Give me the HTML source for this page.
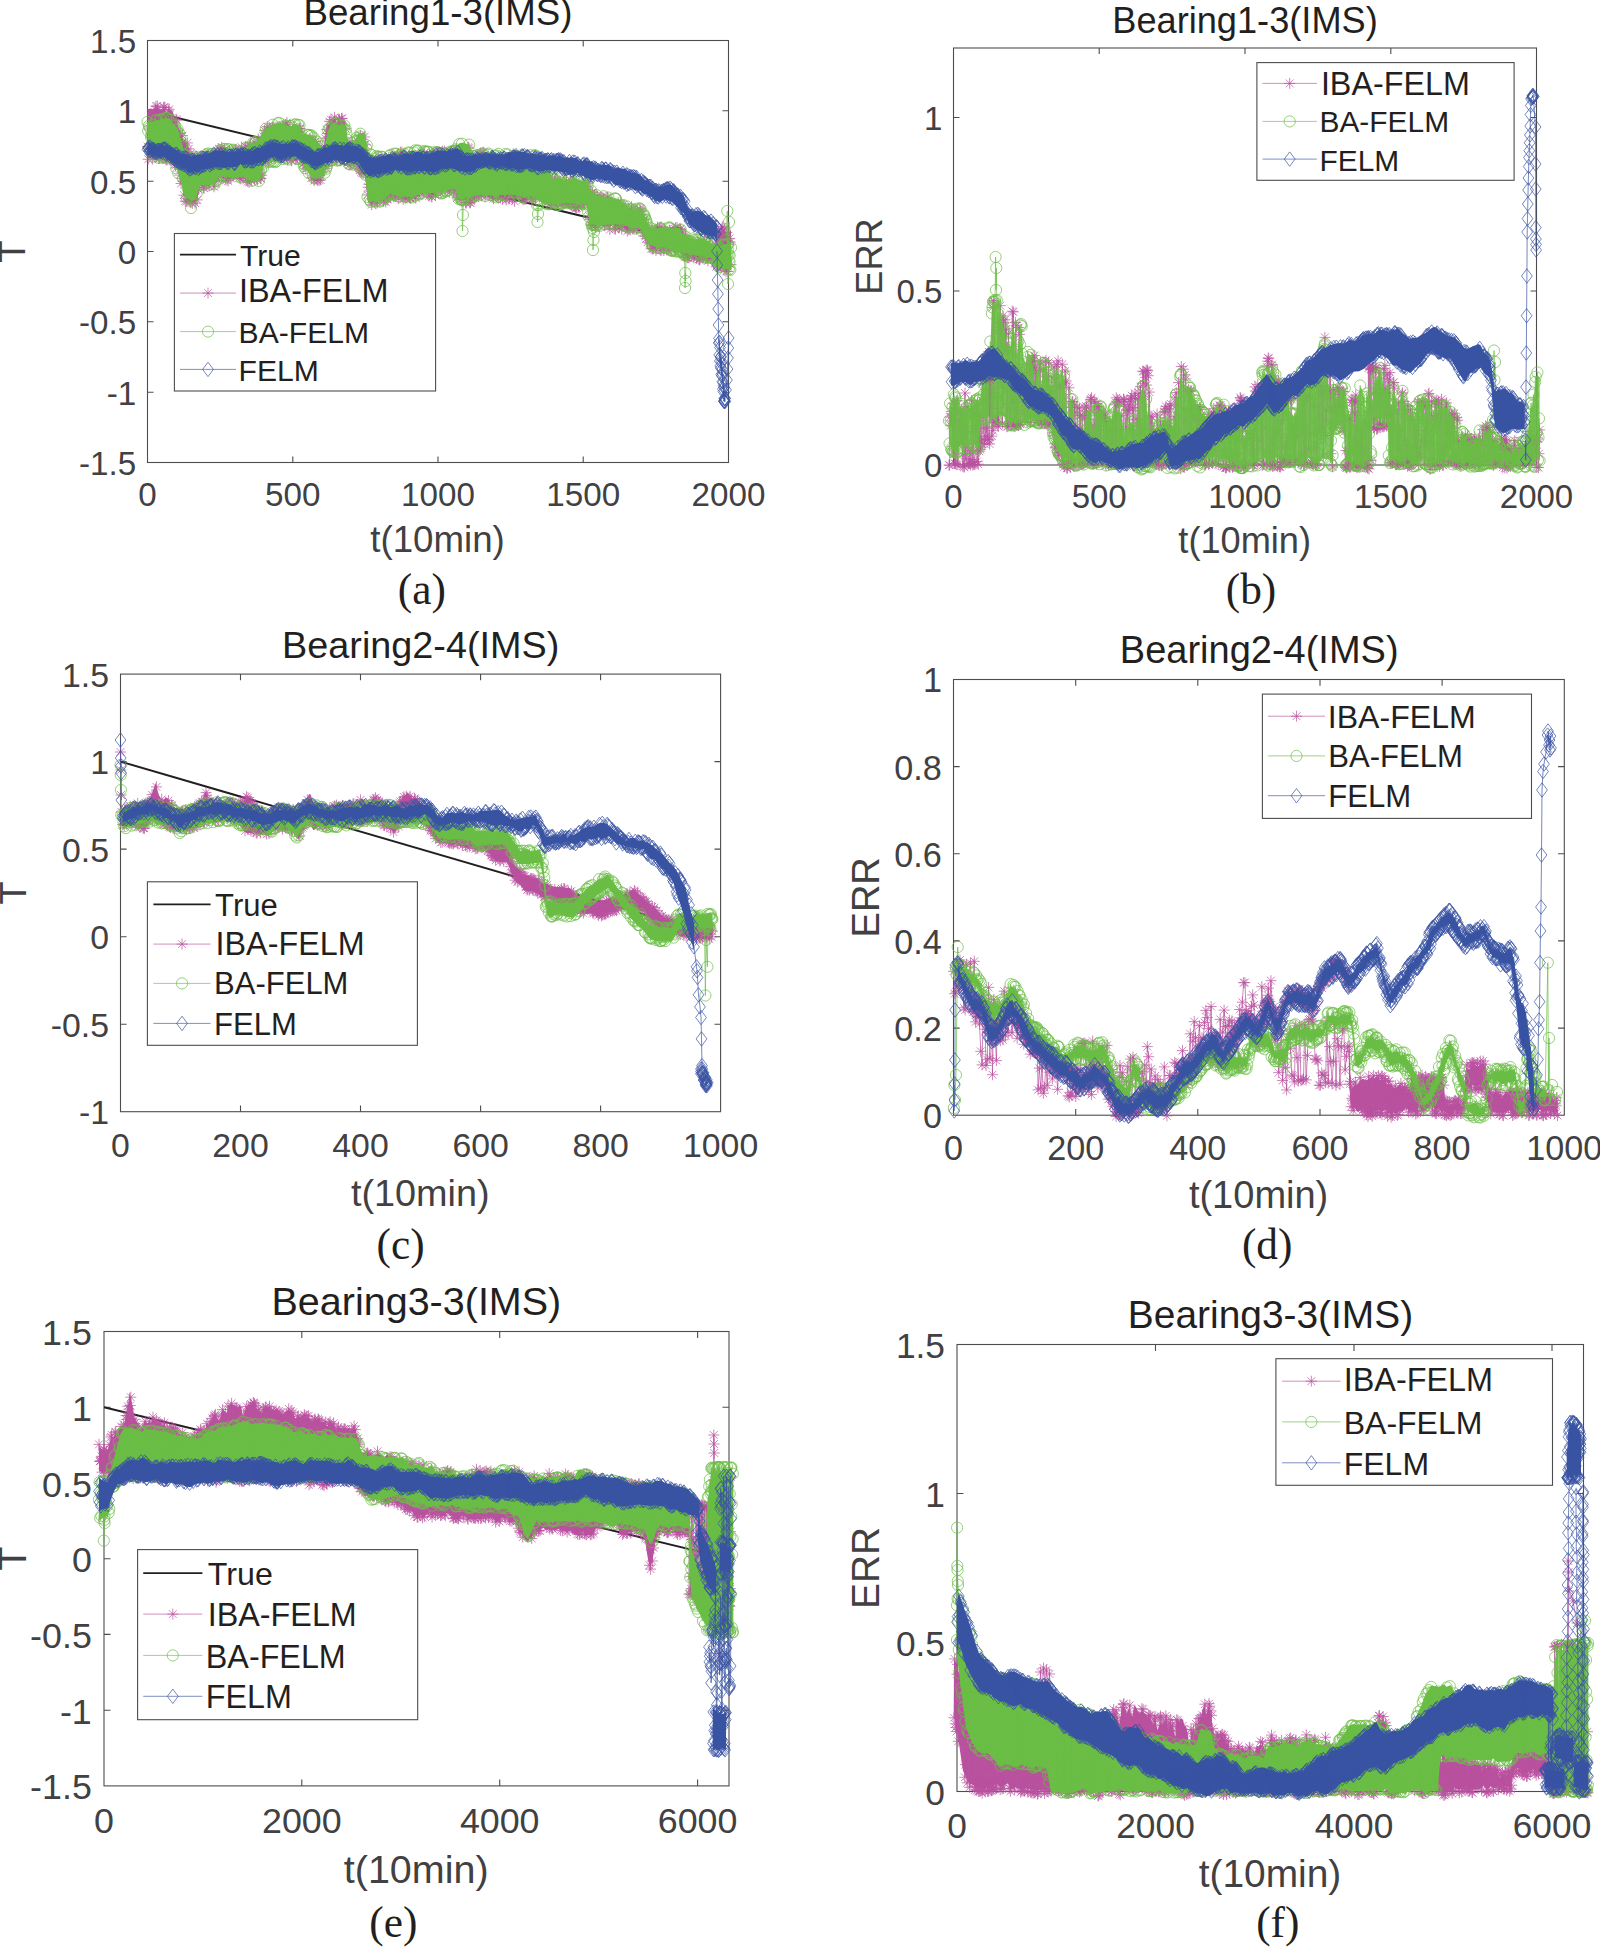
<!DOCTYPE html>
<html lang="en"><head><meta charset="utf-8"><title>Bearing RUL prediction (IMS)</title>
<style>html,body{margin:0;padding:0;background:#fff}body{width:1600px;height:1947px;overflow:hidden}svg{display:block}.a,.c,.d{fill:none;stroke-width:.7;stroke-linejoin:round}.a{stroke:#B9529F;marker:url(#mast)}.c{stroke:#6ABD45;marker:url(#mcirc)}.d{stroke:#3953A4;marker:url(#mdia)}</style></head><body>
<svg width="1600" height="1947" viewBox="0 0 1600 1947">
<defs>
<g id="ast" fill="none" stroke-width="0.7"><path d="M0 -5.5V5.5M-5.5 0H5.5M-3.9 -3.9L3.9 3.9M-3.9 3.9L3.9 -3.9"/></g>
<g id="circ" fill="none" stroke-width="0.7"><circle r="5.6"/></g>
<g id="dia" fill="none" stroke-width="0.7"><path d="M0 -7.2L5.4 0L0 7.2L-5.4 0Z"/></g>
<marker id="mast" markerUnits="userSpaceOnUse" markerWidth="20" markerHeight="20" refX="0" refY="0" viewBox="-10 -10 20 20" overflow="visible"><use href="#ast" stroke="#B9529F"/></marker>
<marker id="mcirc" markerUnits="userSpaceOnUse" markerWidth="20" markerHeight="20" refX="0" refY="0" viewBox="-10 -10 20 20" overflow="visible"><use href="#circ" stroke="#6ABD45"/></marker>
<marker id="mdia" markerUnits="userSpaceOnUse" markerWidth="20" markerHeight="20" refX="0" refY="0" viewBox="-10 -10 20 20" overflow="visible"><use href="#dia" stroke="#3953A4"/></marker>
</defs>
<rect width="1600" height="1947" fill="#fff"/>
<g id="panel-a">
<rect x="147.5" y="40.5" width="581.0" height="422.0" fill="none" stroke="#4d4d4f" stroke-width="1.1"/>
<path d="M292.8 462.5v-6.0M292.8 40.5v6.0M438.0 462.5v-6.0M438.0 40.5v6.0M583.2 462.5v-6.0M583.2 40.5v6.0M147.5 110.8h6.0M728.5 110.8h-6.0M147.5 181.2h6.0M728.5 181.2h-6.0M147.5 251.5h6.0M728.5 251.5h-6.0M147.5 321.8h6.0M728.5 321.8h-6.0M147.5 392.2h6.0M728.5 392.2h-6.0" stroke="#4d4d4f" stroke-width="1.1" fill="none"/>
<path d="M147.5 110.8L726 250.9" stroke="#231F20" stroke-width="2" fill="none"/>
<path d="M147.5 109l1.4 0 1.4-.5 1.4 .3 1.4 .6 1.4-.7 1.4-.4 1.4-.7 1.4 .4 1.4 1.2 1.4 0 1.4-.2 1.4 0 1.4 2.9 1.4 .7 1.4-1.5 1.4-.6 1.4-.6 1.4 1.9 1.4 4.1 1.4 3.2 1.4 3.6 1.4 4.5 1.4 2.8 1.4 3.4 1.4 4.4 1.4 2.6 1.4-1 1.4 3.4 1.4 3.1 1.4 5.6 1.4 3.8 1.4 4.2 1.4 2.6 1.4-.5 1.4 .2 1.4-.4 1.4-.9 1.4-1 1.4-.9 1.4-2.8 1.4-.5 1.4 .7 1.4 2.7 1.4 1.2 1.4-2.4 1.4-.7 1.4 .6 1.4 .9 1.4-2.2 1.4-3.6 1.4-2.6 1.4-.8 1.5 .4 1.4 .6 1.4 1.8 1.4 .3 1.4-.6 1.4 1.2 1.4-.2 1.4 .3 1.4-.8 1.4-.4 1.4-.1 1.4-1.6 1.4 .2 1.4 1.5 1.4-2.5 1.4-.8 1.4-.1 1.4 .2 1.4 .5 1.4-.5 1.4-.8 1.4-.9 1.4-.9 1.4-1.6 1.4-1.3 1.4-1.2 1.4-1.1 1.4-1 1.4-1.6 1.4-1.9 1.4-2.4 1.4-2.3 1.4-2.1 1.4-1.6 1.4 1.8 1.4 .6 1.4-.7 1.4-.3 1.4 .2 1.4 .1 1.4-1.6 1.4-2.3 1.4 1.2 1.4 2.2 1.4-1.4 1.4-.5 1.4-1.7 1.4-1.6 1.4 1 1.4 2.6 1.4 1.7 1.4 .7 1.4-2.3 1.4 .2 1.4 1.9 1.4 1.4 1.4-.4 1.4 5 1.4 1.5 1.4-.1 1.4 1.3 1.4 1.1 1.4 .9 1.4 1 1.4 .3 1.4-.5 1.4 1.1 1.4 1.8 1.4 .2 1.4 1.4 1.4 2.1 1.4 2.6 1.4-.5 1.4-1.3 1.4-12.4 1.4-10.3 1.4-1.8 1.4-.1 1.4-2 1.4-2.1 1.4-.5 1.4 0 1.4 3.2 1.4 .6 1.4-1.2 1.4-.7 1.4-.7 1.4 .7 1.4 .6 1.4 11.7 1.4 10.3 1.4-.5 1.4 1.3 1.4 1.7 1.4 .7 1.4-.5 1.4-.7 1.4-6.4 1.4-1.6 1.4-1.1 1.4-.2 1.4 2.1 1.4 .5 1.4 6.7 1.5 8.5 1.4 3.7 1.4 1.7 1.4 3.9 1.4-.1 1.4-2.1 1.4-1.3 1.4-2.2 1.4-.2 1.4 1.1 1.4 .1 1.4 2.6 1.4-.1 1.4-.4 1.4-.5 1.4 .5 1.4-.9 1.4-.2 1.4-1.5 1.4-1.3 1.4 1.8 1.4-.6 1.4-2.6 1.4-1.1 1.4-.2 1.4 .5 1.4 2.2 1.4 1.2 1.4-.8 1.4-.2 1.4 1 1.4 .6 1.4 0 1.4-1.9 1.4-.9 1.4-.9 1.4 1.2 1.4 .8 1.4-1.1 1.4-2.4 1.4 .3 1.4 1.1 1.4-.8 1.4 0 1.4 2.1 1.4 .3 1.4-.3 1.4-.8 1.4-.9 1.4-.7 1.4 .4 1.4 .3 1.4-.1 1.4-.6 1.4-.7 1.4-1.8 1.4-.5 1.4 1.7 1.4 3.3 1.4 1.8 1.4 .9 1.4-.5 1.4-1.9 1.4-4.3 1.4-3 1.4-1.9 1.4 2.8 1.4 2.3 1.4 .7 1.4 1.7 1.4-3.1 1.4-4.2 1.4 1.9 1.4 1.7 1.4 4.7 1.4 3.6 1.4-.8 1.4-.7 1.4 .9 1.4-.2 1.4-1.5 1.4-2.1 1.4-.4 1.4 0 1.4 2.5 1.4 2.6 1.4-1.2 1.4 .8 1.4 1.2 1.4-.8 1.4 .1 1.4 0 1.4 2.9 1.4-.1 1.4-.8 1.4-.9 1.4 1.5 1.4-.1 1.4-.7 1.4-2.8 1.4 .6 1.4 .8 1.4-1.4 1.4-2.3 1.5-.8 1.4 .7 1.4 1.7 1.4 1.4 1.4 3.9 1.4 1.1 1.4-1.9 1.4-2.2 1.4-.8 1.4 .1 1.4 2.1 1.4 1.4 1.4-2.5 1.4 .3 1.4-.6 1.4-1.8 1.4-.2 1.4 1.2 1.4 1.3 1.4 2.1 1.4 .2 1.4-.3 1.4 2.7 1.4 2 1.4 1.1 1.4 1 1.4 2.8 1.4 5.6 1.4 3.2 1.4-.7 1.4 .9 1.4 .5 1.4 1.4 1.4 2 1.4-1.1 1.4-.2 1.4-.5 1.4 0 1.4 0 1.4-.6 1.4 .1 1.4-.1 1.4-1.1 1.4-.2 1.4 0 1.4-.8 1.4 1.8 1.4 1 1.4 1.6 1.4 1.4 1.4-1.3 1.4-1.9 1.4 1.4 1.4 2.7 1.4 4.5 1.4 .6 1.4 .9 1.4 1.6 1.4-.5 1.4 .5 1.4 3 1.4 .8 1.4 .4 1.4 .6 1.4 .2 1.4 2 1.4 0 1.4-2.6 1.4 1.3 1.4 2 1.4-2.1 1.4 .1 1.4 2.2 1.4-.2 1.4 .5 1.4 1.3 1.4 .8 1.4 .4 1.4 .4 1.4 2.6 1.4 .9 1.4-.7 1.4-.9 1.4-.8 1.4 1.1 1.4 1.3 1.4 1 1.4 .8 1.4 .3 1.4 0 1.4-1 1.4 1.4 1.4 4 1.4 3.6 1.4 3.5 1.4 2.9 1.4 1.3 1.4 2 1.4 1.7 1.4-.3 1.4-.9 1.4-1.3 1.4-.7 1.4 .6 1.5 .4 1.4 .8 1.4-1.6 1.4-.8 1.4 1.9 1.4 1.2 1.4 .5 1.4 .3 1.4 1.2 1.4 .3 1.4-1 1.4-1.4 1.4-.8 1.4 .2 1.4 .2 1.4 .6 1.4 2.9 1.4 3.4 1.4 .7 1.4 .3 1.4 2.1 1.4 2.1 1.4-.6 1.4-.9 1.4 1.1 1.4 .4 1.4-1.6 1.4-1.2 1.4 2.3 1.4 1.4 1.4 .5 1.4 1.7 1.4-1.2 1.4-.6 1.4 1.4 1.4 .9 1.4 .1 1.4 1.4 1.4 0 1.4 .7 1.4-4.3 1.4-6.7 1.4-2.7 1.4-1.5 1.4-1.6 1.4-1.5 1.4-.4 1.4 1.5 1.4 1.8 1.4 2.2 1.4-2.1 1.4-1.9 .7-.7 0 40.7-.7-.7-1.4-.1-1.4-.2-1.4 0-1.4-.4-1.4-2.6-1.4-2.3-1.4-.9-1.4-.8-1.4 .9-1.4 1-1.4-3.8-1.4-2.7-1.4-1-1.4-1.1-1.4 1.9-1.4 1.4-1.4-1.5-1.4-1.6-1.4-.3-1.4-.1-1.4 1-1.4 1.1-1.4-.4-1.4-.4-1.4-.3-1.4-.3-1.4-1.2-1.4-1.3-1.4 1.2-1.4 1.2-1.4-.5-1.4-.4-1.4 .4-1.4 .1-1.4-2.5-1.4-2.5-1.4-.5-1.4-.3-1.4-.2-1.4-.1-1.4-1-1.4-1.1-1.4-.2-1.4-.1-1.4 .9-1.4 .8-1.4-.3-1.4-.4-1.4-.1-1.4-.1-1.4 .1-1.5-.1-1.4 .1-1.4 .1-1.4-.8-1.4-.9-1.4-.5-1.4-2.9-1.4-3.3-1.4-2.9-1.4-3-1.4-2.9-1.4-.7-1.4-.7-1.4-2.4-1.4-1.2-1.4 1.5-1.4 1.5-1.4-.2-1.4-.7-1.4-.1-1.4 .1-1.4 .8-1.4 .7-1.4-1.2-1.4-1.1-1.4-.2-1.4-.2-1.4-.6-1.4-1-1.4 .7-1.4 .8-1.4-1.8-1.4-1.4-1.4 1.8-1.4 1.9-1.4-.5-1.4-.8-1.4-1.4-1.4-1.5-1.4-.2-1.4-.1-1.4 .3-1.4 .4-1.4 1-1.4 .9-1.4-.4-1.4-.6-1.4-1.4-1.4-1.3-1.4-8.8-1.4-9.9-1.4-1.7-1.4 1-1.4-.3-1.4-.3-1.4 1.5-1.4 1.7-1.4 .3-1.4 .2-1.4-1.2-1.4-1.5-1.4 0-1.4 .1-1.4-1.1-1.4-1.3-1.4 .9-1.4 .9-1.4-.6-1.4-.2-1.4 .6-1.4 .7-1.4 .9-1.4 .5-1.4-1.3-1.4-1.5-1.4-.3-1.4 .3-1.4 1.5-1.4 .9-1.4-2.5-1.4-2.6-1.4 .5-1.4 .7-1.4-.6-1.4-.7-1.4-.5-1.4-.6-1.4-1.1-1.4-.5-1.4 .9-1.4 .7-1.4-.6-1.4-.9-1.4 .3-1.4 .6-1.4 0-1.4 .3-1.4-.7-1.4-1-1.4 1.6-1.4 1.6-1.4 .1-1.4 .1-1.4-.9-1.5-.9-1.4 0-1.4 0-1.4 .6-1.4 .5-1.4 0-1.4-.1-1.4-1.4-1.4-.9-1.4 .3-1.4 .5-1.4 .5-1.4 .4-1.4-.9-1.4-.8-1.4 .8-1.4 .7-1.4-.6-1.4-.9-1.4-.8-1.4-.9-1.4 1.4-1.4 1.6-1.4-1.2-1.4-1.4-1.4 .5-1.4 .8-1.4-.2-1.4 .3-1.4 3.1-1.4 3.2-1.4-.2-1.4-.7-1.4-1.1-1.4-1.1-1.4-1-1.4-.8-1.4-.1-1.4-.1-1.4-1.3-1.4-2.8-1.4-2.6-1.4-.1-1.4 .4-1.4 0-1.4 1-1.4 .5-1.4-2.6-1.4-2.2-1.4 1.8-1.4 2.5-1.4-.3-1.4-.5-1.4 1.6-1.4 1.1-1.4 .8-1.4 .8-1.4-.3-1.4-.4-1.4-1-1.4-1.4-1.4-1.7-1.4-1.1-1.4 1-1.4 1.6-1.4 2.1-1.4 1.9-1.4 .4-1.4 .4-1.4-.9-1.4-1-1.4 1.2-1.4 .9-1.4-1.1-1.4-1.1-1.4 .6-1.4 1-1.4 .4-1.4 .7-1.4 .3-1.4 .2-1.4-1.7-1.4-2-1.4 .3-1.4 .6-1.4-.1-1.4-.2-1.4 .5-1.4 1.9-1.4 1.4-1.4 1.6-1.4 0-1.4-.7-1.4 1.2-1.4 1-1.4-.5-1.4-.6-1.4 .8-1.4 .9-1.4 0-1.4 .1-1.4 .6-1.4 .5-1.4-5.8-1.5-13.8-1.4-10.4-1.4-1.9-1.4-.7-1.4-1.1-1.4-3.1-1.4-3.1-1.4-2.1-1.4-.7-1.4-.4-1.4-.3-1.4 1.6-1.4 1.4-1.4 .2-1.4-1.8-1.4-4-1.4-1.7-1.4 1.7-1.4 1.4-1.4-.8-1.4-.7-1.4-1-1.4-.8-1.4 .9-1.4 .8-1.4 .8-1.4 1.1-1.4 1.4-1.4 2.1-1.4 6.3-1.4 6.1-1.4 1-1.4 .9-1.4 1.3-1.4-.2-1.4-.3-1.4-.3-1.4 1-1.4 1-1.4-1.7-1.4-2.9-1.4-2.9-1.4-3-1.4-1.8-1.4-2.3-1.4-2.9-1.4-3.1-1.4-3.8-1.4-1.3-1.4 1.3-1.4 1.7-1.4 1.3-1.4 1.1-1.4-.2-1.4-.5-1.4-.4-1.4-.5-1.4-.1-1.4-.2-1.4-.8-1.4-.9-1.4 .1-1.4 .4-1.4-.9-1.4-.9-1.4 .6-1.4 .4-1.4 0-1.4-.2-1.4 1.6-1.4 2.6-1.4 0-1.4 .6-1.4 4.2-1.4 7.5-1.4 5.3-1.4 2.8-1.4-1.5-1.4-1.5-1.4 .6-1.4 1.5-1.4-.4-1.4-.2-1.4 1.3-1.4 .8-1.4-1.2-1.4-1.8-1.4-2.3-1.4-1.5-1.4 1.7-1.4 1.3-1.4-2.4-1.4-2.4-1.4-.1-1.4 .5-1.4 1.8-1.4 1.8-1.4 1.9-1.4 1.2-1.4-.4-1.4-.5-1.4-1.2-1.4-1.2-1.4 .6-1.5 .9-1.4 .8-1.4 1.9-1.4 3.2-1.4 2.3-1.4-.8-1.4-.8-1.4 .1-1.4 .5-1.4 1.1-1.4 1.1-1.4-.1-1.4-.4-1.4 0-1.4-.2-1.4 3.4-1.4 6.5-1.4 4.7-1.4 1.3-1.4-.1-1.4-.2-1.4-.4-1.4-.1-1.4-.5-1.4-.6-1.4-.8-1.4-5.5-1.4-6-1.4-6.1-1.4-5.7-1.4-4.1-1.4-4.1-1.4-4.1-1.4-2.5-1.4-2.3-1.4-1.5-1.4 .4-1.4 .2-1.4 0-1.4-.8-1.4-.9-1.4-.7-1.4-.7-1.4 .8-1.4 .9-1.4-.8-1.4-1-1.4 1.1-1.4 1.2-1.4-.6-1.4-.5-1.4 .9-1.4 .7z" fill="#B9529F"/>
<path d="M147.5 146.5l.7 12.8 .7-7.8 .7-22.5 .7 24.3 .7-19.8 .7 20.2 .7 5.4 .7-5 .7-16.2 .7-15.9 .7-12.5 .7-3.2 .7 19.7 .7-20.1 .7 12.1 .7 40.4 .7 .1 .7-2.3 .7-5.6 .7-3.4 .7 9.2 .7-3.6 .7-45.4 .7-.3 .7 .4 .7 51.6 .7 .8 .7-8.9 .7 8.8 .7-48.9 .7-1.6 .7 50.1 .7-.7 .7-40.5 .7 40.2 .7-39 .7 10.2 .7-7.6 .7 42.2 .7 .9 .7-45.9 .7 1.1 .7 17.7 .7 29.6 .7-34.5 .7 42 .7-41.8 .7 50.2 .7-40.2 .7-7.7 .7 45.8 .7 13.8 .7-21.6 .7 27.5 .7-20.2 .7 20.7 .7-58.7 .7 31.9 .7-26 .7 15.7 .7 37.9 .7-49.3 .7 13.8 .7 36.4 .7-43.7 .7 1.5 .7 31.9 .7 10.1 .7-35.5 .7 19.8 .7 12.5 .7-20.7 .7 10.3 .7-13.9 .7-12.8 .7-.6 .7 2.1 .7 16.9 .7 .2 .7 6.5 .7 .1 .7-33.9 .7 24.8 .7 5.6 .7-29.8 .7 2.1 .7 13.9 .7 15.2 .7-28.7 .7 14.8 .7-10 .7-7.3 .7 .2 .7 16.9 .7 15 .7-30 .7-1.6 .7-.8 .7 22.8 .7-26.7 .7 30.1 .7-31.9 .7 23.4 .7-20.8 .8 19.6 .7-23.6 .7 4.5 .7 26 .7-27.4 .7 .2 .7 21.6 .7 8 .7-23.7 .7 22.3 .7 2.1 .7-11.6 .7-18.6 .7 1.1 .7 26.4 .7-11.3 .7-4.2 .7 12.7 .7-.9 .7-.2 .7-24.4 .7-.6 .7 24.3 .7 .2 .7-7.6 .7-12.6 .7 24.5 .7-18.1 .7 18.8 .7-31.8 .7 28.5 .7-21.5 .7 22.4 .7-19.2 .7 12.4 .7-22.9 .7 33.7 .7-32.8 .7 34 .7-33.6 .7 34.4 .7-37 .7 .5 .7 34.4 .7-31.3 .7 4.2 .7 15.2 .7-26.3 .7 37.9 .7-24.3 .7-7.1 .7 30.3 .7 1 .7-40.9 .7 34.2 .7-22.6 .7 27.5 .7 .6 .7-3.5 .7-32 .7-7 .7 9 .7-14.8 .7 31.5 .7-.3 .7-18.1 .7-16.9 .7 35.1 .7-1.4 .7-32.5 .7 16.5 .7-15.9 .7 29 .7-30 .7 .1 .7 13.8 .7 16.2 .7-30.2 .7 16.8 .7 12 .7-29.2 .7 29.4 .7 1.4 .7-7.1 .7-5.5 .7-6.7 .7 18.8 .7-18.5 .7-11.5 .7-1.5 .7 33.4 .7-29.2 .7-5.5 .7 7.3 .7-9.3 .7 37.5 .7-13.1 .7-.5 .7 8.4 .7-17.7 .7 23.2 .7 .5 .7-9.6 .7 4.7 .7-29.2 .7 18.5 .7 14.5 .7-16.2 .7 15 .7-.9 .7-25.8 .7-3.1 .7 .3 .7-.2 .7 15.8 .7-10.3 .7 2.1 .7 27.7 .7-17.2 .7-4 .7 3.3 .7 22.8 .7-4.1 .7-13.3 .7 8 .7 7.8 .7-28.4 .7 8.9 .7-8.6 .7 38.8 .7-33.6 .7 12.5 .7-.9 .7 24.7 .7-39.1 .7-.1 .7 37.9 .7-33 .7 34.2 .7-19.3 .7 19.1 .7-5.3 .7 4.8 .7-7.7 .7-12.1 .7 4.4 .7-13.1 .7-5.3 .7 2.7 .7-10.6 .7 30.1 .7-38.9 .7 4 .7 29.3 .7-.5 .7-40.8 .7 11.9 .7-13.6 .7 40.3 .7-1.1 .7-24.2 .7-1.2 .7-16.3 .7 25.4 .7 14.7 .7 1.5 .7-5.7 .7-25.6 .7-7.4 .7-.7 .7 40.8 .7 .6 .7-42.4 .7 0 .7 32.9 .7-3.4 .7 10.1 .7-7.3 .7-21.9 .7 15.5 .7-.5 .7-2 .7 5.1 .7 18.3 .7-4.5 .7 2.8 .7-.5 .7-13.1 .7-5 .7 3.5 .7 6.2 .7-7.1 .7-2.9 .7 18.9 .7-23 .7 5.8 .7 19.7 .7 2.2 .7 1.9 .7-34.8 .7 36.4 .7 1.3 .7-31.3 .7 31.7 .7-24.2 .7-12.2 .7 7.7 .7 14.9 .8-2.2 .7 37.5 .7-7.7 .7-2.9 .7-27.2 .7 22 .7-.7 .7 26.3 .7-18.2 .7-24.1 .7 17.5 .7 6.4 .7-20.9 .7 38.2 .7-32.4 .7 31.5 .7-5.7 .7-40.6 .7 10.8 .7 20.3 .7 8.3 .7-15.4 .7-19.4 .7 28.7 .7 11.6 .7-18.9 .7-14.9 .7 34.6 .7-43.4 .7 20.5 .7 20.4 .7-9.3 .7 4.8 .7-31.3 .7 33.6 .7-39.6 .7 32.9 .7-34.6 .7 40.5 .7-3.1 .7-37 .7 39.9 .7-10.6 .7-29.2 .7-1.5 .7 43.4 .7-32.9 .7 20.1 .7-33.6 .7 22.4 .7-22.4 .7 29.3 .7 18 .7-13.9 .7-14.3 .7 27.2 .7-42.2 .7 33.9 .7-15.9 .7 20.6 .7 2.1 .7 .8 .7 .3 .7 .4 .7-22.4 .7-3.2 .7 8.2 .7-23.8 .7 9 .7 30.1 .7 1.9 .7-34.1 .7-5 .7 6.1 .7 4.4 .7 22.3 .7-13.8 .7-23.5 .7-1.9 .7 40.9 .7-27.9 .7 25.2 .7-38 .7 13.9 .7-1.8 .7 11.7 .7 16.2 .7-24.1 .7 11.8 .7 15.4 .7-41.5 .7 27.8 .7 13.8 .7 1 .7-43.5 .7 3.3 .7-3.2 .7 31.8 .7 10 .7-9.3 .7-33.9 .7 .7 .7 36.9 .7-37.3 .7 21.7 .7-21.2 .7 40.7 .7-41.6 .7-1 .7 11.7 .7-2.6 .7-9.1 .7 39 .7-21.6 .7-14.8 .7 3.3 .7 17.3 .7 4.1 .7 13.8 .7-36.6 .7 .9 .7 26 .7-25.7 .7-1.1 .7 35.8 .7-4.5 .7-34.5 .7-2.8 .7-.8 .7 48.8 .7-4.4 .7-17.5 .7 18.7 .7 4.9 .7-37.3 .7 37.2 .7-31.3 .7 5 .7-21 .7 .6 .7 19.3 .7 30.7 .7 .3 .7-44.6 .7 15.7 .7-26.9 .7 1 .7 54.4 .7 .3 .7-1.7 .7-19.6 .7 16.3 .7-10 .7-31.9 .7 42 .7-24.4 .7-.9 .7 24.1 .7-39.3 .7 11.9 .7 27.2 .7-13.9 .7-28.5 .7-1.1 .7 42.7 .7-42.9 .7 32.9 .7-33.7 .7 19.2 .7 25.6 .7-37.7 .7 16 .7-2.6 .7 2.2 .7-18.8 .7 3.7 .7-.8 .7 21.6 .7-23.1 .7 39.9 .7-1.9 .7 3.3 .7-5.8 .7-34.8 .7 1.7 .7 15.2 .7 21.6 .7-9.6 .7 11 .7-38 .7-.8 .7 38.7 .7-38.9 .7 21.3 .7 19.1 .7-25.1 .7 5 .7-6.6 .7-5 .7 32.2 .7-32.5 .7-9.8 .7 41.5 .7-15.6 .7 15.1 .7-22.6 .7-10.5 .7-7 .8 40.4 .7-45.1 .7 26 .7 21.5 .7-10.9 .7-30.5 .7 6.2 .7-8.6 .7 5.8 .7 20.1 .7 12.5 .7-20.8 .7 12.7 .7 10.2 .7-28.4 .7 30.2 .7-31.9 .7 31.3 .7-41.8 .7 41.8 .7-.5 .7-33.2 .7 27.5 .7-11.7 .7-.7 .7 15.5 .7-27.6 .7-9 .7 39.5 .7-.1 .7-.9 .7-20.6 .7-6.7 .7 27.2 .7-40.6 .7 2.7 .7 1.8 .7 1.5 .7 8.8 .7-9.3 .7 .8 .7-2.4 .7 27.8 .7 4.4 .7-29.1 .7 5.8 .7 7.3 .7-5.3 .7 8.7 .7-11.8 .7 19.3 .7 .8 .7-21.2 .7 36.8 .7-.9 .7-1.9 .7 .2 .7-22.9 .7 16.5 .7-1.8 .7-13.4 .7 23.9 .7-25.1 .7 26.3 .7-25.9 .7 18.6 .7-2.5 .7 5.3 .7-18.9 .7 22 .7-13.4 .7 12.9 .7-21.5 .7 21.4 .7-14.9 .7 3.1 .7 11.8 .7-22.5 .7 21.6 .7-14.8 .7 14.9 .7 1 .7 .3 .7-23.5 .7 24.5 .7-8.2 .7-3.8 .7-13.2 .7 25.8 .7 .9 .7 .7 .7 .5 .7 .1 .7-6 .7 4.9 .7 .5 .7-6.9 .7 1.3 .7-17.5 .7 20.1 .7-17.5 .7 16.9 .7-.4 .7 .6 .7-21.7 .7 4.2 .7-2.8 .7 16.4 .7-2 .7 17.5 .7 4.1 .7-29.4 .7 34.7 .7 .6 .7-32.8 .7 19.5 .7-1.4 .7-15.9 .7 33 .7-.7 .7-16.2 .7-15.1 .7 9.2 .7 20.3 .7-11.1 .7-4.1 .7-12 .7-.2 .7 10.6 .7-10.9 .7 1.6 .7 26.5 .7-.3 .7-7.8 .7-14.2 .7-6.2 .7 .1 .7 12.3 .7 8.8 .7 11.1 .7-12.9 .7-2.4 .7-6.8 .7-2.7 .7 17.9 .7-17.9 .7 23.6 .7 .9 .7-22.2 .7-2 .7 3.9 .7-6.2 .7 25 .7-.9 .7-13.8 .7-9.3 .7 25.2 .7-13.3 .7-10.5 .7 16.3 .7-7.7 .7-4.7 .7 3.4 .7 14.6 .7 3.9 .7-14.4 .7 13 .7-12.3 .7 12.4 .7-15.3 .7-7.6 .7 19.3 .7 3 .7-2.4 .7 .6 .7-14.4 .7 2.8 .7 13.4 .7-19.1 .7 17.7 .7-.5 .7-5 .7-13.3 .7 1.9 .7 7.5 .7-3.9 .7 18.5 .7-13.6 .7 .6 .7 13 .7 3.3 .7 2.5 .7-6.1 .7 9.5 .7-16.3 .7 5.4 .7 12.1 .7-4.4 .7 9.8 .7-19.6 .7 19.2 .7 .6 .7-15.2 .7 7.7 .7 3.7 .7 5.3 .7-12.5 .7-10.9 .8 10.8 .7-5.3 .7-5 .7 22.8 .7-23.6 .7 23.5 .7-8.7 .7-6.1 .7 15.1 .7-20.8 .7 14.3 .7-2.9 .7 8.8 .7-15.9 .7 16.1 .7-17.4 .7-2.6 .7 .4 .7 18.7 .7-12.6 .7 6.6 .7-3.9 .7-8.3 .7 20.2 .7-22.4 .7-1.4 .7 10.8 .7-10.5 .7 18.5 .7-2.2 .7-.7 .7-14.5 .7 .6 .7 1.9 .7 1.6 .7 3.9 .7 18.4 .7-6.5 .7 8.1 .7-21.1 .7 21.3 .7-11 .7 11.6 .7 .3 .7-9.9 .7 9.1 .7-13.1 .7 1.6 .7 10.3 .7-8 .7 .2 .7 9.7 .7-3.1 .7-2.5 .7-8.6 .7 14.8 .7-6 .7 .2 .7 6.6 .7 .7 .7-.8 .7-17.7 .7 4.8 .7-.1 .7 10.9 .7-14.5 .7-1 .7 14.2 .7 2.8 .7-2.6 .7-2.4 .7 7.4 .7-7.9 .7-7.5 .7 3.3 .7 9 .7 .2 .7-6 .7-6.4 .7 9.8 .7 4.6 .7-15.7 .7 5.9 .7 16.5 .7-1.5 .7-.1 .7-34 .7 23.1 .7-11.1 .7 22.4 .7-36.7 .7 37.2 .7-39.3 .7 39.6 .7 4 .7-42.1 .7 32.6 .7 10.7 .7-39 .7 34 .7 4.9 .7-27.1 .7-5.9 .7 3.6 .7 22.6" class="a"/>
<path d="M147.5 122l1.4 0 1.4 0 1.4-.2 1.4-.4 1.4-.4 1.4-.4 1.4-.2 1.4-.4 1.4-.7 1.4-.6 1.4-.1 1.4-.2 1.4-.2 1.4 0 1.4 .2 1.4 .6 1.4 2.1 1.4 1.8 1.4 1.7 1.4 1.6 1.4 1.7 1.4 2.8 1.4 5.2 1.4 5.3 1.4 4.9 1.4 4.7 1.4 3.8 1.4 .8 1.4 .6 1.4 .4 1.4 .2 1.4 .2 1.4 0 1.4 0 1.4-.1 1.4-.2 1.4 0 1.4 .1 1.4-.2 1.4-.9 1.4-1.1 1.4-.7 1.4-.1 1.4 .2 1.4 .3 1.4 .2 1.4 0 1.4 .1 1.4-2.7 1.4-2.7 1.4 .3 1.4 1.2 1.5 0 1.4-1 1.4-1.2 1.4-.6 1.4 .6 1.4 1.1 1.4 .9 1.4 0 1.4-.9 1.4-1.1 1.4-.6 1.4 .4 1.4 .9 1.4 .7 1.4 .1 1.4-.5 1.4-.7 1.4-.8 1.4-1.2 1.4-1.2 1.4-1.2 1.4-1 1.4-.5 1.4-.2 1.4-.5 1.4-1.2 1.4-1.9 1.4-1.7 1.4-1.9 1.4-2.3 1.4-2.4 1.4-1.7 1.4-1 1.4-.4 1.4-.7 1.4-.8 1.4-.8 1.4-.7 1.4-.4 1.4-.4 1.4-.8 1.4-.6 1.4-.1 1.4 1 1.4 1.2 1.4 .6 1.4 .2 1.4 .3 1.4 .4 1.4 .3 1.4-.6 1.4-1 1.4-.5 1.4 .2 1.4 .4 1.4 .3 1.4 .8 1.4 6 1.4 1.6 1.4 .2 1.4 .5 1.4 .5 1.4 .3 1.4 .1 1.4 .3 1.4 1.3 1.4 1.7 1.4 1.3 1.4 1.2 1.4 1.5 1.4 2.2 1.4 1.3 1.4 1.3 1.4 .6 1.4-5.4 1.4-6.3 1.4-5.8 1.4-2.7 1.4-2.5 1.4-1.9 1.4-.3 1.4 .2 1.4 .9 1.4 .9 1.4 .3 1.4-.2 1.4-.3 1.4 0 1.4 .5 1.4 8 1.4 8 1.4 .8 1.4 .1 1.4 .1 1.4-.1 1.4-.3 1.4-1.3 1.4-5.8 1.4-1.4 1.4-.1 1.4 0 1.4 0 1.4-.1 1.4 6.9 1.5 9.4 1.4 4 1.4 .8 1.4 1 1.4 .5 1.4 .2 1.4 .3 1.4 .3 1.4 .1 1.4 .1 1.4 .2 1.4 .4 1.4 .2 1.4-.4 1.4-.6 1.4-.5 1.4-.9 1.4-.7 1.4-.5 1.4-.4 1.4-.3 1.4-.3 1.4-.2 1.4 .3 1.4 .4 1.4 .1 1.4-.1 1.4-.2 1.4-.2 1.4-.2 1.4-.8 1.4-.8 1.4-.5 1.4 0 1.4 .1 1.4 .1 1.4 0 1.4 .1 1.4 .1 1.4 0 1.4 .1 1.4 .3 1.4 .2 1.4 .1 1.4 .3 1.4 .4 1.4 .2 1.4-.1 1.4-.2 1.4-.1 1.4 .2 1.4-.3 1.4-.5 1.4-.3 1.4 .4 1.4 1 1.4 .7 1.4-.1 1.4-.8 1.4-.7 1.4-.5 1.4 0 1.4-.1 1.4-1.7 1.4-3.1 1.4-2.5 1.4-.8 1.4-.4 1.4 0 1.4 .4 1.4 .5 1.4 .4 1.4 .4 1.4 .3 1.4 5.4 1.4 4.4 1.4 .7 1.4 .4 1.4-.1 1.4-.9 1.4-1 1.4-.5 1.4 .3 1.4 .6 1.4 .6 1.4 0 1.4-.4 1.4-.6 1.4-.3 1.4 .4 1.4 .8 1.4 .6 1.4 .1 1.4-.7 1.4-.9 1.4-.4 1.4 .3 1.4 .4 1.4 .4 1.4 .1 1.4 .2 1.4 .2 1.4 .2 1.4 .3 1.5 .6 1.4 .4 1.4 0 1.4-.6 1.4-.7 1.4-.3 1.4 .4 1.4 .8 1.4 .6 1.4 .1 1.4-.3 1.4-.5 1.4-.3 1.4-.1 1.4-.1 1.4 0 1.4 0 1.4 1 1.4 1.4 1.4 1.3 1.4 1.5 1.4 1.8 1.4 1.8 1.4 1.1 1.4 .6 1.4 .3 1.4 2.5 1.4 5.9 1.4 4.6 1.4 .6 1.4-.1 1.4-.9 1.4-1.1 1.4-.4 1.4 .7 1.4 1.3 1.4 1.1 1.4 .2 1.4-.5 1.4-.7 1.4-.4 1.4-.1 1.4-.4 1.4-.3 1.4 0 1.4 .6 1.4 .9 1.4 .4 1.4 .2 1.4 .4 1.4 .3 1.4-.1 1.4-1 1.4 .2 1.4 4.5 1.4 4.7 1.4 1.2 1.4 1 1.4 1 1.4 1.3 1.4 1.5 1.4 1.1 1.4 .4 1.4-.2 1.4 0 1.4 .3 1.4 .4 1.4 .3 1.4 .4 1.4 .2 1.4 0 1.4-.1 1.4 .2 1.4 .2 1.4 .3 1.4 .2 1.4 .8 1.4 1.4 1.4 1.4 1.4 1 1.4 1.4 1.4 1.5 1.4 1.2 1.4 .8 1.4 .6 1.4 .5 1.4 .2 1.4-.4 1.4-.5 1.4-.2 1.4-.1 1.4 .6 1.4 2 1.4 2.7 1.4 3.2 1.4 3.2 1.4 2.6 1.4 2.6 1.4 2.2 1.4 .7 1.4 .1 1.4 0 1.4 0 1.4 0 1.5-.2 1.4-.3 1.4-.3 1.4 0 1.4-.4 1.4-.4 1.4-.1 1.4 .5 1.4 .6 1.4 .6 1.4 .1 1.4-.1 1.4-.1 1.4-.2 1.4 0 1.4 .1 1.4 3.4 1.4 3.6 1.4 .7 1.4-.3 1.4 0 1.4 .6 1.4 1.2 1.4 1.1 1.4 .3 1.4 .3 1.4 .3 1.4 .3 1.4-.2 1.4-.7 1.4-.6 1.4 .3 1.4 .5 1.4 .5 1.4 .5 1.4 .9 1.4 1.4 1.4 1.2 1.4 .5 1.4-.3 1.4-.5 1.4 0 1.4 .9 1.4 1 1.4 .7 1.4-.1 1.4-.7 1.4-.8 1.4-.5 1.4 0 1.4 .1 1.4 0 .7 0 0 25.7-.7-.1-1.4 0-1.4-.1-1.4-.3-1.4-.5-1.4-.6-1.4-.5-1.4-.2-1.4 .2-1.4-.4-1.4-2.8-1.4-3.3-1.4-2.4-1.4-.6-1.4-.4-1.4 .1-1.4 .1-1.4-.1-1.4-.4-1.4-.4-1.4-.5-1.4-.4-1.4-.1-1.4-.1-1.4-.2-1.4-.5-1.4-.5-1.4-.3-1.4-.1-1.4-.4-1.4-.6-1.4-.1-1.4 .3-1.4 .3-1.4-.2-1.4-1.3-1.4-.8-1.4 .5-1.4 0-1.4-.4-1.4-.4-1.4-.3-1.4-.3-1.4-.9-1.4-1.1-1.4-.6-1.4-.2-1.4 0-1.4-.1-1.4-.1-1.4 .2-1.4 .4-1.5 .1-1.4-.7-1.4-1.1-1.4-.9-1.4-.3-1.4 .5-1.4-1.2-1.4-2.3-1.4-3.1-1.4-3.1-1.4-3-1.4-2.2-1.4-1.9-1.4-.8-1.4 0-1.4 .1-1.4 .3-1.4 .2-1.4-.2-1.4-.6-1.4-.7-1.4-.6-1.4-.6-1.4-.6-1.4-.6-1.4-.4-1.4-.2-1.4 .1-1.4 0-1.4 0-1.4 .1-1.4 .1-1.4 0-1.4 .1-1.4 .2-1.4 0-1.4 0-1.4 0-1.4 0-1.4 .3-1.4 .6-1.4 .7-1.4 .2-1.4-.5-1.4-.8-1.4-.7-1.4-.2-1.4 .2-1.4 .3-1.4-7.8-1.4-9.5-1.4-3.1-1.4-.5-1.4-.3-1.4 .2-1.4 .4-1.4 .1-1.4-.2-1.4-.5-1.4-.4-1.4-.1-1.4 0-1.4 0-1.4 0-1.4-.3-1.4-.3-1.4-.1-1.4 .2-1.4 .8-1.4 .8-1.4 .5-1.4 0-1.4-.3-1.4-.3-1.4 0-1.4-.4-1.4 0-1.4 .3-1.4 .2-1.4 .1-1.4 0-1.4-.7-1.4-.8-1.4-.8-1.4-.8-1.4-1.1-1.4-1.3-1.4-1.1-1.4-.2-1.4-.4-1.4-.6-1.4-.3-1.4 .2-1.4 .7-1.4 .6-1.4 0-1.4-.4-1.4-.6-1.4-.4-1.4-.3-1.4-.4-1.4-.3-1.4-.1-1.4-.5-1.5-.6-1.4-.4-1.4 .1-1.4 .6-1.4 .6-1.4-.1-1.4-.1-1.4-.1-1.4 .3-1.4 .7-1.4 1-1.4 .8-1.4 .2-1.4-.9-1.4-1.1-1.4-.6-1.4 .1-1.4 .2-1.4 .2-1.4-.1-1.4-.3-1.4-.4-1.4 0-1.4 .2-1.4 .3-1.4 .3-1.4 .1-1.4 .2-1.4 .1-1.4 1.5-1.4 1.7-1.4-1-1.4-.8-1.4-.3-1.4 .8-1.4 1.3-1.4 .7-1.4-.4-1.4-.9-1.4-3.4-1.4-4.3-1.4-2.1-1.4 0-1.4 .1-1.4 .4-1.4 .6-1.4 .7-1.4 .6-1.4 .9-1.4 .9-1.4 .5-1.4-.2-1.4-.7-1.4-.6-1.4 0-1.4 .4-1.4 .4-1.4 .3-1.4 .1-1.4 .3-1.4 .3-1.4 .2-1.4-.2-1.4-.4-1.4-.1-1.4 .4-1.4 .7-1.4 .5-1.4 .3-1.4 .8-1.4 .9-1.4 .5-1.4-.1-1.4-.3-1.4-.3-1.4-.1-1.4 0-1.4 0-1.4-.1-1.4-.1-1.4 0-1.4-.1-1.4-.2-1.4-.6-1.4-.9-1.4-.5-1.4-.3-1.4-.3-1.4 1.4-1.4 1.7-1.4 1.9-1.4 1-1.4 .2-1.4 .6-1.4 .9-1.4 .8-1.4 .1-1.4-.3-1.4-.4-1.4-.1-1.4 .2-1.4 .2-1.4 .2-1.4-5.2-1.5-13.7-1.4-10.8-1.4-1.9-1.4-1.7-1.4-1.7-1.4-1.7-1.4-1.4-1.4 .4-1.4 .4-1.4 .1-1.4-.2-1.4-.3-1.4-.3-1.4-.4-1.4-2.8-1.4-2.9-1.4-.1-1.4 .6-1.4 .9-1.4 .9-1.4 .2-1.4 0-1.4-.3-1.4-.3-1.4-.2-1.4 1-1.4 1.6-1.4 1.5-1.4 3.3-1.4 3.9-1.4 3.8-1.4 1.4-1.4 1.1-1.4 .9-1.4 .1-1.4 .1-1.4 .2-1.4 .1-1.4 0-1.4-1.1-1.4-2.4-1.4-2-1.4-1.8-1.4-1.8-1.4-2.2-1.4-2.4-1.4-2-1.4-2.1-1.4-.8-1.4-.8-1.4-.7-1.4-.3-1.4 .3-1.4 .4-1.4 .4-1.4-.1-1.4-.2-1.4-.1-1.4-.1-1.4 0-1.4 .2-1.4 .4-1.4 .6-1.4 .8-1.4 .7-1.4 .5-1.4 0-1.4-.3-1.4-.3-1.4 .2-1.4 .2-1.4 0-1.4 .5-1.4 2.2-1.4 6.4-1.4 6.4-1.4 4.1-1.4 .3-1.4 .2-1.4 .2-1.4-.3-1.4-.6-1.4-.6-1.4-.2-1.4-.1-1.4-1.4-1.4-1.9-1.4-.6-1.4 .4-1.4 .3-1.4 .1-1.4 .1-1.4 .1-1.4-.1-1.4 0-1.4 0-1.4 .1-1.4 .1-1.4-.3-1.4-.4-1.4-.1-1.4 0-1.4-.2-1.4-.1-1.5 0-1.4 .3-1.4 1.4-1.4 3.6-1.4 2.8-1.4 .2-1.4 .1-1.4 .2-1.4 .1-1.4 .2-1.4 .2-1.4 .1-1.4-.1-1.4-.1-1.4 .1-1.4 2.5-1.4 5.1-1.4 5.1-1.4 2-1.4 .4-1.4 .2-1.4-.3-1.4-.8-1.4-.9-1.4-.5-1.4-.3-1.4-4.2-1.4-5.4-1.4-5.2-1.4-5-1.4-4.9-1.4-3.1-1.4-2.3-1.4-1.9-1.4-2-1.4-2.7-1.4-3.4-1.4-1.1-1.4-.5-1.4 .4-1.4 .8-1.4 .7-1.4 .2-1.4 0-1.4 0-1.4-.1-1.4-.3-1.4-.6-1.4-.6-1.4-.1-1.4 0-1.4 0-1.4 .1z" fill="#6ABD45"/>
<path d="M147.5 121.9l.7 9 .7-5.1 .7 1.8 .7 20.3 .7-10.9 .7-1.1 .7 18 .7-29.1 .7 31.7 .7-26.4 .7 8.2 .7-18 .7 .1 .7 25.9 .7 9.1 .7 2.4 .7-11.3 .7-26.6 .7-.8 .7 29.2 .7-17.5 .7 26.9 .7-38.6 .7 38.3 .7-.9 .7-38.5 .7-.1 .7 38.3 .7-37.8 .7 38.3 .7 .8 .7-28.4 .7-9.3 .7 30.3 .7 5.2 .7-23.3 .7-7.5 .7 30.1 .7-28.6 .7 3.6 .7 38.5 .7-36.7 .7-2 .7 43.6 .7-39.9 .7 20.8 .7-15.5 .7 7.3 .7-1.8 .7 2.7 .7 32 .7-20.9 .7 13.4 .7-15.8 .7 .5 .7 42.1 .7-41.5 .7 33 .7-5.2 .7 9.3 .7-13.1 .7 3.8 .7 14.2 .7-27.3 .7-4.3 .7 13 .7-20.2 .7-3 .7 7.3 .7 29.6 .7-28.4 .7 6.4 .7-9.2 .7 4.9 .7 3.7 .7 12.7 .7-26.8 .7 2.3 .7 20.2 .7 5.6 .7-16.2 .7-.1 .7 7.5 .7-22 .7 27.3 .7-10.6 .7-17.3 .7 1.9 .7 2.1 .7 27 .7-30.2 .7 11.6 .7-12 .7 3.2 .7 16.6 .7 10.5 .7-24.9 .7 21.6 .7-1.2 .7-7.9 .7-1.5 .7-6.2 .7-13.8 .7 19.9 .8 6.3 .7-.8 .7-8 .7-18.4 .7 27 .7-27.3 .7 28 .7-.6 .7-4.9 .7-22.5 .7 14.3 .7-5.6 .7-8.2 .7 25.2 .7-7.9 .7 2.3 .7-18.6 .7-.8 .7 23.4 .7-19.9 .7 5.6 .7 12.8 .7-21 .7 6.6 .7 2.7 .7 11.7 .7-.8 .7-18.2 .7 24.7 .7-16.8 .7 15.9 .7-23.5 .7 2.2 .7 14.4 .7-4.9 .7-16.2 .7-1 .7 7.6 .7 13.9 .7-12.4 .7 20.4 .7-26.6 .7 24.9 .7 1.7 .7 3.9 .7-28.4 .7-10 .7 32.6 .7-32.2 .7-.4 .7-.6 .7 19.7 .7-17 .7 28 .7 8.4 .7-7.8 .7-23.5 .7 20.2 .7-6.8 .7-8.1 .7 12.6 .7-3.7 .7-13.6 .7-5.8 .7-15.7 .7 10.7 .7-7.6 .7 22.7 .7 7.4 .7-13.5 .7 13.1 .7-28 .7 18 .7 10 .7-36.8 .7 33.1 .7 3.2 .7 1.2 .7-24.1 .7 23.2 .7-29.9 .7-8.1 .7 20.4 .7-20.8 .7 19.5 .7-15.5 .7 11.1 .7-7 .7 27.9 .7-24.4 .7 20.1 .7-16 .7 5.9 .7 13.2 .7-31.9 .7 13.1 .7 20.5 .7-26.9 .7-6.7 .7 23 .7-.7 .7-21.8 .7 26.1 .7 .7 .7-2.6 .7-25.6 .7-.7 .7 17.5 .7 16.9 .7 .1 .7-33.8 .7 16 .7-15.7 .7 18.8 .7-2.7 .7 6.8 .7 4.4 .7-6.8 .7 20.3 .7-1.6 .7 3.9 .7-4.8 .7-9 .7-19.6 .7 .1 .7 37.6 .7-37.7 .7 23.4 .7-22.4 .7-.5 .7 25.2 .7 14.2 .7-37.1 .7 40.4 .7-14.2 .7-4.9 .7 2.4 .7-19.9 .7 36.5 .7-5.6 .7-4.4 .7-9.2 .7 6.6 .7-19.3 .7 11.1 .7 11.5 .7-13.2 .7 7.3 .7 9.9 .7-29.8 .7 25.9 .7-2.1 .7-5.6 .7-30.9 .7 25.8 .7-28.3 .7 33.3 .7-1 .7 .1 .7-32.7 .7 12.1 .7 .9 .7 10.3 .7-28.1 .7 1.1 .7-.1 .7 37 .7-.7 .7-.2 .7 .3 .7-5.2 .7-29.4 .7 .1 .7 24.5 .7-3 .7-17.9 .7-3.7 .7 32.6 .7-28.4 .7 4.2 .7 5.9 .7 12.9 .7 11.3 .7-4.5 .7 4.8 .7-16.5 .7-5 .7 3.9 .7 15.5 .7 2.6 .7-23.1 .7 11.5 .7-1.4 .7 12.4 .7-26.4 .7 2 .7 24.9 .7-21.4 .7-6.7 .7-2.8 .7 21.1 .7-9.4 .7 6.4 .7 8.8 .7 10.1 .7 1.2 .7 2.7 .7-26.3 .8-3.1 .7 51.7 .7-23.4 .7-11.7 .7 38.3 .7-45.9 .7 47.6 .7-46.7 .7 6.4 .7 11.1 .7 28.1 .7-24.6 .7 25.3 .7-10.3 .7-35.1 .7 1.2 .7 22.7 .7-22.9 .7 13.4 .7 31.1 .7-1 .7-43.7 .7 .1 .7 41.7 .7-20.4 .7 20.6 .7-14.2 .7 11.6 .7-29.3 .7 27.3 .7 1.5 .7-8.3 .7-31.4 .7 37.8 .7-39 .7 6.6 .7-.3 .7 33.4 .7 .2 .7-41 .7 40.8 .7-30.7 .7-10.1 .7 28.7 .7 13.8 .7-15.2 .7 15.4 .7-41.5 .7 28.9 .7-6.6 .7-10 .7 17.6 .7-28.9 .7 13.5 .7-15.5 .7 42.5 .7 .4 .7-.6 .7-10.4 .7-33.2 .7 23.1 .7-3 .7-20.1 .7 40.7 .7-32.7 .7 22 .7 14.6 .7-34.6 .7-10.1 .7-2.1 .7 44.4 .7-22.5 .7-21.2 .7-.6 .7 44.2 .7-19.2 .7-12.7 .7 31.2 .7-1.3 .7-27.6 .7 24.8 .7-16.6 .7-22.4 .7 1 .7 29.5 .7-24.2 .7-5.6 .7 .4 .7-.1 .7 41 .7 .6 .7-35 .7 31.8 .7-12.6 .7-25.3 .7 17.8 .7-9.6 .7 26.2 .7 4.8 .7-39 .7-.4 .7 0 .7 32.8 .7 4.4 .7 2.8 .7-12.7 .7-16.9 .7 30.8 .7-.5 .7-13.7 .7-26.4 .7 39.1 .7-38 .7 37.1 .7 0 .7-16.6 .7 15.6 .7-29.5 .7 3.5 .7-12.4 .7 23.2 .7-22.8 .7 0 .7-.8 .7 37.2 .7-37.4 .7 35.1 .7-36.8 .7 43.7 .7-.2 .7-30.7 .7 36.8 .7-54.8 .7 19.7 .7 35.3 .7 .7 .7-56.1 .7 55.7 .7-4.1 .7-10.7 .7-21 .7 19.2 .7-19.7 .7-9.2 .7 41.4 .7-9.9 .7-40.8 .7 44.2 .7 9.7 .7-15.6 .7 13.6 .7-.4 .7-19.6 .7-20.6 .7 7.1 .7 32 .7-39.5 .7 39.4 .7-39.5 .7 24.8 .7 .7 .7-7.3 .7 20.9 .7-37.7 .7 13.7 .7-17.1 .7 .9 .7 17.6 .7 16.7 .7 7.3 .7-31.9 .7-5.6 .7 31.3 .7-34.9 .7-1.2 .7 9.7 .7 31.8 .7-9.1 .7-22.8 .7 31.9 .7-36.5 .7 5.7 .7 7.7 .7-16.4 .7 5.9 .7 35.8 .7-41.7 .7 1.6 .7-3.3 .7 41.5 .7-25.6 .7 23.7 .7-24.5 .7 12.6 .7 5.8 .7 7.7 .7-.2 .7-30.5 .7-10.3 .7 20.7 .7-7 .7-13.4 .7 20.2 .7 17.6 .7-34.1 .7 31.3 .7-13.7 .7-6.6 .8-12.8 .7 12.6 .7 22.7 .7-6.3 .7-8.8 .7 16.8 .7-36.8 .7 39.1 .7-37.5 .7 26.5 .7 5.5 .7-18.8 .7-15.8 .7 12.8 .7 27.9 .7 1.3 .7-.4 .7-29.8 .7 14.1 .7-18.4 .7-2.6 .7-3.8 .7 27.6 .7 6.6 .7 2.6 .7-3.6 .7-34.5 .7 22.6 .7 14.7 .7 1.6 .7-37.5 .7 40 .7-41.4 .7 .4 .7 37.1 .7 1.3 .7 5 .7-23.6 .7 25.2 .7-41.7 .7 5.8 .7-3.7 .7 16.7 .7-6.8 .7-8.1 .7 11.2 .7 29.1 .7-5.2 .7-32 .7 37.7 .7-24.1 .7 24.7 .7-19.6 .7-16.1 .7 35.2 .7-29.1 .7 2.5 .7 6.6 .7 15.7 .7 4 .7-23.8 .7-.3 .7 23.3 .7-18.6 .7 10.9 .7 10 .7-1.8 .7 1.8 .7-22.6 .7-3.7 .7 25.2 .7-7.1 .7-13.4 .7 5 .7 13.5 .7 .4 .7-.1 .7-19.7 .7 8.7 .7-1.3 .7 12.8 .7-23.9 .7-.1 .7 24.6 .7-23.9 .7 24 .7-2.9 .7-12.7 .7 5.3 .7 3.4 .7 7.2 .7 0 .7-3.4 .7-20.4 .7 10.8 .7 12.8 .7-4.6 .7 3.8 .7-3.6 .7-18.2 .7 22.8 .7-22.5 .7 9.3 .7-9.6 .7 22.8 .7 .8 .7-15.3 .7-5.7 .7 28.9 .7 4.4 .7-12.3 .7-3.4 .7-10.7 .7 34.1 .7 .2 .7-16.4 .7 16.4 .7 0 .7-27.8 .7 28.4 .7-30.2 .7 30.5 .7-7.7 .7-15.9 .7 4.5 .7 19.2 .7-3.8 .7-7.6 .7 .3 .7-12.8 .7-5.5 .7 27.6 .7-19.2 .7 1.2 .7 11.6 .7-3.9 .7-11.3 .7-4.7 .7 26.5 .7-21 .7 4.7 .7 16 .7-11.1 .7-7.2 .7 19.1 .7-.7 .7-25.4 .7 .1 .7 .3 .7 22.1 .7 3.4 .7-17.7 .7 8.8 .7-.9 .7-8.5 .7-.4 .7 6.1 .7 3.8 .7-10.6 .7 15.1 .7 4.5 .7-12.9 .7 14.2 .7-19.5 .7 20 .7-15.2 .7 15.8 .7-17.7 .7 .1 .7 11.5 .7-.2 .7-11.6 .7 4.6 .7-3.4 .7 13.8 .7 4.4 .7-16.2 .7 15 .7-3.2 .7-13.7 .7-1.9 .7 17.8 .7-17.7 .7 .7 .7 9.5 .7 12 .7-8.4 .7-8.7 .7 1.8 .7 1.5 .7 2.4 .7 1.2 .7 2.7 .7 10.6 .7-1.2 .7-.3 .7-.8 .7-3.6 .7 10.7 .7 6.6 .7-.3 .7 .4 .7-9.3 .7 10.5 .7-15.7 .7-.7 .7 17.7 .7-16.8 .8 3.4 .7 13.3 .7-8.4 .7-10.8 .7-.3 .7 18.5 .7-6.3 .7 3.7 .7-10.5 .7 5.2 .7-4.4 .7 1.3 .7 11.5 .7 .3 .7-5.6 .7-14.1 .7-.5 .7 1 .7 21.9 .7-.3 .7 1 .7-.6 .7-.8 .7-9 .7 10.6 .7-8.2 .7 4 .7 4.7 .7-20.2 .7 14.9 .7 4.8 .7 .3 .7-21.8 .7 21.8 .7 .2 .7-11.6 .7 11.6 .7 2.1 .7-17.6 .7 15.2 .7-11.3 .7 1.4 .7 11.5 .7-11.4 .7-.9 .7 12.2 .7-3.8 .7-7.2 .7 1.3 .7-4.7 .7 1.8 .7 8.8 .7 5.1 .7 .3 .7-12 .7-3.1 .7 3.3 .7-2.8 .7 6 .7 7 .7-2.2 .7 3.1 .7 2.3 .7-9.7 .7-8 .7 1 .7 8.5 .7-8.3 .7 18.1 .7-14.3 .7 14.2 .7-13.3 .7 13 .7-.6 .7-13.7 .7 14.7 .7-.5 .7 .7 .7-1.2 .7-12.5 .7 5.3 .7-6.3 .7 .6 .7 10.7 .7-2.2 .7 7.5 .7 .9 .7 6.4 .7-4.3 .7 3.7 .7-2.9 .7 .4 .7-18.5 .7-.6 .7-.4 .7 .2 .7 17.3 .7-2.2 .7-4.9 .7-10.7 .7 .2 .7 24.8 .7-13.9 .7 14.5 .7-22.2" class="c"/>
<path d="M462 200l.5 31 .5-16 .4-15" class="c"/>
<path d="M537 205l.5 17 .5-8 .5-9" class="c"/>
<path d="M592.5 228l.5 22 .5-10 .5-8" class="c"/>
<path d="M684.5 255l.5 33 .3-15 .3 8 .4-26" class="c"/>
<path d="M190.5 200l.5 8" class="c"/>
<path d="M726 240l1.3-29 .5 39 .2 34 .5-29 .5-33 .5 40" class="c"/>
<path d="M147.5 141.9l1.8 .8 1.8 1.4 1.8 .8 1.8 .7 1.8 .5 1.8 .4 1.8 .3 1.8-.6 1.8-1 1.8 .2 1.8 .9 1.8 .8 1.8 .6 1.8 .6 1.8 .9 1.8 .9 1.8 1.2 1.8 1.7 1.8 1.1 1.8-.2 1.8 .1 1.8 1.3 1.8 1.4 1.8 .1 1.8-1 1.8-.6 1.8-.3 1.8-.2 1.8-.2 1.8-.1 1.8-.1 1.8 .4 1.8-.2 1.8-.7 1.8-.7 1.8-1.1 1.8-1.4 1.8-.1 1.8 .4 1.8 .1 1.8-.3 1.8-.2 1.8 .9 1.8 1 1.8-.2 1.8-.3 1.8-.3 1.8-.1 1.8 0 1.8-.1 1.8-.1 1.8-.1 1.8-.2 1.8 0 1.8 .3 1.8 .1 1.8-.2 1.8-.5 1.8-.8 1.8-1.5 1.8-.9 1.8 .3 1.8 .1 1.8-1 1.8-1.3 1.8-.8 1.8-.5 1.8-.8 1.8-.6 1.8-.2 1.8 .2 1.8 .3 1.8 .4 1.8 .2 1.8 0 1.8 .1 1.8 .1 1.8-.2 1.8-.2 1.8-.1 1.8-.4 1.8-.1 1.8 1.1 1.8 .7 1.8 .2 1.8 .9 1.8 1.2 1.8 1.4 1.8 1.2 1.8 .6 1.8 .6 1.8 .7 1.8 .8 1.8-.4 1.8-.1 1.8-.6 1.8-1.7 1.8-1.6 1.8-.4 1.8-.1 1.8-.8 1.8-1 1.8-.5 1.8-.7 1.8 .1 1.8 .4 1.8 .2 1.8 .2 1.8 .4 1.8 0 1.8-.5 1.8-.3 1.8 .4 1.8 .5 1.8 .3 1.8 .4 1.8 .8 1.8 1.3 1.8 1.3 1.8 1.2 1.8 1.1 1.8 1.7 1.8 2.3 1.8 1.3 1.8-.2 1.8-.1 1.8 .1 1.8-.1 1.8-.4 1.8-.6 1.8-.6 1.8-.3 1.8-.2 1.8-.6 1.8-.4 1.8 .5 1.8 1.2 1.8 .5 1.8 .3 1.8-.1 1.8-1.4 1.8-1.6 1.8-.4 1.8 .3 1.8 .2 1.8 .4 1.8 .4 1.8-.9 1.8-1.5 1.8-.2 1.8 .2 1.8 .3 1.8 1.1 1.8 .8 1.8-.1 1.8-.1 1.8-.5 1.8-.6 1.9-.5 1.8-1 1.8-.8 1.8 0 1.8 0 1.8 0 1.8 .5 1.8 .1 1.8-.3 1.8-.3 1.8-.5 1.8-.4 1.8-.5 1.8-1.1 1.8 1.3 1.8 3 1.8 2.6 1.8 1.1 1.8-.4 1.8-.1 1.8 .4 1.8-.2 1.8-1.1 1.8-.9 1.8 1.1 1.8 1.5 1.8 0 1.8-.6 1.8-.3 1.8 0 1.8 0 1.8-.8 1.8-1 1.8 0 1.8 .7 1.8 .2 1.8 0 1.8 0 1.8-.1 1.8-.2 1.8-.5 1.8-1 1.8-.7 1.8 .2 1.8 .2 1.8-.6 1.8-.8 1.8 .1 1.8 .2 1.8 .2 1.8 .1 1.8 .3 1.8 1 1.8 1.3 1.8 .1 1.8-.8 1.8 .1 1.8 .6 1.8 .6 1.8 .2 1.8 0 1.8 .2 1.8 .8 1.8 0 1.8-.3 1.8-.1 1.8 .3 1.8 .3 1.8 .1 1.8-.6 1.8 .1 1.8 .9 1.8 .6 1.8 .1 1.8 0 1.8 .1 1.8-.2 1.8 .1 1.8 .3 1.8 .3 1.8 1.6 1.8 2 1.8-.1 1.8-1.4 1.8-.2 1.8 .6 1.8 .4 1.8 .4 1.8 .6 1.8 1.1 1.8 1.4 1.8 .9 1.8-.5 1.8-.6 1.8 .3 1.8 .3 1.8-.1 1.8-.1 1.8 .6 1.8 1.6 1.8 1.5 1.8-.1 1.8-.7 1.8 .3 1.8 .6 1.8 0 1.8 .5 1.8 .6 1.8 1.2 1.8 1.5 1.8 .5 1.8-.2 1.8 .4 1.8 .7 1.8 .9 1.8 1.5 1.8 1.7 1.8 1.3 1.8 1.4 1.8 1.3 1.8 .7 1.8 .7 1.8 1.5 1.8 1.8 1.8 0 1.8 .5 1.8 0 1.8-.4 1.8-.4 1.8-.8 1.8-1 1.8 0 1.8 .5 1.8 1.5 1.8 2.1 1.8 2 1.8 1.1 1.8 .9 1.8 1.8 1.8 2.5 1.8 4.7 1.8 6 1.8 4.8 1.8-.4 1.8-.5 1.8-.4 1.8-.4 1.8 .2 1.8 .8 1.8 .9 1.8 1.1 1.8 1.4 1.8 .9 1.8 .4 1.8 1 1.8 1.6 1.8 1.6 1.8 2.5 .6 .7 0 17.9-.6-1.5-1.8-3.8-1.8-.4-1.8 .3-1.8-.4-1.8-1.2-1.8-.5-1.8-.4-1.8-.8-1.8-1.1-1.8-1.2-1.8-1.2-1.8-.7-1.8-1.1-1.8-1.7-1.8-1.6-1.8-3.6-1.8-4.5-1.8-2.8-1.8-.9-1.8-1.6-1.8-2.3-1.8-2.2-1.8-1.6-1.8-1.7-1.8-1.7-1.8-.7-1.8-.4-1.8-.6-1.8-.2-1.8 .9-1.8 1.2-1.8 0-1.8-.7-1.8-.3-1.8-1.9-1.8-1.7-1.8-1-1.8-1.1-1.8-1-1.8-.1-1.8-.6-1.8-1.8-1.8-1.5-1.8 .1-1.8 .6-1.8-.9-1.8-1.9-1.8-.8-1.8 1-1.8 .4-1.8-1.4-1.8-1.5-1.8-.4-1.8 0-1.8-.2-1.8-.5-1.8-.8-1.8-1.6-1.8-1.7-1.8-.3-1.8 .7-1.8 0-1.8-.9-1.8-.8-1.8-.4-1.8-.3-1.8 .3-1.8 1-1.8 .4-1.8-.9-1.8-.9-1.8-.4-1.8-.5-1.8-1.4-1.8-1.8-1.8-.8-1.8-.2-1.8 0-1.8 .7-1.8 1-1.8-.5-1.8-1.7-1.8-.6-1.8 .6-1.8 .3-1.8-.7-1.8-.8-1.8-.2-1.8 .2-1.8-.2-1.8-.5-1.8-.4-1.8-.3-1.8-.2-1.8 .3-1.8 .8-1.8 .2-1.8 .3-1.8 .1-1.8-1-1.8-1.1-1.8-.6-1.8-.5-1.8-.2-1.8 .3-1.8 .2-1.8 .2-1.8 .4-1.8 0-1.8 .3-1.8 0-1.8-.9-1.8-.7-1.8 .4-1.8 .3-1.8-.4-1.8-.6-1.8-.5-1.8-1.1-1.8-.6-1.8 1-1.8 1.4-1.8-.1-1.8-1.1-1.8-.5-1.8-.4-1.8-.4-1.8-.6-1.8-.3-1.8 .6-1.8 .7-1.8 .9-1.8 1.5-1.8 1.2-1.8 1.1-1.8 1.1-1.8 .3-1.8-.4-1.8 .3-1.8 .3-1.8-.8-1.8-.2-1.8 .2-1.8-.9-1.8-.9-1.8-.4-1.8-.5-1.8-.6-1.8 .4-1.8 .8-1.8-.1-1.8-.5-1.8 .4-1.8 1.4-1.8 1.1-1.8 .4-1.8 .2-1.9-.1-1.8-.4-1.8-.1-1.8-.3-1.8-.3-1.8 .2-1.8 .1-1.8-.3-1.8 .1-1.8 .1-1.8 0-1.8 .3-1.8 .4-1.8 .1-1.8-.2-1.8-1.1-1.8-.6-1.8 .8-1.8 .5-1.8-.8-1.8-.9-1.8 .5-1.8 .7-1.8 .8-1.8 .6-1.8 .3-1.8 .3-1.8 .2-1.8 .3-1.8 1.2-1.8 .3-1.8-.7-1.8-.1-1.8 1-1.8 1.1-1.8-.5-1.8-1.4-1.8-2-1.8-2.6-1.8-2.5-1.8-2.5-1.8-2.6-1.8-.8-1.8-.2-1.8 0-1.8 1.1-1.8 .8-1.8-.3-1.8-.5-1.8-.5-1.8-.8-1.8-.4-1.8-.3-1.8-.2-1.8-.3-1.8 .3-1.8 .8-1.8 1.4-1.8 .9-1.8 0-1.8 .2-1.8 1.1-1.8 1.3-1.8 .5-1.8 0-1.8 .3-1.8-1-1.8-1-1.8-1.6-1.8-1.8-1.8-.6-1.8 .3-1.8-.7-1.8-1.8-1.8-1-1.8-.3-1.8-.3-1.8-.2-1.8 .1-1.8 .3-1.8-.1-1.8 .2-1.8 1.4-1.8 1.6-1.8-.2-1.8-1.2-1.8-.5-1.8-.5-1.8-.4-1.8 .2-1.8 .3-1.8 .9-1.8 1.2-1.8 .9-1.8 1.1-1.8 1-1.8-.1-1.8-.3-1.8 .8-1.8 1.5-1.8 .6-1.8-.9-1.8-.7-1.8 .6-1.8 .8-1.8-.3-1.8-.7-1.8 0-1.8 1.7-1.8 1.2-1.8 0-1.8 0-1.8 .3-1.8-.2-1.8 .4-1.8 .2-1.8 0-1.8-.3-1.8-.4-1.8 0-1.8-.2-1.8 .2-1.8 .9-1.8 .7-1.8 .2-1.8 .2-1.8 .2-1.8 .2-1.8 .5-1.8 1.3-1.8 1.1-1.8-.5-1.8-.8-1.8 .7-1.8 1.7-1.8-.3-1.8-2.3-1.8-1.9-1.8-.7-1.8-.4-1.8-.9-1.8-1.2-1.8-1.1-1.8-1.1-1.8-1.2-1.8-1.1-1.8-1-1.8-1.2-1.8-1.3-1.8-.6-1.8-.9-1.8-.7-1.8 .4-1.8 .8-1.8-.5-1.8-1.6-1.8-.7-1.8 .8-1.8 .5z" fill="#3953A4"/>
<path d="M147.5 149.3l.6-1.7 .6 .5 .6 2.8 .6-4.1 .6 3.6 .6-.4 .6-1.3 .6 .4 .6 1.4 .6-1.3 .6 2.5 .6-1.1 .6 2.3 .6-.6 .6-1.4 .6 1.7 .6-2.1 .6-.2 .6-.1 .6 1 .6-.5 .6 .8 .6-1.5 .6 1 .6 1.5 .6-3.4 .6-.2 .6 .6 .6-.5 .6 .1 .6 5.4 .6-3.2 .6 .9 .6-1.7 .6 2.2 .6 .6 .6 2.7 .6-3.4 .6 1.7 .6 .1 .6 2.1 .6-2.2 .6 3.7 .6 .7 .6-3 .6 4.4 .6-5.8 .6-.2 .6 6.8 .6-.2 .6-3.8 .6 5.3 .6 0 .6-5.2 .6 6.1 .6-.7 .6 .9 .6-5.3 .6 3.4 .6 3.1 .6-5.7 .6-1.4 .6 7.7 .6-7.2 .6 7.9 .6-4.6 .6 6.1 .6-3.5 .6-2.7 .6 8 .6-3.8 .6 3.4 .6-7.5 .6-.9 .6 7.2 .6-7.5 .6 6.7 .6-5 .6 5.3 .6 .9 .6-9.5 .6 1.9 .6 4.5 .6-1.7 .6 5.4 .6-3.4 .6 1.7 .6-8.2 .6 7.6 .6-1 .6-6.8 .6 7 .6-7.2 .6 7.1 .6-5.6 .6-1 .6 5.8 .6-5.6 .6-.6 .6 2 .6-2.2 .6 3.2 .6-.1 .6 3.8 .6-2.1 .6-3.2 .6 4 .6-3 .6-2.8 .6-3.4 .6 8.2 .6-2.5 .6-2.5 .6-1.4 .6 4.2 .6 .9 .6-6.7 .6 8.2 .6-6.3 .6 3.9 .6 2.3 .6-8.1 .6 7.9 .6-1.9 .6-.1 .6-3.4 .6-2.1 .6 5.6 .6-3 .6-1.9 .6 5.3 .6-2.1 .6 3.9 .6-2.7 .6 2.6 .6-6.9 .6 .3 .6 3.3 .6-2.3 .6-1 .6 2.7 .6-1.6 .6-1.7 .6 7.3 .6 .5 .6-.3 .6-7.5 .6-.6 .6 4.3 .6-2.9 .6-.9 .6 .4 .6 2.1 .6-1.5 .6-1.2 .6-.6 .6 1.4 .6-.9 .6-.6 .6 3.6 .6 2.6 .6-6.3 .6 6.8 .6-5.8 .6 4.9 .6 .1 .6-3.6 .6-.9 .6 1.1 .6-.6 .6 4.4 .6-3 .6 3.3 .6-6 .6-1.1 .6 7 .6-.3 .6-7.2 .6-.3 .6 5.7 .6-.7 .6-1.9 .6-.4 .6 2.9 .6-3.2 .6 2.8 .6-6.8 .6 3.6 .6-2.2 .6 5.1 .6 .3 .6-5.4 .6 4.6 .6-1.9 .6-.3 .6 .3 .6-7.1 .6 .5 .6 3.1 .6 2.3 .6-6.3 .6 5.3 .6-5.9 .6 1.4 .6-1.6 .6-1 .6 3.5 .6-.2 .6-2 .6-1.4 .6 6 .6-6.1 .6 7.5 .6-.2 .6-6.5 .6 .3 .6 0 .6 6.9 .6-3.1 .6 2 .6 2.4 .6-1.3 .6-6.1 .6 7.8 .6-.3 .6-8.3 .6 7.4 .6-2.5 .6 .8 .6-3.3 .6 1.4 .6 2.2 .6-4 .6-1.5 .6 5.1 .6-1.3 .6-1.8 .6 1.1 .6 .2 .6-2.8 .6-1.6 .6-.1 .6 1.6 .6-1 .6-.2 .6-.4 .6 5.9 .6-3.3 .6-1.6 .6 .6 .6 3.5 .6-1.6 .6 2 .6-3.6 .6 3.6 .6-2.5 .6 6 .6-5.4 .6 4.7 .6 1.5 .6-5.8 .6 5.8 .6-2 .6-2 .6 4 .6 .2 .6-3.4 .6 .5 .6 3.3 .6-3.4 .6 2 .6 2.1 .6 3.1 .6-4.1 .6 3.5 .6-3.2 .6 4.3 .6 .5 .6 1.1 .6-1.2 .6 .8 .6-2.2 .6-4.5 .6-.2 .6 5.8 .6-5.9 .6-.4 .6 2.6 .6 2.7 .6-5.2 .6 3.1 .6-2 .6 .4 .6-4.4 .6 1 .6 5.6 .6-3.9 .6-3.4 .6-.2 .6 5 .6-1.3 .6 3 .6-6.3 .6 1.7 .6 1.7 .6 .1 .6-1.1 .6 1.7 .6-6.4 .6 2.3 .6-2.2 .6-.8 .6-.4 .6 5.7 .6-3.9 .6 5.2 .6-2.5 .6-.6 .6 1.1 .6 .2 .6-4.8 .6 7.9 .6-4.6 .6 5.2 .6-4.2 .6 3.9 .6-7.7 .6 6 .6 3 .6-6.9 .6 7 .6-7.2 .6-1.6 .6 .2 .6-.4 .6 5 .6-5.8 .6 .2 .6 1 .6 6.4 .6-1.4 .6-5 .6 6.8 .6 0 .6 .3 .6-1.7 .6-2 .6-2.3 .6 6.4 .6-4.1 .6-1.4 .6-.6 .6 1.9 .6-1.1 .6 9.5 .6-1.2 .6-5 .6-1 .6 .4 .6 5.3 .6 6.2 .6 .9 .6-10.6 .6 4.1 .6 6.2 .6 3.4 .6-10.8 .6 8.7 .6-2.9 .6 2.9 .6 .7 .6 2 .6-4.9 .6-3.3 .6 3.6 .6 3.8 .6-1.1 .6 .9 .6-5.4 .6-1.8 .6 3.8 .6 3.1 .6 1 .6-.3 .6 .6 .6-9.2 .6 3.9 .6-4.4 .6 8.8 .6-8.8 .6 6.8 .6 .7 .6-5.5 .6 3.2 .6 .7 .6-6.1 .6-1.2 .6 6.1 .6 2.5 .6-2.7 .6 2.1 .6-6.5 .6 .3 .6 5.1 .6 .3 .6 .5 .6-.8 .6-8.4 .6 6.6 .6-5.4 .6 .9 .6-.5 .6 1.5 .6-.6 .6 1 .6 1.9 .6-1.1 .6 3.4 .6-5.5 .6 1.2 .6 1.4 .6-.4 .6 4.4 .6-8.2 .6 3.5 .6 2.6 .6-7.8 .6 7.3 .6-7.1 .6 9.5 .6 .9 .6-1.3 .6 1.6 .6 .1 .6-9.8 .6 3.8 .6 5.9 .6-10 .6 8 .6 1.8 .6-9.1 .6-.8 .6 .1 .6 8.8 .6-.2 .6 .5 .6-1.1 .6-2.4 .6-3.1 .6-1.2 .6 4.3 .6 2.7 .6 .1 .6-9.3 .6 6.9 .6-2 .6 .3 .6 3.1 .6-7.5 .6-.1 .6 9.1 .6 .2 .6-5.5 .6-2.5 .6-.7 .6 4.9 .6-4.9 .6 8.6 .6-1.1 .6-8.2 .6 10.1 .6 .1 .6-.3 .6-9.3 .7 1.7 .6 7.1 .6-9.8 .6 5.9 .6 4.3 .6 .3 .6-13 .6 8.1 .6 4 .6-4.7 .6 1 .6 3.2 .6-12.3 .6 6.2 .6 1.1 .6 .1 .6 2.7 .6-9.1 .6 3.9 .6 .2 .6 5.6 .6-3.6 .6-2.2 .6 5.9 .6-9.4 .6 5 .6 2.4 .6-.1 .6-6.9 .6 .4 .6 0 .6-2 .6 .4 .6 5.4 .6-5 .6 9.6 .6-6.7 .6 6.7 .6-9.3 .6 5.9 .6-5.5 .6 1.1 .6-4.8 .6 7.7 .6-2.5 .6 7.9 .6-8.4 .6 1.1 .6-.4 .6 9.7 .6-7.9 .6 0 .6 1.1 .6 4.9 .6 2.8 .6-7.7 .6 5.1 .6-6.2 .6 .8 .6-.2 .6 7.6 .6-.3 .6-7.3 .6 3.5 .6 4.2 .6-.5 .6-7.4 .6 .7 .6 5.4 .6-3 .6-.2 .6 2.7 .6-7 .6 6 .6-5.6 .6 1.3 .6 .4 .6 .4 .6 1.6 .6-2.2 .6 .9 .6 .5 .6-.7 .6-1.5 .6 1.5 .6-.7 .6 .6 .6-1 .6-.4 .6-.4 .6 1.4 .6-.7 .6 .5 .6 1.3 .6 .6 .6-1.1 .6 0 .6 1.2 .6-3.3 .6-1.9 .6 .9 .6 .2 .6 2.4 .6 2.6 .6-1.1 .6-2.3 .6 1.2 .6 3.3 .6-1.3 .6-2.5 .6-1.2 .6 2.1 .6 .7 .6-.4 .6-2.9 .6 2.9 .6 .9 .6-.1 .6-3.4 .6-1 .6 .2 .6 5.3 .6 .1 .6-4 .6 4.1 .6-1.1 .6-3.5 .6 2.1 .6-1.3 .6-.6 .6 3.8 .6 .9 .6-5.4 .6 5.4 .6-6.9 .6 6.9 .6-7.4 .6 1.9 .6-1.3 .6-1.7 .6 10.2 .6-2.4 .6 1.4 .6 .4 .6-4 .6 4.3 .6-.3 .6-.1 .6 .1 .6-9.5 .6 .4 .6 8.9 .6-2.4 .6-7.1 .6 5.2 .6 .3 .6 1 .6-5 .6-.5 .6 .5 .6 3.2 .6 3.9 .6-.9 .6 1.1 .6 .4 .6-4.4 .6 5 .6-5 .6 4.4 .6-5.6 .6 5.2 .6-6.8 .6 1.2 .6 4.3 .6 4.4 .6-8.8 .6 9.3 .6-6.7 .6-2.1 .6 .7 .6-.3 .6-.8 .6 7.7 .6-7.7 .6 2.6 .6 .3 .6 4.9 .6-6.1 .6 .1 .6 5 .6-5.1 .6 .5 .6-1.3 .6 .6 .6 5.4 .6 .2 .6-3.5 .6-1.9 .6-.8 .6 2.8 .6 4.8 .6-5.6 .6-1.1 .6 1.6 .6 3.2 .6 2.2 .6-7 .6 0 .6-.1 .6 0 .6-.9 .6 5.7 .6-3.6 .6-1.8 .6 1.1 .6 3 .6 4.5 .6-7.1 .6 8.1 .6-7.5 .6 6.6 .6-1.7 .6 1.6 .6 .4 .6-3.1 .6-1.4 .6 3.4 .6 .1 .6-6.3 .6 6.7 .6-1.3 .6-3.3 .6 6.6 .6 .3 .6-8.6 .6 7.4 .6-3.5 .6-3.6 .6 5.6 .6-3.2 .6 4.8 .6-5.2 .6-.5 .6 5.5 .6 .6 .6-3.5 .6 2.2 .6-1.5 .6 .9 .6 1 .6-4.1 .6 7.4 .6-8.2 .6 9.3 .6-6.5 .6-1.8 .6 0 .6-.2 .6 .1 .6 5.6 .6-.6 .6-.6 .6 5.8 .6-2.3 .6-.3 .6-4.1 .6 6.6 .6 1.4 .6-8.7 .6 5.5 .6-1.9 .6-3.3 .6 1 .6 .6 .6 4.6 .6 .6 .6-4.5 .6 1.3 .6 2.7 .6-1.7 .6 2.9 .6-.4 .6-6.8 .6 .8 .6 6.5 .6-5.7 .6 3.3 .6 3.1 .6-7.1 .6-.2 .6 7.7 .6-4 .6 3.6 .6-4.3 .6 4.5 .6-1.6 .6-5.4 .6 .9 .6 6.3 .6 1.7 .6-6.5 .6 1.9 .6 6.4 .6-8 .6 4.4 .6 1.9 .6-.4 .6-6 .6 6 .6-4 .6 3.1 .6-2 .6 5.6 .6-2.5 .6 1.8 .6 1.7 .6-3.6 .6-5 .6 4.7 .6 4.3 .6-.2 .6-.2 .6-.6 .6-6.4 .6 9.7 .6-9.5 .6 8.2 .6 .6 .6-5.2 .6-2.4 .6 1 .6 5.8 .6-6.3 .6 .6 .6 3 .6-3.8 .6 4.4 .6-3.8 .6 9.6 .6-8.1 .6-1.2 .6 4.5 .6 3.6 .6-.9 .6-3.4 .6 1 .6 4.3 .6 1.1 .6-7.2 .6 8 .6 .8 .6-7.3 .6 .6 .6 1.1 .6-.2 .6 .6 .6 2.9 .6 2.6 .6-4 .6 2.7 .6 2.4 .6-4.4 .6 0 .6 3.7 .6-3.4 .6 6.4 .6-.5 .6-4 .6 3.1 .6 3.6 .6 1.5 .6-6.2 .6-.2 .6 .5 .6 5.9 .6-5.3 .6 5.8 .6-6.4 .6 3.3 .6 1.4 .6-2.4 .6-1.7 .6 2.3 .6 2.8 .6-5.6 .6-.3 .6 .2 .6 3 .6-4.2 .6 6.6 .6-7.1 .6-.4 .6 .3 .6 0 .6 7.7 .6 .4 .6-8.9 .6 6.1 .6-4.6 .6 7.9 .6 1.3 .6-8.1 .6 .3 .6 1.4 .6 2.1 .6-.7 .6 3.8 .6-3 .6 5.4 .6-4.9 .6 5 .6 1.2 .6 1.3 .6-6.4 .6 11.6 .6-6.5 .6-1.8 .6 9.5 .6-9.4 .6 9.7 .6-8 .6 8.5 .6 2.3 .6 1.3 .6-4.3 .6 7.4 .6 .4 .6-1.4 .6 5.3 .6-.1 .6-4.3 .6-.2 .6 2.4 .6-3 .6 1 .6 6.7 .6 1.7 .6-.4 .6-3.5 .6-6.4 .6 7.3 .6 4.1 .6-11.9 .6 4.1 .6-2.7 .6 2.1 .6 9.7 .6 1.4 .6-.3 .6-9.7 .6 2 .6 9.3 .6-12.8 .6 4.6 .6-3.5 .6 4.1 .6 5.4 .6 3.1 .6-.2 .6-8.9 .6 8.8 .6-8.3 .6 9.6 .6 0 .6-10.9 .6 7.5 .6 3.2 .6-1.1 .6-7.1 .6 8.6 .6-2.2 .6 3.5 .6 .8 .6-7.7 .6 .8" class="d"/>
<path d="M717 251l.3 14 .3 15 .3 14 .3 15 .3 16 .3 18 .2-4.6 .3 16.5 .2-12.6 .3 18.8 .2-13.5 .3 18.4 .3-8.9 .2 11 .3-11.7 .2 17.9 .3-12.7 .3 14.3 .2-6.6 .3 12.5 .2-7.9 .3 14.9 .3-6.6 .2 9.4 .3-6.1 .2 15.5 .3-13.5 .3 13.7 .6-2.8-.3-.1-.7 3 .3-2.6 .9 2.6-.9 .3 1.6-11.6 1-10 .5-11 .5-11 .3-10 .3-10" class="d"/>
<g font-family='"Liberation Sans", Arial, Helvetica, sans-serif' font-size="33.2" fill="#414042">
<text x="147.5" y="506.3" text-anchor="middle">0</text>
<text x="292.8" y="506.3" text-anchor="middle">500</text>
<text x="438.0" y="506.3" text-anchor="middle">1000</text>
<text x="583.2" y="506.3" text-anchor="middle">1500</text>
<text x="728.5" y="506.3" text-anchor="middle">2000</text>
<text x="136.2" y="53.0" text-anchor="end">1.5</text>
<text x="136.2" y="123.3" text-anchor="end">1</text>
<text x="136.2" y="193.7" text-anchor="end">0.5</text>
<text x="136.2" y="264.0" text-anchor="end">0</text>
<text x="136.2" y="334.3" text-anchor="end">-0.5</text>
<text x="136.2" y="404.7" text-anchor="end">-1</text>
<text x="136.2" y="475.0" text-anchor="end">-1.5</text>
</g>
<text x="438" y="24.6" text-anchor="middle" font-family='"Liberation Sans", Arial, Helvetica, sans-serif' font-size="36.7" fill="#231F20">Bearing1-3(IMS)</text>
<text x="437.5" y="552.2" text-anchor="middle" font-family='"Liberation Sans", Arial, Helvetica, sans-serif' font-size="36.7" fill="#414042">t(10min)</text>
<text transform="translate(25.2 251.5) rotate(-90)" text-anchor="middle" font-family='"Liberation Sans", Arial, Helvetica, sans-serif' font-size="36.7" fill="#414042">T</text>
<text x="421.9" y="603.7" text-anchor="middle" font-family='"Liberation Serif", "Times New Roman", serif' font-size="43.3" fill="#231F20">(a)</text>
<rect x="174.4" y="233.5" width="261.2" height="157.5" fill="#fff" stroke="#4d4d4f" stroke-width="1.1"/>
<path d="M180 254.7H236" stroke="#231F20" stroke-width="1.7"/>
<text x="240.0" y="265.6" font-family='"Liberation Sans", Arial, Helvetica, sans-serif' font-size="30.1" fill="#231F20">True</text>
<path d="M180 293.1H236" stroke="#B9529F" stroke-width="0.65" fill="none"/>
<use href="#ast" x="208.0" y="293.1" stroke="#B9529F"/>
<text x="239.0" y="302.2" font-family='"Liberation Sans", Arial, Helvetica, sans-serif' font-size="32.4" fill="#231F20">IBA-FELM</text>
<path d="M180 331.6H236" stroke="#6ABD45" stroke-width="0.65" fill="none"/>
<use href="#circ" x="208.0" y="331.6" stroke="#6ABD45"/>
<text x="238.6" y="342.5" font-family='"Liberation Sans", Arial, Helvetica, sans-serif' font-size="30.1" fill="#231F20">BA-FELM</text>
<path d="M180 369.4H236" stroke="#3953A4" stroke-width="0.65" fill="none"/>
<use href="#dia" x="208.0" y="369.4" stroke="#3953A4"/>
<text x="238.6" y="380.6" font-family='"Liberation Sans", Arial, Helvetica, sans-serif' font-size="30.1" fill="#231F20">FELM</text>
</g>
<g id="panel-b">
<rect x="953.5" y="48" width="583.0" height="417" fill="none" stroke="#4d4d4f" stroke-width="1.1"/>
<path d="M1099.2 465v-6.0M1099.2 48v6.0M1245.0 465v-6.0M1245.0 48v6.0M1390.8 465v-6.0M1390.8 48v6.0M953.5 291h6.0M1536.5 291h-6.0M953.5 117.5h6.0M1536.5 117.5h-6.0" stroke="#4d4d4f" stroke-width="1.1" fill="none"/>
<path d="M949 465.2l.6-.1 .5-48.2 .6 8.7 .5-13.9 .6 9.2 .5-7.1 .6 32.8 .5-43.3 .6 51 .5 9.3 .6-55.9 .5 56 .6 1 .5-64.1 .6 42.8 .5 21.1 .6-36.3 .5-7 .6-.7 .5-9.1 .6 1.1 .5 30.5 .6-3.4 .5-24.8 .6 51.5 .5-31.1 .6 31.6 .5 .2 .6-74 .5 60.8 .6 5 .5-30.2 .6-22 .5 40.5 .6 16.6 .5-.4 .6 .3 .5-12.7 .6 14.1 .5-5.6 .6-58.9 .5 50 .6 14.6 .5-53.4 .6 52.9 .5-2.2 .6 2.1 .5-33.1 .6-19.3 .5 3 .6 46.4 .5-59.4 .6 62.1 .5-27.1 .6 14.2 .5-36.4 .6 34.8 .5-29.3 .6 23.4 .5 .4 .6-60.8 .5-1.6 .6 46.2 .5 12.1 .6 4.1 .5-54.6 .6 46.6 .5-8.2 .6-68.5 .5 79.8 .6-.3 .5-87.2 .6 7.1 .5 38.4 .6-26.6 .5 37.8 .6-18.9 .5 46.5 .6-128.7 .5 123.3 .6-130.1 .5 1.4 .6 120.7 .5-.9 .6-1.7 .5 2.5 .6-25.9 .5 28.2 .6-102.2 .5 103.6 .6-96.4 .5 .9 .6-25.2 .5 76.7 .6-58.9 .5 39 .6 60.9 .5-107.3 .6 6.6 .5 24.5 .6 40.8 .5-68.1 .6 30.4 .5-21.4 .6 98 .5-79.6 .6 79.3 .5-92.8 .6 17.9 .5 59.6 .6 12.8 .5-46.8 .6 46.6 .5 1 .6-113.6 .5 91.8 .6-91.1 .5 114.7 .6-51.6 .6 51.6 .5-104.1 .6 3.3 .5 99.4 .6-57.6 .5 57 .6 1 .5-98.1 .6 6.9 .5 89.7 .6 .2 .5-36.1 .6 7.8 .5 3.4 .6 15.1 .5-15.1 .6-6 .5-20.8 .6 37.2 .5-15.3 .6-6.2 .5-24.1 .6 58.2 .5-23 .6-4.8 .5 18.5 .6-39.8 .5-4.3 .6 53.3 .5-48.6 .6-8.9 .5-6.8 .6 2.2 .5 22.3 .6-22.3 .5-4.7 .6 33.9 .5-22.2 .6 49.3 .5-45.5 .6 49.6 .5-17.5 .6 16.9 .5 .4 .6 .5 .5-55.9 .6-3.3 .5 60.2 .6 .4 .5 .5 .6-33.6 .5-19.2 .6 31 .5 22.9 .6-13.1 .5 12.6 .6-63 .5 16.3 .6 47.5 .5-8.6 .6 9.3 .5-62.5 .6 62.8 .5-18.3 .6-16 .5 32.8 .6 1 .5-46.9 .6 28.2 .5 26.8 .6 3 .5-69 .6 77 .5 3.2 .6 1 .5-83.6 .6 41.6 .5 46.3 .6-91.5 .5 93.2 .6 1.5 .5-67.6 .6-3.2 .5 35.2 .6 30.1 .5 10.7 .6-96.5 .5 99.7 .6 .6 .5-19.5 .6 21.7 .5-95.6 .6 12 .5-2.1 .6 87.1 .5 .3 .6-38.7 .5 33.5 .6-75.4 .5 48.9 .6 30.9 .5-4.6 .6-2.4 .5-53.1 .6-5.9 .5 .1 .6 63.3 .5 1.4 .6-61.5 .5 7.9 .6 14.5 .5 12.6 .6-3.8 .5-29 .6 24 .5 2.5 .6 31 .5-56.7 .6 32.6 .6-25.1 .5 48.4 .6 .7 .5-49.6 .6 48.5 .5 .7 .6-.4 .5-46 .6-9.6 .5 53.9 .6-56 .5 1 .6 37.1 .5 16.3 .6-48.6 .5 49.4 .6-30.8 .5 32.3 .6-62.9 .5-.5 .6-1.6 .5 66.3 .6-.4 .5-38.6 .6 39 .5-62.4 .6 36.2 .5 1.9 .6-36.5 .5 61 .6-60.4 .5 58.2 .6-1 .5-54.3 .6 53.8 .5-51.3 .6 51.6 .5-47.1 .6 4.3 .5 42.3 .6 1.8 .5-.9 .6-48.2 .5 5.6 .6 2.1 .5-6.7 .6 51.8 .5-36.4 .6-7.6 .5 13.7 .6 13.2 .5 16.6 .6-7.7 .5-13.8 .6 14.1 .5-26 .6-.7 .5 9.2 .6 16.8 .5-35.5 .6 41.1 .5-.1 .6-.7 .5-57.2 .6 43.8 .5-50.8 .6 64.4 .5-62.5 .6 2.2 .5 1 .6-1.6 .5 60.8 .6-10.1 .5 11.5 .6-47.9 .5 48.3 .6-10.8 .5 11.1 .6-65.1 .5 .5 .6 1.6 .5 5 .6 57.4 .5-37 .6-16.8 .5 10.2 .6-9.2 .5-.7 .6-5.5 .5 25.4 .6-28.8 .5-2.1 .6-.7 .5-2.7 .6 12.3 .5 57.5 .6-58.1 .5 59 .6-2.6 .5-70.4 .6 5 .5 20.7 .6 36.5 .5 6 .6-62.7 .5 27.7 .6-33.6 .5 68.7 .6 .7 .5-75.7 .6 47.4 .5 29.1 .6-15.2 .5-76.8 .6 12.1 .5-11.6 .6 24.6 .5 63.1 .6-82 .6-7.1 .5 14.8 .6-15.1 .5 .8 .6 4.9 .5 86.3 .6-69.9 .5 31 .6 21.4 .5-28.4 .6 45.7 .5-44.8 .6 45.3 .5-30.7 .6 20.6 .5-22.1 .6 32.6 .5 1.2 .6-10 .5 10.7 .6-50.5 .5 19 .6 .6 .5 31.6 .6-6.6 .5 6.9 .6-44.6 .5 7.8 .6 37 .5-.8 .6-15.7 .5-23.9 .6 38.2 .5-51.3 .6-.8 .5-2.4 .6-2.7 .5 57.1 .6-36.8 .5 26.5 .6-44.3 .5 54.8 .6 .4 .5-58.2 .6 51.4 .5-53.4 .6 31.2 .5-3.8 .6 32.6 .5-17.5 .6 10.8 .5-40.5 .6 31 .5-50.6 .6 39.5 .5-44 .6 12.3 .5 52.7 .6 7 .5-82 .6 71 .5-7.7 .6 4 .5 18.8 .6-102.2 .5 82 .6-3.3 .5 21.7 .6-97.7 .5 97.8 .6-.8 .5-91.4 .6 4.2 .5 40.8 .6 22.8 .5 6.4 .6-57.6 .5-2.2 .6 74.4 .5-.1 .6-72.8 .5 50.3 .6-49.9 .5 39.1 .6 23 .5 7.9 .6-52.5 .5 8.1 .6 34.7 .5 10.4 .6 0 .5-42.7 .6 42.7 .5-55.3 .6 55.6 .5-23.6 .6-19.7 .5-11.4 .6 16.3 .5-14.2 .6 40.9 .5 9.9 .6-36 .5 1.4 .6-6.3 .5 30.1 .6 15.1 .5-37.6 .6 37.9 .5-16.1 .6 14.3 .5-24.2 .6-8.1 .5-14.2 .6 48.2 .5-1.4 .6-48.9 .5 38.5 .6-9.6 .6-26.3 .5 45.2 .6 .6 .5-50.1 .6-4.4 .5 41.7 .6-35.2 .5 2.5 .6 46.4 .5-50.6 .6 26.2 .5-24.8 .6 49.9 .5-39 .6-20.1 .5 16.1 .6-16.1 .5 1.2 .6 1 .5 31.8 .6-16.6 .5 43.6 .6 .1 .5-48.7 .6 32 .5 18.1 .6-.3 .5 .1 .6-9.8 .5-33.8 .6 10.8 .5-23.8 .6 .1 .5 56.1 .6-31.3 .5-2.7 .6-7.4 .5 30.1 .6 11.2 .5-.5 .6-3.6 .5-54.1 .6-.6 .5 58.4 .6-58 .5 45.5 .6-39.2 .5 52.7 .6-.7 .5-47.8 .6 21.9 .5-11.9 .6-31.8 .5 1.3 .6 1.5 .5 .1 .6 30.8 .5 7.4 .6 29.1 .5-22 .6 22.4 .5-4.5 .6-.5 .5-52.1 .6-7.5 .5-1.9 .6 15.4 .5-1.4 .6-11.3 .5 .6 .6 9.5 .5 23.8 .6-3.9 .5 17.3 .6 13.6 .5-27.3 .6 27.6 .5-35.4 .6 33.5 .5-76.7 .6 4.3 .5 5.1 .6 65.4 .5-6.9 .6-70.4 .5 13.3 .6-7.8 .5 2.5 .6 13.8 .5 2.1 .6 33 .5-38.6 .6 63 .5-79 .6 77.8 .5-.1 .6-77 .5 .8 .6 39.6 .5-45.4 .6 81.7 .5-97.2 .6-5.7 .5-3.1 .6 .2 .5 94.6 .6 11.4 .5 .7 .6-83.9 .5-15.4 .6-1.2 .5 101.7 .6-.1 .5-90.3 .6 68 .5 21.9 .6-34.9 .5-46.8 .6-1.6 .5 52.8 .6 31.1 .6-84.9 .5-.3 .6 85.2 .5 .6 .6 0 .5-46.6 .6 41.2 .5 3.8 .6-52.1 .5 49.4 .6-.7 .5-.4 .6-15.3 .5 11.9 .6 3.6 .5-21.1 .6 21.4 .5-2.5 .6-58.7 .5-.4 .6 62.2 .5-.3 .6-.1 .5-62.7 .6-1 .5 37.4 .6-10.6 .5 22.7 .6-9.2 .5-10 .6 33.8 .5-44.7 .6 41.4 .5-22.2 .6-12.8 .5-31.2 .6 38.2 .5 29.6 .6 1.4 .5-28.2 .6-58.7 .5 2.5 .6 85.8 .5-8.6 .6-27.5 .5-42 .6 79.4 .5-77.7 .6 77.5 .5-78.1 .6 65.4 .5 10 .6-63.6 .5-2.6 .6 0 .5 53 .6 .1 .5-65.5 .6 51.8 .5-55.2 .6 82.3 .5 .8 .6 .4 .5 .4 .6 .6 .5-58.4 .6-23.2 .5 64.8 .6 16.3 .5 1.2 .6-35.8 .5 33.9 .6-42.3 .5-14.7 .6-41.2 .5 49.7 .6 18 .5-40.6 .6-6.7 .5-12.1 .6 54.4 .5-36.6 .6 64.8 .5-61.2 .6-21.2 .5-36.3 .6 98.1 .5-25.7 .6 10.4 .5-22.1 .6-8.3 .5-23.7 .6 .5 .5 1.2 .6 40 .5-35 .6 80.9 .5-41.7 .6 12.1 .5 42.8 .6-75.9 .5-.9 .6 17 .5-12.8 .6 9.9 .5 23.6 .6-7.6 .5-9.6 .6 4.2 .5-27.3 .6 19.3 .5-17.8 .6 13.8 .5-11.7 .6 24.3 .5-7.1 .6-1.7 .5-14.7 .6 36.3 .6-36.7 .5 40.5 .6-12.6 .5 47.6 .6-16.5 .5 17.2 .6 .1 .5-1.8 .6-15.1 .5 15.5 .6-46 .5 46.9 .6-49.5 .5 49.1 .6-64.3 .5-3.4 .6 12.6 .5-11.3 .6 64.4 .5-15.4 .6-48.4 .5 65 .6-71.1 .5 46.9 .6 25.9 .5-66 .6 10.5 .5 33.4 .6 21.5 .5-5.2 .6-33.3 .5 36.7 .6-10.5 .5-21.3 .6 30.6 .5-40.3 .6 24.5 .5 16 .6-.1 .5-.2 .6-41.2 .5 3.9 .6 40.2 .5 .6 .6 .9 .5-100.4 .6 100.8 .5-103.1 .6 45.2 .5-41.7 .6 91.1 .5-90.6 .6-1.4 .5-1 .6 59.9 .5-60.6 .6 61.8 .5-9.7 .6-51.2 .5 .4 .6 61.3 .5-.6 .6-.8 .5-35.6 .6-20 .5 52.5 .6-36.9 .5 36.2 .6-21 .5-10 .6 32.4 .5 .6 .6 .8 .5-58.3 .6 57.6 .5-60.7 .6 27.4 .5 20.5 .6 12.6 .5-52 .6 39.9 .5 12.2 .6-47.1 .5 36.1 .6-42.6 .5 90.4 .6 0 .5-52.8 .6 4.5 .5 47.9 .6-79.9 .5-.1 .6 5.7 .5 37.7 .6 38.3 .5 .7 .6-.5 .5-53.7 .6 52 .5-.1 .6-59.9 .5 45.6 .6-16.7 .5 30 .6 .9 .5-11.1 .6-57.3 .5-1.3 .6 70.2 .5 1 .6-62.5 .5 38.9 .6-31.1 .5 54.3 .6-18.4 .5 13 .6 8 .5-60.7 .6 59.7 .6 .2 .5-.5 .6-55.3 .5 54.6 .6-7.5 .5 7.4 .6-48.1 .5 3.4 .6 43.8 .5-14.3 .6-23.5 .5 10.2 .6 10.9 .5 9.6 .6-25.9 .5 27.8 .6-56.2 .5 62.6 .6-10.8 .5 0 .6 3.8 .5-9.9 .6-7.2 .5-37.6 .6-.9 .5 .3 .6 2.5 .5 36.8 .6 21.8 .5-58.3 .6 40.2 .5-14.4 .6-25.7 .5 14.9 .6 44.9 .5-70.7 .6-.7 .5 13.6 .6 62.5 .5-9 .6-17.3 .5-41.9 .6 64.3 .5-3 .6-46.7 .5 9.2 .6 38.8 .5-62.9 .6 19.1 .5-4.5 .6-15.4 .5 66.1 .6-49 .5-15.5 .6 2.4 .5 62.2 .6-58.5 .5 10.4 .6 40.8 .5-59.9 .6 51.6 .5 14.4 .6 0 .5-22.2 .6 17.5 .5-12.8 .6-40.7 .5 25 .6-29.1 .5 44.6 .6-24.6 .5 39.1 .6-1.2 .5-47.1 .6 29.8 .5-8.3 .6-22.1 .5 47.6 .6-46.6 .5 14.1 .6-11.3 .5 46.4 .6-50 .5 49 .6-7.1 .5 8 .6 .1 .5-45.6 .6 2.6 .5 42.8 .6-22.4 .5 23.4 .6 .8 .5-1.2 .6 2.3 .5-21.7 .6-7.2 .5 5.4 .6 8.4 .5 1.5 .6-11.6 .5 8.9 .6-15 .5 29.4 .6 .6 .5-18.2 .6-9.4 .5 27.7 .6-4.8 .5-15.8 .6 20.3 .5-25 .6 5 .5-6.1 .6 24.9 .5-20.3 .6 18.9 .5-5.9 .6 6.6 .6-25.6 .5 27.1 .6 .3 .5-22.7 .6 8.8 .5-4.4 .6 18.4 .5-24.8 .6 22.6 .5 .3 .6-21.9 .5 20.3 .6-2.3 .5 1.9 .6-20 .5-11 .6 27.4 .5 4.3 .6-7.4 .5-8.6 .6-19.4 .5 7.2 .6-6.1 .5 34 .6-33.4 .5 34.2 .6-31.8 .5 1.7 .6 1.4 .5 18.9 .6-11.2 .5 15.3 .6-15.9 .5 1.3 .6 24.2 .5-1.4 .6-14.6 .5-4.8 .6 18.8 .5-16.5 .6 15.5 .5-16.2 .6 .4 .5 14 .6 1.7 .5 .4 .6 .4 .5-13.6 .6-10.7 .5-.9 .6 15.9 .5 13.2 .6-24.4 .5 4.2 .6-7.6 .5 28.4 .6-27.6 .5 23.9 .6-23 .5 27 .6-7.6 .5-11.9 .6 17.3 .5-5.6 .6-11.7 .5 17 .6-15.2 .5 7.4 .6 .2 .5 3 .6 2.9 .5-18.7 .6 16.8 .5-21.6 .6 18.7 .5 2.5 .6-9.7 .5 10.5 .6-9.6 .5 8.5 .6 1.4 .5-.9 .6-13.4 .5 14.3 .6-9.3 .5 4.1 .6-9.6 .5 16 .6-12.5 .5 7.4 .6 5.1 .5-7.5 .6-5.2 .5 8.8 .6-5.9 .5-12.6 .6 18.5 .5-10.4 .6 7.3 .5 6.4 .6-11.6 .5-20.2 .6 28.3 .5-24.8 .6 24 .5-2.6 .6-11.1 .5-4.6 .6-.9 .5 1 .6 12 .5-4.8 .6-6.9 .5 26.3 .6-29.7 .5 1.3 .6 28.4 .5-13.8 .6-23.8" class="a"/>
<path d="M949 412.2l1.7-10.2 1.6-3.9 1.7-.5 1.6 3 1.7-7.2 1.6 5.2 1.7 9.2 1.6-.8 1.7 4.3 1.6 1.3 1.7-2.3 1.6-2.2 1.7-.5 1.6-4.3 1.7-2.5 1.6 3.8 1.7-2.9 1.6 1.7 1.7-6.7 1.6-11.6 1.7-7.5 1.6-5.2 1.7-5.3 1.6-2.5 1.7-20.5 1.6-28 1.7-11.7 1.6 .7 1.7-5.6 1.6 .4 1.7 4.4 1.6 17.9 1.7 7.2 1.6 7.9 1.7 8.4 1.6-.4 1.7 5.1 1.6-12.8 1.7-9.8 1.7 7.5 1.6 20.8 1.7-12.2 1.6-13.2 1.7-1.1 1.6 26.5 1.7 6 1.6 4.7 1.7-13.4 1.6 1.1 1.7 7.3 1.6 11.7 1.7 13.6 1.6-14.4 1.7-3 1.6 2.7 1.7 15.5 1.6-19.8 1.7-1.4 1.6 2.8 1.7 7.2 1.6 7.3 1.7 1.6 1.6 .6 1.7-16.4 1.6 .1 1.7 2.7 1.6 2 1.7-3.8 1.6 3.5 1.7 11.5 1.6 22.3 1.7 20.2 1.6-23.8 1.7-3.2 1.6 5.9 1.7 26.1 1.6 10.4 1.7 .8 1.6-5.6 1.7-11.8 1.7 7 1.6-5.2 1.7-9.9 1.6-6.6 1.7-2.9 1.6 9.5 1.7 12.7 1.6-4.3 1.7-13.4 1.6-1.6 1.7-.5 1.6-2.5 1.7 3.1 1.6 5.7 1.7 6.2 1.6-4 1.7-.8 1.6 .4 1.7-2.7 1.6-7.1 1.7 0 1.6 1.9 1.7-.2 1.6 2.9 1.7 8.3 1.6 8.1 1.7 5.3 1.6-5.1 1.7-7.8 1.6-.1 1.7 1.8 1.6-3.1 1.7 8.5 1.6-7.3 1.7-14.6 1.6-15 1.7-5.1 1.6 1.1 1.7 6.5 1.7 18.5 1.6-11 1.7 24.9 1.6 14 1.7-5.5 1.6 5.7 1.7-6.1 1.6-7.3 1.7-3.8 1.6-1.6 1.7-3.1 1.6-2.5 1.7 7.7 1.6 1.2 1.7 .6 1.6 0 1.7 .6 1.6-25.9 1.7-4.6 1.6-4.5 1.7-15 1.6-.1 1.7 9.2 1.6 7.9 1.7-11.2 1.6 4.5 1.7 1.2 1.6 2.7 1.7 4.7 1.6 4 1.7 3.4 1.6 3.2 1.7 7 1.6-2.1 1.7 2.3 1.6 1.5 1.7 .8 1.6 11.7 1.7 9.6 1.7 1.2 1.6-14.5 1.7-16.7 1.6-2.2 1.7 1.5 1.6 15.6 1.7-13.5 1.6-2.7 1.7-.4 1.6 5.4 1.7 7.9 1.6-4.3 1.7-3.8 1.6 17.3 1.7-16.8 1.6 6.4 1.7 10.3 1.6-8.6 1.7 5.6 1.6 6.9 1.7 5.3 1.6-4.8 1.7-20.4 1.6-2.7 1.7-.2 1.6 0 1.7 8.1 1.6 1.1 1.7-2.3 1.6 5.7 1.7-32.7 1.6-16.8 1.7 .2 1.6 5 1.7 8.3 1.6-6.9 1.7-6.4 1.6-5.7 1.7-.6 1.6 15.2 1.7 3.1 1.7 3.7 1.6 1.1 1.7 .6 1.6 2.3 1.7 3.8 1.6 5.1 1.7 5.6 1.6 8.2 1.7-.6 1.6 .8 1.7 .4 1.6-9.8 1.7-19.9 1.6-11.5 1.7-2.3 1.6 1.4 1.7 3.2 1.6 6.2 1.7-2.4 1.6-6.2 1.7-9.8 1.6 2.1 1.7-.9 1.6 .1 1.7 2.6 1.6-8.2 1.7-4.1 1.6-5.4 1.7-4.6 1.6 22.6 1.7 21.1 1.6 10.2 1.7-16.8 1.6 8.8 1.7 1.6 1.6 3 1.7-2.2 1.6-5.3 1.7-.1 1.7 .3 1.6 .9 1.7 8.1 1.6 14.4 1.7 9.1 1.6-18.5 1.7 19 1.6-2 1.7-12.8 1.6-14.3 1.7-6.7 1.6 .6 1.7 5.8 1.6 17.1 1.7-14.8 1.6-3.9 1.7 0 1.6 17.1 1.7-15.4 1.6-8.3 1.7-6.4 1.6-1.3 1.7-7.6 1.6 4.8 1.7 8.3 1.6 7.6 1.7-4 1.6 7.2 1.7 12.6 1.6 .3 1.7-17.1 1.6 2.9 1.7 7.8 1.6 12.4 1.7-12.4 1.6-7.8 1.7 .9 1.6 8.7 1.7 4.6 1.6 7 1.7 3.5 1.7-4 1.6 5.2 1.7 2.1 1.6-4.2 1.7-16.7 1.6 3.2 1.7-1.7 1.6 .4 1.7 14.2 1.6-18 1.7 .4 1.6 6 1.7 10.8 1.6 1.2 1.7-3.5 1.6-4.4 1.7 5.3 1.6-8.2 1.7 1.1 1.6 .6 1.7 2.4 1.6-3.3 1.7 1.9 1.6 2.5 1.7 4.1 1.6 2.3 1.7 6.5 1.6 9.3 1.7 7.5 1.6 3.7 1.7-6.2 1.6-4 1.7 2.2 1.6-1.1 1.7 4.9 1.6 6.6 1.7-4.9 1.6 5.9 1.7-5.2 1.7-7.4 1.6 5.1 1.7-7.5 1.6 3.6 1.7 2.7 1.6-7.5 1.7 2.8 1.6-3.1 1.7-1.1 1.6 .5 1.7 10.5 1.6 1.3 1.7-2.7 1.6 2.8 1.7 3.8 1.6 3.4 1.7 4.2 1.6-2.5 1.7 1.5 1.6-1 1.7 .9 1.6 2.4 1.7-3.9 1.6-3.1 1.7-2.5 1.6 2 1.7 4.8 1.6-.8 1.7-4.2 1.6-4.1 1.7 2.5 1.6-7.1 1.7-11.5 1.6-18.2 1.7-3.5 1.6-8.2 1.7-12.5 1.6-9.6 1.7 .2 1.1 1.9 0 80-1.1-.6-1.7 2.2-1.6 3.4-1.7 .6-1.6-1.2-1.7-.2-1.6 .9-1.7 .7-1.6-.4-1.7-.5-1.6 .3-1.7 1.1-1.6-.2-1.7 .2-1.6-.2-1.7-2.3-1.6-2.1-1.7 .2-1.6 1.4-1.7 .2-1.6-1.6-1.7-1.1-1.6 .5-1.7 .7-1.6-.2-1.7-1.1-1.6-.2-1.7 1.2-1.6 .9-1.7-.1-1.6-.1-1.7 .1-1.6 .4-1.7 .7-1.6 .6-1.7 .8-1.6 .2-1.7-.6-1.6 .3-1.7 1.3-1.7-.2-1.6-.4-1.7-.3-1.6-1.5-1.7-2.1-1.6 .3-1.7 1.9-1.6 .5-1.7-.9-1.6-.9-1.7 .5-1.6 .9-1.7-.9-1.6-1.9-1.7-.6-1.6-.5-1.7-.2-1.6 1.2-1.7 1.5-1.6 0-1.7-.1-1.6 .5-1.7 .5-1.6 .4-1.7 1.4-1.6 1.7-1.7-.6-1.6-1.5-1.7-.9-1.6-1.7-1.7-.8-1.6 .6-1.7 .9-1.6 .9-1.7 1.4-1.6 .3-1.7 .5-1.6 0-1.7-2.9-1.7-3.5-1.6 .3-1.7 2.2-1.6 .8-1.7 .2-1.6 .1-1.7-.4-1.6-.6-1.7-.6-1.6-1.2-1.7-.4-1.6 1.7-1.7-29-1.6-9.9-1.7-.8-1.6-.3-1.7-.9-1.6-.3-1.7-.2-1.6-.1-1.7 0-1.6-.1-1.7 11.4-1.6 29.8-1.7 .9-1.6 1-1.7 .8-1.6 1.1-1.7 .9-1.6-.1-1.7 0-1.6-.4-1.7-.8-1.6-.4-1.7-1.5-1.6-2-1.7 .6-1.6 2.2-1.7 .6-1.6-39.9-1.7 .1-1.7 1-1.6 1-1.7 .8-1.6 1.1-1.7 9.6-1.6 26.6-1.7-2.3-1.6-.8-1.7-.3-1.6 .1-1.7-.4-1.6 .5-1.7 2-1.6 1.3-1.7 .4-1.6 .3-1.7-1.1-1.6-2-1.7-.9-1.6-1.2-1.7-.6-1.6 2.1-1.7 2.8-1.6 .7-1.7 .7-1.6-.1-1.7-3.2-1.6-2.4-1.7 .2-1.6 .2-1.7 .2-1.6 .4-1.7 0-1.6-.4-1.7-.3-1.6-.3-1.7-.5-1.6-.1-1.7 .1-1.7 .1-1.6 1-1.7 .9-1.6 1.4-1.7 1.8-1.6-.6-1.7-3.2-1.6-1.1-1.7 .8-1.6 .4-1.7 1.1-1.6 1.7-1.7 .2-1.6 .6-1.7 .9-1.6 0-1.7 0-1.6-.3-1.7-.8-1.6 .6-1.7 1.9-1.6 .5-1.7-1.5-1.6-1.4-1.7-.6-1.6-.7-1.7-.8-1.6-.2-1.7-.1-1.6-1.2-1.7-1-1.6 .1-1.7 .4-1.6 .1-1.7 .3-1.6-.1-1.7-1.4-1.6-1-1.7 .5-1.6 .9-1.7 .4-1.7-.3-1.6 .4-1.7 1.3-1.6 .8-1.7 1.9-1.6 2.7-1.7-.1-1.6-2.7-1.7-.9-1.6 .3-1.7-.1-1.6-.5-1.7-.4-1.6-.1-1.7 .3-1.6 .5-1.7 1.6-1.6 1.2-1.7 .6-1.6 .5-1.7 .3-1.6 .5-1.7 .2-1.6-.5-1.7-.4-1.6-.3-1.7-.6-1.6-1.4-1.7-1.1-1.6-.6-1.7-1.7-1.6-.6-1.7 2.2-1.6 2.4-1.7 .7-1.6-.4-1.7 0-1.6-.4-1.7-.3-1.7 1.4-1.6 1.6-1.7-.3-1.6-.8-1.7-1.2-1.6-2.2-1.7-1.4-1.6-.4-1.7-.3-1.6 .8-1.7 .5-1.6 .5-1.7-.1-1.6-.9-1.7 .4-1.6 1.1-1.7-.7-1.6-.3-1.7 .2-1.6 .1-1.7 .3-1.6 1-1.7 1-1.6-1.1-1.7-3.6-1.6-1.2-1.7 2.2-1.6 1.6-1.7-.6-1.6-.8-1.7 .1-1.6 .3-1.7 .2-1.6 .9-1.7 .9-1.6-.4-1.7-.6-1.6-.3-1.7-1.3-1.7-.4-1.6 2.2-1.7 1.3-1.6-1.7-1.7-1.8-1.6-.5-1.7-.7-1.6 .2-1.7 .9-1.6 .7-1.7-2.5-1.6-3.5-1.7-2.3-1.6-1.7-1.7-2.2-1.6-2.5-1.7-2.7-1.6-18.5-1.7-3.2-1.6-.2-1.7-1.1-1.6-.3-1.7 .9-1.6 .3-1.7-.3-1.6-.1-1.7-.5-1.6-1.5-1.7-.1-1.6-.2-1.7 0-1.6 2-1.7 2.7-1.6 .3-1.7-.3-1.6 0-1.7-.3-1.6-.3-1.7-.4-1.6-.7-1.7 .2-1.7 1.2-1.6 .1-1.7-2.7-1.6-2.3-1.7-.6-1.6-.2-1.7-.4-1.6-.4-1.7-.2-1.6 .8-1.7 .6-1.6 .7-1.7 1-1.6-.5-1.7-2-1.6-.6-1.7 .5-1.6 .4-1.7 1-1.6 9.8-1.7 18.8-1.6-.2-1.7-.2-1.6-1.9-1.7-1.1-1.6 1.6-1.7 1.9-1.6 .1-1.7-.8-1.6 0-1.7-.6-1.6-.3-1.7 2.4-1.6 2.7-1.7-.1-1.6-.6-1.7-1-1.6-2.4-1.7-1.6z" fill="#6ABD45" fill-opacity="0.85"/>
<path d="M949 420.8l.6 22.7 .5-40.1 .6 17.5 .5 28 .6 1.4 .5-43.2 .6 44.6 .5-.7 .6-56.5 .5 57.6 .6-55.5 .5 1.6 .6 43.5 .5 11.4 .6-1 .5-.9 .6-.7 .5-2.2 .6-32 .5 23 .6-24.1 .5 20.5 .6-31.8 .5 26.4 .6 17.4 .5-41.3 .6 35.5 .5-28.7 .6 2.3 .5 20.6 .6-28.3 .5 6.4 .6 13.8 .5 20.9 .6 .3 .5-44.2 .6 6.4 .5 9.4 .6-15.7 .5-.8 .6-1.2 .5 22.7 .6-12.7 .5 32.4 .6 1.5 .5-.2 .6-45.9 .5 35.7 .6 11.5 .5-48.4 .6 48.9 .5-49.8 .6 49.4 .5-47.9 .6-.1 .5-2.7 .6 28.6 .5-4 .6-3.5 .5-36 .6-3.4 .5 24.5 .6-9.2 .5 25.2 .6-3 .5-47.7 .6 41 .5 8.9 .6-19 .5-35.7 .6 42.9 .5-45.5 .6 37.3 .5 17.9 .6-75.3 .5 79.6 .6-69 .5-38.7 .6-6 .5-5.8 .6 .1 .5 76.2 .6-75.9 .5 74.6 .6 21.6 .5 21.7 .6-64.4 .5-4.8 .6-37.2 .5 88.9 .6-10.8 .5-72.8 .6 100 .5-.2 .6 0 .5 .2 .6-97.4 .5 43.6 .6 43.6 .5-79.5 .6 2.3 .5 87.8 .6-9.7 .5-12.2 .6-12.6 .5-42.5 .6 47.1 .5-47 .6 1.6 .5 80.8 .6-77.1 .5 36.3 .6 41.5 .5-.2 .6-97.7 .5 33.3 .6 13.5 .5-.6 .6 49.3 .6-73.6 .5 74.5 .6-49.4 .5 50 .6-17.5 .5 10.3 .6-76.2 .5 36.9 .6 12.2 .5-45.6 .6-19.3 .5-1.2 .6 2.2 .5 27.5 .6 26.3 .5 13.4 .6-9.2 .5 40.6 .6-37.3 .5 21.6 .6-40.9 .5 1.8 .6-13.1 .5-5.1 .6 70.7 .5-10 .6-.6 .5 9 .6-.2 .5-65.9 .6 65.1 .5-55.9 .6 56.9 .5-50.9 .6 50 .5 1.2 .6-12.7 .5 8.6 .6-29.9 .5 34.8 .6 .8 .5-55.6 .6-.5 .5 10.2 .6 46.5 .5-.6 .6-16.4 .5 4.5 .6 6.6 .5-37.1 .6 42.1 .5-30.7 .6-29.2 .5 .3 .6 1.2 .5 39.6 .6-37.7 .5 .7 .6 19.7 .5-14.1 .6 2.5 .5 46 .6-42.2 .5 2.2 .6 1.1 .5 0 .6 44.3 .5-38.8 .6-1.9 .5 47.9 .6 3.8 .5-24.4 .6 21.3 .5 5.4 .6-65.8 .5 52.1 .6 4.5 .5 14.9 .6 7 .5-45.5 .6 47.2 .5 .3 .6 1 .5-1.4 .6-36.5 .5 40.3 .6-86.6 .5 89.5 .6-28.6 .5-57 .6 88.2 .5-70.4 .6 6.9 .5 13 .6 48.9 .5 .1 .6-.4 .5-16.5 .6 15.9 .5-1.1 .6-42.5 .5-18 .6 62.6 .5-51.4 .6-11 .5 62.3 .6-47.8 .5 20.5 .6 30.2 .5-2.2 .6 2.4 .5 1.1 .6-19.1 .5-4.9 .6 23 .5-25.5 .6-1.2 .5 21.7 .6-21.9 .6 23.3 .5 1.1 .6-36.7 .5 21.9 .6 3.4 .5-3.5 .6 17.1 .5-8.7 .6-32.7 .5-3.4 .6 41.6 .5-14.1 .6 .5 .5 0 .6-19.3 .5-10.5 .6-11.7 .5 50.1 .6-45.6 .5 52.5 .6-39 .5 39.4 .6-33.7 .5 27.8 .6-32.8 .5 38.3 .6-7.6 .5 6.9 .6-8.7 .5 8.7 .6-52.9 .5-.2 .6 .8 .5 .1 .6-1 .5 54.9 .6-57.2 .5-.6 .6 49.2 .5-13.6 .6 10.5 .5-4.2 .6 12.1 .5 1.1 .6-42.5 .5 6.1 .6-3.1 .5 43.4 .6-32.9 .5 10.3 .6-25.8 .5 20.7 .6 24.3 .5-46.1 .6 5.7 .5 42.6 .6 .1 .5-46.8 .6-2.8 .5 49.3 .6-55 .5-1.2 .6-1.3 .5 57.1 .6-.5 .5 1 .6-19.1 .5 17 .6-35.5 .5 32.6 .6-49.9 .5 22.7 .6 32.2 .5-52.1 .6 37 .5-2 .6 16.1 .5-36.1 .6 21.2 .5 3.6 .6-14.8 .5-2.9 .6 30.4 .5-30.4 .6-4.6 .5 16.1 .6-18 .5 32.9 .6-.8 .5-7.4 .6-3.5 .5 10.7 .6-37.4 .5 27.8 .6-10.7 .5-17.9 .6-1.5 .5 43.4 .6-17.2 .5 .7 .6-18 .5 36 .6-4.9 .5-32.2 .6 39.2 .5 .7 .6-62 .5 45.3 .6 10.5 .5-4.5 .6-31 .5 43.6 .6-.8 .5-82.6 .6 0 .5 82 .6-65.8 .5 63.7 .6 .3 .6-67.2 .5 36.6 .6 30.4 .5-42.5 .6 7.4 .5 35.2 .6 .6 .5-18.7 .6 19.3 .5-29.7 .6 13 .5-3.2 .6-9.2 .5 19.1 .6-21.8 .5 26.8 .6-24.1 .5 5.7 .6-2.9 .5 21.4 .6-28.4 .5-3.5 .6-2.2 .5-2 .6 7.4 .5-10.4 .6 40.6 .5-17 .6-13.6 .5-9.8 .6-2.9 .5 11.4 .6-8.9 .5 20.7 .6-6.4 .5-21.7 .6 39.3 .5-19.7 .6-7 .5 39.7 .6-40.8 .5-2.5 .6 3.2 .5 3.5 .6 21.6 .5-28.2 .6 42.4 .5-42.1 .6 1.1 .5 17.8 .6-7.7 .5-8.3 .6 40.4 .5-36.2 .6-37.3 .5-.8 .6 14.4 .5 34.7 .6 24.4 .5-57.4 .6 27.4 .5-.1 .6-61.2 .5-1.9 .6 .3 .5 73.9 .6 9.3 .5-5.3 .6 12 .5-73 .6 56.9 .5 14.8 .6-46.2 .5-10.9 .6 57.4 .5 .2 .6-.8 .5-77.3 .6 28.3 .5-26.3 .6 .1 .5 74 .6-26 .5-27.4 .6 42.7 .5-57.3 .6 15.7 .5-14 .6 1.7 .5 15.6 .6-12.6 .5 .6 .6 44.2 .5 20.9 .6-62.1 .5 1.8 .6 12.2 .5-7.4 .6 57.1 .5-12.9 .6-44.6 .5 40 .6 13.6 .5-51.8 .6 .4 .5 .8 .6 .3 .5 8.5 .6 39.6 .5-42.8 .6 23.2 .5 10.4 .6-17.4 .5-1.7 .6 24.6 .5-15.2 .6 8.2 .5 6.2 .6 4.1 .6-23.2 .5-4.4 .6 27 .5-37.4 .6 36 .5-.2 .6-39.1 .5 22.5 .6-37.8 .5-.3 .6-1.2 .5 38.4 .6-7.8 .5-13 .6 9.2 .5 31.8 .6 0 .5-47 .6 47 .5-12.1 .6 12 .5-14.7 .6-42 .5 15.2 .6 11.6 .5 29.9 .6-14.3 .5 13.6 .6-49.4 .5 26.1 .6-20.3 .5 45.5 .6-44.8 .5 21.3 .6-6.9 .5 31.3 .6-16.7 .5-9.3 .6-6.8 .5 28.1 .6-34.9 .5-6.6 .6 37.1 .5 10.3 .6 .4 .5-48.3 .6 48.3 .5-6.9 .6 7.7 .5-42.8 .6 43.1 .5-18.1 .6-4.2 .5 24.1 .6 0 .5 .1 .6 0 .5-.4 .6-30.5 .5-1.9 .6 .3 .5 12.8 .6 16.5 .5-33.2 .6 4.5 .5 23.1 .6-48.7 .5 16.6 .6-20 .5 59 .6-37.5 .5-.5 .6 33 .5-28.9 .6 34.1 .5-26.6 .6-19.9 .5-7.6 .6 3.7 .5 3.2 .6 .4 .5 5.2 .6-10.5 .5 51.1 .6-50.4 .5 2 .6 38.1 .5-2.3 .6-41.5 .5 20.6 .6-25.5 .5 47.1 .6-81.2 .5 2.7 .6-4.3 .5 31.7 .6-30.7 .5 2.5 .6 1.5 .5 86 .6-49.2 .5-5.1 .6 57 .5 1.3 .6-83.2 .5 71.3 .6-42 .5-39.4 .6 91.5 .5-.5 .6-96.2 .5 34 .6-29.3 .5 18.4 .6 71.2 .5-65.1 .6-21.8 .5 80 .6-15.2 .5-54.5 .6 26.4 .6-27.3 .5 51.4 .6-48.7 .5 73.8 .6-7.5 .5-.7 .6 8.6 .5-70.3 .6 17.9 .5-19.5 .6 35.4 .5-32.9 .6 .6 .5 47.7 .6 21.2 .5-64.3 .6 2.2 .5 62.6 .6 .9 .5-61.6 .6 60.7 .5-12.1 .6-35.8 .5 48.3 .6-48.3 .5-.2 .6 48.1 .5-39.9 .6 39.1 .5-35.9 .6-11.5 .5 45.6 .6-44.9 .5 15.3 .6-2.5 .5-22.4 .6-8.8 .5 43.7 .6 27 .5-81.6 .6 73.6 .5 8.7 .6-43.2 .5-52.9 .6 56.7 .5-56.3 .6 93.8 .5-26 .6-45.1 .5 3.3 .6 24.2 .5 40.1 .6-.9 .5-79.3 .6 1.6 .5-1.5 .6-2.4 .5-2.6 .6 9.1 .5 76.7 .6 .2 .5-.4 .6-98.4 .5 63.6 .6 10.3 .5 27.8 .6-100.2 .5 71.7 .6-42.9 .5-1.5 .6-21.8 .5 82.4 .6-87.3 .5 99 .6 .1 .5-.1 .6-43.6 .5 17.2 .6 5.6 .5-10.7 .6-51.5 .5-28.9 .6-2 .5-1.9 .6-2.7 .5-2.7 .6 15.8 .5-9.8 .6 50.4 .5-33 .6 39.5 .5-22.3 .6 9.9 .5 35.8 .6-2 .5 35.3 .6-22.7 .5 24 .6 1.3 .5-10.6 .6-29.5 .5-35.6 .6 0 .5 38.5 .6-20.1 .5 20.5 .6-.5 .5-32.9 .6 32.6 .5-.7 .6-20.3 .5 10.9 .6 8.2 .5-.6 .6-38.6 .5 38.9 .6-38 .5 29.7 .6-6 .6 12.9 .5 8.1 .6-44.3 .5 40.8 .6 35.9 .5 .2 .6-.6 .5-1.1 .6-18.3 .5-34.5 .6 51.4 .5-10.9 .6-30.9 .5 41.9 .6-29.1 .5-31.8 .6 54.3 .5-15.4 .6 2.9 .5 3.8 .6 18.5 .5 0 .6-49.1 .5 49.1 .6 .4 .5-1 .6-63.2 .5 62.2 .6-23.8 .5 26.4 .6-81 .5 24.7 .6 49.5 .5-5.1 .6-27.8 .5-2.8 .6 41.9 .5-69 .6 24.2 .5 38.1 .6-19 .5-33.6 .6-13.3 .5 70.9 .6-1.4 .5-66.3 .6 37.4 .5-35.9 .6 64.2 .5-10.9 .6 2.9 .5-37.6 .6-16.3 .5 13.8 .6 1.7 .5-26.9 .6 9.7 .5-15.6 .6 28.4 .5-34.1 .6 29.3 .5 14.3 .6-45 .5 12.9 .6-15 .5 47.8 .6-53.4 .5 53.6 .6-.5 .5-16.3 .6 12.2 .5-12.9 .6-5.8 .5 2.9 .6 6.9 .5-15.2 .6 2.1 .5 4.7 .6-14.8 .5 11.7 .6 23.1 .5-28.3 .6 63.8 .5-32.6 .6 40.1 .5-58.5 .6 56.6 .5-56.6 .6 43.2 .5 12.7 .6-72.9 .5 74.2 .6-57.6 .5 30.1 .6 18.9 .5-14.6 .6-8.9 .5 33.5 .6-54.4 .5 24.5 .6 30.5 .5 .6 .6-40.9 .5 8.7 .6 32 .5-67.1 .6 4.5 .5-10.5 .6 13.7 .5 19.8 .6-12.3 .5 36.3 .6 13.4 .5-.3 .6-10.9 .5 9.3 .6-50.8 .5 50.3 .6 1.6 .6-37.7 .5-7.8 .6 34.4 .5 14.2 .6-52.2 .5 .3 .6 2.1 .5 52 .6-10.8 .5-37.3 .6 47.8 .5-47.1 .6 .7 .5-5.5 .6-9.1 .5 60.5 .6-49.9 .5 48.6 .6-35.2 .5-27.9 .6 10.5 .5-11.3 .6 17.7 .5-13.9 .6 21.5 .5-26 .6 4.1 .5 59.2 .6 0 .5-15.1 .6 16.5 .5-45.4 .6 8.3 .5 38.6 .6-27.8 .5-39.3 .6 1.5 .5 30 .6 37.1 .5-38 .6 38.4 .5-.2 .6-18.3 .5-25.6 .6 22.1 .5 19.1 .6-25 .5-32.1 .6 3.5 .5-4.7 .6 50.1 .5 7.5 .6-37.2 .5-13 .6 49.4 .5-58.2 .6 56.4 .5-9.1 .6 9.8 .5-32 .6-24.9 .5-.2 .6 51.8 .5-49.7 .6 54.3 .5-55.5 .6 53.4 .5 1.2 .6-22.9 .5-1.6 .6 24.8 .5-46.7 .6 47.4 .5-29.2 .6-2.6 .5 21 .6-38.7 .5 11.8 .6 6.3 .5 34.2 .6-19.6 .5-26.3 .6 3 .5 4.8 .6 29.8 .5 7.6 .6-30.1 .5 11.6 .6-7.5 .5 25.6 .6-1.1 .5-6.3 .6 .7 .5-16.4 .6 25.3 .5-6.1 .6-27.7 .5 .5 .6 31.9 .5-8.7 .6-21.3 .5 28.4 .6-9.2 .5-13 .6 22.6 .5-14.4 .6-5.8 .5-.6 .6 20.8 .5 2.5 .6-23 .5 24.2 .6-27.2 .5 .7 .6 9.6 .5 2.9 .6-6.8 .5 11.5 .6-5.7 .6 15 .5-.9 .6-9.4 .5-12.3 .6 21.8 .5-2.5 .6-17.2 .5 19.5 .6 .4 .5-35.6 .6 25.5 .5 8.1 .6 1.9 .5-15.8 .6 15.1 .5-4.3 .6 3.5 .5-.5 .6-.6 .5-32.6 .6 32.6 .5 .4 .6-12.8 .5-21.8 .6 33.8 .5-13.6 .6-21.7 .5 35 .6-26.4 .5-8.1 .6 35.4 .5-25.3 .6 .1 .5 25.2 .6-.3 .5-1 .6-24.3 .5-.1 .6 1.8 .5 21 .6-16.1 .5 17.1 .6-20 .5 9.5 .6-5.3 .5-.8 .6 7 .5-4.3 .6 2 .5 12 .6-3.4 .5-4.8 .6 7.6 .5-1.9 .6-1.4 .5-7.9 .6 12.2 .5 .9 .6-7.1 .5 8.5 .6 0 .5-14.1 .6 13.8 .5-13 .6 7.7 .5 .6 .6 2.3 .5-2.3 .6 .5 .5 2.4 .6 1.4 .5-18.2 .6 19.7 .5 .8 .6-23.1 .5 4.7 .6 5.4 .5 14.5 .6-10.6 .5 9.7 .6-11.2 .5 7.8 .6-12.6 .5 13.3 .6-15.2 .5 7.4 .6 6.8 .5-20.4 .6-1.3 .5 0 .6 1.1 .5 23.9 .6 .4 .5 .1 .6-23.1 .5-7 .6 16.4 .5-23.1 .6 22.8 .5 .4 .6-31.2 .5 42.9 .6-61.3 .5-.7 .6 14.1 .5 15.4 .6-27 .5-10.7 .6 72.1 .5-.3 .6-84.4 .5-5.2 .6 55.5 .5 .3 .6-60.2 .5 87.7 .6-22.4 .5-19.3 .6 42.3" class="c"/>
<path d="M995 300l.6-43 .4 33 .3-22 .5 32" class="c"/>
<path d="M1493 420l1-69.5 .5 29.5 .5-18 .6 58" class="c"/>
<path d="M989 440l.6 4 .4-64" class="a"/>
<path d="M951 362.9l1.8 .2 1.8 .1 1.8 0 1.8-.1 1.8-.1 1.8-.4 1.8-1.6 1.8-1 1.8 .7 1.8 1.2 1.8 .4 1.8-.2 1.8-.1 1.8 .1 1.8-.7 1.8-1.5 1.8-2.1 1.8-2.4 1.8-1.7 1.8-1.4 1.8-1.2 1.8-1.3 1.8-.9 1.8-.7 1.8 1.8 1.8 1.7 1.8 2.2 1.8 2.8 1.8 2.7 1.8 1.8 1.8 1 1.8 1.2 1.8 1.6 1.8 1.7 1.8 1.8 1.8 2.9 1.8 2.8 1.8 1.5 1.8 .9 1.8 1.1 1.8 1.7 1.8 1.9 1.8 2.1 1.8 2.6 1.8 2 1.8 1.4 1.8 .6 1.8 .6 1.8 .5 1.8 .1 1.8 .6 1.8 2.1 1.8 2.2 1.8 .8 1.8 .7 1.8 1.6 1.8 2.8 1.8 2.8 1.8 2.7 1.8 2.3 1.8 2.1 1.8 2.2 1.8 2.7 1.8 2.3 1.8 1.2 1.8 .8 1.8 2 1.8 2.7 1.8 2.3 1.8 1.4 1.8 .6 1.8 1 1.8 1.6 1.8 1.8 1.8 1.4 1.8 1.4 1.8 1.4 1.8 1.2 1.8 .8 1.8 .6 1.8 .7 1.8 .4 1.8 .9 1.8 1.5 1.8 1.7 1.8 1.2 1.8 1.7 1.8 1.4 1.8 .8 1.8 .6 1.8-.5 1.8-.7 1.8-.7 1.8-.3 1.8 0 1.8-.2 1.8-1.2 1.8-1.7 1.8-1.1 1.8-.8 1.8-.7 1.8-.5 1.8-.3 1.8-.6 1.8-.1 1.8 .2 1.8-.6 1.8-1.8 1.8-1.9 1.8-1.1 1.8-1.1 1.8-1.1 1.8-.9 1.8-.8 1.8-.3 1.8-.1 1.8-.8 1.8-.6 1.8-.3 1.8 4.3 1.8 7.9 1.8 4.9 1.8-1.2 1.8-1 1.8-.9 1.8-1.5 1.8-2.1 1.8-1.7 1.8-.9 1.8-1 1.8-1 1.8-1.2 1.8-1.3 1.8-1.2 1.8-1.3 1.8-1.4 1.8-.6 1.8-.1 1.8-1.2 1.8-2.1 1.8-2 1.8-1.9 1.8-2.3 1.8-2 1.8-1.8 1.8-1.6 1.8-1.3 1.8 0 1.8 0 1.8-1.4 1.8-1 1.8-.5 1.8-.2 1.8-.1 1.8-.4 1.8-1.9 1.8-2.1 1.8-1.1 1.8-.4 1.9-.8 1.8-.6 1.8-.2 1.8-1.2 1.8-2.1 1.8-2 1.8-1.3 1.8-.6 1.8-.9 1.8-2.5 1.8-3.1 1.8-2.9 1.8-2.2 1.8-2.2 1.8-4.1 1.8-4 1.8 1.1 1.8 2.6 1.8 2.9 1.8 2.5 1.8 1.6 1.8-.1 1.8-1.2 1.8 .1 1.8-.6 1.8-1.8 1.8-1.8 1.8-1.4 1.8-.6 1.8-.6 1.8-1.1 1.8-1.6 1.8-1.6 1.8-1.5 1.8-1.6 1.8-2.1 1.8-2.9 1.8-2.8 1.8-1.5 1.8-.5 1.8-.6 1.8-1.4 1.8-1.6 1.8-1.4 1.8-2.2 1.8-2.4 1.8-1.3 1.8-.3 1.8-.5 1.8-1 1.8-1.6 1.8-.5 1.8-.5 1.8-.5 1.8-.3 1.8-.4 1.8-.3 1.8 .2 1.8 .4 1.8-.4 1.8-1.4 1.8-1.5 1.8-.3 1.8 1 1.8 .3 1.8-.7 1.8-.7 1.8-.8 1.8-2 1.8-1.9 1.8-.6 1.8-.4 1.8-.4 1.8 .2 1.8 .5 1.8-.6 1.8-1.5 1.8-1.7 1.8-.8 1.8 .2 1.8 .1 1.8 .2 1.8 .7 1.8 .3 1.8-.8 1.8-1 1.8-.1 1.8 0 1.8-.4 1.8 .4 1.8 2.4 1.8 1.7 1.8 .8 1.8 1 1.8 1.8 1.8 1.7 1.8-.9 1.8-.1 1.8 .2 1.8-.7 1.8-1.1 1.8-1.1 1.8-.9 1.8-.8 1.8-1 1.8-1.4 1.8-1.6 1.8-1.4 1.8-1.2 1.8 .4 1.8 1.2 1.8 1.7 1.8 1.4 1.8 1.2 1.8 1.3 1.8 1.1 1.8 .7 1.8 .6 1.8 .5 1.8 .2 1.8 .9 1.8 1.6 1.8 1.8 1.8 1.9 1.8 2.2 1.8 2.1 1.8 .9 1.8-.1 1.8-.5 1.8-1.1 1.8-1 1.8-.5 1.8-.3 1.8-.5 1.8 .1 1.8 4 1.8 3.4 1.8 1.9 1.8 1.2 1.8 2.7 1.8 6.3 1.8 13.4 1.8 12.4 1.8 .9 1.8-1.1 1.8-.4 1.8-.2 1.8-.5 1.8 0 1.8 2.2 1.8 1.5 1.8 .4 1.8 .9 1.8 2.6 1.8 3.2 1.8 1.9 1.8 0 1.8 0 1.8 1.8 1.2 1.8 0 24.5-1.2-.4-1.8-.2-1.8 .5-1.8 .4-1.8-.3-1.8-.6-1.8-.4-1.8 .7-1.8 1.3-1.8 1.1-1.8 1.1-1.8 .3-1.8-.5-1.8-1-1.8-1.2-1.8-1.6-1.8-5-1.8-19.2-1.8-19.4-1.8-7.1-1.8-2.4-1.8-.9-1.8-1.7-1.8-2.9-1.8-3.2-1.8 1-1.8 .9-1.8 .9-1.8 1.4-1.8 1.2-1.8 1.6-1.8 3.2-1.8 4-1.8 .2-1.8-2.7-1.8-2.8-1.8-2.8-1.8-3.1-1.8-3.1-1.8-3.8-1.8-3.3-1.8-1.4-1.8 .1-1.8 .4-1.8-.6-1.8-.9-1.8-.7-1.8-.8-1.8-1-1.8-1.3-1.8-2-1.8-.2-1.8 1-1.8 1.3-1.8 1.5-1.8 2.4-1.8 3-1.8 2.4-1.8 1.5-1.8 1.5-1.8 1.8-1.8 1.9-1.8 1.9-1.8 1.4-1.8-1.1-1.8-.7-1.8-.5-1.8-.5-1.8-1-1.8-1.5-1.8-1.6-1.8-.5-1.8 .2-1.8-1-1.8-2.6-1.8-2.7-1.8-1.3-1.8-1.1-1.8-1.2-1.8-.9-1.8 .1-1.8 1.6-1.8 1.9-1.8 1.9-1.8 1.3-1.8 1.3-1.8 1.2-1.8 1.6-1.8 1.8-1.8 1.3-1.8 1.2-1.8 .8-1.8 .5-1.8-.1-1.8 .2-1.8 .8-1.8 1.2-1.8 1.6-1.8 1.5-1.8 1.2-1.8 .9-1.8 1.2-1.8 .5-1.8-1.2-1.8-2.2-1.8-1.3-1.8-.1-1.8 .1-1.8-.7-1.8-1.4-1.8-.5-1.8 1.5-1.8 2-1.8 1.7-1.8 2.7-1.8 2.3-1.8 .8-1.8 .6-1.8 .6-1.8-.4-1.8-.9-1.8 .7-1.8 2.2-1.8 2.5-1.8 1.9-1.8 2.2-1.8 1.9-1.8 .4-1.8-.4-1.8 .9-1.8 1.9-1.8 1.9-1.8 1.7-1.8 2.6-1.8 2.5-1.8 1.8-1.8 1.5-1.8 1.9-1.8 1-1.8-.6-1.8-2-1.8-3.2-1.8-2.7-1.8-.6-1.8 2.8-1.8 3-1.8 1.5-1.8 1.8-1.8 2.4-1.8 2-1.8 1.5-1.8 1-1.8 .8-1.8 1.1-1.8 2.1-1.8 2-1.8 .7-1.8-.9-1.8-.6-1.9 1.2-1.8 1.7-1.8 1-1.8 1.4-1.8 1.8-1.8 1-1.8 0-1.8 .6-1.8 2.3-1.8 2.4-1.8 2-1.8 .5-1.8 .4-1.8 1.9-1.8 3-1.8 2.5-1.8 1.3-1.8 1.2-1.8 1.9-1.8 2.4-1.8 2.3-1.8 1.3-1.8-.5-1.8-.3-1.8 .7-1.8 .9-1.8 .5-1.8-.2-1.8-.1-1.8 .6-1.8 1.2-1.8 .8-1.8 .9-1.8 1.3-1.8 .9-1.8-.4-1.8-.2-1.8 .7-1.8-4.6-1.8-7.6-1.8-3.6-1.8 2-1.8 2.3-1.8 2.6-1.8 1-1.8 .7-1.8 .7-1.8 .9-1.8 1.4-1.8 1.6-1.8 1.1-1.8 .5-1.8 .5-1.8 .6-1.8 1.2-1.8 .8-1.8-.1-1.8-.7-1.8-.1-1.8 0-1.8 .1-1.8 .2-1.8 0-1.8 .1-1.8 .6-1.8 .9-1.8-.3-1.8-1.9-1.8-1.7-1.8-.3-1.8-.5-1.8-.5-1.8-.7-1.8-.7-1.8-.6-1.8-.7-1.8-.4-1.8 .2-1.8 .8-1.8 .6-1.8-.2-1.8-.9-1.8-1.4-1.8-1.6-1.8-1.8-1.8-2.2-1.8-2.4-1.8-1.9-1.8-.5-1.8 .2-1.8-.2-1.8-.4-1.8-1.1-1.8-2.7-1.8-4.3-1.8-3.5-1.8-1.4-1.8-.7-1.8-2.1-1.8-3.7-1.8-3.8-1.8-3.1-1.8-2.7-1.8-3-1.8-2.3-1.8-1.3-1.8-.9-1.8-.7-1.8-.5-1.8-.4-1.8-.3-1.8-.8-1.8-1.2-1.8-1.4-1.8-.8-1.8-.4-1.8-1.1-1.8-2.1-1.8-3.2-1.8-2.9-1.8-1.6-1.8-1.3-1.8-1.8-1.8-1.8-1.8-2-1.8-2.4-1.8-2.9-1.8-2.7-1.8-.8-1.8-.1-1.8-.6-1.8-1.4-1.8-1.2-1.8 .1-1.8 1-1.8 0-1.8-.3-1.8-1-1.8 .2-1.8 1.8-1.8 1.9-1.8 .7-1.8 .1-1.8 .5-1.8 .6-1.8 0-1.8 .2-1.8 1.6-1.8 1.3-1.8-.5-1.8-1.3-1.8-.9-1.8-.5-1.8 0-1.8 .5-1.8 1-1.8 1.3-1.8 .9-1.8 .1-1.8 0z" fill="#3953A4"/>
<path d="M951 367l.6 14.8 .6-14.6 .6-.4 .6 2.4 .6-1.8 .6 13.7 .6 .7 .6-1.2 .6-11.9 .6 8.4 .6 2.9 .6-12.8 .6-.7 .6 2.8 .6 9.2 .6-.8 .6-4.6 .6-4.9 .6 7.1 .6-4.4 .6-5.6 .6 8 .6 3.9 .6 .8 .6 .6 .6-9.8 .6-4.6 .6 7.5 .6 3 .6 6.3 .6-14.7 .6 5.2 .6 9.5 .6-14.9 .6 14.5 .6-11.5 .6 10 .6-11.8 .6 11.2 .6-.5 .6-10.4 .6 3.5 .6 1 .6-4.5 .6 2.7 .6 2.4 .6 5.4 .6-15 .6 .2 .6-.6 .6-1.4 .6-.8 .6 16.9 .6-11.5 .6 3 .6-4.8 .6 11.8 .6-5.8 .6-13.6 .6 18.1 .6-18.6 .6-.9 .6 0 .6 .2 .6 17.3 .6-3.6 .6-15.8 .6 20 .6-20.3 .6 7 .6-3.1 .6 17.2 .6-.7 .6-4.7 .6-1.5 .6 5.5 .6-17.8 .6 12.5 .6 4.6 .6-3.6 .6 3.9 .6-1.3 .6 1.8 .6-9.8 .6 .7 .6 2.5 .6 1 .6 6.8 .6 1.5 .6 .4 .6-2.9 .6-6 .6 4.1 .6-.5 .6 2.5 .6-1.1 .6-.2 .6 .8 .6-4 .6 .3 .6 12.5 .6-8.8 .6 10.6 .6 1 .6-2.1 .6-9.5 .6 12.6 .6-6 .6 4.7 .6 2.6 .6-8.7 .6 4.9 .6-3.2 .6 6.8 .6 2.9 .6-4 .6-4.4 .6-.2 .6 0 .6 13.1 .6-7.7 .6-3.3 .6 13.6 .6-8.2 .6-3 .6 3.1 .6 6.1 .6 6.4 .6 .9 .6-13.4 .6 13.3 .6-7.7 .6 .5 .6 .4 .6 2 .6-3.2 .6 10 .6-.8 .6-9.3 .6-.2 .6 .2 .6 12.1 .6-3.5 .6-3.8 .6 8.5 .6 .7 .6-1 .6-11.4 .6 11.9 .6-11.8 .6 5.7 .6-5 .6 .4 .6 10.8 .6-6.1 .6 1.8 .6-.5 .6-.2 .6-2 .6 .8 .6 8.8 .6-2 .6-6.5 .6 5.9 .6 4.4 .6-3.7 .6 1.7 .6-4.9 .6 4.5 .6-4.3 .6 10.4 .6-3 .6-.3 .6 2.5 .6 5.2 .6-9.1 .6 1.5 .6 11.6 .6 1.3 .6-4.5 .6 3.2 .6-8.6 .6 .7 .6 13.3 .6-11.3 .6 .7 .6 14.1 .6-12.4 .6 12.5 .6 .5 .6-10.5 .6 .7 .6 11.6 .6-4.2 .6 6.4 .6 2 .6-14.6 .6 .8 .6 0 .6 16.3 .6 2.6 .6-4.9 .6 2.4 .6 4.1 .6 .3 .6-6.8 .6-7.7 .6 .8 .6 .9 .6 7 .6-1.5 .6-4.6 .6 1.3 .6 10.3 .6-9.7 .6 10.5 .6-1.3 .6-9.3 .6 2.4 .6-.7 .6 5.9 .6-4.9 .6 3.3 .6 9.9 .6-7 .6 9 .6-3.2 .6-10 .6 15 .6-11.6 .6 5.1 .6-1.8 .6 10.2 .6-10.6 .6 10.9 .6-13 .6 1.1 .6 12.9 .6-2.9 .6-10.5 .6-.4 .6 10.9 .6-10.6 .6 12.5 .6-11.1 .6-.1 .6 3.9 .6-2.3 .6 4.8 .6 2.7 .6 .9 .6 1.6 .6-8.6 .6 4.3 .6-3.9 .6 5.3 .6-.4 .6 .2 .6 3 .6-5 .6 2.1 .6-1.4 .6 6.9 .6-1.5 .6 .3 .6 1.2 .6 .4 .6-1.6 .6-4.1 .6 .2 .6 2.8 .6 2.6 .6-2.1 .6-2.1 .6-1.1 .6 6.3 .6-7.2 .6-.7 .6 9.4 .6 2.1 .6-5.8 .6 5.7 .6-11.5 .6-.1 .6-.6 .6 5.9 .6-5.5 .6 3.5 .6 6.8 .6-4.1 .6-.1 .6 3.6 .6 .8 .6-2.6 .6-2.2 .6-9.1 .6 .7 .6-1.9 .6-.4 .6 10.7 .6-2.6 .6 4.5 .6-2 .6-11 .6 15.6 .6-4.3 .6-12.2 .6 10.8 .6-5.3 .6 1.4 .6 1.6 .6 1.3 .6 3.1 .6 3.8 .6-5 .6-6.6 .6 2.5 .6 7.7 .6-16.3 .6-.2 .6 15.1 .6-.5 .6 .2 .6 .3 .6-16.6 .6-1 .6 17 .6 .2 .6-13.2 .6 6.8 .6-13 .6-.9 .6 16 .6-.9 .6-8.7 .6 1.4 .6 8.2 .6-18.2 .6 .6 .6-.4 .6-.8 .6 17.8 .6-3.4 .6-5.8 .6 8.2 .6-17.8 .6 12.6 .6 3.4 .6 0 .6-.7 .6-4.7 .6-6.9 .6-4.9 .6 4 .6 7.7 .6-11.1 .6 10.9 .6-1.8 .6-2 .6-1.1 .6 1.6 .6 1.5 .6 2.9 .6 11.7 .6 2.5 .6-.2 .6-10.3 .6 9.4 .6-6.1 .6 6.3 .6-10.7 .6 11.3 .6 .4 .6-10.3 .6 10.5 .6-.9 .6-.6 .6-13.7 .6 13.5 .6-.3 .6-5.2 .6 3.8 .6 0 .6-.4 .6-7.4 .6-8.4 .6 14.9 .6-9.1 .6-6.6 .6 1.5 .6-1.2 .6 4 .6 10.3 .6-2.5 .6-6.5 .6-7.8 .6 0 .6 11.4 .6 2.9 .6 2.8 .6-1 .6-3.9 .6-8.9 .6 8.7 .6-5.7 .6-1.8 .6 10.2 .6-15.1 .6 2.3 .6 12.4 .6-18.8 .6 5.8 .6 14.5 .6-14.2 .6-5.5 .6 6.8 .6-9.2 .6 9.7 .6 9.7 .6-22.6 .6 5.8 .6 13.4 .6-21.3 .6-.4 .6-1 .6 20 .6-20.8 .6 2.6 .6-4.2 .6-.7 .6 19.5 .6-20.8 .6 9.4 .6-10.4 .6-.5 .6-1.4 .6 6.8 .6 3.2 .6-11.3 .6 19.9 .6-.3 .6-.7 .6-8.5 .6-6.1 .6 5.6 .6 2.1 .6-10.5 .6 8.9 .6-11.9 .6 17.9 .6-14.2 .6-1.5 .6 13.7 .6-11.8 .6 10.1 .6-1.6 .6-14.7 .6 15 .6-2.5 .6 1.6 .6-10.9 .6-1.7 .6 7 .6-9.2 .6 13.9 .6-.1 .6-12.5 .6 10.8 .6-6.4 .6-9.4 .6 15 .6-15.7 .6 10.1 .6-2.8 .6-4.7 .6 11.2 .6-1.3 .6-.8 .7-8 .6-5.5 .6 4.5 .6 .8 .6 3.8 .6-9.6 .6 5.5 .6-5.3 .6-1 .6 15.6 .6-14.1 .6 13.8 .6-17.8 .6 15.8 .6-16.6 .6 6.6 .6 1.2 .6 6.6 .6-4.6 .6 1.5 .6-3.4 .6 3.4 .6-9.4 .6 11 .6-13.5 .6-2.8 .6 14.6 .6-16.7 .6 15.7 .6-17.5 .6 10.3 .6 3.2 .6-16.9 .6 3.9 .6 13 .6-1 .6-19.3 .6 14.4 .6 3 .6-19.4 .6-1.1 .6 19.5 .6-4.9 .6-15.6 .6-.4 .6 8.7 .6-10.1 .6 17.3 .6-4.1 .6 4.4 .6-8.3 .6-3 .6-8.4 .6 2 .6 13 .6-2 .6 13.3 .6-.8 .6 2 .6-4.8 .6 5.3 .6-7.9 .6-12.5 .6 .7 .6-.6 .6 12.8 .6-9.6 .6 14.2 .6-.5 .6-7.4 .6 5.9 .6 0 .6 0 .6-1.4 .6-10.3 .6-6.6 .6-.7 .6-.4 .6 11 .6 1.8 .6-11.8 .6-.7 .6 8.8 .6-12.1 .6-.2 .6 7.5 .6-8.4 .6 3.1 .6 1.4 .6-.7 .6-4.3 .6 11.2 .6-5.4 .6-7.9 .6 12.8 .6 .9 .6-13.1 .6 9.9 .6-4 .6-3.8 .6 9 .6-.9 .6-14.7 .6 9.3 .6 .3 .6-8.4 .6 10.6 .6-5.7 .6-2 .6-2.3 .6-8.5 .6-.3 .6 6.2 .6-8.9 .6 15.6 .6-16.2 .6 11 .6 5.5 .6-17.4 .6 0 .6 5.7 .6 8 .6 4.5 .6-6.1 .6-.6 .6 .1 .6-13.8 .6-.3 .6 18.8 .6-12.1 .6 .6 .6-9.5 .6-1.5 .6 20.1 .6-15.3 .6-.8 .6-6.6 .6 13.5 .6-14.3 .6-.8 .6-.4 .6 10 .6-8.3 .6 15 .6 0 .6 0 .6 .3 .6-2.1 .6 3.1 .6-.3 .6 .8 .6-12.7 .6-.1 .6 11.3 .6-20.7 .6 15.6 .6-5.6 .6 11.3 .6 1.9 .6-24.4 .6 24.7 .6-21.4 .6 18.4 .6-21.9 .6 26.6 .6-21.3 .6 11.8 .6 9.8 .6-22.7 .6 25.7 .6-30.4 .6 18.4 .6-15.1 .6 17.6 .6-20.1 .6-.7 .6 3.9 .6 8 .6-3.4 .6-6.5 .6 19.3 .6 4.5 .6-27.4 .6 26 .6-27.7 .6 19 .6-17 .6 17.5 .6-18.6 .6 2.6 .6 7.5 .6 3.7 .6 4.5 .6-13.5 .6 2.6 .6 12.4 .6-20.4 .6 17.8 .6-17.9 .6 13.6 .6-2.3 .6-11.4 .6 5.5 .6-7 .6-.9 .6 2 .6-2.9 .6-.5 .6-1.1 .6 0 .6 19.4 .6 2.3 .6-22 .6-.5 .6 5.4 .6-4.9 .6-.6 .6-.1 .6 2.1 .6 12.9 .6-15.2 .6 20.9 .6-16.9 .6 9 .6-12.2 .6 18.7 .6-17.5 .6-2.8 .6 14 .6 3.7 .6-9.9 .6-10.1 .6 .4 .6-1.1 .6 17 .6-.1 .6-14.1 .6-2.3 .6 17.5 .6-17.5 .6 2.5 .6 3.4 .6 12.6 .6-4 .6-13.6 .6 5.3 .6-5.5 .6-.5 .6 1.2 .6 7.3 .6-7.1 .6-1.3 .6 22.7 .6-5.7 .6-5.7 .6-9.7 .6 6 .6 5.1 .6 8.8 .6-3.4 .6-19.7 .6-.2 .6 1.1 .6 21 .6 7.4 .6-27.2 .6-.9 .6 12.2 .6 5.7 .6-17.5 .6 30.6 .6-29.7 .6 14.8 .6 11 .6 5.3 .6-21.1 .6 21.1 .6-.2 .6-8.5 .6 9.8 .6-16.8 .6 10.8 .6-15.5 .6 14.5 .6-17.2 .6 15.5 .6-8.4 .6-7.9 .6 13.9 .6-6.4 .6 17.4 .6-25.6 .6 13.6 .6-1.6 .6-10.6 .6 21 .6-11.9 .6-4.6 .6 10 .6 3.2 .6-4.6 .6 3.7 .6-8.7 .6 8.1 .6 .1 .6-1 .6-9.8 .6 1.5 .6-3.8 .6 2.1 .6-5.3 .6 4.2 .6 4.9 .6-16.6 .6 13.1 .6-13.6 .6 14.8 .6-15.6 .6 12.4 .6-10.1 .6 .2 .6 10.4 .6-15.4 .6 15.3 .6 .2 .6-8.9 .6 9.7 .6-8.4 .6 6.9 .6-6.6 .6-5.9 .6-1.4 .6 18.4 .6 .9 .6-.1 .6-.3 .6 .3 .6-.5 .6-16.1 .6 .1 .6 .4 .6 17.8 .6-13.5 .6 10.1 .6-11.9 .6-.4 .6 9.5 .6-4 .6-4.1 .6 14.6 .6-.7 .6-13.5 .6 15 .6-5.7 .6 6.4 .6-15.1 .6 16.6 .6-12.4 .6 14.8 .6-18.8 .6 16.8 .6 5.4 .6-20.3 .6 .9 .6 14.5 .6 7.3 .6-6 .6 9.8 .6-15.7 .6 8.4 .6-11.3 .6 10.2 .6 13.1 .6-15.4 .6 17.3 .6 1.2 .6-25.4 .6 3.7 .6 .4 .6-3.8 .6 4.6 .6-3.9 .6 21 .6-15.9 .6 2.3 .6 4.2 .6 1.1 .6 4.2 .6-3.5 .6-7.1 .6 6.6 .6-2.8 .6-6 .6 9.4 .6 0 .6-.9 .6-.1 .6-2.3 .6-9.5 .6-2 .6 7.2 .6 3.5 .6-13.5 .6 12.1 .6-2.1 .6-.3 .6 1.2 .6-6 .6 2.7 .6-.1 .6 .3 .6 3.6 .6 10.8 .6-12 .6 .4 .6-.2 .6 7.4 .6 7.5 .6-9.2 .6 3.6 .6 8.3 .6 3.9 .6 7.3 .6 2.8 .6 9.3 .6 5.3 .6 2 .6 13.3 .6-6.9 .6 6.7 .6-12.5 .6-13.5 .6 .1 .6 32.1 .6-17.5 .6-3 .6 20.5 .6-33 .6-.6 .6 33.9 .6-5 .6-28.8 .6 36.9 .6-6.8 .6-9.1 .6 15.3 .6-35.6 .6 10.2 .6 23.5 .6 .2 .6-31 .6 16.1 .6 14.2 .6-30 .6 10.1 .6-4.3 .6 11.7 .6-16.8 .6 .8 .6 5.9 .6 13.8 .6 7.2 .6-21.3 .6 12.9 .6 9.3 .6-7.4 .6-9.7 .6 16.6 .6-20.7 .6 .2 .6-.1 .6 4.8 .6 9.7 .6 6.1 .6-11.2 .6-7.8 .6 8.9 .6 6.3" class="d"/>
<path d="M1525.3 440l.5 20 .2-73 .3-34 .3-37.3 .3-39.7 .3-44 .3-13.4 .3-14.6 .3-14 .3-12 .3-11.5 .3-9 .3-6.8 .3-7.9 .3-7.8 .3-9 .3-11.4 .3-9.1 .3-6.7 1.3-1.9 .2 .2 .4-1.9-1 2.7 .4-2.1 1.2 .8-.3 .1 2.2 30.3 .1 37 .1 25 .1 38.6 .1 11.4 .1 5.5 .1 5.5" class="d"/>
<g font-family='"Liberation Sans", Arial, Helvetica, sans-serif' font-size="33" fill="#414042">
<text x="953.5" y="507.9" text-anchor="middle">0</text>
<text x="1099.2" y="507.9" text-anchor="middle">500</text>
<text x="1245.0" y="507.9" text-anchor="middle">1000</text>
<text x="1390.8" y="507.9" text-anchor="middle">1500</text>
<text x="1536.5" y="507.9" text-anchor="middle">2000</text>
<text x="942.3" y="477.4" text-anchor="end">0</text>
<text x="942.3" y="303.4" text-anchor="end">0.5</text>
<text x="942.3" y="129.9" text-anchor="end">1</text>
</g>
<text x="1245" y="32.5" text-anchor="middle" font-family='"Liberation Sans", Arial, Helvetica, sans-serif' font-size="36.2" fill="#231F20">Bearing1-3(IMS)</text>
<text x="1244.7" y="553.1" text-anchor="middle" font-family='"Liberation Sans", Arial, Helvetica, sans-serif' font-size="36.2" fill="#414042">t(10min)</text>
<text transform="translate(882.2 256.5) rotate(-90)" text-anchor="middle" font-family='"Liberation Sans", Arial, Helvetica, sans-serif' font-size="36.2" fill="#414042">ERR</text>
<text x="1251" y="603.8" text-anchor="middle" font-family='"Liberation Serif", "Times New Roman", serif' font-size="43.3" fill="#231F20">(b)</text>
<rect x="1256.9" y="62.6" width="257.2" height="117.7" fill="#fff" stroke="#4d4d4f" stroke-width="1.1"/>
<path d="M1262.5 83.4H1316.9" stroke="#B9529F" stroke-width="0.65" fill="none"/>
<use href="#ast" x="1289.7" y="83.4" stroke="#B9529F"/>
<text x="1320.9" y="94.7" font-family='"Liberation Sans", Arial, Helvetica, sans-serif' font-size="32.3" fill="#231F20">IBA-FELM</text>
<path d="M1262.5 121.4H1316.9" stroke="#6ABD45" stroke-width="0.65" fill="none"/>
<use href="#circ" x="1289.7" y="121.4" stroke="#6ABD45"/>
<text x="1319.5" y="132.2" font-family='"Liberation Sans", Arial, Helvetica, sans-serif' font-size="29.9" fill="#231F20">BA-FELM</text>
<path d="M1262.5 159.1H1316.9" stroke="#3953A4" stroke-width="0.65" fill="none"/>
<use href="#dia" x="1289.7" y="159.1" stroke="#3953A4"/>
<text x="1319.5" y="170.6" font-family='"Liberation Sans", Arial, Helvetica, sans-serif' font-size="29.9" fill="#231F20">FELM</text>
</g>
<g id="panel-c">
<rect x="120.5" y="674.1" width="600.1" height="437.6" fill="none" stroke="#4d4d4f" stroke-width="1.1"/>
<path d="M240.5 1111.7v-6.1M240.5 674.1v6.1M360.5 1111.7v-6.1M360.5 674.1v6.1M480.6 1111.7v-6.1M480.6 674.1v6.1M600.6 1111.7v-6.1M600.6 674.1v6.1M120.5 761.6h6.1M720.6 761.6h-6.1M120.5 849.1h6.1M720.6 849.1h-6.1M120.5 936.7h6.1M720.6 936.7h-6.1M120.5 1024.2h6.1M720.6 1024.2h-6.1" stroke="#4d4d4f" stroke-width="1.1" fill="none"/>
<path d="M120.5 761.6L711 934" stroke="#231F20" stroke-width="2" fill="none"/>
<path d="M120.5 752l.3 18 .2 25 .4 17" class="a"/>
<path d="M122.7 810.1l1.5-1 1.5-.9 1.5-.9 1.5-.6 1.5-.8 1.5-1.5 1.5-1.3 1.5-1.8 1.5 .2 1.5 1.3 1.5 1.7 1.5 .8 1.5-.5 1.5-.4 1.5-1.3 1.5-.9 1.5-.5 1.5-2.5 1.5-3.4 1.5-4.3 1.5-4.4 1.5-4.2 1.5 6 1.5 5.6 1.5 3 1.5 1.9 1.5 1 1.5-1.9 1.5-1.1 1.5 .9 1.5 2.7 1.5 2.7 1.5 1.7 1.5 1.4 1.5 1.2 1.5 1.9 1.5 2.2 1.5 1.2 1.5-1.7 1.5-1.2 1.5-.2 1.5-.2 1.5 .1 1.5 1 1.5 .2 1.5-1.6 1.5-2 1.5-1.2 1.5-1.3 1.5-.9 1.5-1.2 1.5-1.3 1.5-1.8 1.5-4.1 1.5-4.1 1.5 3 1.5 5.7 1.5 2.8 1.5-.6 1.5-.2 1.5 .3 1.5 .2 1.5 .4 1.5 .8 1.5 .4 1.5-.7 1.5-.8 1.5-.9 1.5-.4 1.5-.6 1.5-.8 1.5 .7 1.5 .7 1.5 .2 1.5 .5 1.5 .2 1.5-.7 1.5-.2 1.5 .7 1.5 .4 1.5-2.3 1.5-2.7 1.5-2.2 1.5 2 1.5 2.4 1.5 2.8 1.5 1.9 1.5 1.2 1.5 1.3 1.5 1.2 1.5 .8 1.5 .7 1.5 .8 1.5-.2 1.5 .3 1.5 1.6 1.5 1.9 1.5 .2 1.6-1.2 1.5-1.5 1.5-2.3 1.5-2.8 1.5-.7 1.5 .4 1.5 .4 1.5-.1 1.5-.3 1.5 .2 1.5 .1 1.5-.1 1.5 .4 1.5 .7 1.5 .4 1.5 .4 1.5 .4 1.5 .5 1.5 .1 1.5-1.2 1.5-.9 1.5-1.1 1.5-2.5 1.5-2.8 1.5-3.2 1.5-3.3 1.5-.6 1.5 3.9 1.5 4 1.5 2.5 1.5 2.5 1.5 2.4 1.5 .4 1.5-.2 1.5-.2 1.5-.9 1.5-.5 1.5-.2 1.5-.5 1.5-.2 1.5 .1 1.5-.3 1.5-1 1.5-.8 1.5-.4 1.5 .1 1.5 .5 1.5-.3 1.5-.5 1.5-.1 1.5 0 1.5-.3 1.5 .3 1.5 .6 1.5-.5 1.5-1.1 1.5-.9 1.5-.7 1.5-.8 1.5-1.1 1.5-1 1.5 .4 1.5 1.4 1.5 1.6 1.5-.2 1.5 .1 1.5-.1 1.5-1.2 1.5-1.8 1.5-1.4 1.5 .8 1.5 2.4 1.5 1.2 1.5 0 1.5 .4 1.5 1 1.5 .7 1.5 .6 1.5 .5 1.5 .1 1.5-.6 1.5-.3 1.5 .3 1.5 .6 1.5-.2 1.5-.8 1.5-3.4 1.5-2 1.5-2 1.5-1.4 1.5-1.4 1.5-1.4 1.5 1.8 1.5 2.7 1.5 1.3 1.5-.2 1.5 .3 1.5 1.4 1.5 1.3 1.5 1.4 1.5 2.1 1.5 2.3 1.5 2.6 1.5 2.8 1.5 2.2 1.5 2.2 1.5 2 1.5 1.4 1.5 1.2 1.5 1.8 1.5 1.9 1.5 1.9 1.5 .5 1.5 .5 1.5-.1 1.5-.7 1.5-.4 1.5 .4 1.5 .6 1.5 .5 1.5 .7 1.5 .5 1.5 .4 1.5 .5 1.5 .5 1.5-.4 1.5-.2 1.5 .2 1.5 0 1.5-.3 1.5-.4 1.5-.3 1.5 .6 1.5 1.3 1.5 .5 1.5 .5 1.5 .4 1.5 .6 1.5 .7 1.5 .3 1.5-.1 1.5 .1 1.5-.3 1.5 .3 1.5 1.8 1.5 2.5 1.5 2.1 1.5 1.8 1.5 2.1 1.5 1.7 1.5-.9 1.5-.7 1.5-.5 1.5-.6 1.5 0 1.5 .6 1.5 .4 1.5 1.9 1.5 3.4 1.5 3.6 1.5 3.4 1.5 3.5 1.5 3.5 1.5 2.3 1.5 1.5 1.5 1.7 1.5 .9 1.5 1.9 1.5 2.4 1.5 1.2 1.5-.4 1.5-.2 1.5 1.1 1.5 1.4 1.5 .5 1.5-.1 1.5 .1 1.5 .6 1.5 .6 1.5 .8 1.5 1.7 1.5 1.3 1.5 .2 1.5 0 1.5 .7 1.5 .6 1.5 .3 1.5 .7 1.5 .6 1.5 .1 1.5 .2 1.5 .1 1.5-.1 1.5-.1 1.5 .4 1.5 .8 1.6 .6 1.5-.3 1.5-.4 1.5 .3 1.5 1.9 1.5 1.9 1.5 2.1 1.5 1.9 1.5 1.4 1.5 .8 1.5 .6 1.5 .5 1.5 .6 1.5 .3 1.5 0 1.5 .3 1.5 .2 1.5 .1 1.5 .4 1.5 .3 1.5 .1 1.5 0 1.5 .2 1.5-.5 1.5-.6 1.5-.4 1.5-.1 1.5 0 1.5-.4 1.5-.7 1.5-.6 1.5-.4 1.5-.4 1.5-.3 1.5-1 1.5-.8 1.5 .3 1.5 .8 1.5-.4 1.5-1.5 1.5-1.2 1.5-.1 1.5-.3 1.5-1 1.5-1.5 1.5-1.2 1.5 .4 1.5 1.7 1.5 1.4 1.5 1.3 1.5 1.3 1.5 1.5 1.5 1.5 1.5 1.4 1.5 1.6 1.5 1.4 1.5 1 1.5 1 1.5 1.1 1.5 1 1.5 1.2 1.5 2.1 1.5 2.2 1.5 1.4 1.5 1.2 1.5 1.4 1.5 1.5 1.5 1.5 1.5 1 1.5-1 1.5-.9 1.5 .5 1.5 .9 1.5 .3 1.5 .6 1.5 .3 1.5-.7 1.5-1.2 1.5-.3 1.5 0 1.5 .4 1.5 1.5 1.5 1.9 1.5 1 1.5 0 1.5 0 1.5 .6 1.5 .5 1.5 .6 1.5 1.1 1.5 .8 1.5-.4 1.5-1 1.5-.5 1.5-.6 1.5-.3 1.5 .1 1.5 .6 1.5 .7 0 13.7-1.5-.7-1.5 .4-1.5 .3-1.5-.6-1.5-.9-1.5-.1-1.5 .3-1.5 .2-1.5 .3-1.5 .6-1.5-.4-1.5-.8-1.5-.7-1.5-.8-1.5-.6-1.5 0-1.5 .2-1.5 .1-1.5 0-1.5 0-1.5-.5-1.5-1.1-1.5-.8-1.5-.7-1.5-.7-1.5 0-1.5 .8-1.5 .5-1.5-.3-1.5-.6-1.5-1.1-1.5-1-1.5-.8-1.5-.6-1.5-.4-1.5-1-1.5-1.5-1.5-1.6-1.5-1.9-1.5-1.9-1.5-1.3-1.5-1.2-1.5-1.3-1.5-2.1-1.5-2.4-1.5-1.4-1.5-.2-1.5-.3-1.5-1-1.5-1-1.5-.8-1.5-.7-1.5 0-1.5-.3-1.5-.5-1.5 .3-1.5 .8-1.5 .8-1.5-.2-1.5-.5-1.5 .4-1.5 1.1-1.5 .8-1.5 .7-1.5 .6-1.5 .3-1.5-.3-1.5-.1-1.5 .5-1.5 .9-1.5 .7-1.5 .9-1.5 .7-1.5 .8-1.5 .7-1.5-.1-1.5-1.2-1.5-.8-1.5-.7-1.5-.4-1.5-.2-1.5 .3-1.5 .1-1.5 .1-1.5 .3-1.5-.5-1.5-1.2-1.5-1-1.5-.6-1.5-.6-1.5-1.4-1.5-2.5-1.5-2.1-1.5-.7-1.5-.3-1.5-.3-1.5-1.1-1.5-.6-1.6 .9-1.5 1.3-1.5-.1-1.5-1.3-1.5-1.4-1.5-.9-1.5-1-1.5-.9-1.5-.6-1.5-.2-1.5 .2-1.5 0-1.5-.2-1.5 0-1.5-.3-1.5-1-1.5-1-1.5-.8-1.5-1-1.5-.8-1.5-.5-1.5-.3-1.5-.4-1.5-.2-1.5-.3-1.5-.1-1.5-.1-1.5-1.2-1.5-2.3-1.5-1.8-1.5-1.1-1.5-1.6-1.5-1.3-1.5-2-1.5-3.2-1.5-3.8-1.5-3.9-1.5-3.3-1.5-2.1-1.5-1-1.5 .2-1.5 .1-1.5-.1-1.5-.4-1.5-.2-1.5-.5-1.5-.9-1.5-1.9-1.5-1.7-1.5-1.9-1.5-1.9-1.5-1.7-1.5-2-1.5-1.3-1.5 .1-1.5 .4-1.5 .2-1.5 .3-1.5 .6-1.5 .2-1.5-.6-1.5-.6-1.5-.4-1.5 0-1.5-.1-1.5-.5-1.5-.8-1.5-.4-1.5-.2-1.5-.1-1.5-.5-1.5-.8-1.5-.1-1.5 0-1.5 0-1.5-.1-1.5 0-1.5-.7-1.5-1.6-1.5-1.1-1.5 .6-1.5 1.3-1.5 .2-1.5-.2-1.5-.4-1.5-1.6-1.5-1.5-1.5-2.1-1.5-2.9-1.5-2.6-1.5-2.1-1.5-1.9-1.5-1.6-1.5-1.5-1.5-1.5-1.5-.8-1.5-.7-1.5-1.4-1.5-2.3-1.5-2.3-1.5-2.3-1.5-2.5-1.5-1.2-1.5 .3-1.5 .3-1.5 1-1.5 .4-1.5 1.1-1.5 1.4-1.5 1.3-1.5 12.2-1.5 2.1-1.5 1.9-1.5 1.5-1.5-1.4-1.5-1.7-1.5-1.5-1.5-.7-1.5-.6-1.5-.6-1.5-1.2-1.5-1.3-1.5-1-1.5-1.2-1.5-1-1.5-.7-1.5-.5-1.5-.2-1.5-.2-1.5 .2-1.5 1.2-1.5 1.6-1.5 1-1.5-.7-1.5-.5-1.5 .2-1.5 .1-1.5-.1-1.5 .3-1.5 .5-1.5 .5-1.5 .7-1.5 .4-1.5 0-1.5 0-1.5-.3-1.5-.5-1.5 .3-1.5 .8-1.5 .6-1.5 .1-1.5-.3-1.5 .1-1.5 .2-1.5 .2-1.5 .9-1.5 1.5-1.5 .2-1.5-.7-1.5-.6-1.5-.3-1.5-.5-1.5-.2-1.5-.3-1.5 0-1.5 1.8-1.5 2.2-1.5 .6-1.5-3.3-1.5-3.6-1.5-1.4-1.5 .1-1.5 1.3-1.5 2.4-1.5 2.7-1.5 3.9-1.5 4-1.5 3.4-1.5-2.7-1.5-3.4-1.5-1.5-1.5-1-1.5-2-1.5-1.6-1.5-.1-1.5 .8-1.5 1.1-1.5 .1-1.5-.6-1.5-.3-1.5 0-1.5-.3-1.5 .1-1.5 1.7-1.5 1.5-1.5 1.6-1.6 1.7-1.5 .7-1.5-.6-1.5-.5-1.5-.2-1.5-.4-1.5-.3-1.5 .3-1.5 0-1.5-.9-1.5-.9-1.5-.1-1.5 .6-1.5 .4-1.5 .2-1.5 .1-1.5-.7-1.5-1.6-1.5-1.6-1.5-1.8-1.5-1.8-1.5-1.5-1.5-1.6-1.5-1.2-1.5-.1-1.5 .1-1.5-.5-1.5-1.2-1.5-.6-1.5 .1-1.5 .4-1.5 .1-1.5 .3-1.5 .3-1.5 .6-1.5 .8-1.5 .2-1.5-.2-1.5-.3-1.5-.5-1.5-.8-1.5-.1-1.5 .7-1.5 .7-1.5 .6-1.5 .6-1.5 1.1-1.5 1.4-1.5 1.1-1.5 .9-1.5 1-1.5 .4-1.5-.5-1.5-.1-1.5 .9-1.5 1.2-1.5 .3-1.5-.3-1.5-.1-1.5-.1-1.5-.3-1.5-.4-1.5-.4-1.5-.3-1.5 .2-1.5 .4-1.5-.4-1.5-1.3-1.5-1.3-1.5-.9-1.5-.6-1.5-.9-1.5-1.4-1.5-1.1-1.5-.5-1.5-.6-1.5-.8-1.5 .2-1.5 .1-1.5 1.6-1.5 2.6-1.5 1.7-1.5 1.1-1.5 1.2-1.5 1.2-1.5-.6-1.5-.6-1.5-.6-1.5-1-1.5-1.5-1.5-1.4-1.5-.1-1.5-.2-1.5-.2-1.5 1.2-1.5 1.7-1.5 .6-1.5-.1-1.5 0z" fill="#B9529F"/>
<path d="M122.7 824.5l.8-4.4 .7 5.3 .8-16.5 .7 7.3 .8 7.8 .7-15.9 .8 8.4 .7 6.5 .8-2.4 .7-14.5 .8 16.1 .7 .1 .8 .7 .7-9.1 .8-.8 .7 1.5 .8 7.8 .7 1 .8 .8 .7-20.8 .8 22.2 .7-1.7 .8 3.6 .7-17.6 .8 8.7 .7 2.8 .8 6.7 .7 0 .8 .2 .7-16.6 .8-8.7 .7 15.9 .8-16.6 .7 18 .8-16.4 .7 6.3 .8 4.4 .7-3.5 .8-16.4 .7 24.8 .8-22.7 .7 19.8 .8-12.8 .7 14.2 .8-31.1 .7 32.3 .8-15.1 .7 12.8 .8-11.4 .7 15.2 .8-12.6 .7-8.7 .8 10.6 .7 13.5 .8-6.1 .7 6.2 .8 .2 .7-20 .8 21.2 .7 .2 .8-24.6 .7 26.1 .8-.7 .7 1.7 .8-22.8 .7 .8 .8 22.5 .7-13.7 .8 13.3 .7-9.4 .8-3.5 .7 6.9 .8 4.2 .7-13.6 .8 1.5 .7 7.4 .8-7.6 .7-1.8 .8 8.1 .7-9.6 .8 15.6 .7 1.4 .8-16.3 .7-.9 .8 19.7 .7-9.8 .8 5.8 .7-9.3 .8 11 .7-1 .8-15.5 .7 7.7 .8 8.3 .7-18.5 .8 19.1 .7-21.1 .8 13.5 .7-5.5 .8 11.9 .7-4.8 .8-16.2 .7-1.8 .8-.5 .7 19.5 .8-21 .7 3.6 .8 16.7 .7-.5 .8-.5 .7-14.2 .8-14.1 .7 3.1 .8 2.3 .7 13.8 .8 8 .7-15.6 .8-.4 .7-.3 .8-1 .7 1 .8-.4 .7 12.4 .8-11.9 .7 18 .8-18.4 .7 13.9 .8-2.3 .7 4.5 .8-13.7 .7 7.4 .8 1 .7 .8 .8-.3 .7-8.4 .8 13 .7-14.7 .8 5.7 .7-1 .8-5.1 .7-1.9 .8 3 .7 9.9 .8-13.6 .7 18.4 .8-3.1 .7-14 .8-.5 .7 9.2 .8 7.6 .7-11 .8 13.5 .7-14.6 .8 7.1 .7 9.2 .8-21.3 .7 7.9 .8-6.9 .7 10.5 .8-10.5 .7 .9 .8 18.2 .7-9.3 .8 18.1 .7-30.1 .8-4.2 .7 17.2 .8-16.4 .7 27.5 .8-4.3 .7-19.9 .8 30.2 .7-28 .8 1.1 .7 27.1 .8-4.4 .7-20.2 .8 8.8 .7 17.4 .8 .6 .7-6.5 .8-16.3 .7-.4 .8 9.2 .7 13.8 .8-22.3 .7 .2 .8 14.9 .7-5.3 .8-1.3 .7 10.2 .8-14.4 .7 19 .8-8.9 .7-10.4 .8 18.8 .7-17.2 .8 1.4 .8 7.4 .7-1.1 .8-.6 .7-12.4 .8-.1 .7 17.4 .8-.6 .7-18.5 .8 11.8 .7 6.3 .8-20.1 .7 18 .8-12 .7 13 .8-15 .7 17.8 .8-13.9 .7-7.2 .8 2.2 .7 17.6 .8-9.1 .7 8.9 .8-.7 .7-5.3 .8-3.2 .7 4.1 .8-8.6 .7 16.1 .8 .1 .7-20.6 .8 7.1 .7 14.1 .8-7.8 .7-12.6 .8-.2 .7-.3 .8 20.3 .7-15.8 .8 21.7 .7-21.9 .8 14.5 .7-21.1 .8 20.2 .7-1.8 .8-1.2 .7-11.3 .8 3.9 .7-12.4 .8-5.2 .7 21.6 .8-3.1 .7 2.7 .8-6.8 .7-5 .8 6.5 .7-2.6 .8 3.3 .7-11.8 .8 4.6 .7-2.4 .8 16.6 .7-12.4 .8 14.6 .7-11.8 .8 10.3 .7-11.9 .8 11.6 .7-5.3 .8-7.2 .7 14.2 .8-14.5 .7 13 .8-15.3 .7 17.5 .8 .3 .7-13.7 .8 6.3 .7 5.9 .8-16.9 .7 5.3 .8 6.1 .7-9.1 .8 10.6 .7-5.3 .8-9.5 .7 .1 .8 14.4 .7-15.5 .8 9.2 .7 4.3 .8 4.1 .7-1.5 .8-11.9 .7 13.9 .8 1 .7-18.8 .8 2.6 .7 15.4 .8-15 .7 14.4 .8 0 .7-8.6 .8-7.4 .7 16.1 .8-18.3 .7 1 .8 18.8 .7-14.8 .8 8.8 .7-14.4 .8-.3 .7 15.6 .8 1.4 .7-13.8 .8 8.7 .7-8.6 .8 13.9 .7-9.8 .8 10.7 .7-21.9 .8 6.9 .7 14.4 .8-.4 .7-12.2 .8 .6 .7-1.4 .8 7.4 .7-9.8 .8 16 .7-6.5 .8 4.8 .7-2 .8-7.1 .7 7.7 .8-.2 .7-2.7 .8-15.3 .7-.8 .8 19.9 .7-21.5 .8 2.9 .7-.6 .8 6.2 .7-4.5 .8 1.5 .7 .4 .8 6.4 .7 2.8 .8-9.8 .7 20.4 .8 1.5 .7 .7 .8-20.8 .7 15.1 .8 6.9 .7-20.9 .8 11.7 .7-4.6 .8-5.1 .7 20.3 .8-18.5 .7 7.6 .8 5.1 .7 9.7 .8-21.3 .7 16.8 .8-4.2 .7-6.3 .8-8.9 .7-1.3 .8 19.6 .7-23.6 .8-1.5 .7 5.4 .8 1.1 .7-6.3 .8-1.3 .7-3.4 .8 11.6 .7 2.5 .8-14.8 .7 1.4 .8 11.4 .7-3.7 .8-2.4 .7-6.6 .8 4.9 .7 .4 .8 7.7 .7 .5 .8-1.5 .7-9.9 .8 .9 .7 10.3 .8 7 .8-15.4 .7 18.3 .8-11.6 .7-4.2 .8 5.4 .7 11.1 .8-7.5 .7-.5 .8 11.1 .7-13.3 .8 8.9 .7-4.4 .8 0 .7 1.4 .8 .3 .7 9.9 .8-7 .7 11.4 .8-1.6 .7 2.1 .8-9.6 .7 .5 .8 11.4 .7-8.5 .8 13.8 .7-5.6 .8 2.4 .7-5.9 .8 5.4 .7 3.6 .8-8.7 .7 12.7 .8-13.2 .7 12.8 .8-13.4 .7 9.2 .8-10.7 .7 .3 .8 6.7 .7-1.3 .8 .7 .7 9.1 .8-1.2 .7 2.1 .8-7.1 .7 6.5 .8 .7 .7-14.1 .8 14.3 .7-12.9 .8 7 .7-6.5 .8 7.7 .7 4 .8 .7 .7-6.8 .8-3.4 .7 8.8 .8-6.5 .7-4.4 .8 13.9 .7-12.3 .8 2.5 .7-4.3 .8 14.2 .7-6.6 .8 8.1 .7-15.5 .8 5.4 .7 9.7 .8-3.2 .7-11.7 .8 10.1 .7-8.2 .8 11.8 .7-3.1 .8-4.9 .7 11.3 .8-9.4 .7 9 .8-.2 .7-5.1 .8-5.1 .7 4.6 .8 2.2 .7 2.6 .8 .2 .7-1.1 .8 .2 .7-2.3 .8-8.9 .7 7.3 .8-1.6 .7 9.1 .8 .8 .7-1.5 .8-8.6 .7 6.7 .8 7.6 .7-.1 .8 1 .7 1 .8-11.4 .7 9.6 .8 4.9 .7-4.8 .8-5.4 .7-4.7 .8 .4 .7 13.3 .8 2 .7-3 .8-12.4 .7-.7 .8-.6 .7 17.1 .8-15.8 .7 11.5 .8-7.7 .7 7.5 .8-7.2 .7 5.6 .8 2.9 .7-3.4 .8 11.8 .7-8.9 .8 15 .7-10.9 .8 8.1 .7 1.6 .8 8.6 .7-5.1 .8-6.1 .7 12.9 .8-6.9 .7 4.8 .8-7.3 .7 .4 .8-1.2 .7 11.1 .8-2.9 .7-4.2 .8 .6 .7 0 .8 2.6 .7 7.8 .8 3.3 .7-.7 .8-2.4 .7 3.4 .8-11.1 .7-.8 .8 .4 .7 0 .8 11.5 .7-11.5 .8 3 .7 8.1 .8 1.4 .7-2.9 .8 3.8 .7-12.4 .8 1 .7 6.8 .8 4.5 .7 3 .8-12.2 .7 10.8 .8-1.7 .7 4.7 .8-3.2 .7 3.3 .8-1.5 .7-10.6 .8 7 .7 .9 .8 .3 .7 3.4 .8-3.9 .7 1.6 .8-.9 .7 4.6 .8 .4 .7-8.9 .8 9.6 .7-1.6 .8 1.7 .7-1.3 .8 3.1 .7-6.6 .8 7.8 .7 .7 .8-14 .7 13.3 .8-.7 .7-12.7 .8 .3 .8 10.6 .7-6 .8 .5 .7 8.4 .8-10.6 .7 10.5 .8 .2 .7-6.4 .8-5.1 .7 4.2 .8 8.1 .7-9.6 .8 3.1 .7 7.5 .8-8 .7 1.1 .8 11.8 .7-.7 .8 .2 .7-9.3 .8 11.7 .7-.4 .8-10.8 .7 7.8 .8 5.6 .7-2.2 .8-2.6 .7-7.1 .8 3.8 .7-4.1 .8 5.5 .7-5.3 .8 4.3 .7-4.4 .8 3.6 .7 3.5 .8 3.9 .7 1.5 .8-1.1 .7-10.7 .8 4.7 .7 5.6 .8 .1 .7 .4 .8 2.9 .7-4.6 .8 1.8 .7-11.8 .8 15 .7-1.4 .8 .6 .7-8.9 .8 7.8 .7-.2 .8-.4 .7-12.8 .8 11.4 .7 0 .8-11.9 .7 3.1 .8 8.2 .7-1.2 .8-11.5 .7 12.3 .8-9.6 .7 9.5 .8-4.6 .7 3.3 .8 1.1 .7-4.2 .8 1.3 .7-2.3 .8-4.2 .7 .5 .8-1.8 .7 8 .8-11.2 .7 2.7 .8 2.8 .7 1.5 .8-3.1 .7-5.7 .8 9.1 .7-10 .8 12.2 .7-3.9 .8-10.2 .7 14 .8-9.8 .7 6.9 .8 .3 .7 2.8 .8-16 .7 1.3 .8 15.9 .7 .4 .8-15 .7 8.1 .8 5.4 .7-4.2 .8-5.6 .7 6.8 .8-6 .7 11 .8-9.2 .7 3.2 .8-1.5 .7 11 .8-10.3 .7 13.9 .8-11.7 .7 2.6 .8 11.8 .7-4.1 .8 5.2 .7-1.9 .8-10.9 .7 15.4 .8-1.9 .7-12.5 .8 17.1 .7-9.2 .8-4.8 .7 9.8 .8 6.6 .7-13.3 .8 12.6 .7 2.5 .8-8.3 .7-4.8 .8 5.9 .7-3.9 .8 12.7 .7-11.5 .8 4.2 .7-2.6 .8 .7 .7 5 .8-6.6 .7 5 .8-3.9 .7 11.9 .8-13.4 .7 10.6 .8 2.2 .7-6.2 .8-1.6 .7 4.5 .8-7.1 .7 11.4 .8-9.5 .7-1.3 .8 1.1 .7 11.3 .8-14.6 .7 10.4 .8-4.3 .7-7.2 .8 16.5 .7-5.1 .8-.4 .7 6.1 .8-14 .7 8.5 .8-1.7 .7 5.1 .8 .7 .7-10.8 .8 12.5 .7-6.3 .8 7.1 .7-12.9 .8 .1 .7 .8 .8-.2 .7 13.6 .8-11.4 .7 5 .8 6 .7-.7 .8 .7 .7-2.5 .8-7.6 .7 10.1 .8-9.8 .7 5.3 .8 2.1 .7-9.4 .8 10.6 .7-1.8 .8-5.8 .7-4.7 .8 14.4 .7-13.5 .8 4.7 .7 6.6 .8-5.7" class="a"/>
<path d="M120.5 765l.2 10 .2 15 .3 25" class="c"/>
<path d="M122.7 809.8l1.5-.4 1.5-.3 1.5-.5 1.5-.5 1.5-.4 1.5 0 1.5 .3 1.5-.4 1.5-.9 1.5-.8 1.5-.3 1.5-.1 1.5-.4 1.5-1.1 1.5-.8 1.5 0 1.5 .1 1.5-.4 1.5-.2 1.5-.2 1.5 .1 1.5 .1 1.5 .7 1.5 1.5 1.5 1.3 1.5 1 1.5 .7 1.5 .4 1.5-.3 1.5-.2 1.5-.1 1.5-.3 1.5 .6 1.5 1.6 1.5 1.3 1.5 .3 1.5 .4 1.5 1 1.5-.8 1.5-1.3 1.5-.5 1.5 .4 1.5-.4 1.5-.3 1.5-.4 1.5-.4 1.5-.3 1.5-.4 1.5-.2 1.5-.4 1.5-1.2 1.5-1.6 1.5-.8 1.5-.7 1.5-.7 1.5-.1 1.5 0 1.5 .2 1.5 1.1 1.5 .7 1.5-.8 1.5-1.1 1.5-.3 1.5 0 1.5 0 1.5-.2 1.5-.2 1.5-.1 1.5 0 1.5 0 1.5 0 1.5 .5 1.5 .6 1.5 1.1 1.5 .9 1.5 .5 1.5 .2 1.5 .4 1.5 .5 1.5 .3 1.5 .8 1.5 1.1 1.5 .4 1.5-.7 1.5-.3 1.5 .9 1.5 1.2 1.5 .5 1.5 .3 1.5 .2 1.5 .2 1.5 0 1.5 .3 1.5 .5 1.5 .8 1.5 1.4 1.5 1.6 1.5 .4 1.6-.8 1.5-.9 1.5-1.5 1.5-1.8 1.5-1.3 1.5-1.2 1.5-.9 1.5 .2 1.5 .2 1.5 .3 1.5 .4 1.5 .4 1.5 .7 1.5 .9 1.5 .1 1.5-.4 1.5 .2 1.5 .4 1.5-1.1 1.5-.9 1.5-.5 1.5-1 1.5-1 1.5-.7 1.5-1.3 1.5-1.8 1.5-.9 1.5 .8 1.5 1 1.5 .4 1.5-.2 1.5 0 1.5 .5 1.5 .6 1.5 .8 1.5 1.5 1.5 1.3 1.5 .2 1.5-.9 1.5-.2 1.5 .1 1.5 0 1.5-.1 1.5-.1 1.5-.2 1.5-.3 1.5-.1 1.5 0 1.5-.1 1.5 0 1.5-.3 1.5-.4 1.5 .1 1.5 .6 1.5-.4 1.5-.7 1.5-.3 1.5 .3 1.5 .5 1.5 .1 1.5-.6 1.5-.6 1.5 .3 1.5 .4 1.5-.1 1.5-.3 1.5-.2 1.5-.4 1.5-.6 1.5-.3 1.5-.2 1.5 0 1.5 .1 1.5 .1 1.5 .1 1.5-.3 1.5-.1 1.5 .2 1.5 .2 1.5 0 1.5 .2 1.5 .1 1.5-.6 1.5-.6 1.5 .2 1.5 1.1 1.5 3.1 1.5 0 1.5-.3 1.5 .1 1.5 .5 1.5 .4 1.5 .6 1.5 .6 1.5 .1 1.5 0 1.5 0 1.5-.2 1.5-.5 1.5 .1 1.5 .3 1.5 .4 1.5 .2 1.5 0 1.5 .3 1.5 .1 1.5 .1 1.5 .9 1.5 4.1 1.5 3.6 1.5 3 1.5 3 1.5 .5 1.5 .1 1.5-.3 1.5-.4 1.5-.2 1.5-.4 1.5-.7 1.5 0 1.5 .8 1.5 .6 1.5 .1 1.5 .2 1.5 .3 1.5-.2 1.5-.2 1.5-.3 1.5-.8 1.5-.5 1.5-.2 1.5-.2 1.5-.2 1.5 .9 1.5 2.1 1.5 2.5 1.5 2.1 1.5 .1 1.5-.4 1.5-.2 1.5 .3 1.5 0 1.5-.2 1.5 .2 1.5 0 1.5-.8 1.5-.3 1.5 .8 1.5 .9 1.5 .2 1.5-.2 1.5 0 1.5 .1 1.5 0 1.5 .1 1.5 .4 1.5 0 1.5 .3 1.5 1.2 1.5 2 1.5 2.8 1.5 2.7 1.5 1.7 1.5 1.3 1.5 2.4 1.5 3.5 1.5 1.1 1.5-.5 1.5-.7 1.5 0 1.5-.1 1.5-.2 1.5 .7 1.5 1.1 1.5 .2 1.5-.2 1.5-.2 1.5-.3 1.5-.5 1.5-.5 1.5 5.6 1.5 6.5 1.5 14.9 1.5 15.9 1.5 8.4 1.5 0 1.5 0 1.5 .3 1.5 .4 1.5 .4 1.5 1.1 1.5 .8 1.5 .2 1.5 .1 1.5-.2 1.5-.9 1.6-.6 1.5 .2 1.5 .3 1.5 0 1.5-.1 1.5-.2 1.5-.2 1.5-1.1 1.5-1.7 1.5-2.9 1.5-2.6 1.5-1.1 1.5-.7 1.5-1.6 1.5-2.2 1.5-1.7 1.5-1 1.5-.8 1.5-.8 1.5-1.5 1.5-1.4 1.5-1 1.5-1.1 1.5-.8 1.5 0 1.5-.3 1.5-1.3 1.5-1.6 1.5-1 1.5 1.3 1.5 2.5 1.5 2 1.5 2.1 1.5 2.1 1.5 2 1.5 2 1.5 1.5 1.5 1.2 1.5 2.1 1.5 2.7 1.5 2.4 1.5 2 1.5 2 1.5 1.6 1.5 .9 1.5 1.1 1.5 1.2 1.5 1.1 1.5 1.5 1.5 1.8 1.5 1.8 1.5 2.3 1.5 2.7 1.5 1.8 1.5 1.6 1.5 1.6 1.5 1 1.5 .4 1.5 .1 1.5 .5 1.5 .4 1.5 .6 1.5 .8 1.5 .3 1.5 0 1.5 0 1.5 0 1.5-.2 1.5 .3 1.5 1.1 1.5 .5 1.5-.6 1.5-4.1 1.5-3.8 1.5-3.7 1.5-3.3 1.5-.1 1.5 .1 1.5 .4 1.5 .8 1.5 .9 1.5 1.2 1.5 1.2 1.5 .9 1.5-1.8 1.5-1.5 1.5-1 1.5-1 1.5-.8 1.5 .9 1.5 .6 1.5 .1 1.5 .1 1.5-.2 1.5-.8 1.5-.6 1.5 .1 1.5 .2 1.5 .1 0 14.8-1.5 0-1.5 0-1.5-.2-1.5 .4-1.5 .6-1.5-.5-1.5-1.1-1.5-.7-1.5 0-1.5 .1-1.5 1.3-1.5 1.5-1.5 1.2-1.5 1.3-1.5 1-1.5-1.4-1.5-1.6-1.5-1.6-1.5-.3-1.5 .7-1.5 .3-1.5 0-1.5 .3-1.5 3.3-1.5 2.9-1.5 3.1-1.5 3-1.5-.4-1.5-.1-1.5 .2-1.5 0-1.5 .2-1.5 .1-1.5-.2-1.5-.3-1.5-.2-1.5-.1-1.5-.3-1.5-.5-1.5-.4-1.5-.3-1.5-1.5-1.5-1.7-1.5-1.8-1.5-1.9-1.5-1.8-1.5-2.1-1.5-1.8-1.5-1.2-1.5-1.1-1.5-1.4-1.5-1.2-1.5-1.4-1.5-2-1.5-2.1-1.5-2-1.5-2.5-1.5-2.1-1.5-1.5-1.5-1.4-1.5-1.8-1.5-2.1-1.5-2.1-1.5-2.3-1.5-2.5-1.5-2-1.5-1.6-1.5-1.7-1.5-2.2-1.5-.8-1.5 1.1-1.5 .9-1.5 1-1.5 1.2-1.5 1.1-1.5 .9-1.5 1.2-1.5 1-1.5 1.1-1.5 1.3-1.5 1-1.5 1.3-1.5 1.4-1.5 1.2-1.5 .9-1.5 1.7-1.5 2.2-1.5 2.1-1.5 1.4-1.5 1.2-1.5 1.6-1.5 2.3-1.5 1-1.5-.3-1.5-.6-1.5-.1-1.5-.3-1.5-.5-1.6-.4-1.5-.3-1.5-.4-1.5-.4-1.5 .1-1.5 .3-1.5 .3-1.5 .5-1.5 .9-1.5 .5-1.5-.7-1.5-.8-1.5-8.6-1.5-16.4-1.5-15.3-1.5-6.8-1.5-6.1-1.5 0-1.5 .3-1.5 .3-1.5 0-1.5 0-1.5 .1-1.5 .5-1.5 .3-1.5 0-1.5 .1-1.5 .1-1.5-.2-1.5-.1-1.5 0-1.5-2.1-1.5-2.2-1.5-1.7-1.5-2-1.5-2.4-1.5-2.5-1.5-2.5-1.5-3.2-1.5-1.9-1.5 0-1.5 .2-1.5 .2-1.5 .5-1.5 .4-1.5 0-1.5 .1-1.5-.1-1.5-.9-1.5-.5-1.5 .9-1.5 1.1-1.5 .2-1.5-.4-1.5-.1-1.5 .2-1.5 .1-1.5 .2-1.5 .2-1.5 .2-1.5-1.8-1.5-2.3-1.5-1.6-1.5 .1-1.5 .7-1.5-.5-1.5-.7-1.5-.2-1.5-.2-1.5-.1-1.5-.2-1.5-.3-1.5 0-1.5 .2-1.5 0-1.5 .2-1.5 .2-1.5-.3-1.5-.1-1.5 0-1.5-.7-1.5-.8-1.5 .1-1.5 .3-1.5-.1-1.5-2.8-1.5-2.7-1.5-3.6-1.5-3.7-1.5-.6-1.5 0-1.5 .3-1.5-.2-1.5 0-1.5-.2-1.5-.9-1.5-1.2-1.5 0-1.5 1.1-1.5 .9-1.5-.2-1.5-.4-1.5-.3-1.5-.7-1.5-.5-1.5 .4-1.5 .6-1.5-.1-1.5-.4-1.5-.3-1.5 1.5-1.5-.2-1.5 0-1.5 .2-1.5-.2-1.5-.9-1.5-1.3-1.5-.4-1.5 .5-1.5 .4-1.5 .1-1.5 .1-1.5 0-1.5-.4-1.5-.3-1.5-.2-1.5-.1-1.5 .1-1.5 .2-1.5 .2-1.5 0-1.5 .1-1.5 .7-1.5 1.4-1.5 .9-1.5 .1-1.5-.2-1.5 0-1.5-.5-1.5-.3-1.5 .3-1.5 .5-1.5 .3-1.5 .5-1.5 .4-1.5-.2-1.5-.5-1.5 .1-1.5 .8-1.5 .5-1.5 .2-1.5 .3-1.5 .1-1.5-.1-1.5-.2-1.5 0-1.5 0-1.5 .3-1.5 .4-1.5-.2-1.5-.3-1.5-.3-1.5-.5-1.5-.9-1.5-.6-1.5-.8-1.5-.8-1.5-.7-1.5-1-1.5-.9-1.5 .7-1.5 1.6-1.5 1.4-1.5 2.1-1.5 1.8-1.5 1.3-1.5 2.8-1.5 3.5-1.5 2.6-1.5-2.6-1.5-2.8-1.5-1.9-1.5-1-1.5-1.5-1.5-1.1-1.5-.5-1.5-.4-1.5-.5-1.5-.1-1.5-.2-1.5 0-1.5 .1-1.5 1.2-1.5 1.8-1.5 1.8-1.5 2-1.6 1.9-1.5 .2-1.5-1.7-1.5-1.7-1.5-.7-1.5-.7-1.5-.4-1.5 .2-1.5-.1-1.5-1.4-1.5-1.7-1.5-.5-1.5 .3-1.5 0-1.5-.4-1.5-.3-1.5-.3-1.5 0-1.5 0-1.5 0-1.5 0-1.5-.5-1.5-1.5-1.5-1.4-1.5-.4-1.5-.1-1.5-.4-1.5 .1-1.5 .4-1.5-.4-1.5-.6-1.5 0-1.5 .5-1.5 .4-1.5 0-1.5-.3-1.5 .4-1.5 1.1-1.5 .7-1.5 .2-1.5 .3-1.5-.2-1.5-1-1.5-.4-1.5 .9-1.5 1.4-1.5 .5-1.5-.4-1.5 0-1.5 .6-1.5 .7-1.5 .6-1.5 1-1.5 .7-1.5 .3-1.5 0-1.5 .1-1.5-.3-1.5 1.1-1.5 2.1-1.5 1.6-1.5-1.9-1.5-2.3-1.5-1.5-1.5-.7-1.5-.5-1.5-.5-1.5-.8-1.5-.6-1.5-.1-1.5-.2-1.5-.3-1.5 .1-1.5-.1-1.5-.5-1.5-.4-1.5-.6-1.5-1.4-1.5-1-1.5 .9-1.5 1.2-1.5 .5-1.5-.3-1.5-.1-1.5 .5-1.5 .7-1.5 .4-1.5 0-1.5 .2-1.5 .5-1.5 .6-1.5 .4-1.5 .4-1.5 .6-1.5 .6-1.5 .8-1.5 .8-1.5 .4-1.5 .5z" fill="#6ABD45"/>
<path d="M122.7 815.7l.8 5.9 .7 4.6 .8-12.3 .7 14.2 .8-11 .7-2.3 .8 2.2 .7-.4 .8-2 .7-6.5 .8 3.6 .7 13.9 .8-17.1 .7-.3 .8 3.3 .7 13.1 .8-2.4 .7-2.3 .8-11.8 .7 14.7 .8-14.2 .7 14.5 .8-5.3 .7-8 .8 7.7 .7 4.5 .8-15.7 .7 15.6 .8-.6 .7-9.8 .8 6.6 .7 2.8 .8-16.3 .7 14.2 .8-14.5 .7 17.3 .8-9.7 .7 3.2 .8-1.7 .7 .2 .8 6.3 .7-12.8 .8 13.2 .7-2.5 .8-2.6 .7-9.4 .8 16.7 .7-17.5 .8 14.3 .7-.4 .8-7.2 .7 11.6 .8-15.5 .7 15.2 .8-7.5 .7-4.1 .8 8.4 .7-11.4 .8 5.8 .7-2.7 .8 6.5 .7-3.1 .8 10 .7 .2 .8-17.3 .7 2.9 .8-.8 .7 15.9 .8 .1 .7-14.6 .8 2.7 .7 14.4 .8-4.8 .7-6.8 .8-3.5 .7 19.7 .8-18 .7 16.2 .8-10.2 .7 7.3 .8-.4 .7-16.6 .8 6.9 .7-3.9 .8-3.9 .7 17.5 .8 .3 .7-14.1 .8 13.9 .7-17.4 .8-.4 .7-.9 .8-.1 .7 14.8 .8-15.2 .7 11.7 .8-9 .7-1.3 .8 11.5 .7 .1 .8-9.4 .7 11.8 .8-13.5 .7-5 .8-.7 .7 6.1 .8 11.9 .7-12.6 .8-7.1 .7 2.6 .8 4 .7 .8 .8 12.2 .7-19.6 .8 16.7 .7-3.1 .8-7.8 .7-3.2 .8 7.4 .7 8.9 .8-10.8 .7 .3 .8-4.9 .7 7.9 .8-12.3 .7 17.7 .8 .7 .7 0 .8-.2 .7-17.3 .8 2.6 .7 10.5 .8-13.6 .7 7.1 .8-7.6 .7 .8 .8-1.1 .7 18.5 .8 0 .7-11.8 .8 12.5 .7-13.1 .8-5.2 .7 13.2 .8 4.1 .7-2 .8-14.2 .7 3.5 .8-2.6 .7 14.5 .8-5.9 .7-2.1 .8 12 .7-15.6 .8 3.8 .7 13.4 .8-1.6 .7-16.6 .8 18.4 .7-14.5 .8 13.7 .7-15.7 .8 .8 .7 13.1 .8 2.1 .7-.6 .8-13.4 .7 .2 .8 4.7 .7-4.8 .8-1.9 .7 .4 .8 16.2 .7-5.4 .8-8.4 .7 .3 .8 8.9 .7 1.9 .8 5.4 .7-10.7 .8-5.1 .7 16.7 .8-17.6 .7 8.5 .8 8.9 .7-11.5 .8 .8 .7 3.1 .8-7.8 .7 15 .8-12 .7 12.8 .8-13.9 .7 2.4 .8 11.3 .7-4.2 .8-4.8 .8 1.7 .7 9.7 .8-1.9 .7-1 .8-.4 .7-8.1 .8 6.7 .7-15.2 .8 3.3 .7 3.2 .8 6.5 .7-1.7 .8-13.8 .7-.5 .8 .3 .7 12.7 .8-13 .7 14.3 .8 2.5 .7 .8 .8-13.2 .7-3.4 .8 15.6 .7 2.7 .8-.5 .7-16.3 .8 1 .7 12.9 .8-10.1 .7 10.6 .8 5.5 .7-19.3 .8 23.9 .7-16.4 .8 18.3 .7-25.4 .8 23.2 .7-21.6 .8 12.9 .7-17.1 .8 15.9 .7-15.9 .8 11.9 .7-10.8 .8 8.7 .7-12.3 .8 15.4 .7-4.1 .8 1 .7 2.5 .8-1.7 .7-14.4 .8 14.1 .7-16.3 .8 17.8 .7-.2 .8-5.6 .7-1.8 .8 7.6 .7-8.5 .8-7.5 .7 17.9 .8-9.5 .7 10.6 .8-9.6 .7 5.8 .8-1.4 .7-12.3 .8 .4 .7 18.9 .8-15.7 .7-1.1 .8 16.3 .7-4.9 .8 6.6 .7-.5 .8-12 .7 7.2 .8-.3 .7 3.9 .8-7.6 .7 8.5 .8-5.7 .7-1.2 .8 6.9 .7-.2 .8-18.2 .7 18.7 .8 0 .7-17.1 .8 11.1 .7-.8 .8-12.5 .7 11 .8-.3 .7 5.3 .8-6.3 .7 4.7 .8-7.4 .7 .3 .8 10.5 .7-2.5 .8-16.1 .7 10.6 .8-4.5 .7-4.8 .8-.2 .7 16.5 .8-17.4 .7 11.6 .8 3.5 .7-12.7 .8 1.5 .7 13 .8-.6 .7-15.5 .8 1.9 .7 11 .8-6.8 .7-1.8 .8-1.6 .7 10.2 .8-14.8 .7 4.2 .8 8.7 .7 2.1 .8-13.8 .7-.7 .8 2.6 .7 3.3 .8 6.3 .7-1.1 .8-4 .7-7.7 .8 .2 .7 15.1 .8-13 .7 12.4 .8-3 .7-6 .8 9.4 .7-15.6 .8 8.1 .7-7.3 .8 5.3 .7-2.9 .8-3.1 .7 16.7 .8-8.4 .7 2.3 .8-4.7 .7 9.8 .8-11.9 .7 6.4 .8 3 .7-13.7 .8 15.9 .7-.8 .8-15 .7 16.7 .8-4.9 .7 5.7 .8-4.1 .7-10.1 .8 12.7 .7 2.5 .8-2.1 .7-12.8 .8 14.4 .7 .6 .8-6.3 .7 5.7 .8-14 .7 6.5 .8 .3 .7 6.4 .8-2.5 .7 2.5 .8-4.8 .7 4.7 .8-3.8 .7 2 .8 1.4 .7 .2 .8-5.7 .7-1.2 .8-4.6 .7 12 .8-2.3 .7 3 .8-12.1 .7 10.3 .8-10.5 .7 8.7 .8 3.3 .8-8.6 .7-3.8 .8 0 .7 11.8 .8 0 .7-6.8 .8 8.3 .7 .3 .8-5.4 .7-5.3 .8-2.4 .7-.2 .8 .6 .7-.4 .8 .1 .7 2 .8 4.6 .7 6.8 .8-11.8 .7 7.2 .8 3.8 .7-7 .8 4.6 .7-.9 .8 1.2 .7 1 .8 11.3 .7-1.3 .8-3.1 .7 8 .8-.9 .7-7.3 .8-3.1 .7 6.7 .8-3.5 .7 6.1 .8 .7 .7 1.9 .8-3.4 .7-2.5 .8-1.2 .7-6 .8-.2 .7 13.1 .8-12.4 .7 8.9 .8 2.6 .7-10.4 .8 4.7 .7-5.4 .8 7.6 .7-6.3 .8 10.6 .7-11.1 .8 .6 .7-.5 .8 12.2 .7-8.8 .8 5.7 .7-8.9 .8 5.3 .7 6.8 .8-5.9 .7 5.9 .8-14.8 .7 1.1 .8 8.5 .7-9.8 .8 14.6 .7-12.6 .8 1.2 .7-1.7 .8 5.4 .7 10.6 .8 1 .7-12.8 .8 4.9 .7 3.8 .8-5.3 .7 8.7 .8 1.3 .7 2.4 .8-7.3 .7-1.1 .8 7.5 .7-2.8 .8-9.1 .7 12.2 .8 .1 .7-14 .8 14 .7-10.6 .8 10.1 .7-.2 .8-13.7 .7-.4 .8 7.4 .7-7.6 .8 .1 .7 .8 .8 6.7 .7 1.1 .8-3.8 .7-1.3 .8 10.2 .7-9.2 .8-2.6 .7 12.1 .8-4.8 .7-6.6 .8 1.3 .7 9.3 .8-5.8 .7-4.9 .8 10.5 .7-.3 .8-4.2 .7-5.3 .8 7.2 .7-1.6 .8 .8 .7-5.1 .8 8.3 .7-5.1 .8 5.5 .7 9 .8-5.5 .7 6.1 .8-9.3 .7 7.1 .8 7.7 .7-2.4 .8 2 .7-7 .8 .8 .7-.9 .8 3.4 .7 .5 .8 8.8 .7-12.8 .8 13.4 .7-10.3 .8-3 .7 12.8 .8-3.4 .7-5.1 .8 7.5 .7 1 .8-12.9 .7-.3 .8 1.5 .7 6.5 .8 4 .7-5.6 .8 5.6 .7-9.3 .8 3 .7 6.6 .8-5.7 .7 2.3 .8-8.3 .7 11.4 .8-6.5 .7-5.1 .8 4.3 .7 13 .8-.6 .7-4.4 .8 8.6 .7 6.1 .8 7.8 .7 21.3 .8-1 .7-4.1 .8 3 .7 7.6 .8-10.7 .7-.3 .8 14.8 .7 .2 .8-.2 .7-10.7 .8 9 .7-11.3 .8 9.5 .7 2.3 .8-8.9 .7 7.5 .8-7.5 .7-1.8 .8 5.5 .7 4.8 .8-10.2 .7 .3 .8 1.3 .7 9.5 .8-7.1 .8-4.3 .7-.5 .8 12.9 .7-12.3 .8-.2 .7 4.2 .8 4.8 .7 3.1 .8-11.3 .7-1.2 .8 .2 .7 0 .8 11.1 .7-11.8 .8 11 .7-6.9 .8-.9 .7-1 .8 6.1 .7-.8 .8-15.9 .7 1.5 .8-2.5 .7 .3 .8 9.3 .7-3 .8 3.2 .7-.1 .8-14.2 .7-.4 .8 4.1 .7-5.7 .8 12.5 .7-13.6 .8 13.3 .7-1.6 .8-12.7 .7 11.7 .8-.6 .7 .1 .8-1.1 .7-1.1 .8-1.4 .7 1.3 .8-.2 .7-14.6 .8 13.5 .7-1.1 .8-5.6 .7 4.3 .8-10.6 .7 8.9 .8-10.2 .7-1.9 .8 10.8 .7-8.1 .8 1.7 .7-1.7 .8 7.5 .7 1.3 .8 1.6 .7 2 .8-10.4 .7 11.8 .8-10.3 .7 11.3 .8-8.5 .7 2.2 .8 .6 .7 11.2 .8 .4 .7 .7 .8-4.2 .7 7.6 .8-4.2 .7-7.3 .8 .8 .7 4.3 .8-1.2 .7 1.7 .8 10.5 .7-5.2 .8 1.4 .7 8.2 .8-9.5 .7 8.7 .8-3.3 .7 7.6 .8-10.7 .7 3.7 .8 3 .7 8.2 .8-.1 .7-3 .8 4 .7-6.3 .8 1.1 .7 8.6 .8 0 .7 .1 .8-11.1 .7 7.5 .8 .5 .7-1 .8 1.2 .7-2.5 .8 12.4 .7 .5 .8-8 .7-1.9 .8 1.8 .7 9.8 .8 3.5 .7-.2 .8 1 .7-12.6 .8 12.6 .7-6.5 .8-2.1 .7-4.3 .8 6.4 .7 7.9 .8-13.1 .7 11.5 .8-10.4 .7 8.9 .8 4.2 .7-.2 .8-.4 .7-3.2 .8-9.5 .7 12.2 .8-10.2 .7 11.3 .8-4.2 .7-9.2 .8 .5 .7 2.4 .8-1.6 .7 4.5 .8-4.2 .7 4.5 .8-4.8 .7-1.3 .8 9.9 .7-11 .8 7.8 .7-14.8 .8 4.7 .7-8.5 .8 12.6 .7-14 .8 13.8 .7-8.5 .8-5.1 .7 11.9 .8-11.5 .7 3.6 .8 6.4 .7-3.4 .8-1.3 .7-3.4 .8 8.3 .7-2.3 .8-4.3 .7 1.8 .8 12.3 .7-.7 .8-9 .7 7.7 .8-14.5 .7 .1 .8-.7 .7 12.3 .8-10.5 .7 9.9 .8-1.4 .7-8.4 .8-1.1 .7 6.3 .8 3.2 .7-10.5 .8 3.9 .7 .3 .8 6.5 .7-3.5 .8 2 .7 2.9 .8-6.2 .7 4.2 .8-11.7 .7 13.3 .8-.7 .7-12.1 .8-.1 .7 5.4 .8-.5" class="c"/>
<path d="M704.5 930l.9 65.5 .6-55.5 1.4 26.8 .6-41.8 1-10 1.5 15 1-12" class="c"/>
<path d="M120.5 740l.2 18 .2 8 .2 7 .2 27" class="d"/>
<path d="M122.7 813.4l1.4-.5 1.4-.7 1.4-.8 1.4-.5 1.4-.6 1.4-1.3 1.4-1.5 1.4-.5 1.4 .4 1.4 .1 1.4-.1 1.4 0 1.4-.3 1.4-.2 1.4-.2 1.4-1 1.4-1.7 1.4-.5 1.4 .5 1.4 .2 1.4-.3 1.4 .5 1.4 .8 1.4 .5 1.4 .4 1.4 .9 1.4 1 1.4 .2 1.4-.6 1.4 0 1.4 .7 1.4 .8 1.4 1.2 1.4 2.1 1.4 1.6 1.4 .5 1.4 0 1.4 .1 1.4-.3 1.4 0 1.4 .3 1.4-.7 1.4-.3 1.4 .2 1.4 .2 1.4-.7 1.4-1 1.4-.4 1.4 .3 1.4-.4 1.4-1 1.4-1 1.4-1.2 1.4-1.4 1.4-.8 1.4 .3 1.4 .7 1.4 0 1.4-.1 1.4 .1 1.4-.7 1.4-1.2 1.4-.6 1.4-.4 1.4-.2 1.4-1 1.4-1 1.4 0 1.4 .3 1.4 .2 1.4 1.5 1.4 1.8 1.4 .1 1.4-1.3 1.4-.8 1.4 .1 1.4 .4 1.4 .6 1.4 1.8 1.4 1.4 1.4 .4 1.4 .2 1.4 .3 1.4-.8 1.4-.5 1.4 .6 1.4 .7 1.4 .3 1.4 .1 1.4 .3 1.4 .4 1.4 .3 1.4 .1 1.4-.3 1.4-.1 1.4 1 1.4 1.4 1.4 .4 1.4-.1 1.4 0 1.4 .4 1.4 .5 1.4 .4 1.4 .2 1.4-.4 1.4-.9 1.4-1 1.4-1 1.4-1.1 1.4-1.1 1.4 .1 1.4 .7 1.4 .2 1.4 .1 1.4 .1 1.4 .1 1.4 0 1.4 0 1.4-.5 1.4-.2 1.4 .4 1.4 .5 1.4 .4 1.4-.7 1.4-.8 1.4-.5 1.4-.5 1.4-.8 1.4-1.3 1.4-1.1 1.4-.5 1.4-.4 1.4-.7 1.4-.1 1.4 .6 1.4 .8 1.4 .7 1.4 .8 1.4 1.4 1.4 1 1.4 .1 1.4-.1 1.4 .4 1.4 .5 1.4 .7 1.4 .4 1.4-.2 1.4 .1 1.4 .3 1.4 .1 1.4 .1 1.4 .2 1.4-.3 1.4-1.3 1.4-.8 1.4-.6 1.4-.7 1.4-.3 1.4 .3 1.4 0 1.4-.6 1.4-.4 1.4 0 1.4 .9 1.4 .7 1.4-.6 1.4-1.3 1.4 0 1.4 1.2 1.4 .5 1.4-1.6 1.4-2.3 1.4-.6 1.4 .8 1.4 .6 1.4 0 1.4 0 1.4 .2 1.4-.2 1.4-.2 1.4 .7 1.4 1.3 1.4 .2 1.4-.2 1.4-.1 1.4-.5 1.4-1 1.4 0 1.4 .8 1.4 .5 1.4 .3 1.4 .3 1.4 0 1.4-1 1.4-.7 1.4 .2 1.4 .2 1.4 1.2 1.4 .9 1.4 .3 1.4-.1 1.4-.1 1.4-.4 1.4-.7 1.5-.6 1.4-.3 1.4-.4 1.4-.3 1.4-.1 1.4-.1 1.4-.5 1.4-.8 1.4-.2 1.4 .9 1.4 .5 1.4-.1 1.4 .1 1.4 .4 1.4 .9 1.4 1.3 1.4 1.3 1.4 .8 1.4 1.7 1.4 2.5 1.4 2.3 1.4 .9 1.4 .8 1.4-.2 1.4-1.2 1.4-1.2 1.4-.9 1.4-1.1 1.4-.6 1.4-.1 1.4-.1 1.4 .3 1.4 .8 1.4-.2 1.4-.4 1.4-.4 1.4-.4 1.4-.5 1.4 .3 1.4 1 1.4 .6 1.4 .2 1.4 .2 1.4 .1 1.4 .4 1.4 .2 1.4-.2 1.4-.4 1.4-.5 1.4-1.4 1.4-1.2 1.4-.3 1.4 .1 1.4-.1 1.4 .1 1.4 .1 1.4-.1 1.4-.2 1.4-.1 1.4-.2 1.4-.2 1.4-.2 1.4-.4 1.4 .1 1.4 .6 1.4 .6 1.4 1.4 1.4 1.7 1.4 1.2 1.4 .7 1.4 .8 1.4 1 1.4 1 1.4 .8 1.4 .1 1.4 .3 1.4-.2 1.4-.5 1.4-.4 1.4-.3 1.4-.5 1.4-.4 1.4 0 1.4-.3 1.4-.2 1.4 .1 1.4-.2 1.4-.6 1.4 0 1.4-.2 1.4-.4 1.4 3.3 1.4 4.3 1.4 2.8 1.4 1.2 1.4 2.2 1.4 4.5 1.4 2.5 1.4 .3 1.4-.2 1.4-.2 1.4-.3 1.4-.5 1.4 .2 1.4 1.1 1.4 .7 1.4-.3 1.4-.6 1.4-.5 1.4-1.3 1.4-.7 1.4 1.2 1.4 1.9 1.4 .1 1.4-1.2 1.4-1.2 1.4-.2 1.4 .2 1.4-.5 1.4-.9 1.4-.6 1.4-1.3 1.4-1.7 1.4-.6 1.4-.7 1.4-.6 1.4-.6 1.4-.8 1.4-.6 1.4 .7 1.4 .2 1.4-.7 1.4-.5 1.4-.6 1.4-1.2 1.4-.8 1.4-.2 1.4-.4 1.4 0 1.4 .5 1.4 .3 1.4 .6 1.4 1.4 1.4 1.6 1.4 1.2 1.4 .9 1.4 1.2 1.4 1.2 1.4 1.1 1.4 1.5 1.4 1.5 1.4 1.3 1.4 1.1 1.4 1.6 1.4 1.3 1.4 0 1.4-1.1 1.4-1.5 1.4-.3 1.4 0 1.4 0 1.4 1.1 1.4 1.6 1.4 .4 1.4-.3 1.4-.1 1.4-.1 1.4 .5 1.4 .7 1.4 .4 1.4 .4 1.4 .9 1.4 1.1 1.4 1 1.4 1 1.4 1.1 1.4 1.3 1.4 1.3 1.4 1.2 1.4 .9 1.4 1.4 1.4 1.6 1.4 1.5 1.4 1.9 1.4 1.7 1.4 1.5 1.4 1.4 1.4 1.4 1.4 1.2 1.4 1.3 1.4 2.3 1.4 2.4 1.4 2.5 1.4 2.6 1.4 3 1.4 2.8 1.4 2.1 1.4 3.7 1.4 5.5 1.4 6.9 1.4 6.4 1.4 5.3 1.4 5 1.4 5.2 0 28.1-1.4-5.1-1.4-5.5-1.4-5.2-1.4-4.2-1.4-4-1.4-4.9-1.4-5.5-1.4-5-1.4-4.3-1.4-4.2-1.4-4.3-1.4-3.9-1.4-4.2-1.4-5.4-1.4-4-1.4-2.4-1.4-1.8-1.4-1.9-1.4-1.7-1.4-1.5-1.4-1.8-1.4-1.4-1.4-1.7-1.4-1.6-1.4-1-1.4-1.2-1.4-2-1.4-1.6-1.4-.6-1.4-.4-1.4-1-1.4-1.5-1.4-1.6-1.4-2.2-1.4-2.3-1.4-1.1-1.4 .1-1.4 .3-1.4-.7-1.4-.8-1.4-.3-1.4 .2-1.4 .1-1.4-.4-1.4-.6-1.4-.1-1.4-.2-1.4-.3-1.4-.3-1.4-.5-1.4-.6-1.4-.4-1.4-.6-1.4-.2-1.4-.1-1.4-1-1.4-2.2-1.4-1.8-1.4-1-1.4-1-1.4-.7-1.4 .9-1.4 .9-1.4 .4-1.4 .7-1.4 0-1.4-1.3-1.4-.7-1.4 .6-1.4 .7-1.4 .5-1.4 .5-1.4 .4-1.4-.3-1.4-.6-1.4 .3-1.4 2-1.4 1.4-1.4-.6-1.4-1-1.4 .3-1.4 1.2-1.4 .9-1.4 .4-1.4 .3-1.4 0-1.4-.4-1.4-.4-1.4-.7-1.4-1.1-1.4 0-1.4 .3-1.4 .2-1.4 .4-1.4 .6-1.4 .2-1.4 .1-1.4 .1-1.4 .1-1.4 .2-1.4 .2-1.4 .4-1.4 .5-1.4 .4-1.4 .5-1.4 .8-1.4 .7-1.4-2.4-1.4-4.1-1.4-4.7-1.4-3.8-1.4-3.4-1.4-2.8-1.4-.4-1.4-.4-1.4 .8-1.4 2-1.4 1.7-1.4-.3-1.4-.9-1.4 .1-1.4 1.8-1.4 1.2-1.4-.2-1.4-.1-1.4-.2-1.4-1.3-1.4-1.2-1.4-.8-1.4-.6-1.4-.8-1.4-.5-1.4-.2-1.4 .2-1.4 .4-1.4-.1-1.4-.9-1.4-.7-1.4 .4-1.4 .8-1.4 .2-1.4-.4-1.4-.2-1.4-.1-1.4-.3-1.4-.5-1.4-.2-1.4-.5-1.4-1.2-1.4-1.2-1.4-.1-1.4 .5-1.4 .4-1.4-.3-1.4-.4-1.4-.2-1.4-.5-1.4-.3-1.4 .3-1.4 .3-1.4 .2-1.4 .5-1.4 .3-1.4 .7-1.4 1.1-1.4 .3-1.4-.1-1.4 0-1.4-.3-1.4-.5-1.4-.3-1.4-.7-1.4-.5-1.4 .8-1.4 1.4-1.4 .5-1.4-.2-1.4 .1-1.4 .1-1.4-.3-1.4 .2-1.4 1.1-1.4 .4-1.4-1.5-1.4-1.4-1.4-1.4-1.4-1.3-1.4-1.4-1.4-1.5-1.4-1.7-1.4-.5-1.4-.9-1.4-.4-1.4 1.2-1.4 1.6-1.4 .6-1.4-.6-1.4-.4-1.4 0-1.4 .1-1.4 .1-1.4 0-1.4 .1-1.5 1-1.4 1.5-1.4 .2-1.4-.7-1.4-.4-1.4-.1-1.4-.2-1.4-1-1.4 .3-1.4 .2-1.4-.2-1.4-.2-1.4-.2-1.4-.6-1.4-.5-1.4 .1-1.4 .1-1.4-.1-1.4-.1-1.4-.2-1.4 .3-1.4 .6-1.4-.3-1.4-.7-1.4-.3-1.4 .1-1.4 .2-1.4 .5-1.4 .3-1.4 .4-1.4 .5-1.4 .4-1.4 .2-1.4 .7-1.4 .4-1.4 .1-1.4 .3-1.4 .2-1.4-.1-1.4 .1-1.4-.7-1.4-1.4-1.4 .1-1.4 1.1-1.4 .8-1.4 .7-1.4 .9-1.4 .3-1.4 .2-1.4 0-1.4-.6-1.4-.9-1.4-.5-1.4-.8-1.4-.4-1.4 0-1.4-.1-1.4 .1-1.4 1.2-1.4 .3-1.4-1.1-1.4-1.2-1.4-.5-1.4-.7-1.4-.6-1.4 .1-1.4 .1-1.4-.5-1.4-.6-1.4-.4-1.4-.7-1.4 0-1.4 .7-1.4 .5-1.4 .3-1.4 .8-1.4 .8-1.4 .6-1.4 .6-1.4 .9-1.4 1.9-1.4 2.5-1.4 .1-1.4-1.2-1.4-1.1-1.4 .1-1.4 .2-1.4-.3-1.4-.3-1.4-.3-1.4 .1-1.4 .3-1.4-.1-1.4 .9-1.4 .8-1.4 .3-1.4 .4-1.4 .6-1.4-.1-1.4 .2-1.4 .6-1.4 .1-1.4-.2-1.4 .2-1.4 .2-1.4-.3-1.4-.4-1.4-.4-1.4-1.2-1.4-1.1-1.4-.1-1.4 .2-1.4-.8-1.4-1.5-1.4-1-1.4 .3-1.4 .9-1.4-.1-1.4-1.3-1.4-.9-1.4-.3-1.4-.3-1.4 0-1.4 .8-1.4 .4-1.4-.8-1.4-1.4-1.4-.5-1.4 .5-1.4 .3-1.4-1.3-1.4-1.5-1.4-.2-1.4 .8-1.4 .7-1.4-.1-1.4-.4-1.4 .2-1.4 .6-1.4 .5-1.4-.6-1.4-.9-1.4 0-1.4-.2-1.4-.2-1.4 1.1-1.4 1.9-1.4 .5-1.4-.5-1.4-.2-1.4 1.3-1.4 1.8-1.4 .8-1.4 0-1.4 .3-1.4 1.1-1.4 1.2-1.4 .6-1.4-.7-1.4 .1-1.4 1.4-1.4 1.5-1.4 1.1-1.4 1.6-1.4-.1-1.4-2.2-1.4-2.8-1.4-1.4-1.4-1-1.4-.9-1.4-.6-1.4-.4-1.4-.6-1.4 .3-1.4-.1-1.4-1.3-1.4-1.4-1.4-.8-1.4-.3-1.4-.5-1.4-.6-1.4-.6-1.4-.8-1.4-1.2-1.4 0-1.4 1.6-1.4 2.1-1.4 .5-1.4-.7-1.4-.5-1.4 .2-1.4 .1-1.4 .5-1.4 .8-1.4 1-1.4 .9-1.4 .9-1.4 .8-1.4 .1-1.4 .2-1.4 .4-1.4 .3-1.4 .5-1.4 .9-1.4 .8z" fill="#3953A4"/>
<path d="M122.7 818.3l.7-2.9 .7 2.8 .7-4.4 .7-.9 .7 6.1 .7-7 .7 4.9 .7 0 .7-5.5 .7 5.7 .7 1.2 .7 .1 .7-1.5 .7-3.4 .7-5.4 .7 9.7 .7-10 .7 8.5 .7-4.1 .7-3 .7 3.7 .7-1.1 .7 1.6 .7-4.1 .7-.6 .7 4 .7-4.5 .7 2.7 .7-3.5 .7 5.7 .7-4.9 .7-1.3 .7 2.5 .7 1.9 .7-3.9 .7 6.3 .7-4.5 .7-4.3 .7 4.4 .7-4.3 .7-.4 .7 4.5 .7-1.5 .7-.2 .7 1.2 .7 3.3 .7-5.5 .7 6.3 .7-5.7 .7 3.5 .7 .4 .7 2.8 .7-1.2 .7-4.1 .7 5.3 .7 1.2 .7-2.9 .7-1.4 .7 5.6 .7-6.2 .7-.4 .7 1.3 .7-.1 .7 6.5 .7 .2 .7 .3 .7-5.5 .7 1.7 .7-.4 .7 1.3 .7 4.5 .7-3.9 .7 4.9 .7-5.7 .7 6.8 .7-6.5 .7 8.5 .7-7.9 .7 9.5 .7-8.3 .7 6.9 .7-7.9 .7 3.2 .7 6.9 .7-9.8 .7 5.5 .7 .6 .7 .5 .7-.8 .7-4.1 .7 1.5 .7-5.5 .7 7.8 .7-6.8 .7-.6 .7 6.4 .7-.1 .7-7.7 .7 4.8 .7-5 .7-.9 .7-.5 .7 5.6 .7-3.3 .7 5.2 .7-8.9 .7 4.2 .7 .1 .7-.8 .7 1.7 .7-7.5 .7-.5 .7 .8 .7 6.7 .7-3.7 .7 4.5 .7-1 .7-6.2 .7 .2 .7-.6 .7 .8 .7 4 .7-5.6 .7 5.3 .7-6.7 .7 .6 .7-.4 .7 6.3 .7-2.1 .7 1.9 .7 2.6 .7-4.7 .7-3.6 .7 3 .7-4.8 .7-1.5 .7 4.3 .7-.8 .7 7.3 .7-1.9 .7 1.4 .7-.3 .7-4.9 .7 2.8 .7 1 .7-2.5 .7 1.3 .7-.2 .7 4.4 .7-.3 .7-9.7 .7 7.9 .7 1.8 .7 0 .7-9.2 .7 4.5 .7 1.3 .7-.3 .7 5.2 .7-2.4 .7 .1 .7-2 .7-1.9 .7 .5 .7 5.1 .7-3.6 .7 3.3 .7 .4 .7-6.6 .7 1.9 .7 5.7 .7-5.9 .7 4.6 .7 3.4 .7-8.3 .7 2.8 .7 5.3 .7-6.3 .7-.2 .7 4.3 .7-1.2 .7-1.9 .7 1 .7 5.8 .7 .3 .7-8.2 .7-.8 .7 9 .7-3.2 .7-5.4 .7-.5 .7 5.2 .7-3.6 .7 9.9 .7-8.5 .7 8.4 .7-7.3 .7-.8 .7 0 .7 2.9 .7 7 .7-6.1 .7 .6 .7 4.7 .7 .1 .7 .5 .7-.8 .7-7.7 .7 4.8 .7 2 .7-5.2 .7-2.5 .7 1.7 .7-3.5 .7 5.9 .7-6.2 .7-.5 .7 2.4 .7 7.6 .7-11.5 .7 .5 .7-1.3 .7 3.1 .7 .8 .7 .3 .7-3.2 .7 .2 .7-.3 .7 .2 .7 4.9 .7 2.9 .7-1.5 .7-5.9 .7 3 .7-2.5 .7 2.2 .7-3 .7 2 .7 3 .7-.3 .7 1.5 .7-1.2 .7 2.1 .7-5.2 .7 6.4 .7-3.2 .7 5.7 .7-1.9 .7-1.4 .7-7.6 .7-1.2 .7 .5 .7 4.6 .7 1.3 .7-5.5 .7 3.9 .7 1 .7-8.6 .7 .2 .7 4.1 .7-3.2 .7-2.6 .7 2.6 .7-3.2 .7 7.9 .7-.3 .7-.5 .7-5.8 .7 7.1 .7-4.4 .7-3.5 .7 8.3 .7 .1 .7 1 .7-3.2 .7-3.6 .7 5.5 .7-3.4 .7 4.4 .7-4.4 .7 .4 .7 .1 .7 5.6 .7-5.8 .7 5.7 .7-6.3 .7 1.2 .7 6.4 .7 1.4 .7-7.6 .7 7.4 .7-4.3 .7 3.6 .7-2.8 .7 .5 .7-2.4 .7 4.3 .7 .5 .7-6.3 .7 6.2 .7-5.3 .7 5.3 .7 .7 .7-6.1 .7 1 .7 2.4 .7-4.1 .7-.9 .7-1 .7 9.1 .7-8.1 .7-.9 .7 2.1 .7 8.8 .7-12.9 .7 2.4 .7 8.8 .7-10.6 .7 6.7 .7 1.9 .7-.7 .7 1 .7-10 .7 3.2 .7-3.4 .7 9 .7-2.2 .7 4.1 .7 .8 .7-3.4 .7 1.1 .7-2.2 .7 .3 .7 1.7 .7-9.8 .7 11.9 .7-10.3 .7 6.5 .7 2.8 .7 .7 .7-7.6 .7-3.7 .7 10.2 .7-.3 .7-5.4 .7 2.5 .7-8.5 .7 8.7 .7 .8 .7 1 .7-4.9 .7-1 .7-.7 .7 5.7 .7-5.9 .7 .2 .7 5.3 .7-7.8 .7 7.4 .7-.2 .7 .4 .7-5.4 .7 5.7 .7-6.5 .7 4.7 .7-3.7 .7 6.2 .7-7.1 .7 6.8 .7-7.8 .7 4.5 .7 2.8 .7-1.7 .7-4.9 .7 6.9 .7-3.9 .7-.2 .7-3.3 .7 1 .7-1 .7 6.7 .7 1.4 .7-5.8 .7 6.1 .7-6.3 .7-1.5 .7-.8 .7 6.7 .7 2.8 .7-.7 .7 0 .7-4.8 .7 5.3 .7-1 .7-1.3 .7 1.8 .7 1.5 .7-8.5 .7 .4 .7 .6 .7 1.4 .7 5.4 .7-8.2 .7 9.4 .7-4.9 .7-4.2 .7 8.5 .7-2.5 .8-2.1 .7-1 .7 1.7 .7-6.9 .7 8.8 .7-3.6 .7-3.6 .7-2 .7 8.9 .7-3.3 .7-6.3 .7 1.2 .7 4.9 .7-2.8 .7 2.8 .7-7.1 .7 7.2 .7 4.1 .7-10.6 .7 .5 .7 2.1 .7-.7 .7-1.6 .7 8 .7-7.3 .7-.8 .7 1 .7 3.6 .7-.2 .7-.1 .7-1.9 .7 2.6 .7 6 .7-6.2 .7 9.8 .7 .3 .7-5 .7 6.5 .7 1.3 .7-7.9 .7 7.8 .7-2.6 .7 2.1 .7 2.3 .7-.6 .7-.5 .7-5.1 .7 3.9 .7-4.8 .7 1.4 .7 1.8 .7 2.5 .7-6.8 .7 7 .7-9.2 .7 8.6 .7-.3 .7-.5 .7-5.7 .7 5.3 .7-6.3 .7 4.1 .7-6 .7-.2 .7 6.1 .7 .2 .7 1.3 .7 .8 .7-7.4 .7 1.3 .7 7.2 .7-4.8 .7-1.7 .7 6.7 .7-6.7 .7 7.3 .7-1.9 .7 1.6 .7-2.1 .7-7.9 .7 2.4 .7-.4 .7 3.3 .7-3.8 .7 5.4 .7 .1 .7-3.8 .7-1.8 .7 .7 .7 5 .7-3.2 .7 .1 .7-2.4 .7 3.1 .7 2.4 .7-.7 .7-4.1 .7 4.4 .7 .5 .7-7.4 .7 7.2 .7-5.1 .7 5.9 .7-3.6 .7 2.5 .7-4.6 .7 4.4 .7-4.3 .7 6 .7-9.9 .7 0 .7 3.4 .7 8 .7-1.6 .7-6.6 .7 8.4 .7-9.2 .7 9.8 .7 .2 .7 .6 .7-.6 .7-13.5 .7 .5 .7 3.1 .7 6.3 .7-3.5 .7 2.2 .7-6.5 .7 9.5 .7 2.1 .7-.2 .7-.1 .7-11.8 .7 8 .7 4.1 .7-9.5 .7 .6 .7 10.1 .7-.1 .7-6.5 .7 6.4 .7-6.6 .7 2.7 .7 3.5 .7-2.7 .7 1.1 .7 3.2 .7-6.3 .7 4 .7 .6 .7-1.2 .7 4.6 .7-.2 .7-7 .7 1.6 .7 4.9 .7-4 .7 4.4 .7-4.2 .7-3.7 .7 10.2 .7-.7 .7-11.2 .7 10.7 .7 0 .7-1.1 .7 0 .7-.8 .7-.6 .7-2.8 .7-2.4 .7-3.9 .7 4.4 .7 4.8 .7-9.6 .7 3.8 .7 1.1 .7 1.9 .7-1.6 .7-4.1 .7 3.2 .7-4.2 .7 8.8 .7-5.5 .7 1.5 .7 9.4 .7 1 .7-4.9 .7 .3 .7 4.1 .7-2.5 .7 14.8 .7-12 .7 13.7 .7 .8 .7-.6 .7-4.4 .7-.5 .7-3.8 .7 7.4 .7-7.9 .7 7.2 .7-1.8 .7-5.3 .7-.2 .7-.4 .7 5.2 .7 1 .7-1.4 .7 2.1 .7-.3 .7-1 .7-3.1 .7 3.6 .7-.1 .7-2.8 .7 1.4 .7-3 .7-1.6 .7 3.5 .7-2.3 .7 3.8 .7-.1 .7-3.1 .7-.7 .7 3.7 .7-2.1 .7-.8 .7-.7 .7-.3 .7 5.6 .7-7.3 .7 6.5 .7-.3 .7 .3 .7 .8 .7-5.4 .7-1.7 .7 8 .7-7.5 .7 3.9 .7 .8 .7-7.8 .7-.9 .7 8.5 .7-.1 .7-1 .7 0 .7-8.1 .7 3.5 .7 2.6 .7-8.7 .7 2.4 .7-2.6 .7-.9 .7-.7 .7-.5 .7 5.6 .7 6.1 .7-10.4 .7 10.7 .7-.9 .7 1.3 .7-1 .7-10.8 .7 3.3 .7 7.3 .7-6.1 .7 4.9 .7 .4 .7-2 .7 .8 .7-11.4 .7 7 .7-.1 .7 7.1 .7-15.1 .7 3.5 .7 6.1 .7 .3 .7 4.1 .7-.7 .7-4.1 .7-8.2 .7 1.4 .7 10 .7-8.9 .7 7.3 .7 2.3 .7 .4 .7-7.5 .7 1.9 .7 2.4 .7-1.5 .7 6.6 .7-3.1 .7 7.4 .7-9.3 .7 .3 .7 3.9 .7-2.4 .7 1.4 .7 .8 .7-.3 .7 4.2 .7 2.4 .7-4.3 .7 2.5 .7-1.1 .7 1.2 .7 .9 .7 2 .7 .7 .7-3.6 .7-2.9 .7 7.2 .7-.7 .7-2.8 .7 3.5 .7-1.4 .7 2 .7 0 .7-1.8 .7-4.1 .7 4.2 .7 2 .7-.9 .7-4.9 .7 .4 .7 .3 .7 .8 .7 5.1 .7-.9 .7 .9 .7-6.5 .7 6 .7-5.9 .7 4.8 .7-4 .7 9.1 .7 1.7 .7 .9 .7-10.2 .7 6.5 .7-4.8 .7 5.8 .7 5.9 .7-5.4 .7-5 .7 11.5 .7-7.4 .7-.5 .7-.1 .7 9.5 .7-2.4 .7-2.4 .7 4.5 .7-3.2 .7 4.8 .7-8.4 .7 2 .7 6.7 .7 6 .7 .7 .7-1.2 .7-2.8 .7 4.6 .7-2.3 .7 .1 .7 2 .7-7.3 .7 4.7 .7-3 .7 6.7 .7 3.4 .7 2.4 .7 .2 .7 4.5 .7 1.6 .7-6.2 .7-3.3 .7 13.5 .7 5.7 .7 3.1 .7-19.4 .7 22.6 .7-18.8 .7 0 .7 .7 .7 1.9 .7 13.5 .7 15.1 .7-11.6 .7-5.4 .7-6.2 .7 2.6 .7 33.9 .7-24.2 .7 28.4 .7 2.7 .7-25.6 .7 16.7 .7 11.7 .7-19.7 .7 28.4 .7-17.4 .7 12.5 .7-4.1" class="d"/>
<path d="M694 946.8l2.5 20 .5 4 .5 6.7 1 17.3 1.5 12.1 1 10.6 .5 21.4 .5 26.7-1 3.4-.1 4.7 .2-2.2 1.2-2.6 0 5-.3-1.1 1 1.3 .3-1.6-.2 .4 .6 7.2 .4-.4 .1 .5 0-2.9 .9 4.3 0-4.4 .2 1.7 .3 5.6 .2 1.3 1-5.9-.2 4.3-.1 .2 1.2-1.8-.9 .2 0 3.1-.5-3.6-.2 2.2-.1-1.9" class="d"/>
<g font-family='"Liberation Sans", Arial, Helvetica, sans-serif' font-size="33.8" fill="#414042">
<text x="120.5" y="1156.5" text-anchor="middle">0</text>
<text x="240.5" y="1156.5" text-anchor="middle">200</text>
<text x="360.5" y="1156.5" text-anchor="middle">400</text>
<text x="480.6" y="1156.5" text-anchor="middle">600</text>
<text x="600.6" y="1156.5" text-anchor="middle">800</text>
<text x="720.6" y="1156.5" text-anchor="middle">1000</text>
<text x="109.0" y="686.8" text-anchor="end">1.5</text>
<text x="109.0" y="774.3" text-anchor="end">1</text>
<text x="109.0" y="861.8" text-anchor="end">0.5</text>
<text x="109.0" y="949.4" text-anchor="end">0</text>
<text x="109.0" y="1036.9" text-anchor="end">-0.5</text>
<text x="109.0" y="1124.4" text-anchor="end">-1</text>
</g>
<text x="420.7" y="658.1" text-anchor="middle" font-family='"Liberation Sans", Arial, Helvetica, sans-serif' font-size="37.8" fill="#231F20">Bearing2-4(IMS)</text>
<text x="420.2" y="1205.6" text-anchor="middle" font-family='"Liberation Sans", Arial, Helvetica, sans-serif' font-size="37.8" fill="#414042">t(10min)</text>
<text transform="translate(26.0 892.9000000000001) rotate(-90)" text-anchor="middle" font-family='"Liberation Sans", Arial, Helvetica, sans-serif' font-size="37.8" fill="#414042">T</text>
<text x="400.6" y="1259.4" text-anchor="middle" font-family='"Liberation Serif", "Times New Roman", serif' font-size="43.3" fill="#231F20">(c)</text>
<rect x="147.4" y="881.8" width="270.0" height="163.5" fill="#fff" stroke="#4d4d4f" stroke-width="1.1"/>
<path d="M153.4 904.3H210.6" stroke="#231F20" stroke-width="1.7"/>
<text x="215.1" y="915.6" font-family='"Liberation Sans", Arial, Helvetica, sans-serif' font-size="31" fill="#231F20">True</text>
<path d="M153.4 944.1H210.6" stroke="#B9529F" stroke-width="0.65" fill="none"/>
<use href="#ast" x="182.0" y="944.1" stroke="#B9529F"/>
<text x="215.6" y="955.0" font-family='"Liberation Sans", Arial, Helvetica, sans-serif' font-size="32.3" fill="#231F20">IBA-FELM</text>
<path d="M153.4 983.4H210.6" stroke="#6ABD45" stroke-width="0.65" fill="none"/>
<use href="#circ" x="182.0" y="983.4" stroke="#6ABD45"/>
<text x="214.1" y="994.4" font-family='"Liberation Sans", Arial, Helvetica, sans-serif' font-size="31" fill="#231F20">BA-FELM</text>
<path d="M153.4 1023.4H210.6" stroke="#3953A4" stroke-width="0.65" fill="none"/>
<use href="#dia" x="182.0" y="1023.4" stroke="#3953A4"/>
<text x="214.1" y="1034.7" font-family='"Liberation Sans", Arial, Helvetica, sans-serif' font-size="31" fill="#231F20">FELM</text>
</g>
<g id="panel-d">
<rect x="953.5" y="679.5" width="610.8" height="435.70000000000005" fill="none" stroke="#4d4d4f" stroke-width="1.1"/>
<path d="M1075.7 1115.2v-6.2M1075.7 679.5v6.2M1197.8 1115.2v-6.2M1197.8 679.5v6.2M1320.0 1115.2v-6.2M1320.0 679.5v6.2M1442.1 1115.2v-6.2M1442.1 679.5v6.2M953.5 766.6h6.2M1564.3 766.6h-6.2M953.5 853.8h6.2M1564.3 853.8h-6.2M953.5 940.9h6.2M1564.3 940.9h-6.2M953.5 1028.1h6.2M1564.3 1028.1h-6.2" stroke="#4d4d4f" stroke-width="1.1" fill="none"/>
<path d="M953.5 971.3l1.3 22.4 1.3-1.6 1.3-30.3 1.3 24 1.3-25.8 1.3 14.9 1.3 4.4 1.3 28.5 1.3 2.1 1.3-45.3 1.3 14.9 1.3 3.2 1.3-19.7 1.3 29.3 1.3-11.1 1.3-19.9 1.3 60.6 1.3-5 1.3-13.2 1.3 20.2 1.3 27.4 1.3 13.6 1.3-70.1 1.3 15.7 1.3 55 1.3-5.8 1.3-72.3 1.3 71 1.3-54.6 1.3 70.9 1.3-75.4 1.3 35.3 1.3 26 1.3-55.2 1.3 18.4 1.3 17 1.3-18.6 1.3 17.6 1.3-48.6 1.3 44.6 1.3-24.7 1.3 21.5 1.3-17.5 1.3-12.8 1.3 30.5 1.3-12.1 1.3 2.7 1.3-12.7 1.3 27.6 1.3-19.4 1.4 5.4 1.3 6.3 1.3-2.1 1.3 15.8 1.3-18.8 1.3 15.7 1.3-4 1.3-.8 1.3 17.7 1.3-22.2 1.3 5.8 1.3 2.6 1.3 8.5 1.3-9.1 1.3 50.1 1.3-21.6 1.3 20 1.3-21.2 1.3 26.3 1.3-5.3 1.3-25.8 1.3 23.2 1.3-26.3 1.3 13.1 1.3-24 1.3 30.7 1.3-14 1.3-7.3 1.3 8.3 1.3 23.4 1.3-24.6 1.3 9 1.3-13.5 1.3 1.1 1.3 1.5 1.3 8.8 1.3-6.9 1.3 31.1 1.3 1.1 1.3-4.6 1.3 3 1.3-12.1 1.3-13.2 1.3 26.5 1.3-28.2 1.3 21.2 1.3-.5 1.3-34.4 1.3-11.1 1.3-.1 1.3-.3 1.3 24.2 1.3 11 1.3 13.3 1.3-31.4 1.3 34.4 1.3-53.5 1.3 21.5 1.3 10.9 1.3-6.1 1.3 20.6 1.3-26.5 1.3-11.5 1.3 8.6 1.3 9.3 1.3 13 1.3 7.7 1.3-43.2 1.3 53.9 1.3-21.6 1.3 1.9 1.3-10.1 1.3 6.2 1.3 28.6 1.3 12.2 1.3-25.7 1.3 11.3 1.3-36.7 1.3 12.1 1.3-4.9 1.3 33 1.3 .5 1.3-24.4 1.3-15.1 1.3 48.8 1.3-56.3 1.3 56.2 1.3-58.2 1.3 13.1 1.3 8.5 1.3 33.6 1.3 .7 1.3-39.4 1.3 21 1.3-23.2 1.3 9.3 1.3-15.7 1.3 33 1.3-51.4 1.3 10.1 1.3 25.8 1.3-13.5 1.4 19 1.3 6.2 1.3-18.3 1.3 36 1.3-32.5 1.3 6 1.3-2 1.3 26.4 1.3-8 1.3-34.9 1.3 22.1 1.3 26.9 1.3-28.5 1.3-11.9 1.3 0 1.3 12.3 1.3 11 1.3-36.5 1.3 1 1.3 27.7 1.3-23.7 1.3 8.4 1.3 11.2 1.3-36.3 1.3 16.4 1.3 12.6 1.3 5 1.3-2.9 1.3-23.4 1.3-24.5 1.3 44.1 1.3-36.8 1.3-19.5 1.3 16 1.3 29.1 1.3-21.6 1.3-19.5 1.3 23.8 1.3-11.6 1.3 1.4 1.3-16.7 1.3-12.1 1.3 7.2 1.3 11 1.3 31.5 1.3-53.6 1.3 56.1 1.3-2.1 1.3-17.3 1.3 5.2 1.3 13.2 1.3 5.6 1.3-47.8 1.3 33.9 1.3-21.1 1.3-22.1 1.3 16.4 1.3 39.2 1.3-40 1.3-5.6 1.3 16.7 1.3-16 1.3 23.5 1.3-18.2 1.3 9.6 1.3-.1 1.3 30.6 1.3-56.7 1.3 18.6 1.3-25.9 1.3-19.5 1.3-.1 1.3 28 1.3 8.6 1.3 2.9 1.3-1.9 1.3-13.7 1.3-11.6 1.3 10.1 1.3 36.1 1.3-12.6 1.3 18.1 1.3-2.7 1.3-21.5 1.3-35.7 1.3 24.4 1.3 11 1.3-21.3 1.3 22.1 1.3-34.7 1.3 25.8 1.3-33.3 1.3 28.1 1.3-1.7 1.3 33.2 1.3-28.9 1.3 20.7 1.3 40.5 1.3-21.5 1.3-20.2 1.3 49.6 1.4-21.5 1.3 8.7 1.3 22.2 1.3-50.4 1.3-5.2 1.3 14 1.3 26.7 1.3 1.1 1.3 5.9 1.3-56.1 1.3 31.8 1.3 23.4 1.3-55 1.3 54.7 1.3-1.1 1.3-.9 1.3-54.3 1.3 55.4 1.3-24.5 1.3-35.7 1.3-.8 1.3 1.2 1.3 1.6 1.3 10.6 1.3 27.1 1.3-.4 1.3 1.8 1.3 24.5 1.3-.1 1.3-12.3 1.3 2.3 1.3 .1 1.3 7.4 1.3-62.4 1.3 62.7 1.3-36.4 1.3 15 1.3 21.8 1.3-22.2 1.3-36.9 1.3 61.1 1.3-46.7 1.3 6.9 1.3 38.7 1.3-37.2 1.3-17.1 1.3-1.7 1.3 41.6 1.3-13.6 1.3-9.6 1.3-.8" class="a"/>
<path d="M957.7 967.5l1.8 4.5 1.8 4.7 1.8 5.1 1.8 2.1 1.8 3.1 1.8 3.9 1.8 3.2 1.8 3.8 1.8 1.7 1.8 .2 1.8 .4 1.8 .4 1.8 1.1 1.8 5.8 1.8 6.6 1.9 4.4 1.8 4.6 1.8 2.7 1.8 .2 1.8 .6 1.8 .6 1.8-1.8 1.8-1.4 1.8-3.1 1.8-1.9 1.8-3.4 1.8-4.5 1.8-5.3 1.8-4.1 1.8 0 1.8 3.6 1.8 4 1.8 4.7 1.8 0 1.8 2.4 1.8 4.9 1.8 4.8 1.8 3.1 1.8 .8 1.8 3.6 1.8 1.8 1.8 2 1.8 3.4 1.8 2.2 1.8 .4 1.8 2.3 1.9 2.4 1.8 2.5 1.8 1.6 1.8 2.1 1.8 3 1.8 1.6 1.8 .6 1.8 0 1.8 .1 1.8 1.2 1.8 3 1.8 1.5 1.8 1.2 1.8 .7 1.8-.6 1.8 1.1 1.8 2.8 1.8 1 1.8 1.3 1.8 1.3 1.8 1.8 1.8 2.4 1.8-.1 1.8-.4 1.8-1.2 1.8-1 1.8-2.1 1.8-2.1 1.8-2.8 1.8 .5 1.8 1 1.9 .7 1.8-1.5 1.8 0 1.8 1 1.8 3.1 1.8 4.1 1.8 4 1.8 6.6 1.8 5.4 1.8 4.4 1.8 1.5 1.8 1.9 1.8 3.1 1.8-.6 1.8-.5 1.8-.5 1.8-.2 1.8 .7 1.8 .3 1.8-.1 1.8-1.4 1.8-2.8 1.8-4.1 1.8-2.6 1.8-.8 1.8-2.1 1.8-.7 1.8 .2 1.8 .4 1.8 1.2 1.8 1.8 1.9 3 1.8 2.6 1.8 2 1.8-1.5 1.8-1.9 1.8-2.5 1.8-.6 1.8-1.1 1.8-2.4 1.8-3.3 1.8-2.9 1.8-2.7 1.8-2.7 1.8-3.3 1.8-2.8 1.8-3.3 1.8-2 1.8-.2 1.8-1.1 1.8-1 1.8-2.2 1.8 .2 1.8-2.3 1.8-4.4 1.8-2.6 1.8-.9 1.8 0 1.8-.7 1.8-2.3 1.8-3.6 1.8-3.1 1.9-2.8 1.8-2.7 1.8-.5 1.8 1.8 1.8 2.1 1.8 2.5 1.8 2.5 1.8 2.6 1.8 0 1.8-3.3 1.8-5.1 1.8-2.3 1.8-2.2 1.8-1.2 1.8-3.6 1.8-3.5 1.8-4.2 1.8-1.7 1.8-2.1 1.8-2 1.8-1.9 1.8 .4 1.8 .6 1.8 5.6 1.8 3.8 1.8 1.9 1.8 .2 1.8-4.7 1.8-4.8 1.8-4.6 1.8-5.8 1.9-7.1 1.8-3.8 1.8 5.4 1.8 5.7 1.8 4.5 1.8 5.4 1.8 4.2 1.8-4.4 1.8-5.2 1.8-5.8 1.8-3 1.8-4.5 1.8-5.6 1.8 .1 1.8 .4 1.8 .7 1.8-1.2 1.8-1.3 1.8-1.2 1.8 .2 1.8 .8 1.8 2.1 1.8 2.2 1.8-.3 1.8-2.4 1.8 2.8 1.8 2.2 1.8 1.5 1.8-5.6 1.8-6.3 1.8-5.4 1.9-6.8 1.8-5.7 1.8 .4 1.8-1.6 1.8-1.4 1.8-1.4 1.8-2.2 1.8-2.1 1.8-2 1.8 .2 1.8 3 1.8 3.5 1.8 1 1.8 2.3 1.8 3.4 1.8 3.4 0 8.3-1.8-3-1.8-2.7-1.8-3.3-1.8-3.8-1.8-1.8-1.8-.9-1.8 1.3-1.8 1.9-1.8 .9-1.8 1.3-1.8-.5-1.8 1.4-1.8 2.5-1.8 1.2-1.8 6-1.9 6.9-1.8 4.8-1.8 5.6-1.8 4.5-1.8 .7-1.8-.2-1.8-.2-1.8-2.1-1.8-1.3-1.8-1.2-1.8-2-1.8-1.1-1.8-.5-1.8 2.4-1.8 .9-1.8-.4-1.8-.9-1.8-.1-1.8 .9-1.8 4.9-1.8 5.2-1.8 5.3-1.8 4.7-1.8 4.8-1.8 4.7-1.8-2.6-1.8-5.8-1.8-7-1.8-4.8-1.8-4.8-1.8 4.6-1.9 6.2-1.8 6.3-1.8 5.7-1.8 5-1.8 2.9-1.8-2.9-1.8-4.1-1.8-2.2-1.8-.7-1.8-1.9-1.8-.9-1.8 1.9-1.8 3.6-1.8 2.8-1.8 2.1-1.8 3.3-1.8 3.1-1.8 3.4-1.8 .6-1.8 1.9-1.8 3-1.8 5-1.8 3.7-1.8 .2-1.8-1.8-1.8-3.2-1.8-3.9-1.8-1.6-1.8-2.2-1.8-1.7-1.8 2.7-1.9 3.1-1.8 4.4-1.8 .5-1.8 2.1-1.8 3.7-1.8 4.1-1.8 1.9-1.8-.6-1.8 .2-1.8 .8-1.8 2.2-1.8 1.8-1.8 3.4-1.8 4.6-1.8 .2-1.8 1.1-1.8 2.1-1.8 .7-1.8 2.9-1.8 4.6-1.8 2.2-1.8 3.1-1.8 3.2-1.8 3.7-1.8 1.4-1.8 0-1.8-.8-1.8 .6-1.8 2.1-1.8-2.3-1.8-1.5-1.9-.4-1.8-2.5-1.8-1.7-1.8-.5-1.8 1.2-1.8 1.2-1.8 .6-1.8 2.8-1.8 2.3-1.8 2.1-1.8 .7-1.8 1.3-1.8 1.9-1.8 1.6-1.8-.9-1.8-3.1-1.8 .2-1.8 .2-1.8 1.3-1.8-1.1-1.8-.4-1.8-2.1-1.8-4.1-1.8-5.2-1.8-5.5-1.8-4.9-1.8-4.3-1.8-2.5-1.8 .6-1.8-1.1-1.8-1.9-1.9-.1-1.8-.6-1.8-.8-1.8 2.3-1.8 2.2-1.8 3-1.8 .7-1.8 1.2-1.8 1-1.8 0-1.8-1.8-1.8-.8-1.8-2-1.8-1.5-1.8-1.4-1.8-3-1.8-2.3-1.8-.4-1.8-2-1.8-.8-1.8-.7-1.8-.4-1.8-.7-1.8-.1-1.8-.9-1.8-1.2-1.8-2.9-1.8-2.5-1.8-2.4-1.8-2.4-1.8-2-1.9-2.2-1.8-2-1.8-.1-1.8-.8-1.8-1.6-1.8-1.9-1.8-2.6-1.8-4.5-1.8-4-1.8-2.7-1.8-1.2-1.8-3.3-1.8-3.8-1.8-4.3-1.8-4.9-1.8-3.8-1.8-3.5-1.8 .4-1.8 4.5-1.8 5.8-1.8 2.2-1.8 4.2-1.8 6.2-1.8 2.8-1.8 1.2-1.8 .3-1.8 1.5-1.8 .8-1.8 .1-1.8-2.6-1.8-5.7-1.9-6.1-1.8-5.9-1.8-4.9-1.8 .2-1.8-2.4-1.8-1.1-1.8-.5-1.8-1.1-1.8-4-1.8-4.2-1.8-4.1-1.8-4.1-1.8-4.5-1.8-3.7-1.8-3.2-1.8-3.1z" fill="#B9529F"/>
<path d="M957.7 973l.9-5.6 .9 15.9 .9-8 .9 5.8 .9-.2 .9-.8 .9 1 .9 2.3 .9 7.3 .9 3 .9 5.3 .9-10.2 .9 6.2 .9 1.3 .9 5.7 .9 7.1 .9 2.7 .9 0 .9-13.6 .9 6.7 .9-1.7 .9 10.3 .9-14.1 .9 16.6 .9-8.9 .9-1.1 .9-3.7 .9 3.3 .9 9.1 .9 6 .9 8.5 1-12.5 .9 15.4 .9-2.7 .9-5.9 .9-.1 .9 16.9 .9 .2 .9-6.4 .9-8.8 .9 .5 .9 11.4 .9-3.7 .9-10.4 .9 15 .9-16.5 .9 10 .9-12 .9 8.6 .9-4.9 .9 1.7 .9-7.8 .9-5.3 .9 9.1 .9-14.2 .9 1 .9 3.1 .9-.1 .9-12.3 .9 12.6 .9-1.5 .9 5 .9-9.2 .9 6.4 .9-2.1 .9 13 .9 2.4 .9-2.5 .9-9.5 .9 3.7 .9 .8 .9 16.8 .9 .6 .9-2.9 .9-5.1 .9 11 .9 1 .9 3 .9 .7 .9-11.5 .9 1.3 .9 10.9 .9 7.5 .9-.2 .9-13.3 .9 15.3 .9 .3 .9-3.2 .9-1.4 .9 5.2 .9-10.6 .9 6.7 1 7.7 .9-5.8 .9-4.4 .9 8.7 .9 4.9 .9 .8 .9 1.5 .9-4.3 .9-4.1 .9 4.1 .9 9.6 .9-7.8 .9-3.3 .9 .4 .9 5.4 .9-4.9 .9-.8 .9 10.5 .9 5.1 .9-.4 .9-9.2 .9 8 .9-9.2 .9 .7 .9 2.9 .9 1.1 .9-.8 .9 1.5 .9 10 .9 .3 .9-12.5 .9 14.9 .9-5.9 .9-6 .9 2.2 .9 13 .9 .2 .9-13.4 .9 16.4 .9-14.4 .9 .1 .9 15.8 .9 .6 .9-3.8 .9-2.6 .9 5.9 .9-9.6 .9 7.4 .9-5.1 .9 7.2 .9-14.1 .9 1.8 .9-3.2 .9 11.2 .9-2.2 .9-11.7 .9-2.1 .9 11.3 .9-12.7 .9 6.2 .9 6.2 .9-10.7 .9 12.3 1 .4 .9-13.1 .9 1.1 .9 15 .9-6.9 .9 3.1 .9-2.1 .9 5.7 .9-2.9 .9-7.7 .9 2 .9 17.9 .9-7.5 .9 12.5 .9 1 .9-6.8 .9 13.9 .9-7.6 .9-2.1 .9 15 .9-14.1 .9 14.9 .9 .7 .9 1 .9-.6 .9-10.9 .9 10.2 .9-.3 .9-8.5 .9 8.1 .9-5.5 .9-5.7 .9 2.8 .9-2.8 .9 .3 .9 14 .9-7.9 .9-.3 .9 2 .9 3 .9-2.8 .9-1.8 .9 3.7 .9-11.1 .9 7 .9-7.2 .9-4.7 .9-.6 .9 6.3 .9-2.7 .9-9.7 .9 13.7 .9-2.2 .9 1.4 .9-1.1 .9-8.7 .9-3.3 .9-.3 .9 14.6 .9 1.2 .9-5.5 1 1.3 .9-.5 .9-4.3 .9 2.4 .9 8 .9-2 .9-2.1 .9 3.2 .9-6.1 .9 7.8 .9-5 .9 .4 .9-8.9 .9 15.4 .9-11 .9-.1 .9 8.2 .9-13.7 .9-4.4 .9 13 .9-5 .9-4.9 .9-4.7 .9 6.3 .9-13.9 .9 10.9 .9-10 .9 5.9 .9 1.5 .9-15.6 .9 14.1 .9-17 .9-1.8 .9 17.4 .9-17.8 .9-.3 .9 16.1 .9-11.6 .9 4.8 .9-.6 .9-11.3 .9-1.3 .9 3.7 .9 2 .9-3.8 .9 1.3 .9 5 .9-3.6 .9-6.2 .9 9.9 .9-15.8 .9-2.7 .9 3.3 .9 8.5 .9-.7 .9-11.2 .9 .9 .9-4 .9-1.2 .9 11.1 .9-14.6 .9 4.4 .9 1 1 2.1 .9-1.1 .9-2.5 .9-6 .9 3.9 .9-8.7 .9 .9 .9 .6 .9 8 .9 8.8 .9 2.9 .9-14.5 .9 15.6 .9 2.3 .9-4.7 .9 6.9 .9-10.1 .9-5.8 .9-2.8 .9 10.9 .9-2.2 .9-16.3 .9 13.3 .9-2.8 .9-3 .9 2.3 .9-13.9 .9-1.8 .9 5.8 .9 4.5 .9-8.2 .9-9.8 .9 14.4 .9-3.6 .9-12.4 .9-3.2 .9 11.8 .9-4 .9 3.3 .9-15 .9 5.3 .9-5.4 .9 6.4 .9-6.8 .9 6.9 .9-3.1 .9 2.6 .9 2.3 .9 9.2 .9-6.3 .9 2.6 .9-1.7 .9-.7 .9 10 .9-1.6 .9-14.6 .9 12.6 .9-16.6 .9 9 .9-8.1 .9-10.5 1-2.9 .9 7.4 .9 .7 .9-15.5 .9 4.5 .9 1.8 .9 11 .9-1.4 .9-1.3 .9 11.2 .9 3.1 .9-5.4 .9 15.3 .9-.4 .9-13.4 .9 1.6 .9 4.7 .9-14 .9 8.9 .9-14.1 .9 5.3 .9-10.3 .9-.7 .9-1.9 .9 .4 .9-8.8 .9 .1 .9 1.3 .9 8.7 .9-2.4 .9-5.8 .9 5.7 .9-3.2 .9-4 .9 7.5 .9-7.8 .9 5.6 .9-6.1 .9-1.7 .9 12.6 .9-4.7 .9-6.5 .9 7.3 .9 6.1 .9-1.6 .9 4.4 .9-5.3 .9 6.3 .9-15.6 .9 7.8 .9 3.8 .9-8.8 .9 15.3 .9 .3 .9-.5 .9-7.3 .9-1.4 .9-3.5 .9-9 .9-2.5 .9 3.7 .9-6.7 .9-6.1 1 10.6 .9-5.6 .9-1 .9-.4 .9 0 .9-1.3 .9-1.8 .9-8.3 .9 7.6 .9-.2 .9-.2 .9-13 .9 7.1 .9-10 .9 13.7 .9-11.3 .9-2 .9-.8 .9 11.1 .9-3.4 .9-2.9 .9 4.2 .9 5.3 .9-7.4 .9 3.1 .9 3.6 .9 7.8 .9-9.6 .9 6.6 .9-.5 .9 8.9" class="a"/>
<path d="M1349 1037.5l1.4 35.7 1.4 15.2 1.4-1.4 1.4-1.6 1.4-.1 1.4-.7 1.4-2.1 1.4-2 1.4-1.2 1.4-.6 1.4 .7 1.4 .8 1.5-.5 1.4-1.1 1.4-.3 1.4-1.6 1.4 .5 1.4 1.6 1.4-1.2 1.4-1.3 1.4 1.8 1.4 1.9 1.4-.7 1.4-.4 1.4 2.3 1.4 2.3 1.4 .5 1.4 .5 1.4-.5 1.4-.5 1.4 2.2 1.4 2 1.4-.1 1.4-.2 1.4-1.4 1.4-1.2 1.4 1.4 1.5 1.7 1.4 1.6 1.4 1.4 1.4 1.1 1.4 .7 1.4-4.1 1.4-6.5 1.4-3.7 1.4 0 1.4 .8 1.4 .8 1.4 .1 1.4 .6 1.4-1.3 1.4-1.1 1.4 .9 1.4 .4 1.4 1.6 1.4 1.4 1.4-1.3 1.4-1.1 1.4 .2 1.4 .2 1.4 1.2 1.5 1.2 1.4-.2 1.4-.6 1.4-.7 1.4-.9 1.4 2.6 1.4 10.3 1.4 9.9 1.4 1.2 1.4 .8 1.4 .4 1.4-.5 1.4-.8 1.4-.4 1.4-.4 1.4-1.3 1.4-1 1.4 2.4 1.4 2.4 1.4 .1 1.4-2.2 1.4-26.8 1.4-9.4 1.4 1 1.4 .7 1.5-2.1 1.4-2.3 1.4 .4 1.4 .8 1.4 .1 1.4-.2 1.4-1.4 1.4-1.1 1.4 .2 1.4 .4 1.4 2.2 1.4 8.8 1.4 5.9 1.4 6.2 1.4 4.6 1.4 1.5 1.4-.3 1.4-.7 1.4 1.2 1.4 1.3 1.4 1.7 1.4 1.5 1.4-1.1 1.4-1.6 1.4-2.5 1.5-2.2 1.4 2 1.4 2.5 1.4 .2 1.4 .1 1.4 0 1.4-.2 1.4-.6 1.4-.6 1.4 .1 1.4 .1 1.4 0 1.4-.1 1.4 1.3 1.4 1.3 1.4-1.2 1.4-1 1.4 2.5 1.4 2.5 1.4-1.9 1.4-2.1 1.4 1.2 1.4 1.2 1.4-.1 1.4-.2 1.5-.7 1.4-.8 1.4-.3 1.4 0 1.4 1.1 1.4 1.4 1.4 .7 1.4 .2 1.4 1.6 1.4 1.6 1.4-.8 1.4-.8 .7 0 0 11.7-.7 0-1.4-.1-1.4-.1-1.4-1.1-1.4-1-1.4-.2-1.4-.2-1.4 .8-1.4 .7-1.4 .4-1.4 .2-1.4-1.3-1.5-1.4-1.4 1.4-1.4 1.6-1.4-.4-1.4-.4-1.4-.5-1.4-.8-1.4 1-1.4 .6-1.4-2.2-1.4-1.6-1.4 .5-1.4 .4-1.4 .7-1.4 .8-1.4-.9-1.4-.4-1.4 2.2-1.4 2.1-1.4-.2-1.4-.4-1.4-1.3-1.4-1.4-1.4 1.1-1.4 .7-1.5 .6-1.4 .4-1.4-.8-1.4-.4-1.4 .4-1.4 .4-1.4-.3-1.4-.3-1.4-.4-1.4 0-1.4-.3-1.4-3.2-1.4-6.3-1.4-6.4-1.4-8.5-1.4-2.4-1.4 .3-1.4 .4-1.4-.1-1.4-.2-1.4 1.5-1.4 1.6-1.4-1.8-1.4-1.4-1.4 2-1.5 1.8-1.4 .1-1.4-.8-1.4 5.1-1.4 17-1.4 .4-1.4-.6-1.4 .5-1.4 .6-1.4-.6-1.4-.6-1.4 1.1-1.4 1.5-1.4 1.1-1.4 .6-1.4-.5-1.4-.6-1.4-.4-1.4-1.3-1.4 .5-1.4 .7-1.4-2.3-1.4-2.3-1.4 1.4-1.4 1.5-1.5-1.8-1.4-1.7-1.4-.7-1.4-.3-1.4 1.3-1.4 1.5-1.4 .6-1.4 .5-1.4-.5-1.4-.5-1.4-1.1-1.4-1.1-1.4 2-1.4 2.4-1.4 .2-1.4 .1-1.4-.6-1.4-.5-1.4-.2-1.4-.8-1.4-.9-1.4-.1-1.4 1.5-1.4 1.6-1.5-.5-1.4-.9-1.4 1.3-1.4 1.7-1.4-.4-1.4-.5-1.4 .7-1.4 .7-1.4-.3-1.4-.2-1.4-1.6-1.4-1.6-1.4 .8-1.4 .8-1.4-.9-1.4-.5-1.4-.4-1.4-.3-1.4 .1-1.4 0-1.4 2.1-1.4 2.4-1.4 .1-1.4 .1-1.4-.5-1.5-1.4-1.4-2.5-1.4-2.4-1.4 1.3-1.4 1.9-1.4 .5-1.4 .5-1.4-2.1-1.4-2.2-1.4 .6-1.4 .8-1.4-7.7-1.4-20.1z" fill="#B9529F"/>
<path d="M1349 1051.3l.7 32.9 .7-2.6 .7 25.1 .7-8.4 .7 1.7 .7 10.6 .7-23.1 .7 19.4 .7-24.9 .7 4.1 .7 15.7 .7-5.2 .7-5.8 .7 3.7 .7-2.7 .7-14.3 .7 26.8 .7 4 .7 2.3 .7-3.5 .7-7.5 .7 12.8 .7-19.3 .7 18.3 .8 3.3 .7-21.4 .7 23.3 .7-40.3 .7 6.8 .7 8.1 .7 23 .7-3.6 .7 5.7 .7-3.5 .7-37.2 .7 12.9 .7 20.9 .7 3.4 .7-34.5 .7 34.7 .7-20.1 .7-17.3 .7 25.1 .7 12.3 .7-.2 .7-36.9 .7 38.8 .7-38.4 .7 26.9 .7-24.7 .7 3.6 .7-1.5 .7 32.6 .7-16.4 .7 19.3 .7-34.8 .7-.2 .7 17.8 .7 1.3 .7 17.1 .7-8.5 .7 6.9 .7-4.1 .7-21.1 .7 13.9 .7-18.7 .7 22.7 .7-15.2 .7 22.2 .7-.9 .7-20.6 .7 16.4 .7-.9 .7-25.9 .8 10.9 .7-7 .7 4.2 .7 11.2 .7-15.3 .7 .3 .7 2.1 .7 14.9 .7-8.2 .7-6.8 .7 22.5 .7-5.7 .7-17.6 .7 22.7 .7-33.2 .7 30.4 .7-6.4 .7-26.8 .7 31.3 .7-13.7 .7 20.7 .7-17.4 .7 16.5 .7-1.7 .7-34 .7 1 .7 19 .7-19.3 .7 32.3 .7-35.3 .7 30.1 .7 5.7 .7-26.4 .7 2.7 .7-10.2 .7 .9 .7 16.1 .7-13.8 .7-1.2 .7 10.7 .7 14.4 .7-11.6 .7-15.5 .7-.1 .7 33.3 .7-33.1 .7 1.6 .7 33 .7 1.6 .8 .4 .7-.9 .7-32.5 .7 26.2 .7 .5 .7-28.2 .7 30.1 .7-31 .7-.5 .7 23.6 .7-.7 .7-15.1 .7 29.5 .7 .3 .7-14.9 .7 15.5 .7-14.2 .7 .6 .7 12.4 .7-12.1 .7 13.3 .7-8.9 .7 8 .7-7.1 .7 5.4 .7-10.7 .7-1.3 .7 .5 .7-.8 .7 11.8 .7-8 .7 8.9 .7-14.4 .7 .9 .7 1.5 .7 12.1 .7-4.7 .7 4.6 .7-5.1 .7-5.1 .7 4.5 .7-5 .7-26.8 .7 12.4 .7-23.6 .7 27.2 .7-8 .7-12.8 .7 16.4 .7-21.6 .8 24.4 .7-27.6 .7 .2 .7 .9 .7-1.4 .7 7.4 .7 19.5 .7-22.5 .7 22.8 .7-26.2 .7 24.9 .7 0 .7-11.3 .7-16 .7 27.8 .7-.3 .7-1.2 .7-26.3 .7 26.7 .7-15.3 .7-8.2 .7 29.9 .7-19 .7 21.9 .7 .1 .7 10.5 .7-9 .7-9.7 .7 25 .7-21.1 .7 17 .7-8.3 .7 5.3 .7-9.8 .7 .3 .7-7.7 .7 5.1 .7 18 .7-20.3 .7 3.6 .7 18.7 .7-18.3 .7-.5 .7 15 .7-4 .7 8.4 .7 .3 .7-16.7 .7 7 .8 2.4 .7-7.3 .7-1.2 .7 4.2 .7 4.3 .7-12.6 .7-3.3 .7 .4 .7-.7 .7 20.4 .7 3 .7-22.4 .7 21.5 .7-16.9 .7 15.4 .7-21.2 .7 21.3 .7-21.3 .7 20.7 .7-21.5 .7 16.8 .7-4.4 .7 1.3 .7 7.9 .7-.2 .7-8.5 .7-11.6 .7 .5 .7 .7 .7 12.3 .7 5.6 .7-13.4 .7-5.9 .7 23.1 .7 0 .7-10.4 .7-.5 .7-1.5 .7-4 .7 15.2 .7-6.6 .7-9.3 .7-4.8 .7 14.7 .7 6.9 .7 .1 .7-16.3 .7-3.5 .7 7.5 .7 .2 .8 0 .7 10.9 .7-20.5 .7 21.9 .7 .4 .7-22.3 .7 3.8 .7 16.9 .7 .4 .7-10.7 .7-5.7 .7-2.1 .7 13.2 .7-13 .7 17.3 .7-2.7 .7-9.5 .7 1.5 .7 7.6 .7-10.1 .7 13.5 .7-10 .7 2 .7-8 .7 17.7" class="a"/>
<path d="M956 953.4l1.4 11.4 1.4 1.5 1.4 .4 1.4 1.2 1.4 .9 1.4 .3 1.4 .3 1.4 .8 1.4 1.9 1.4 1.3 1.4 .4 1.4 .4 1.4 1 1.4 1.6 1.4 1.4 1.4 2.9 1.4 1.8 1.4 3.7 1.4 4.8 1.4 4.6 1.4 3.3 1.4 2.8 1.4 .6 1.4 .3 1.4-.1 1.4 .1 1.4 .8 1.4 .3 1.4-.5 1.4 .1 1.4 1.3 1.4-.6 1.4-2.2 1.4-1.6 1.4-2.3 1.4-3.2 1.4-3.2 1.4-3.1 1.4-2.4 1.4-.1 1.4 1.3 1.4 1.7 1.4 .9 1.4 2.5 1.4 4.3 1.4 2.2 1.4 1.3 1.4 3.5 1.4 5.8 1.4 5.4 1.4 4.1 1.4 4.3 1.4 3.9 1.4 .8 1.4 .9 1.4 .7 1.4 0 1.4 .6 1.4 2.4 1.4 2.1 1.4 .3 1.4 .3 1.4 1.9 1.4 1.8 1.4 1.8 1.4 1.7 1.4 1 1.4 .8 1.4 1.7 1.4 .9 1.4-.3 1.4 0 1.4 1.2 1.4 2.2 1.4 2 1.4 1.3 1.4 .8 1.4 .2 1.4-.5 1.4-.6 1.4-1.1 1.4-.3 1.4-1.2 1.4-2.6 1.4-2.2 1.4-.8 1.4 .2 1.4 .4 1.4 1.1 1.4 1 1.4 .2 1.4 .1 1.4 .5 1.4 .9 1.4 .8 1.4 0 1.4-.6 1.4 .1 1.4 .2 1.4-.2 1.4-1.7 1.4-2.4 1.4-1 1.4 0 1.4 .1 1.4 1.4 1.4 4.7 1.4 4.5 1.4 3.9 1.4 4 1.4 4.4 1.4 4.5 1.4 4.1 1.4 2.4 1.4 .8 1.4 1.4 1.4 1.5 1.4 1.2 1.4 1.9 1.4 1.5 1.4 .6 1.4 .5 1.4-1.9 1.4-7.1 1.4-7.2 1.4-7.5 1.4-2.4 1.4 1.8 1.4 1.8 1.4 1.8 1.4 5.5 1.4 7.3 1.4 6.1 1.4 5.4 1.4 5.9 1.4 0 1.4-.3 1.4-.8 1.4-2.2 1.4-2 1.4-.5 1.4 .2 1.4-.8 1.4-1.6 1.4-.5 1.4 1.1 1.4 1.2 1.4 .6 1.4 1.1 1.4 .3 1.4-1.6 1.4-1.9 1.4-1.1 1.4-.9 1.4-.5 1.4-.1 1.4 0 1.4-.1 1.4 0 1.4-1.2 1.4-1.8 1.4-1.8 1.4-1.9 1.4-3 1.4-2.6 1.4-2 1.4-2.2 1.4-1.7 1.4-1 1.4-1.2 1.4-1.8 1.4-2 1.4-2 1.4-2.2 1.4-2.1 1.4-.6 1.4 0 1.4-1.7 1.4-2.2 1.4-2.2 1.4-2.9 1.4-2.7 1.4 1.6 1.4 2.8 1.4 2.6 1.4 1.4 1.4 .9 1.4 1.2 1.4 2.3 1.4 1.7 1.4 .1 1.4-.2 1.4-.5 1.4-.8 1.4-.7 1.4-.3 1.4-.4 1.4-.2 1.4 .7 1.4 .8 1.4-.1 1.4-.5 1.4 .1 1.4 .6 1.4 .1 1.4 .1 1.4 .3 1.4-3.2 1.4-9.2 1.4-8.9 1.4-.7 1.4-1 1.4-.2 1.4 1.7 1.4 1.2 1.4-.8 1.4-1.3 1.4-.4 1.4-1.1 1.4-.7 1.4 0 1.4 0 1.4 .5 1.4 3.2 1.4 3.1 1.4 3.8 1.4 4.2 1.4 2.8 1.4 .5 1.4 .2 1.4-.6 1.4-1 1.4-.5 1.4-1 1.4-.8 1.4-4.1 1.4-6.4 1.4-6.8 1.4-2.7 1.4 .8 1.4-.9 1.4-1.3 1.4 .1 1.4 1.4 1.4 1.2 1.4 .1 1.4 0 1.4-.4 1.4-1.8 1.4-.8 1.4 1.8 1.4 2.4 1.4 .6 1.4-.3 1.4-.3 1.4-.6 1.4-.7 1.4-.4 1.4-.7 1.4-.3 1.4 .9 1.4 1.3 1.4-1.4 1.4-5.5 1.4-5.2 1.4-2.8 1.4 .5 1.4-.2 1.4-.2 1.4 0 1.4 .6 1.4 .9 1.4-.2 1.4-.5 1.4-.3 1.4-.9 1.4-1.3 1.4 .1 1.4 .9 1.4 .6 1.4-.6 1.4-1.2 1.4 9.3 1.4 12.5 1.4 12.1 1.4 7.8 1.4 0 1.4 0 1.4-1.1 1.4-.6 1.4-5.2 1.4-5 1.4-4.8 1.4 0 1.4 .2 1.4-.6 1.4-1.2 1.4 .2 1.4 1.7 1.4 1.2 1.4-.2 1.4-.4 1.4 0 1.4 .7 1.4 .5 1.4 2.6 1.4 2.4 1.4 2.7 1.4 1.5 1.4 1.9 1.4 .3 1.4 .6 1.4-.1 1.4-.9 1.4-.5 1.4 1.5 1.4 2.4 1.4 .4 1.4-.2 1.4-.2 1.4 1.6 1.4 2.4 1.4 2.3 1.4 1.4 1.4 1.9 1.4 2.7 1.4 2.5 1.4 3.6 1.4 6.2 1.4 5.2 1.4 4 1.4 4.4 1.4 3.9 1.4 2 1.4-2.9 1.4-1 1.4-.8 1.4-1.9 1.4-3.5 1.4-3.8 1.4-1.9 1.4-1.5 1.4-3.4 1.4-4.3 1.4-4.3 1.4-5 1.4-5.3 1.4-3.7 1.4-2.6 1.4-2.8 1.4-3.2 1.4-3.2 1.4-2.2 1.4 3.7 1.4 4 1.4 5.5 1.4 5.9 1.4 4.2 1.4 3 1.4 3.4 1.4 3.8 1.4 3.6 1.4 4.7 1.4 8.2 1.4 7.8 1.4 5.3 1.4 .2 1.4-.4 1.4-1.4 1.4-.5 1.4 .8 1.4 .9 1.4 .9 1.4 2 1.4 1.1 1.4-.7 1.4-1 1.4-1.9 1.4-11.8 1.4-11.5 1.4-7.9 1.4 .1 1.4-.3 1.4-1.1 1.4-.7 1.4 0 1.4-.2 1.4-.5 1.4-.2 1.4-.1 1.4 .3 1.4 .7 1.4-.1 1.4-1 1.4-.6 1.4-.1 1.4-.1 1.4-.2 1.4-.6 1.4 7.5 1.4 12 1.4 12.6 1.4 1.8 1.4-.7 1.4-.4 1.4-11.4 1.4-17.9 1.4-17.3 1.4-4.5 1.4-4.5 1.4 13 1.4 12.1 1.4 3.8 1.4 3.1 1.4 3.2 1.4 3.6 1.4 3.9 1.4 1.2 1.4-.6 1.4-.7 .7 0 0 9.6-.7-.9-1.4-.9-1.4-.6-1.4-.8-1.4-1.2-1.4-1.5-1.4-3.1-1.4-3.8-1.4-3.9-1.4-12.2-1.4-12.6-1.4 5.1-1.4 5-1.4 16.7-1.4 16.8-1.4 10.6-1.4 .7-1.4 1.4-1.4-1.7-1.4-11.9-1.4-11.6-1.4-6.9-1.4 1-1.4 0-1.4 0-1.4 .3-1.4 .3-1.4 .3-1.4 .6-1.4 .6-1.4 .2-1.4-1.1-1.4-1.9-1.4-.3-1.4 .8-1.4 .6-1.4-1.2-1.4-1.9-1.4 .1-1.4 2.2-1.4 9-1.4 10.4-1.4 10.5-1.4 2-1.4 .9-1.4 .7-1.4 0-1.4-.3-1.4-.1-1.4 .1-1.4 0-1.4-1.3-1.4-2-1.4 0-1.4 1.4-1.4-3.8-1.4-7-1.4-7.3-1.4-4.4-1.4-3.2-1.4-3.6-1.4-4.6-1.4-4.6-1.4-4.4-1.4-5.4-1.4-4.4-1.4-3-1.4-3.1-1.4 2.6-1.4 3.1-1.4 3.1-1.4 4.4-1.4 5.1-1.4 3.7-1.4 3.4-1.4 3.3-1.4 3.3-1.4 3.2-1.4 3-1.4 3.3-1.4 3-1.4 1.7-1.4 .2-1.4 .9-1.4 1-1.4 1.3-1.4 1.5-1.4-4.1-1.4-3.9-1.4-3-1.4-3.2-1.4-3.1-1.4-2.7-1.4-2.5-1.4-3.2-1.4-3.1-1.4-2.2-1.4-1.6-1.4-2.2-1.4-2.5-1.4-1.4-1.4-1.3-1.4-2-1.4-.4-1.4 0-1.4 0-1.4 .8-1.4 1-1.4 .2-1.4 .1-1.4 0-1.4-2.8-1.4-2.6-1.4-3.1-1.4-4.4-1.4-3.9-1.4 .5-1.4 .9-1.4 .3-1.4 .6-1.4 .6-1.4-.9-1.4-1.7-1.4-.1-1.4 .5-1.4 0-1.4-.4-1.4-.2-1.4 4.6-1.4 5-1.4 5.3-1.4 1-1.4 1.7-1.4 .2-1.4 0-1.4-7.9-1.4-11.9-1.4-12.1-1.4-9.9-1.4-.4-1.4-.3-1.4 .7-1.4 1.1-1.4 .2-1.4-1-1.4-.7-1.4 .8-1.4 1.2-1.4 0-1.4-.4-1.4-.3-1.4-.6-1.4-1.2-1.4-.4-1.4 .3-1.4 3.1-1.4 3.4-1.4 3.3-1.4 2-1.4 .8-1.4 .8-1.4 .5-1.4 .1-1.4 .4-1.4 2.1-1.4 1.4-1.4-.5-1.4-.7-1.4-.6-1.4-1.4-1.4-1.2-1.4 .3-1.4 1-1.4-.2-1.4-2.2-1.4-1.4-1.4 .9-1.4 1.6-1.4 .5-1.4 1-1.4 1-1.4-.1-1.4 3.6-1.4 7.3-1.4 7.4-1.4 4.6-1.4-.1-1.4 .1-1.4-.5-1.4-1.9-1.4-1.1-1.4 .3-1.4 .5-1.4-2.2-1.4-1.6-1.4-2.1-1.4-2.8-1.4-2.9-1.4-.4-1.4 .2-1.4 .1-1.4-1.3-1.4-1.9-1.4-.6-1.4-.4-1.4-.3-1.4-.2-1.4-.2-1.4 .6-1.4 2.7-1.4 1.7-1.4 8-1.4 8-1.4 3.1-1.4-.7-1.4-.2-1.4 0-1.4-.7-1.4 .4-1.4 2-1.4 1.3-1.4-.5-1.4-.9-1.4 .2-1.4 .5-1.4 .6-1.4 1.2-1.4 1.5-1.4 .2-1.4-2.1-1.4-1.9-1.4-1.7-1.4-1.8-1.4-1.1-1.4-.2-1.4-.8-1.4-2.6-1.4-3.1-1.4-1.4-1.4 3.1-1.4 3-1.4 1-1.4 .7-1.4 1.5-1.4 1.9-1.4 1.9-1.4 1.6-1.4 1.5-1.4 2-1.4 2.3-1.4 2-1.4 1.8-1.4 1.9-1.4 1.8-1.4 1-1.4 1.2-1.4 2.8-1.4 3.5-1.4 1.8-1.4-.2-1.4 .4-1.4 1.8-1.4 .5-1.4 .4-1.4 1.2-1.4 .8-1.4 .3-1.4 .4-1.4 .5-1.4-.2-1.4 .2-1.4 .5-1.4 .2-1.4 .6-1.4 2.5-1.4 1.5-1.4-1.2-1.4-1.7-1.4 .5-1.4 2.6-1.4 1.9-1.4 .2-1.4-.3-1.4 .4-1.4 .6-1.4 .5-1.4-6.7-1.4-7.2-1.4-5.7-1.4-3.8-1.4-3.3-1.4-2-1.4-2.3-1.4-1.9-1.4 2.1-1.4 7.5-1.4 8.1-1.4 8.5-1.4 1.8-1.4-2.8-1.4-2.4-1.4-1.7-1.4-1.9-1.4-1.3-1.4 .1-1.4-.2-1.4-1.1-1.4-2.8-1.4-3.5-1.4-2.7-1.4-3.3-1.4-4.4-1.4-4.6-1.4-4.9-1.4-6-1.4-2.2-1.4 .2-1.4 .4-1.4 .6-1.4 1.2-1.4 .9-1.4-.6-1.4-1.3-1.4-.1-1.4 1.7-1.4 .7-1.4-1.5-1.4-1.8-1.4-.4-1.4-.6-1.4-.2-1.4 .8-1.4 .8-1.4-.4-1.4-1-1.4-.2-1.4 .7-1.4 1.3-1.4 .8-1.4 0-1.4 .2-1.4 .2-1.4 .9-1.4-.3-1.4-.3-1.4 0-1.4 0-1.4 0-1.4-.4-1.4-.9-1.4-.5-1.4 .1-1.4 .4-1.4-1.2-1.4-3.6-1.4-3.3-1.4-1.3-1.4-1-1.4-1.9-1.4-1.1-1.4-.9-1.4-1.8-1.4-2.1-1.4-1-1.4 .1-1.4-.4-1.4-2.6-1.4-3.4-1.4-4.4-1.4-4.3-1.4-4.2-1.4-3.8-1.4-3.1-1.4-3.2-1.4-3.1-1.4-3.3-1.4-4.2-1.4-2.4-1.4-.1-1.4 .1-1.4 .1-1.4 1-1.4 3.1-1.4 2.2-1.4 .5-1.4 .8-1.4 2.1-1.4 2.6-1.4 2.8-1.4 1.2-1.4-.1-1.4 1.8-1.4 2.3-1.4-.2-1.4-1.6-1.4-1.5-1.4-.9-1.4-.8-1.4-1.2-1.4-4.4-1.4-4.1-1.4-3.6-1.4-3.6-1.4-3.7-1.4-3.8-1.4-3.7-1.4-.7-1.4-.9-1.4-.3-1.4-.1-1.4-.4-1.4 .2-1.4 .6-1.4-.7-1.4-.8-1.4-.4-1.4-.5-1.4-.7-1.4 .1-1.4-2.2-1.4-12z" fill="#6ABD45"/>
<path d="M956 968.5l.7 6.4 .7-10.2 .7 5.8 .7 3.6 .7-4.4 .7-5.1 .7 4.2 .7-3 .7 12.8 .7-5.6 .7 8.1 .7-5.8 .7-8.3 .7 16 .7-7.8 .7 .7 .7-.5 .7-3.7 .7 13.1 .7-.3 .7-1.1 .7 .3 .7 1.7 .7-3.1 .7-10.1 .7 .8 .7 13.5 .7-6.9 .7-4.2 .7 5.4 .7 7.5 .7-9.2 .7 13.7 .7-12.2 .7 13.2 .7-10 .7 11.3 .7 6.3 .7-9.9 .7 14.3 .7-10 .7 9.9 .7-7.4 .7 15.6 .7-7.5 .7 8.4 .7-14.4 .7 3.6 .7 5.8 .7-4.6 .7 6.7 .7 6.4 .7-3.4 .7-13.3 .7 17.6 .7 .6 .7-12.2 .7 4.1 .7 .9 .7 1.5 .7 1.1 .7-8.6 .7 9.6 .7-13.4 .7 10.5 .7-13.9 .7 11.6 .7-1.9 .7-9.2 .7 1.7 .7 2.5 .7 3 .7-14.2 .7 11.4 .7 1.4 .7-4.8 .7 .8 .7-17.6 .7 11 .7-1.7 .7 6.1 .7-14.5 .7 1.7 .7 12.4 .7-12.1 .7 12.2 .7 1.1 .7-9.3 .7 13.5 .7-9.4 .7 .9 .7 10.7 .7-3.5 .7-3.1 .7 14.8 .7-7.5 .7-3 .7 14.8 .7 .6 .7-6.7 .7 12.2 .7 1.9 .7-8.5 .7 7.1 .7 4.4 .7-5.4 .7 3.4 .7-2.1 .7 .6 .7-.1 .7 5.5 .7-4 .7-.1 .7-.9 .7 15.6 .7-14.7 .7 1.6 .7 15.8 .7-14.1 .7 9 .7-.5 .7 .8 .7-7.6 .7 .5 .7 14.8 .7-5.9 .7-5.8 .7 6.3 .7 2.1 .7-5.6 .7 .5 .7 .4 .7 10.4 .7 8.8 .7-9 .7-6.8 .7 15.2 .7-1.6 .7-9.5 .7 .4 .7 12.8 .7 .8 .7-.2 .7 1.1 .7-17 .7 1.2 .7 .2 .7 9.1 .7 .5 .7 6.3 .7-.6 .7-.8 .7 1.3 .7-7.2 .7-1.4 .7 .1 .7-1.9 .7 9.5 .7-1.7 .7 2.1 .7-4.8 .7-7.7 .7 10.4 .7 2 .7-9.3 .7 8.7 .7-6.8 .7 5.4 .7-15.7 .7 2.2 .7 12.5 .7-.3 .7-6.4 .7-9.9 .7 .8 .7 4.5 .7 4 .7 8.1 .7-13.7 .7 12.9 .7-7 .7-6.3 .7 13.5 .7-13.7 .7-.1 .7 14.8 .7-13.3 .7 0 .7 8.2 .7 5.6 .7-12.2 .7-1.2 .7 12.9 .7-5 .7-2.4 .7-6 .7 14.4 .7-1 .7-11.7 .7 2.4 .7 4.2 .7 7.1 .7-.6 .7-18.3 .7-.7 .7 5.8 .7 8.8 .7-11.1 .7-4.1 .7 13.8 .7-10.7 .7 7.6 .7 8 .7 6.6 .7-3.9 .7 7.1 .7-12.9 .7-.7 .7 22.9 .7-18.9 .7 22.7 .7-17.9 .7 2.3 .7 12.9 .7-1 .7 8.1 .7-4.4 .7 4.5 .7 6.5 .7-18 .7 1.6 .7 16.8 .7-13.4 .7 13.6 .7 .4 .7-14.6 .7 16.6 .7 .7 .7-4.2 .7-9.9 .7 5.1 .7 7.5 .7 5.3 .7 3.1 .7-19.2 .7 11.8 .7 1.4 .7-17.1 .7 8.4 .7-9.1 .7-2.5 .7-7.7 .7-5.1 .7 11.3 .7-17.3 .7 9.9 .7 10.8 .7-17.2 .7 .8 .7 17.4 .7-15 .7 5.4 .7 16.8 .7-1 .7-5.4 .7 13.8 .7-6.9 .7 14.2 .7-4.9 .7 .8 .7 2.5 .7-1.7 .7 9.4 .7-11.2 .7 10.2 .7-2.4 .7-11.5 .7 13.9 .7-7.8 .7-10.7 .7 4.2 .7-.6 .7-2.4 .7 12.3 .7-14.4 .7 15 .7-16.4 .7 16.9 .7 2 .7-3 .7-1.3 .7-15.1 .7 11.9 .7-10.2 .7 13.6 .7-13.5 .7 7.4 .7 0 .7-5.9 .7 11.1 .7-1.1 .7-10.5 .7 6 .7-8.8 .7 14.1 .7-.9 .7 0 .7-14.4 .7-.6 .7 7 .7 .6 .7 6.1 .7-.4 .7-.3 .7-9.5 .7 3.9 .7 1.4 .7 3.3 .7-3.2 .7-10.7 .7 7.6 .7 1.5 .7-11.7 .7 3 .7-5.5 .7-.2 .7 13.6 .7-13.6 .7-2.5 .7 10.8 .7-10.6 .7-5.9 .7 11.3 .7-7.1 .7 1.1 .7 6.8 .7-3.1 .7-13.1 .7 11.8 .7-9.1 .7-5.3 .7 13.7 .7-1.3 .7-.4 .7-11.2 .7-2.2 .7 9.9 .7-15.7 .7 14.1 .7-.7 .7-16.1 .7-.2 .7 .5 .7 12.4 .7-5.8 .7 4 .7-.6 .7-6.7 .7 6.2 .7-.1 .7-9.4 .7 5.9 .7-1.5 .7-2.1 .7 .4 .7-11.9 .7 6.7 .7 1.5 .7-5 .7 5.5 .7 11.6 .7-1.4 .7-2.6 .7-.9 .7-1.6 .7-6.5 .7 1.8 .7 .8 .7 13.8 .7-3.9 .7-8.3 .7 11.2 .7 1.6 .7-12.1 .7 10.6 .7 5.6 .7-.9 .7-6.3 .7-10.9 .7 15.1 .7-16.5 .7-.2 .7 16.1 .7-.6 .7-1.7 .7 1.9 .7-14 .7 15 .7-13.3 .7 0 .7 9.4 .7 1.2 .7-1.1 .7-12.6 .7 7.9 .7 2.8 .7 2.8 .7-4.2 .7 4.3 .7-1.7 .7-7.1 .7-4 .7 13.8 .7-12.8 .7 12.7 .7-4.2 .7-15 .7 8.4 .7-3.9 .7-3.7 .7-16.2 .7 14 .7-1.7 .7-13.8 .7 3.6 .7 2.6 .7 .4 .7 6.6 .7-5.5 .7-2.9 .7 8.6 .7-1.2 .7-5.2 .7 5 .7 1.2 .7-2 .7 3.9 .7-12.8 .7-2.6 .7 13.5 .7 3.4 .7-16.2 .7 5.4 .7-1.1 .7 8.1 .7-13.6 .7 1.9 .7 1.1 .7 9.8 .7 2.6 .7 9.6 .7-14.3 .7 5.6 .7 10.9 .7-1.9 .7 4.1 .7-.1 .7-4.8 .7 1.7 .7-8.6 .7 11.9 .7-1.9 .7-.2 .7-8.9 .7 7.8 .7-8.5 .7-2.6 .7 .9 .7-2.2 .7 .2 .7 17.1 .7-5.2 .7-18.8 .7-4.1 .7 13.4 .7-14.9 .7-7.4 .7 15.5 .7-3.9 .7-.5 .7-8.4 .7 11.7 .7-15 .7 14.3 .7-15.4 .7 14.9 .7-3.3 .7 2 .7-7.6 .7 4.8 .7 .3 .7 2.8 .7-7.1 .7 9.3 .7-11 .7 10.5 .7-12.6 .7 6.2 .7 5.3 .7-5 .7-9.2 .7 2.3 .7-.2 .7 14.5 .7 .2 .7-6.2 .7-5.9 .7 13.4 .7-13.4 .7 7.1 .7 6.1 .7-12.7 .7-.5 .7 11.2 .7-1 .7 .1 .7-1.3 .7-12.3 .7 .2 .7 12.1 .7-6.2 .7 4.7 .7-7.9 .7-1.5 .7 2.7 .7-3.4 .7 2.7 .7-6.9 .7 7.1 .7-7.2 .7-8.6 .7-1.3 .7 13.1 .7-.1 .7-.2 .7 .1 .7-12.1 .7 .1 .7-.6 .7 14.6 .7-3.9 .7 4.6 .7-10.1 .7-.8 .7-3 .7 8.6 .7 4.7 .7-6.6 .7-4.8 .7 9.7 .7-12 .7 12.7 .7-14.6 .7-.6 .7 9.5 .7-9.6 .7 2 .7-.8 .7 .3 .7 6 .7 0 .7-6.4 .7 10.3 .7 3.6 .7-2.2 .7-3.8 .7 7 .7 6.3 .7 5.6 .7 21 .7 6.1 .7-7 .7-.6 .7 8.7 .7 .8 .7-7 .7-3.8 .7-5.6 .7 10.3 .7-11.5 .7-2.4 .7 5.6 .7 1.8 .7-.2 .7-3.3 .7-14.8 .7 4.9 .7 7.4 .7-13.6 .7-.2 .7 11.3 .7-11.1 .7 15.3 .7-16.2 .7-.7 .7 16 .7-10 .7 7.1 .7 5.9 .7-15.5 .7-.4 .7 .6 .7 13.5 .7-8.2 .7 8.8 .7-5 .7-5.5 .7 9.7 .7-1.1 .7-1.2 .7 2.9 .7 1.8 .7 3 .7-11.8 .7 15.9 .7 .3 .7-13.4 .7 2.6 .7 15.2 .7-.1 .7-15.8 .7 9.9 .7 5.8 .7 1.2 .7-15.7 .7 .8 .7 6.1 .7 8 .7-16.3 .7 12.3 .7 3.3 .7 .4 .7-7.1 .7-5.2 .7 10.5 .7-6.2 .7 8.9 .7-13.9 .7 15.5 .7-8.6 .7-6.6 .7 17.1 .7-3.7 .7-5.6 .7 13.4 .7-7.1 .7-6.8 .7 .5 .7 16.1 .7-3.6 .7-9.9 .7 18.3 .7-1.7 .7 4.8 .7 1.5 .7-15 .7 17.7 .7-3.4 .7 .4 .7-3.2 .7 1.9 .7 11.5 .7-6.9 .7 9.2 .7-4.8 .7 .9 .7 1.6 .7 3.4 .7 7.6 .7-1 .7-10.3 .7 7.7 .7-.4 .7-10.3 .7 10.5 .7-13.6 .7-.8 .7 13.5 .7-2.3 .7-17.1 .7-1.6 .7 15.2 .7-15.9 .7-.6 .7 6.6 .7-10 .7 13 .7-4.9 .7-8.3 .7-9.3 .7 16.1 .7-1.8 .7-1.5 .7-22.1 .7 8.2 .7-11.9 .7 17.7 .7-2.5 .7-12.8 .7-8.4 .7 15.1 .7-12.3 .7-.2 .7 2.7 .7-13.1 .7 11.6 .7-10.9 .7 12.7 .7-3.8 .7-3.3 .7 18.1 .7 2.8 .7-11.8 .7 8.4 .7-3.3 .7 2.1 .7 16.3 .7 2.3 .7-13.7 .7 18.4 .7-12.6 .7 16.5 .7 1.1 .7-14.6 .7 18.1 .7-13.7 .7 19.7 .7-8.6 .7 1.2 .7 8.5 .7 10.5 .7 3.2 .7-2.2 .7-9.4 .7 9.1 .7-10.8 .7 12.7 .7 .7 .7-5.6 .7 7.4 .7-10.3 .7-5.8 .7 8.9 .7 .2 .7-1.2 .7 0 .7 7.9 .7-1.8 .7 2.3 .7-9 .7 5.7 .7-8.4 .7 4.5 .7 5.5 .7-3.5 .7-.5 .7-3.8 .7-9.1 .7-13.7 .7-1.3 .7-10.2 .7 6.4 .7 2.3 .7-6.7 .7-4.6 .7 5.5 .7 .9 .7 6.1 .7-5.3 .7-3.9 .7-5.6 .7 14.7 .7-13.7 .7-.9 .7 2.6 .7 4.3 .7 8.4 .7 1.5 .7-15.8 .7 10.4 .7-9.4 .7 1.7 .7-4 .7 17 .7 0 .7-16.3 .7 16.3 .7-14.5 .7 3.1 .7-3.5 .7 10.9 .7-14.5 .7 3.2 .7 14 .7-.3 .7-5.7 .7-.9 .7-5.2 .7 6.7 .7 6.8 .7 10 .7-10.1 .7 6.6 .7 6.7 .7 7.9 .7-6.4 .7-.1 .7 8.8 .7-1.9 .7-6.3 .7 10.3 .7-23.4 .7-9.1 .7 7.1 .7-17.3 .7-9 .7-1.1 .7-10.7 .7 2.6 .7 8.8 .7-8.6 .7 18 .7-4.5 .7 5.2 .7 7.5 .7-3.9 .7 9.9 .7-5.7 .7 12.7 .7 4.4 .7 1.7 .7-7.3 .7 5.9 .7 2.7 .7-6.2 .7 3.6 .7-7.4 .7-.3 .7-.3 .7 13.2 .7 .7" class="c"/>
<path d="M953.8 1108l.5-23 .7 15 1-25 1.7-128 .8 18" class="c"/>
<path d="M1545 1100l2.8-137.3 .7 127.3 .5-52 1 62 2-15 3 15 2-8" class="c"/>
<path d="M954.3 1111l.2-11 .2-16 .2-24 .2-50 .2-45" class="d"/>
<path d="M957.7 964.3l2 6.6 2 6.4 2 3.1 2 4.3 2 4.8 2 3.7 2 4.1 2 2.5 2 1.2 2 0 2 .6 2 2.6 2 4.7 2 4.2 2 7 2 6.9 2 .2 2 .7 2 1.2 2-2 2-2.9 2-4.2 2-4.1 2-5.3 2-4.7 2-5.2 2 .2 2 5.4 2 3.4 2 3.4 2 1.8 2 2.5 2 2.3 2 4.2 2 5.4 2 4.5 2 3.2 2 3.2 2 1.8 2 1 2 1.6 2 1.9 2 2.4 2 2.2 2 1.5 2 1.7 2 .7 2.1 1 2 1 2 3.6 2 2.7 2 .7 2 .4 2-.3 2 2.8 2 4.1 2 .7 2 .2 2-.5 2 1.8 2 4.6 2 .2 2-2.7 2-.7 2-.8 2-2.2 2-2.1 2-3.6 2 2 2 2.7 2 1.6 2 1 2 .7 2 2.8 2 2.9 2 5.3 2 5.4 2 5.4 2 3.5 2-1 2 1.2 2 3.4 2 .8 2 1.3 2-.4 2 .1 2 .2 2-1.8 2-2.9 2-2.5 2-2.9 2-1.6 2-1.8 2-1 2-.4 2 .5 2 1 2 .7 2 2.7 2 1.8 2-.5 2-.5 2 .3 2-.8 2-1.4 2-5.3 2-4.5 2-.2 2-3 2-5.4 2-4.6 2-3.9 2-1.7 2-1.2 2-1.3 2-.8 2 0 2-3.5 2-4.2 2-.3 2-.6 2-4.7 2-2.6 2-1 2-2.8 2-3 2-3.9 2-.5 2 3 2 4.1 2 6.1 2 2.7 2 1.1 2-5.7 2-4.6 2-.8 2-2.3 2-2.2 2-3 2-3.3 2-3.1 2-3.2 2-4.9 2-2.9 2.1 1.7 2 2.3 2 1.8 2 3.6 2 3 2-.3 2-5.9 2-5.6 2-6 2-5.7 2-6.3 2 5.6 2 8.1 2 5.9 2 3.9 2-1.9 2-5.4 2-3.7 2-5.1 2-7.9 2-4.6 2 .8 2-.4 2-.6 2-1.2 2-.1 2 1.8 2 1.1 2 2 2-1 2-2 2 .3 2 1.7 2 2 2-1.1 2-6.3 2-6.1 2-6 2-7.7 2-1.9 2-.5 2-1.4 2-2.4 2-.9 2-.4 2-3.3 2 .4 2 3.3 2 3.8 2 3.8 2 3.9 2 1 2-1.1 2-1.8 2-5.2 2-2.5 2-1.1 2-2.6 2-3.4 2-2.7 2-2.6 2-.7 2-1.9 2-1.7 2-2.1 2 2.9 2 10.1 2 9.3 2 7.8 2 7.5 2 7.7 2 4.7 2-4.4 2-3.8 2-3 2-2.7 2-1.9 2-.7 2-3.9 2-4.8 2-3.4 2-3 2-.5 2-2.8 2-4.7 2-1.3 2-.3 2-3.1 2-3.3 2-3 2-5.8 2-6.7 2-3.2 2-1.7 2-2.7 2.1-1.8 2-2.4 2-2.5 2-2.7 2-1.3 2-1.8 2-.5 2 2.6 2 1.9 2 4.1 2 4.3 2 4.9 2 4 2 4 2-1.6 2-3.3 2-.7 2 1.6 2-.9 2-2.6 2-.2 2-1.3 2-4.1 2 1.2 2 5.6 2 6.4 2 6.7 2 3.3 2 .3 2 1.3 2 1 2 .6 2 .6 2 1 2-1.7 2-2.2 2-1.3 2 4.4 2 8.3 2 12.9 2 16.3 2 9.6 2 3.9 2 3 2 5.9 2 16.5 2 15.5 2 19.1 2 20.2 0 29.2-2-8.4-2-10.1-2-20.3-2-19.4-2-7.3-2-3-2-5.9-2-15.1-2-20-2-16.8-2-15.1-2-9.2-2 1.1-2 0-2-.6-2 .1-2-.4-2-3.7-2-1.5-2 .3-2-1.8-2-4.9-2-5.7-2-5.3-2-4.9-2-1.2-2 3.9-2 1.6-2 .5-2 1.4-2 .9-2 .8-2 1.2-2 1.8-2-.1-2-5.2-2-1.7-2-1.4-2-4-2-2.7-2-2.5-2-4.2-2-1.3-2 2.2-2 2-2-.4-2 1-2 3-2.1 2.2-2 3.8-2 6.2-2 5.2-2 3.5-2 2.9-2 .7-2 3.6-2 4.8-2 2.3-2 2.3-2 1-2 3.4-2 4.3-2 4.6-2 4-2-1.1-2-.1-2 4.1-2 4-2 4.8-2 2.7-2 1.8-2 2.2-2-6.4-2-6.4-2-7.4-2-8.7-2-8.6-2-8.5-2-2.6-2 2.3-2 1.2-2 2-2 2.1-2 3.7-2 4-2 .9-2 1.1-2 2.9-2 2.4-2 3.1-2 2.6-2 2.5-2-1.4-2-4-2-3.8-2-3.2-2-1.8-2-.8-2 2.4-2 1.5-2 1.2-2 1.7-2 .3-2-1.8-2 1.6-2 7.1-2 6.4-2 6.5-2 6.8-2 3.3-2 1.6-2-2.1-2-3-2-.6-2-.8-2 .2-2 .2-2-.2-2-1.4-2-2-2 2.4-2 1.7-2-1.6-2 4.2-2 7.1-2 7.3-2 7.1-2 3.1-2-.2-2-5.4-2-6.2-2-7.3-2-3.7-2 7.8-2 5.8-2 5.2-2 2.3-2 4.9-2 .8-2-2.1-2-2.6-2-1.4-2-1.9-2.1 1.8-2 2.9-2 1.1-2 2.4-2 2.3-2 2.9-2 3.4-2 3.9-2 3.5-2 1.6-2 3.7-2 4.3-2-2.3-2-2.9-2-.6-2-2.3-2-3.6-2-.1-2 2.1-2-.5-2 .8-2 4.9-2 4.2-2 3.1-2 2.3-2 1.9-2 2-2 2-2 1.6-2 1.2-2 .9-2 1.7-2 2.6-2 1.2-2 2.7-2 4.7-2 4.2-2 5.3-2 2.8-2 2.1-2 2.6-2 1.7-2-1.6-2 .8-2 2.4-2-1.2-2-1.4-2-1.8-2-1.5-2-3.5-2 .1-2 1.4-2 2.7-2 3.5-2 .3-2 .8-2 .5-2 1.9-2 3.7-2-.3-2-.7-2-.5-2-.6-2 .5-2-1.2-2-3.4-2-3.5-2-5.3-2-3.7-2-4.2-2-4.8-2-4.3-2-3.3-2-1.2-2-.9-2 .9-2 .5-2 1.8-2 .9-2-.3-2 2.7-2 4.1-2 .9-2-.7-2-1.2-2-2.2-2-3.1-2-1.3-2-.5-2-2.9-2-1.2-2 0-2-.7-2-1.3-2-2.4-2-1.7-2-2.1-2.1-1.3-2-1.3-2-1.5-2-.6-2-3.2-2-4-2-1.8-2-2-2-1.8-2-2.2-2-2.5-2-1.6-2-2.5-2-2.4-2-3.5-2-4.5-2-4.9-2-4.9-2-2.8-2-1.9-2-2.2-2 1.6-2 3-2 3.3-2 4.6-2 2.9-2 2.4-2 3.8-2 2.8-2 .8-2 .4-2-.2-2-5.4-2-5.5-2-8.5-2-7.7-2-2.8-2-.3-2 1.2-2-.3-2-1.6-2-5-2-4.8-2-3.3-2-4.5-2-6.1-2-3-2-2.8z" fill="#3953A4"/>
<path d="M957.7 962.7l.5 .9 .5 1.9 .5 17.9 .5-1.8 .5 1.4 .5-8.6 .5 6 .5 6.5 .5-7.6 .5 .4 .5 11 .5 1.3 .5 2.4 .5-8.9 .5-4 .5 16 .5-1.4 .5-4.7 .5-4.6 .5 13.2 .5-11.5 .5 14.5 .5-8.3 .5 10.5 .5-13 .5 1.5 .5 5.5 .5-3.9 .5 1 .5 10.1 .5-8.3 .5 6 .5 7.2 .5-12.8 .5 3.6 .5-2.3 .5-.5 .5 3.3 .5-3.8 .5 3.7 .5 7.8 .5-5.9 .5 6.5 .5-4 .5 4.6 .5-.6 .5 1.5 .5-9.9 .5 10.6 .5 2.6 .5-2.7 .5-5.4 .5 0 .5 13.7 .5-6.7 .5 5.1 .5-6.5 .5 8.1 .5 13.5 .5-12.5 .5-1.6 .5 17.5 .5-6.4 .5 1.1 .5-7.6 .5-.2 .5 .9 .5 15.7 .5-16.2 .5 13.3 .5 1.9 .5-3.4 .5-5.7 .5 8.6 .5-1.8 .5-10.8 .5 7.6 .5-4.9 .5 8.3 .5-13.7 .5 .3 .5 9.5 .5-.8 .5-11.5 .5-.2 .5-2 .5 8.7 .5-10.8 .5 12.8 .5-.8 .5-1 .5-14.7 .5-.9 .5 7.7 .5-6.4 .5-5.7 .5-1 .5 10.9 .5-14.1 .5 14.3 .5-8.3 .5 7.8 .5-.2 .5-1.4 .5-6.3 .5 4.3 .5-.9 .5-6.7 .5-6.8 .5 15.8 .5-6.7 .5 7.9 .5 .3 .5 .4 .5-2.2 .5-7.8 .5 .4 .5 9.6 .5 3.4 .5-10 .5 11.4 .5-10.5 .5 13.3 .5 1.5 .5-11.7 .5 14.3 .5 1.1 .5-15.9 .5 9.5 .5-4.7 .5-1.7 .5 .1 .5 19.4 .5 1.3 .5-.2 .5 1.3 .5 .3 .5-8 .5-5.8 .5 5.3 .5 5.1 .5-7.8 .5 1.7 .5 13.8 .5-5.2 .5 6.6 .5 0 .5 .9 .5 .5 .5-4.3 .5-5.5 .5 2.2 .5 6.6 .5 3.5 .5-10.5 .5 12.1 .5-7.1 .5-2.1 .5 5.1 .5 .6 .5 5.4 .5-11.4 .5-.1 .5 13.6 .5 0 .5-7.4 .5 3.2 .5-.5 .5 6.4 .5-9.6 .5-.8 .5 13.9 .5 1.3 .5-4 .5 .8 .5-1.7 .5-6.2 .5-1.6 .5 6.2 .5-4.3 .5 8.9 .5-9.2 .5 1.4 .5-.3 .5 6.7 .5 8 .5 .1 .5-13.7 .5 14.7 .5-14.7 .5 14.8 .6-14 .5 5.9 .5 10.4 .5 .8 .5-6.5 .5 .6 .5 5.5 .5-7.2 .5-2 .5 8.6 .5 3.3 .5-1.8 .5-3.8 .5-6.3 .5 13.9 .5-13.8 .5 6.5 .5 2.1 .5-1.2 .5 6.7 .5 1.6 .5-9.2 .5 8.5 .5-14.7 .5 13 .5-12.2 .5 0 .5 6.1 .5 .4 .5-.2 .5 10.5 .5-7.9 .5 1.9 .5 7.9 .5-10.5 .5 10.8 .5-12.3 .5 11.9 .5-11.5 .5 9 .5-2.7 .5 7.2 .5-12.3 .5 7.2 .5 1 .5 7.6 .5-7.9 .5 8.7 .5-2.3 .5-8.6 .5-.9 .5-1.1 .5 14.3 .5 .8 .5-8.4 .5-4.9 .5 0 .5 7 .5-8.5 .5-.7 .5 14.5 .5-.4 .5-15.3 .5 5.9 .5 3.6 .5-9.7 .5 9.7 .5 .6 .5-3.1 .5-5.1 .5 6 .5 1.1 .5 .9 .5-2.8 .5-10.2 .5 11.2 .5 1 .5-1.2 .5-.4 .5-9.2 .5 9.1 .5-8.9 .5-7.1 .5 9.1 .5 6.3 .5-2.6 .5 1.3 .5-.3 .5-9.8 .5 10.2 .5-9.5 .5 10.6 .5-.8 .5 1.3 .5-.3 .5-.2 .5-6.1 .5 7.2 .5-1.7 .5-2.4 .5-2.4 .5-2.4 .5 .5 .5 12.2 .5-1.8 .5 6.1 .5-.9 .5-7.9 .5 12.5 .5 .6 .5-12.7 .5 10.6 .5-8.4 .5 7 .5 .4 .5 5.7 .5-7.1 .5 .5 .5 1.6 .5 .9 .5 10.9 .5-7.7 .5 13.6 .5-11.6 .5-.2 .5 9.4 .5-9.4 .5 .2 .5 7.8 .5-8.9 .5 17 .5-16 .5 17.9 .5-12.6 .5 5.3 .5 6.1 .5-.1 .5-12.4 .5 5.4 .5 4.3 .5-.8 .5 4.8 .5-10.1 .5-1.6 .5-.5 .5 2.4 .5-2.1 .5 10.6 .5-8.7 .5 11.5 .5-.5 .5-6.9 .5 .9 .5-6.4 .5 10.7 .5-11 .5 9.3 .5-9.1 .5 .5 .5 1.5 .5-3.6 .5-1.1 .5-1.5 .5 11.3 .5-12.6 .5 9 .5-8.3 .5 11.1 .5-.3 .5-14.2 .5-1 .5 5.1 .5-6.3 .5 12.9 .5-2 .5-12 .5 9.2 .5-.9 .5-7.3 .5 10 .5-5.5 .5 5.5 .5-13.5 .5 9 .5-6.1 .5-3.9 .5 4.4 .5 7 .5-4.6 .5-7.3 .5 15.5 .5-7 .5 6.8 .5 2.5 .5 .1 .5-16.1 .5 15.9 .5 .7 .5-16.6 .5 .9 .5 17.1 .5-17.3 .5 1.3 .5 17.4 .5-.3 .5-15 .5 15.7 .5-1.1 .5 1.9 .5-.3 .5-2.4 .5-12.7 .5 13.5 .5-8.3 .5-6.5 .5 14 .5-13.5 .5 3.5 .5 9.8 .5-13.5 .5 4.8 .5 10.2 .5-14.9 .5 7.2 .5 6.6 .5-15.3 .5 6.4 .5 6.4 .5-.8 .5-12.9 .5-.4 .5 4.5 .5-8.8 .5 15.5 .5-18.1 .5-.7 .5 16.3 .5-.7 .5-6.1 .5-10.6 .5 7.1 .5-.7 .5-6.5 .5 8.7 .5-8.5 .5-3 .5 2.2 .5-6.7 .5 10.3 .5-9.7 .5 7.7 .5-.1 .5-14.8 .5 4.6 .5-6.5 .5-.9 .5-.3 .5-1.5 .5 4.2 .5-4.2 .5 15 .5 .1 .5-1.4 .5-9.3 .5 2.7 .5 6.2 .5 0 .5-16.1 .5 .1 .5 14.9 .5-16.2 .5 5 .5 1.5 .5-5 .5 13.2 .5-.8 .5-13.5 .5 13.3 .5-1.2 .5-2 .5 1.3 .5-4.4 .5 3 .5-17.6 .5 0 .5 4.1 .5 11.3 .5-.1 .5-14.6 .5-1 .5 7.5 .5-4.9 .5-3.2 .5-1.4 .5-1 .5 13.1 .5-8.9 .5-4.6 .5-4.4 .5 15.1 .5-14.2 .5-1.4 .5-.8 .5 7.2 .5 3.2 .5-11.6 .5-.9 .5 7.9 .5-2.2 .5-6.9 .5 2.2 .5 1.8 .5 3.6 .5-8.4 .5 12.6 .5-3.3 .5-15.2 .5 12.3 .5-9.6 .5 4.8 .5-1.8 .5 9.2 .5-12.3 .5 8.4 .5-8 .5 1.9 .5 2 .5 1.8 .5-2 .5 17.2 .5-13.4 .5 13.3 .5-.7 .5 1 .5 1 .5 .6 .5-10.7 .5 13.3 .5-11.9 .5 .6 .5 12.1 .5-12.3 .5-3.1 .5 .2 .5 9.9 .5-14.1 .5 3.5 .5-2.9 .5 1.3 .5-5.4 .5 14.1 .5 0 .5-15.1 .5 12.6 .5 .6 .5-3.2 .5 1.5 .5-1.2 .5-13.7 .5 10.8 .5-.1 .5-5.7 .5-6.6 .5-.9 .5-1.3 .5 2.8 .5 6.3 .5-.8 .5-.1 .5-12.5 .5 11.8 .5-8.5 .5-1.7 .5 3.6 .5-8.4 .5-.6 .5 11.6 .5-5.4 .5-9.6 .5 7.5 .5-4.7 .5-1.8 .5-1.9 .5 13.4 .5-12.4 .6 9.1 .5-.1 .5-.4 .5-.1 .5 .7 .5-4.4 .5-7.1 .5 13.1 .5 .9 .5-3.5 .5-6.1 .5 5.5 .5-7 .5 .9 .5 4.4 .5 9.4 .5-10.8 .5 3.9 .5 2.1 .5 2.7 .5 4.3 .5-.1 .5-1 .5-8.8 .5 0 .5 2.4 .5-8.2 .5-1.2 .5 10 .5-13.6 .5-1 .5 12.7 .5-1.1 .5-3.5 .5 .8 .5-.6 .5-17.1 .5 13.4 .5-16.4 .5 13.8 .5-6.4 .5 2.3 .5-4.5 .5-8.2 .5 2.6 .5 7.1 .5 1.6 .5-6.9 .5 2.7 .5 2 .5 8.6 .5 1.3 .5 3 .5-6.6 .5 4.8 .5 6.1 .5 .3 .5-10.1 .5 8.1 .5 7 .5 2.3 .5-5.5 .5-10 .5 13.9 .5-1.2 .5-.4 .5-18 .5-1.3 .5 16.1 .5-6.9 .5 1.5 .5-.1 .5-2.2 .5-13.3 .5 4 .5 3.6 .5-2.2 .5-12.7 .5-1.2 .5 9.3 .5-1.6 .5-2 .5-6.2 .5-7.2 .5 .6 .5 13.1 .5-11.4 .5-1.2 .5 2.3 .5 3.1 .5 6.3 .5-6.8 .5-5.5 .5-.4 .5-.7 .5 10.8 .5-10.3 .5 8 .5 3.6 .5 .1 .5-13.2 .5 .1 .5 14.8 .5-14.3 .5 4.6 .5 10.5 .5-1.4 .5 .6 .5-12.7 .5 8.5 .5-7.6 .5 12.4 .5-5.2 .5 .4 .5 3.9 .5 .7 .5-10.4 .5 10.9 .5-11.3 .5 9.3 .5 1.6 .5-12.5 .5 3.3 .5-4.8 .5 14.4 .5-13.3 .5 1.5 .5-1.3 .5 2.3 .5 1.8 .5 10.7 .5-1.9 .5 5.6 .5-11.1 .5 10.4 .5-15.1 .5 .8 .5 13.5 .5-13.4 .5-1.8 .5-.7 .5-1.7 .5 9.6 .5-1.3 .5-13.2 .5-1.6 .5 3.6 .5-7.1 .5 3.4 .5-4.8 .5-2.6 .5-2 .5 4.3 .5-7.9 .5 6.7 .5-.8 .5-10.5 .5 10.8 .5-4.8 .5-1.9 .5-2.5 .5 4.6 .5-1.3 .5-6.8 .5 14.2 .5-13.8 .5 13.1 .5-14 .5 1.5 .5-3.3 .5 1.4 .5-2.4 .5 14.5 .5 0 .5-12.5 .5 8.9 .5-11.9 .5-.5 .5 .4 .5-.1 .5 13.2 .5-6.4 .5 .3 .5-10 .5 13.5 .5 .5 .5-7.7 .5-6 .5-.1 .5 2.3 .5-.6 .5 5.6 .5 9.7 .5-5.5 .5-2.3 .5 10.9 .5-12.3 .5 14.4 .5-13 .5 6 .5 5.6 .5 5.2 .5-10.6 .5 12.2 .5 1.1 .5-6.7 .5 4.4 .5-1.8 .5-5.6 .5-4.4 .5 12 .5-4.4 .5-8.1 .5 8.8 .5-7.2 .5-2.7 .5 10.4 .5-.7 .5-.9 .5-1.9 .5-13.4 .5 13.7 .5-14.5 .5 3.2 .5-4.3 .5 .3 .5 8.2 .5-9.3 .5 10.9 .5-11.9 .5 2.8 .5-4.3 .5 6.2 .5 2.6 .5-11.8 .5 7.6 .5-8.1 .5 .3 .5 12.4 .5-8.7 .5-7.5 .5 .1 .5 .8 .5 5.7 .5 4.1 .5-4.5 .5 4.1 .5-12.9 .5-.3 .5 11.5 .5-3.5 .5 2.6 .5-3.2 .5 2 .5-.6 .5 .5 .5-6.4 .5-1.7 .5-.4 .5-5.8 .5 5.5 .5-7.1 .5 14.4 .5-9.8 .5 13 .5 3.5 .5-5.8 .5-1 .5 12.5 .5-7.5 .5 1.6 .5 12.1 .5 2.7 .5 2.4 .5-4.8 .5 8.1 .5-8.7 .5 10.3 .5 1 .5-5.7 .5 13 .5-8.6 .5 5.3 .5 8.2 .5-8.4 .5 2.4 .5 1.5 .5 1.4 .5 9.1 .5-5.2 .5 .1 .5-9.8 .5 12.3 .5-14.5 .5 3.6 .5 2.7 .5-8.8 .5 3.6 .5-4.4 .5 4.2 .5 7.9 .5-4.7 .5 2.4 .5-14.4 .5 4.1 .5-.8 .5 7.2 .5-12 .5-.4 .5 2.7 .5-1.9 .5 6.3 .5-8.4 .5 0 .5 8 .5-8.2 .5 5.6 .5 4 .5-16.4 .5 9.9 .5-5.8 .5-1 .5-7.2 .5 17.3 .5-18.6 .5 9.2 .5 5.7 .5-16.6 .5-.8 .5 10 .5-9.6 .5 2.7 .5-4 .5 2.3 .5 3 .5-1 .5 4.9 .5-8 .5-4.9 .5 9.7 .5-5.6 .5 6.2 .5 .1 .5-.5 .5-10.9 .5 7.7 .5-1.2 .5-10.3 .5 8.9 .5-9.5 .5 9.4 .5-11.5 .5 7.7 .5-.4 .5-.1 .5-1.2 .5-10.3 .5 .1 .5 .9 .5 3.5 .5 2.3 .5-11.3 .5 12.4 .5-7 .5-4.2 .5-8.3 .5-2 .5-1 .5 16.7 .5-4.2 .5-5 .5-11 .5 5.1 .5-6.1 .5 .4 .5 5.7 .5-7.4 .5 4.4 .5 5 .5-.1 .5-10.9 .5 9.2 .5-10.4 .6 9 .5-2.7 .5-8.6 .5 9.4 .5-.5 .5-10.7 .5 9.4 .5-4.3 .5-6.2 .5 6.5 .5 4 .5-3.3 .5-10.2 .5 1.4 .5 10.4 .5-11.6 .5-1.8 .5 13.3 .5-8.1 .5 6.1 .5 .4 .5-3.8 .5-10.9 .5 .3 .5 0 .5 5.3 .5 9.6 .5 2.3 .5 3 .5-16.7 .5 17.4 .5-.5 .5 2.3 .5 .2 .5-15.2 .5-.3 .5 1.6 .5 16.8 .5-11.2 .5-2.5 .5 16.2 .5 .1 .5-12.8 .5 1.2 .5 1.2 .5 5.7 .5 6.4 .5 .9 .5-8.6 .5 10.1 .5-8.5 .5 11.6 .5-1.7 .5-7.2 .5 2.3 .5 8.2 .5-8.8 .5 1.6 .5 6 .5-6.2 .5-9 .5 .5 .5 4.1 .5 6.2 .5-11.2 .5 .6 .5 .1 .5 1.3 .5 9.4 .5-1.5 .5-7.8 .5 10.4 .5-3.6 .5-6.9 .5 8.9 .5-11.8 .5 10.7 .5 .5 .5 .2 .5-12.5 .5 .4 .5 11.7 .5-8.4 .5 4.8 .5-.6 .5-10.1 .5 7.1 .5-3.3 .5 3.2 .5-4.7 .5 5.4 .5 .7 .5-8.5 .5 5.8 .5 2.8 .5-2.3 .5-1.9 .5 7.1 .5 5.1 .5 2.8 .5 .4 .5-5.4 .5 6.8 .5-5.7 .5 1.6 .5 10.1 .5-7.9 .5 .8 .5 4 .5 7 .5-2.1 .5-8.4 .5-.2 .5 1.3 .5 .1 .5 10.3 .5-10.1 .5 10.1 .5-.2 .5-2.4 .5 2.7 .5-9.7 .5 5 .5-3.5 .5-.7 .5 15 .5-11 .5-3.7 .5 .3 .5 .8 .5 2.9 .5 5.9 .5 2.5 .5 1.7 .5-10.2 .5 11.4 .5 .1 .5-3.4 .5 3.7 .5-3.9 .5-13.8 .5 16.3 .5-15.4 .5 14.9 .5-17.2 .5 7.6 .5-6 .5 .4 .5 24.5 .5-14.3 .5 22.3 .5-24.3 .5 2.6 .5 23.4 .5 9.9 .5 7.5 .5-24.4 .5 21.5 .5-16.7 .5 4.2 .5 28.4 .5-18.5 .5 1.5 .5 41.6 .5-2.5 .5-36.7 .5 45.5 .5-20.9 .5-12.8 .5 36.9 .5-44.1 .5 45.5 .5-9.7 .5-9.5 .5 19 .5-13.9 .5 10.7 .5 7 .5-33.4 .5 51.8 .5-43 .5 35.2 .5-27.6 .5 37.2 .5 23.7 .5-49.3 .5 17.5 .5 39.3 .5 2.1 .5-39.4 .5 44 .5-6.7 .5-3.5" class="d"/>
<path d="M1534 1109l2-19 1-15 1-15.5 .5-30.7 .5-8.8 .6-18.3 .4-39 .5-31.8 .5-23.9 .5-52 .5-65 1-18.5 1-7.5 2-12 1.5-17 1.5 10-1-14 1.5 9 .5 10 .5-14 .5 12" class="d"/>
<g font-family='"Liberation Sans", Arial, Helvetica, sans-serif' font-size="34.2" fill="#414042">
<text x="953.5" y="1159.7" text-anchor="middle">0</text>
<text x="1075.7" y="1159.7" text-anchor="middle">200</text>
<text x="1197.8" y="1159.7" text-anchor="middle">400</text>
<text x="1320.0" y="1159.7" text-anchor="middle">600</text>
<text x="1442.1" y="1159.7" text-anchor="middle">800</text>
<text x="1564.3" y="1159.7" text-anchor="middle">1000</text>
<text x="941.9" y="692.4" text-anchor="end">1</text>
<text x="941.9" y="779.5" text-anchor="end">0.8</text>
<text x="941.9" y="866.7" text-anchor="end">0.6</text>
<text x="941.9" y="953.8" text-anchor="end">0.4</text>
<text x="941.9" y="1041.0" text-anchor="end">0.2</text>
<text x="941.9" y="1128.1" text-anchor="end">0</text>
</g>
<text x="1259.2" y="663.1" text-anchor="middle" font-family='"Liberation Sans", Arial, Helvetica, sans-serif' font-size="38" fill="#231F20">Bearing2-4(IMS)</text>
<text x="1258.6" y="1207.8" text-anchor="middle" font-family='"Liberation Sans", Arial, Helvetica, sans-serif' font-size="38" fill="#414042">t(10min)</text>
<text transform="translate(878.7 897.35) rotate(-90)" text-anchor="middle" font-family='"Liberation Sans", Arial, Helvetica, sans-serif' font-size="38" fill="#414042">ERR</text>
<text x="1267.2" y="1259.4" text-anchor="middle" font-family='"Liberation Serif", "Times New Roman", serif' font-size="43.3" fill="#231F20">(d)</text>
<rect x="1262.4" y="694.1" width="269.1" height="124.3" fill="#fff" stroke="#4d4d4f" stroke-width="1.1"/>
<path d="M1267.9 716.2H1325.1" stroke="#B9529F" stroke-width="0.65" fill="none"/>
<use href="#ast" x="1296.5" y="716.2" stroke="#B9529F"/>
<text x="1327.8" y="728.1" font-family='"Liberation Sans", Arial, Helvetica, sans-serif' font-size="32.1" fill="#231F20">IBA-FELM</text>
<path d="M1267.9 755.9H1325.1" stroke="#6ABD45" stroke-width="0.65" fill="none"/>
<use href="#circ" x="1296.5" y="755.9" stroke="#6ABD45"/>
<text x="1328.2" y="766.9" font-family='"Liberation Sans", Arial, Helvetica, sans-serif' font-size="31.1" fill="#231F20">BA-FELM</text>
<path d="M1267.9 795.7H1325.1" stroke="#3953A4" stroke-width="0.65" fill="none"/>
<use href="#dia" x="1296.5" y="795.7" stroke="#3953A4"/>
<text x="1328.2" y="806.8" font-family='"Liberation Sans", Arial, Helvetica, sans-serif' font-size="31.1" fill="#231F20">FELM</text>
</g>
<g id="panel-e">
<rect x="104" y="1331.5" width="625" height="454.4000000000001" fill="none" stroke="#4d4d4f" stroke-width="1.1"/>
<path d="M301.8 1785.9v-6.5M301.8 1331.5v6.5M499.7 1785.9v-6.5M499.7 1331.5v6.5M697.6 1785.9v-6.5M697.6 1331.5v6.5M104 1407.2h6.5M729 1407.2h-6.5M104 1483.0h6.5M729 1483.0h-6.5M104 1558.7h6.5M729 1558.7h-6.5M104 1634.4h6.5M729 1634.4h-6.5M104 1710.2h6.5M729 1710.2h-6.5" stroke="#4d4d4f" stroke-width="1.1" fill="none"/>
<path d="M104 1407.2L727.3 1558.4" stroke="#231F20" stroke-width="2" fill="none"/>
<path d="M99 1445.6l1.8 2.2 1.8 2.2 1.8 .3 1.8 .7 1.8-.5 1.8-8.3 1.8-6 1.8 1.4 1.8-4 1.8-1.1 1.8-3.7 1.8-1 1.8-2 1.8-2 1.8-7 1.8-9.7 1.8-15.4 1.8 9.6 1.8 8.4 1.8 10.3 1.8 1.7 1.8 2.3 1.8 4.4 1.8-.1 1.8-6.9 1.8 1.6 1.8-.1 1.8 0 1.8-.6 1.8-4.7 1.8-.1 1.8 3.3 1.8 2.4 1.8 1.1 1.8 1.5 1.8-1.7 1.8 1.6 1.8 3 1.8 .3 1.8-.4 1.8-.3 1.8 2.1 1.8 2.4 1.8 .7 1.8 1.7 1.8-.9 1.8 .4 1.8 4.7 1.8 3.6 1.8-1.2 1.8-1.2 1.8-1.8 1.8-1.9 1.8-1.6 1.8-1.4 1.8-3.7 1.8 1.4 1.8-.5 1.8-2.3 1.8-4.4 1.8-.2 1.8-2.8 1.8-3.1 1.8-1.5 1.8-1.4 1.8 4.2 1.8 .7 1.8-8.6 1.8-2 1.8 1.7 1.8 2.1 1.8-8.2 1.8-1 1.8 .1 1.8 .5 1.8 1.7 1.8 2.6 1.8-4.5 1.8 2 1.8 10.7 1.8-6.6 1.9-3.7 1.8-3.4 1.8 1.7 1.8-2.1 1.8 1.1 1.8 2.3 1.8 3.4 1.8 1.2 1.8 1.5 1.8-2.1 1.8-2.1 1.8-.9 1.8-.6 1.8 .5 1.8 4.3 1.8 .9 1.8-2.1 1.8-1.1 1.8 2.6 1.8 1.8 1.8 0 1.8-.7 1.8-1.6 1.8-1.6 1.8 .7 1.8 1.7 1.8 1.4 1.8 4.6 1.8-.7 1.8-.5 1.8-.5 1.8-1.4 1.8 .3 1.8 1.8 1.8-.6 1.8 1.4 1.8 2.7 1.8 .2 1.8-1.2 1.8 0 1.8 .7 1.8 2.1 1.8-.4 1.8-.8 1.8 3.5 1.8 1.6 1.8-3.7 1.8 .1 1.8-.4 1.8 4.3 1.8 3.4 1.8-2.4 1.8-.2 1.8 .8 1.8 1.5 1.8 .5 1.8-2.2 1.8-.8 1.8 4.2 1.8-4.8 1.8 .3 1.8 5.4 1.8 9.9 1.8 8.9 1.8 1.1 1.8 1.1 1.8 2.7 1.8-2.7 1.8 2.1 1.8-.2 1.8 1.2 1.8-1.2 1.8-1.1 1.8-2.1 1.8 2.3 1.8 .5 1.8 2.8 1.8-.9 1.8-3.7 1.8 3.3 1.8 1.2 1.8 .5 1.8 .8 1.8 2 1.8 .4 1.8-1 1.8-2.7 1.8 3.3 1.8 2.9 1.8-1.8 1.8 2.4 1.8-1.5 1.8 .5 1.8 1.1 1.8 4 1.8-1.2 1.8-.5 1.8 2.1 1.8-3.1 1.8 3.3 1.8 1.1 1.8-2.1 1.8 1.4 1.8 1 1.8 5.3 1.8 3 1.8-2 1.8-1.4 1.8-1.7 1.8 1.5 1.8 .2 1.8-2.9 1.8-.5 1.8 1 1.8 .5 1.8 5.9 1.8-.5 1.8-1.9 1.8-.7 1.8 .9 1.8 1.5 1.8 1.1 1.8 .6 1.8-2.3 1.8-1.7 1.8-.7 1.8-.3 1.8-3.3 1.8-2 1.8 1 1.8 1.2 1.8 3.8 1.8-2.3 1.8-2.7 1.8 2.8 1.8-.9 1.8-.9 1.8 2.4 1.8 3.9 1.8-3.1 1.8-2.9 1.8-2.6 1.8 4 1.8-3.8 1.8 2.6 1.8 2.3 1.8-1.8 1.8-1.2 1.8-2.3 1.8 3.3 1.8 3.1 1.8-3.3 1.8 3 1.8 4.6 1.8 1 1.8-.8 1.8-.4 1.8-2.2 1.8-1.6 1.8-.4 1.8 1.3 1.8-.5 1.8 3.1 1.8 2.2 1.9 1.6 1.8-.4 1.8-6.4 1.8 1.5 1.8-4.5 1.8 1.4 1.8 2.6 1.8 4.2 1.8-2.4 1.8-1.5 1.8 4.4 1.8-2.8 1.8-4.7 1.8-.7 1.8 1.9 1.8-.6 1.8 1.5 1.8 2.7 1.8-2.2 1.8 2.6 1.8 2.6 1.8 1.1 1.8-3.8 1.8-4.1 1.8-3.6 1.8 2.5 1.8 2.2 1.8-3.9 1.8 3.5 1.8 5.7 1.8 2.7 1.8-2.5 1.8-.2 1.8-.3 1.8 4.8 1.8-4.7 1.8 0 1.8 3.1 1.8-.4 1.8-.7 1.8-1.1 1.8-.2 1.8-1.9 1.8 3.8 1.8 4.6 1.8-2.9 1.8 .3 1.8-.8 1.8-.1 1.8-.9 1.8-.7 1.8 1.2 1.8 .7 1.8 .8 1.8-2.5 1.8 1.9 1.8-.5 1.8 2.8 1.8 1.5 1.8-.1 1.8-1 1.8-.5 1.8 1.4 1.8-.4 1.8 1.1 1.8-.4 1.8 .2 1.8-1.4 1.8-1.7 1.8-.6 1.8 3.5 1.8 2.3 1.8-1.8 1.8 1.7 1.8-.1 1.8-.2 1.8-1.3 1.8 .2 1.8 3.2 1.8 2 1.8 3.6 1.8 .7 1.2-2.7 0 33.5-1.2-.6-1.8-.3-1.8-.2-1.8 1.1-1.8 .8-1.8 1.6-1.8-1.4-1.8-2.1-1.8-2-1.8-.2-1.8 2.1-1.8 .9-1.8 0-1.8-1.5-1.8-1.6-1.8 .4-1.8 .9-1.8 1.3-1.8 11.2-1.8 11.8-1.8 8.9-1.8 3.7-1.8-5.9-1.8-10.8-1.8-13.3-1.8-3.5-1.8-1.7-1.8-2.2-1.8 .8-1.8 .8-1.8 .5-1.8 .3-1.8 .5-1.8 .6-1.8 .2-1.8-.8-1.8 .9-1.8 2.1-1.8-2.3-1.8-7.4-1.8-4.2-1.8-.9-1.8-1-1.8-.6-1.8-.2-1.8-.2-1.8 2.2-1.8 3.7-1.8-.3-1.8 0-1.8 2-1.8 2.5-1.8 3.1-1.8 1.3-1.8 1.4-1.8 1.1-1.8-.7-1.8-1.8-1.8-1.1-1.8-.6-1.8 1.8-1.8 .6-1.8 .6-1.8 0-1.8-.4-1.8-2.8-1.8 .2-1.8 .6-1.8 .1-1.8-.9-1.8-1.2-1.8-.5-1.8-.4-1.8 1.3-1.8 .3-1.8-2.5-1.8 .1-1.8 .7-1.8 1.3-1.8 0-1.8-2.1-1.8 .2-1.9 1.8-1.8-.3-1.8-.1-1.8 2.6-1.8 3.6-1.8 3.2-1.8 .7-1.8 2.7-1.8-2.5-1.8-1.9-1.8-3-1.8-3.1-1.8-4-1.8-3-1.8-2.2-1.8-2.3-1.8-.3-1.8-.8-1.8-2.3-1.8-.3-1.8 .5-1.8 .3-1.8 .3-1.8 3.6-1.8 0-1.8-.5-1.8-2.5-1.8-1.6-1.8 .9-1.8-.2-1.8-.2-1.8-.6-1.8-.1-1.8 1.3-1.8-.1-1.8-.8-1.8 .1-1.8 .2-1.8 1.9-1.8-.1-1.8-.9-1.8-1-1.8-.8-1.8-.4-1.8 .8-1.8 1.9-1.8-1.1-1.8-.5-1.8 .5-1.8-1.3-1.8-.7-1.8-1.7-1.8-.4-1.8 2.1-1.8 0-1.8-.5-1.8-1.3-1.8-.5-1.8-.4-1.8 1-1.8 1.8-1.8-3.4-1.8-1.5-1.8 1.9-1.8 2.2-1.8 2.4-1.8-1.6-1.8-1.3-1.8 1.9-1.8-.7-1.8-1.1-1.8-2-1.8-1.6-1.8-1.3-1.8-1-1.8-.8-1.8-3.4-1.8-1.6-1.8 1.5-1.8-.8-1.8-2.1-1.8-.4-1.8-.7-1.8-.5-1.8 .9-1.8 1-1.8-1.4-1.8-1-1.8-.7-1.8-1-1.8-1.7-1.8 .4-1.8 .1-1.8-1-1.8 .8-1.8 1.7-1.8-1.6-1.8-.6-1.8 .4-1.8-3.4-1.8-3.5-1.8-5-1.8-4.4-1.8-.8-1.8 .2-1.8 .1-1.8-.8-1.8-.5-1.8 2.3-1.8-.8-1.8-1.1-1.8 2.5-1.8 2-1.8-.4-1.8-.3-1.8-.3-1.8-1.2-1.8-.3-1.8 2-1.8 .9-1.8 1.2-1.8-.9-1.8-1.7-1.8-1.7-1.8-.4-1.8 1.3-1.8-.7-1.8 .6-1.8 3.4-1.8-1.7-1.8-3.4-1.8-2-1.8-.7-1.8 .5-1.8 1.5-1.8 2.7-1.8 0-1.8 .5-1.8-1.2-1.8-.5-1.8-1.7-1.8-.1-1.8-.2-1.8 .5-1.8-.1-1.8 0-1.8-.3-1.8 .2-1.8-1.3-1.8 1.6-1.8 1.9-1.8-.7-1.8-1.3-1.8-3-1.8-.3-1.8 .3-1.8 2.8-1.8 1.3-1.8-.6-1.8 1-1.8 1.3-1.8-.9-1.8-.9-1.8 1.2-1.9-.2-1.8 0-1.8 0-1.8 0-1.8-.4-1.8-.8-1.8-1.7-1.8-2.1-1.8-.6-1.8 1.7-1.8 .3-1.8-.1-1.8-1.1-1.8 .4-1.8 3.6-1.8 1.1-1.8 .1-1.8-.7-1.8-.8-1.8-1.9-1.8 .7-1.8 1.6-1.8-.2-1.8-.5-1.8-1.5-1.8 1-1.8 1.6-1.8 1.4-1.8 .1-1.8-3.3-1.8-.4-1.8-.5-1.8-1-1.8-.7-1.8 .4-1.8-.3-1.8-1.1-1.8 1.8-1.8 .6-1.8-1.9-1.8 .2-1.8 .5-1.8-.5-1.8-.1-1.8 2.5-1.8-.1-1.8-.6-1.8 .7-1.8 0-1.8-2.5-1.8-.6-1.8 .3-1.8 .4-1.8 .2-1.8 .4-1.8 0-1.8 .7-1.8-.9-1.8 .7-1.8 3.8-1.8-.2-1.8-1-1.8-.9-1.8-.7-1.8-1.1-1.8-1-1.8-.3-1.8 1.6-1.8 1-1.8-.9-1.8-.9-1.8-1.1-1.8 1.7-1.8 1.5-1.8 2.3-1.8-2.4-1.8-4.1-1.8-1.1-1.8-.7-1.8 .6-1.8-.9-1.8-.2z" fill="#B9529F"/>
<path d="M99 1444.4l.6 17.1 .6-.5 .6-.2 .6-4.5 .6 15.9 .6-15.2 .6 3.7 .6-10.6 .6-.6 .6 23.7 .6-16.9 .6-4.7 .6-.6 .6 12.6 .6-1.1 .6 13.4 .6-31.5 .6 23.8 .6 12.4 .6-43.7 .6-2 .6 45.3 .6-10.6 .6 9.4 .6-31.7 .6 30.9 .6-45.9 .6-.6 .6 30.1 .6 9.1 .6 4.9 .6-12.5 .6-15.3 .6 11.2 .6 16.3 .6-42.6 .6-6.4 .6 17.5 .6 17.6 .6 17.4 .6-54.8 .6 16.1 .6 37 .6-33 .6-28.6 .6 3.9 .6-4.1 .6-9.3 .6 44.8 .6-41.9 .6 68.6 .6-72.2 .6-8.3 .6 21.6 .6 50.3 .6-16.5 .6 26 .6-10.7 .6-44.4 .6-4.2 .6 13.9 .6 26.2 .6-8.9 .6-21.9 .6 29.3 .6-25.4 .6 17.8 .6-22 .6 49.4 .6-36 .6 17.9 .6-31.3 .6 33.6 .6 15.6 .6-.2 .6-10.1 .6-46 .6 46.9 .6 .1 .6-26.7 .6 18 .6-6.4 .6 21.6 .6-52.9 .6 9.2 .6 31 .6-14.5 .6-12.8 .6 31.7 .6-49.3 .6 12.3 .6 46.5 .6-31.5 .6 4.3 .6-9.3 .6-19.1 .6 57.2 .6 .6 .6 1.1 .6-56.3 .6 55.7 .6 0 .6-55 .6 10.8 .6 9.7 .6 33.5 .6-19.8 .6-27 .6-8.1 .6 24.6 .6-3.3 .6 26.3 .6-42 .6 2.1 .6 29.9 .6-25.9 .6 42.2 .6-49.3 .6 49.1 .6 .1 .6 .4 .6-49.7 .6 49.3 .6-48.1 .6 28.5 .6-19.9 .6-6.8 .6 .8 .6 31.3 .6-30.5 .6 3.4 .6 36.5 .6 5.1 .6-11.5 .6-5.3 .6-4.5 .6 12.9 .6-12.6 .6-23 .6 44.7 .6-.8 .6-33.7 .6-5.4 .6 .3 .6 2.1 .6 1.4 .6 35.5 .6-34.8 .6 .8 .6 25.3 .6 9.3 .6-3 .6-19 .6 13.6 .6-30.8 .6 2.7 .6 39.1 .6-32.2 .6-11.8 .6 7.1 .6 32.7 .6-40.9 .6 3.6 .6-4.5 .6 8.7 .6-10.4 .6 10.1 .6 36.9 .6-50.2 .6 1.3 .6 28.6 .6 19.3 .6 .7 .6-31.2 .6-17.3 .6 48.4 .6-35.4 .6 17.8 .6-31.5 .6-6.2 .6 57.1 .6-18.9 .6 9.5 .6-8.6 .6-41.2 .6 57 .6-40.9 .6 22.9 .6-42.2 .6 16.6 .6 4 .6-22.7 .6-.8 .6-1.2 .6 67.8 .6-1.4 .6-48.7 .6 13.3 .6 31.4 .6-54.8 .6 38.7 .6 16.3 .6-7.9 .6-2.8 .6-49.4 .6-7.2 .6 57.9 .6-18.3 .6 10.2 .6 18.6 .6-64.4 .6 24.5 .6-17.2 .6 57.4 .6-72.3 .6 45.3 .6-23.6 .6 21.3 .6-29.1 .6 5.3 .6-21.9 .6 19 .6 9.5 .6 46.2 .6-23.1 .6-38.7 .6-8.4 .6 60.3 .6-59.1 .6-1.5 .6 49.5 .6-22.1 .6 16.7 .6 29.7 .6-11.2 .6-5.5 .6 16.4 .6 .1 .6-21.6 .6-15.5 .6-28.5 .6 65.5 .6-47.6 .6-22.5 .6 51.1 .7-55.5 .6 55.2 .6-5.6 .6-3.5 .6-32.4 .6 60.5 .6-24.5 .6-52.2 .6 75.1 .6-55.1 .6 8.7 .6-30.3 .6 .6 .6 .8 .6 70.9 .6-69.1 .6 74 .6-13.5 .6-24.2 .6 20.1 .6-52.6 .6 13.9 .6-11.3 .6 65.2 .6-32.5 .6 31.4 .6-32.2 .6 6.8 .6-41.7 .6 36.4 .6 5.1 .6-42.9 .6-.8 .6 31.1 .6-20.1 .6 15 .6 21.3 .6 26.5 .6-74.3 .6 75.4 .6-1.1 .6-69.4 .6-.4 .6 6.2 .6 51.9 .6-57.3 .6 66.4 .6-65.9 .6 59.8 .6-61.8 .6 68.9 .6-53.4 .6 34 .6 5.3 .6-53.7 .6 20.4 .6 27.1 .6-45.9 .6 36.1 .6 30.6 .6-64.6 .6 4.1 .6 60.2 .6-49 .6 2.3 .6 44 .6-62 .6 64.5 .6-27.3 .6 27.2 .6-70 .6 35.3 .6-21.3 .6 40.1 .6-52 .6 70.7 .6-30.1 .6-39.2 .6 55.8 .6-36 .6-3.3 .6 33.1 .6-5.1 .6 24.7 .6-1.8 .6-63.2 .6-.7 .6 16.5 .6 40.2 .6-4.6 .6-37.2 .6 25.7 .6-28.4 .6 33.9 .6-5 .6 20.7 .6-63.1 .6 .9 .6 56.3 .6-25.6 .6-30 .6 14 .6 32.5 .6-46.7 .6 68.8 .6-24 .6-17.2 .6 39.5 .6-5.1 .6-56.9 .6 8 .6-.6 .6 53.2 .6-61.9 .6-.7 .6 15.1 .6 44.8 .6-15.7 .6-23.5 .6-21 .6 1.1 .6 .6 .6 60.3 .6-17.1 .6 14.4 .6-55.6 .6 62.2 .6-.2 .6-44 .6 45.2 .6-37.4 .6-26.3 .6 22.4 .6 39.5 .6-1.1 .6-5.2 .6-53.7 .6 55.9 .6-55.3 .6-2.8 .6 33.9 .6-28.4 .6 54.5 .6 1 .6-55 .6-4.5 .6 12.5 .6 23.4 .6-13.9 .6 2 .6 28.6 .6-46.7 .6 10.3 .6-12.5 .6 51 .6-22.3 .6 18.3 .6-44.7 .6 33.9 .6-3 .6 18.4 .6 1.5 .6-50.9 .6-.2 .6 6.6 .6-6.3 .6 51.7 .6-1.7 .6-44.5 .6 16.4 .6 2.3 .6 26.1 .6-22 .6 22.7 .6-13.3 .6-37.2 .6 50.4 .6-.1 .6-22.5 .6-31.5 .6 54.3 .6-50.7 .6 32.2 .6 4.6 .6-1.1 .6-26.9 .6 4.6 .6 1.7 .6 43.5 .6-7.8 .6 8.2 .6-31.5 .6 34.5 .6-28.6 .6 15.7 .6 9.5 .6-8.7 .6-8.5 .6 20.4 .6-12.8 .6-24.9 .6-.8 .6 .8 .6 38.5 .6-36.9 .6 22.1 .6 10.3 .6-32.8 .6 39.4 .6-6.7 .6 8.6 .6-26.7 .6 27.6 .6-1.4 .6-8.2 .6-17.8 .6 6.5 .6 21 .6-45.9 .6 34.5 .6-17.6 .6 5.1 .6-6.6 .6 22.3 .6-16.7 .6 26.8 .6-29.4 .6 22.9 .6-16.2 .6 11.3 .6-20.6 .6 33.9 .6 .6 .6-40.6 .6 38.1 .6-18.9 .6 21.8 .6-1 .6-39.9 .6-4.6 .6 3.8 .6 13.9 .6-17.3 .6 42.5 .6-15.8 .6-17.6 .6 35.7 .6-5.5 .6-4.8 .6-4.7 .6 15.8 .6-2.4 .6 4.6 .6-16.9 .6-2.1 .6-25.7 .6 22.4 .6 21.2 .6 0 .6-41.6 .6 5 .6 12.5 .6 26.4 .6 1.2 .6-6.6 .6 8.6 .6-47.6 .6 22.3 .6 25.6 .6-34.9 .6 17.1 .6 19.5 .6-3.3 .6-18.3 .6-26.3 .6 41.5 .6-35.7 .6-5.4 .6 14.2 .6 37.7 .6-18.5 .6-14 .6 15.4 .6-5.7 .6 24.4 .6 .1 .6-18.3 .6-33.7 .6 47.8 .6 1.4 .6-17.1 .6-15 .6 13.4 .6 22 .6-52.8 .6 16.6 .6 35 .6-43 .6 23.2 .6 12.4 .6-24 .6 27.9 .6-15.3 .6 14.1 .6-18.8 .6 12 .6-26.7 .6 35.8 .6-44.8 .6 47.7 .6-22.3 .6-6.8 .6-10.8 .6 14.1 .6 22.8 .6 0 .6-24.3 .6 10.1 .6 14.2 .6-37.3 .6 13.4 .6-15.7 .6-.4 .6 41.6 .6-39.5 .6 39.2 .6-19 .6-15.1 .6-5.5 .6 21.8 .6 16.6 .6 1.6 .6-42.7 .6 15.8 .6-17.5 .6-.7 .6 23.4 .6 1.3 .6 13 .6-35.4 .6-1.2 .6 30.8 .6-19.2 .6 6.4 .6 28.5 .6 .3 .6-37.8 .6-1.5 .6 38.3 .6-.4 .6 .7 .6-10.7 .6 11.5 .6 .2 .6-23.1 .6-15.3 .6-.8 .6 22.5 .6 1.5 .6 3.3 .6-27 .6 37.2 .6-19.7 .6-.6 .6 2.1 .6-18.8 .6 6 .6-3.2 .6 35.3 .6 1.2 .6-5.5 .6-29.8 .6-8.7 .6 5.1 .6 19.9 .6-25.2 .6 1 .6 3.7 .6 38 .6-.6 .6 .8 .6 .1 .6-43.5 .6-5.5 .6 14.5 .6 22 .6 12.8 .6-43.3 .6 20.3 .6-24.5 .6 47.5 .6-.5 .6-17.7 .6 7.7 .6-31.5 .6 40.4 .6-20.5 .6-25 .6 46.5 .6-46.9 .6 2.3 .6 .6 .6-.2 .6 44.1 .6-1.5 .6-12.9 .6-29.7 .6-2.5 .6 42.8 .6-24.5 .6 28.2 .6-35.7 .6 0 .6-5.3 .6 .7 .6 44.8 .6-6.5 .6 .9 .6-13.2 .6-18.3 .6 26.6 .6 9.7 .6-23.7 .6 21.1 .6-10.8 .6-11 .6 11.6 .6-23.1 .6 20.9 .6 3.7 .6 7 .6 .5 .6-40.6 .6 34.5 .6 .1 .6-.9 .6 6.5 .6-23.6 .6 26.3 .6 1.2 .6-20.3 .6 4.2 .6 16.1 .6-33.6 .6 24.7 .6 6.3 .6-48.2 .6 1.8 .6 32.3 .6 17.2 .6-21.2 .6-.9 .6-10.8 .6 39.5 .6-56.4 .6 59.1 .6 1.6 .6-26.3 .6-27.2 .6 11.7 .6 46.5 .6-52.5 .6 12.4 .6-17 .6 54.4 .6-52.3 .6-2 .6 49 .6-30.9 .6 32.5 .6-44.8 .6-8.2 .6 47.9 .6 6.4 .6-16.7 .6 23.2 .6-53.6 .6 39.6 .6-24.4 .6-24.3 .6 57.4 .6-12.6 .6-25.7 .6 35.7 .6-47.8 .6 15 .6 33.1 .6-.5 .6-40.3 .6 40.6 .6-7.2 .6-32.8 .7-7.7 .6 1.1 .6 .1 .6-1.8 .6 2.5 .6 16.3 .6 7.2 .6 7.3 .6 10.9 .6-49 .6 27.4 .6 4.3 .6-35.9 .6 55.6 .6-7.8 .6-11.8 .6 18.2 .6 .9 .6 .4 .6-51.2 .6 32.8 .6 9.5 .6-37.2 .6-1.8 .6 41.8 .6-26.4 .6-19.2 .6 .7 .6 8.2 .6 38.1 .6-42.1 .6 48.2 .6-36.9 .6 19.1 .6 18.3 .6-18.7 .6-18.2 .6-11.1 .6 18.5 .6-27.4 .6 51.1 .6-35.5 .6 42.5 .6-56.5 .6 27 .6 27.6 .6-52 .6 5.4 .6-3.9 .6-2.1 .6 1.6 .6 8.3 .6-.5 .6-8.8 .6 43.4 .6 3 .6-17.6 .6-26.9 .6 37.5 .6 16.5 .6-27.6 .6 .9 .6 27.2 .6-.4 .6-30.5 .6-12.1 .6 40.6 .6-5.1 .6-50 .6-.6 .6-2.9 .6 60.1 .6 .4 .6-49.6 .6 50.3 .6-60.9 .6 14.6 .6 27.3 .6-39.5 .6 21.8 .6 .9 .6 35.9 .6-56.4 .6 55.8 .6-57.9 .6 14 .6 42.8 .6-51.9 .6 13.3 .6-10.8 .6 .9 .6 17.5 .6 25.4 .6-10 .6-35.4 .6 .1 .6 40 .6 1.6 .6-26.3 .6 8.6 .6 19 .6-40.3 .6 31.5 .6-6.7 .6-15.8 .6-12.1 .6 37 .6-1 .6 1.5 .6-8.8 .6-9.8 .6 18.9 .6-30.6 .6 .8 .6-6.1 .6 .1 .6-.6 .6 .2 .6 36.9 .6-15.6 .6 13.6 .6-8.9 .6-27.1 .6 5.2 .6 12.7 .6 23.9 .6-32.1 .6-9.5 .6-.7 .6 42 .6-17.9 .6-17.2 .6 24 .6-2.1 .6 23.9 .6-8.7 .6 7.6 .6-43.5 .6-3.5 .6 15.9 .6-10.5 .6 41.4 .6 .3 .6-47.6 .6 33.1 .6-24.3 .6-9.8 .6-.7 .6 48.9 .6-49.6 .6 18.8 .6-17.7 .6 3 .6 23.4 .6 15.1 .6-41.2 .6 1.3 .6 45.7 .6-24.1 .6-21.3 .6 43.6 .6-46.1 .6-.1 .6 31.7 .6 14.9 .6 2.3 .6-15.8 .6-22.6 .6 25.9 .6-33.9 .6 .7 .6 47 .6 4.5 .6-1.8 .6-28.9 .6 31.5 .6-12.2 .6-16.4 .6 24.6 .6 29.8 .6-65.4 .6 69.3 .6-19.2 .6-8.3 .6 19.4 .6-53.3 .6 40.2 .6-8.5 .6-2 .6-6.1 .6-41.2 .6 44.3 .6-3 .6 0 .6-17.4 .6-23.8 .6 39.4 .6-2.4 .6-7.1 .6 0 .6-31.1 .6 30.1 .6-10.6 .6-21.1 .6 43 .6-31.9 .6-7.7 .6 38.7 .6 2.6 .6 .6 .6-.4 .6-.4 .6-6.7 .6-27.7 .6 14.5 .6 1 .6 3.4 .6-7.7 .6 18.2 .6-35.2 .6 37.9 .6-23.9 .6 25.4 .6-39.3 .6 40.8 .6-20.5 .6 22.6 .6-21.7 .6 5.8 .6-29.1 .6 44.9 .6-35.7 .6-7.9 .6 25.5 .6 15.9 .6-9.6 .6-27.7 .6 36.9 .6-35.4 .6 35 .6-29.5 .6 29.3 .6-1.9 .6 2.7 .6-1.8 .6-12.1" class="a"/>
<path d="M689 1593.9l.4-86.7 .4 29.5 .4 57.9 .4-17.9 .4 12 .4-49.3 .4-23 .4 77.8 .4-37.8 .4-52.2 .4 89.8 .4-36 .4-15.9 .4 52.9 .4-39.7 .4 24.9 .4-66.3 .4-.9 .4 86 .4-93.7 .4 11.6 .4 83.1 .4 1.1 .4-71 .4-24.6 .4-.2 .4 17.5 .4 27.8 .4 51.4 .4-97.2 .4 48.3 .4-48.2 .4 89.9 .4-89.2 .4 28.6 .4 68.2 .4 .9 .4-97.3 .4 85.8 .4-85.5 .4 97.6 .4 .5 .4-18.8 .4-78.5 .4 26.4 .4 5.1 .4 42.9 .4-55.3 .4-21.1 .4 5.2 .4 71 .4-26.1 .4-6.5 .4 55.3 .4-46.8 .4-35.7 .4 83.1 .4-60.9 .4 61.3 .4-70.3 .4 70.7 .4-70.1 .4 70 .4 .1 .4 .3 .4-5.8 .4-87 .4-18.1 .4 106.6 .4-107.7 .4 81.4 .4-5.1 .4-59.6 .4-14.1 .4 111.5 .4-116.4 .4 .5 .4 72.7 .4-4.8 .4 49 .4-119.1 .4 115.7 .4-90.8 .4 50.9 .4 23 .4 19.7 .4-51.6 .4 51.9 .4-18.5 .4-105.8 .4 118.9 .4-1.7 .4 2.6 .4-69.6 .4 71 .4-125.3 .4 126.5 .4-127.1 .4 103.9 .4 22.8 .4-.8 .4 .8 .4-17.6 .4-56.9 .4-54.8" class="a"/>
<path d="M713.4 1480l.4-45 .2 9 .2 9 .3 37" class="a"/>
<path d="M719.3 1600l.2 53.6 .3-53.6" class="a"/>
<path d="M99 1481.4l1.8-.4 1.8-.7 1.8 1.7 1.8 1.8 1.8 .7 1.8-9.1 1.8-7.9 1.8-6.2 1.8-7.4 1.8-7.6 1.8-6.4 1.8-6.2 1.8-2.9 1.8-2.7 1.8 .1 1.8 .4 1.8-1 1.8 .3 1.8 .5 1.8 .4 1.8 1 1.8 .7 1.8 .7 1.8 .6 1.8-1.2 1.8-1.4 1.8 .2 1.8 .5 1.8-.3 1.8-.1 1.8 .6 1.8 .5 1.8 .4 1.8 .3 1.8 0 1.8 .1 1.8 .2 1.8 .3 1.8 1.2 1.8 1.3 1.8 0 1.8-.2 1.8 .8 1.8 .6 1.8 0 1.8 .1 1.8 .2 1.8 .5 1.8 1 1.8 .9 1.8 0 1.8-.3 1.8 .3 1.8 .2 1.8 0 1.8-.3 1.8-1.3 1.8-1.7 1.8-2 1.8-1.7 1.8-.1 1.8 .1 1.8-.4 1.8-.4 1.8-1 1.8-1.1 1.8-.7 1.8-.7 1.8-.4 1.8-.5 1.8 .2 1.8 .1 1.8-.6 1.8-.4 1.8-.9 1.8-.5 1.8-.6 1.8-.5 1.8-1 1.8-1.1 1.8 0 1.9 .3 1.8 1.3 1.8 1.2 1.8 0 1.8-.2 1.8-.1 1.8-.1 1.8-.3 1.8-.2 1.8 .1 1.8 .2 1.8 .3 1.8 .2 1.8-.1 1.8-.2 1.8 .6 1.8 .8 1.8-.2 1.8 0 1.8 .9 1.8 .7 1.8 .1 1.8 .3 1.8 1.4 1.8 1.3 1.8 1.3 1.8 1.1 1.8 .3 1.8 .1 1.8-.7 1.8-.7 1.8 1.4 1.8 1.5 1.8 .1 1.8 .1 1.8 .1 1.8 .2 1.8-.1 1.8-.2 1.8 1.1 1.8 .9 1.8-.1 1.8-.1 1.8-.8 1.8-.7 1.8 .7 1.8 .5 1.8 .1 1.8 .1 1.8 0 1.8 .3 1.8 .9 1.8 .8 1.8-.1 1.8-.4 1.8 .5 1.8 .6 1.8-.6 1.8-.7 1.8 .9 1.8 .6 1.8 0 1.8 3.5 1.8 5.4 1.8 5.7 1.8 2.9 1.8 .9 1.8-.4 1.8-.5 1.8-.3 1.8-.4 1.8 .2 1.8 .1 1.8 .8 1.8 .8 1.8-.6 1.8-.4 1.8 1 1.8 .8 1.8-.4 1.8-.4 1.8-.3 1.8 .1 1.8 .6 1.8 .7 1.8-.3 1.8-.5 1.8 .7 1.8 1.1 1.8 2.1 1.8 2 1.8 2.3 1.8 .1 1.8-.3 1.8-.3 1.8-1.6 1.8-.3 1.8 4 1.8 .4 1.8 .2 1.8 .3 1.8-1.1 1.8-1.2 1.8-.1 1.8 3.5 1.8 2.4 1.8 .1 1.8 .9 1.8 1 1.8-1.1 1.8-1 1.8 1.2 1.8 1.2 1.8-.6 1.8-.7 1.8 1 1.8 1.1 1.8 .6 1.8 .6 1.8 0 1.8-.2 1.8-1.3 1.8-1.2 1.8 .4 1.8 .5 1.8-.2 1.8-.2 1.8 1 1.8 1 1.8-1 1.8-1 1.8-.5 1.8-.3 1.8 .4 1.8 .5 1.8-.2 1.8-.2 1.8 .4 1.8 .2 1.8-.7 1.8-1.1 1.8-2 1.8-.6 1.8-.3 1.8-.3 1.8 1 1.8 1.1 1.8-1.1 1.8-.9 1.8 1.2 1.8 3 1.8 2 1.8 1.5 1.8 .1 1.8 .1 1.8 .4 1.8 .3 1.8-.1 1.8 0 1.8 .5 1.8 .5 1.8-.2 1.8-.2 1.8-.5 1.9-.6 1.8 .6 1.8 .6 1.8-.5 1.8-.6 1.8 .4 1.8 .5 1.8-1.2 1.8-.9 1.8 .7 1.8 .7 1.8 .9 1.8 .9 1.8-1.1 1.8-1.2 1.8 1.2 1.8 .8 1.8-.4 1.8-1.1 1.8-3.8 1.8-3.5 1.8-.4 1.8-.2 1.8 1.9 1.8 1.7 1.8-.4 1.8-.7 1.8 .4 1.8 2.2 1.8 2.9 1.8 2 1.8 0 1.8 .2 1.8 .7 1.8 .4 1.8-.2 1.8-.7 1.8-.2 1.8 .1 1.8-.3 1.8 0 1.8 1.3 1.8 1.3 1.8 .5 1.8 .5 1.8-.9 1.8-.9 1.8 1 1.8 .9 1.8 .8 1.8 1 1.8 .5 1.8 .5 1.8-.4 1.8-.6 1.8 .6 1.8 .7 1.8 .6 1.8 .5 1.8-.3 1.8-.5 1.8 .6 1.8 .8 1.8 .4 1.8 .6 1.8 .8 1.8 .8 1.8-.8 1.8-1 1.8 .1 1.8 .1 1.8 1.2 1.8 1.1 1.8 .2 1.8 .2 1.8-.3 1.8-.1 1.8 .3 1.8 .2 1.8 1.1 1.8 1 1.8 .4 1.2 .4 0 32.9-1.2 .4-1.8 .4-1.8-.2-1.8-.5-1.8-1-1.8-.7-1.8 .1-1.8 .4-1.8 .1-1.8-.1-1.8 1.2-1.8 .7-1.8-1-1.8-1-1.8-.9-1.8-.5-1.8 1.3-1.8 1.4-1.8 5.9-1.8 5.9-1.8 3.5-1.8 1.1-1.8-3.9-1.8-5-1.8-5.1-1.8-1.3-1.8 0-1.8 0-1.8-.8-1.8-.9-1.8-.7-1.8-.7-1.8-.6-1.8-.5-1.8 .2-1.8 .1-1.8-.8-1.8-.8-1.8 .2-1.8 .5-1.8 1.1-1.8 1.1-1.8 .2-1.8-.2-1.8-1-1.8-1-1.8-.2-1.8-.1-1.8-.5-1.8-.6-1.8-.6-1.8-.5-1.8-.2-1.8-.2-1.8 .7-1.8 .6-1.8-.4-1.8-.2-1.8 .2-1.8 .3-1.8-1.2-1.8-1.2-1.8 .9-1.8 .9-1.8 0-1.8 .1-1.8-.5-1.8-.2-1.8 0-1.8 0-1.8 .3-1.8-.1-1.8 0-1.8-.1-1.8 .8-1.8 .6-1.8-.7-1.8-.6-1.8 .2-1.8 .2-1.8 .1-1.8 0-1.9-.6-1.8-.7-1.8 .2-1.8 3.9-1.8 4.1-1.8 4-1.8 3.1-1.8 3.2-1.8-3.2-1.8-3.4-1.8-5.6-1.8-5.6-1.8-4.8-1.8-.8-1.8-.3-1.8-.4-1.8-1.2-1.8-1.6-1.8-1.7-1.8-1.7-1.8-.1-1.8 0-1.8 .9-1.8 .7-1.8-.9-1.8-.8-1.8-.7-1.8-.7-1.8 .3-1.8 .4-1.8 .3-1.8 .5-1.8-.1-1.8 0-1.8-.4-1.8-.7-1.8-.1-1.8-.1-1.8 1.2-1.8 1.2-1.8-.1-1.8-.2-1.8-.9-1.8-.9-1.8-.3-1.8-.3-1.8 0-1.8-.1-1.8-1.1-1.8-1-1.8 .7-1.8 .8-1.8 .2-1.8 0-1.8-.9-1.8-.9-1.8 .9-1.8 1-1.8-.2-1.8-.2-1.8 .4-1.8 .4-1.8-.1-1.8-.3-1.8-.9-1.8-1.2-1.8-.9-1.8-1.4-1.8 .3-1.8 .6-1.8-.9-1.8-.9-1.8-.7-1.8-1.1-1.8-.4-1.8-.5-1.8-.8-1.8-.7-1.8-1.7-1.8-.7-1.8 .9-1.8 .9-1.8 .1-1.8 0-1.8 .7-1.8 .8-1.8 .6-1.8 .6-1.8 0-1.8 .1-1.8-.1-1.8-.1-1.8 1-1.8 .8-1.8-1.3-1.8-3.7-1.8-3.1-1.8-2.8-1.8-1.3-1.8-1.4-1.8-2.9-1.8-3.2-1.8-1.8-1.8 0-1.8 .6-1.8 .6-1.8-.5-1.8-.9-1.8-.7-1.8-.5-1.8-.7-1.8-.6-1.8 .6-1.8 .6-1.8 .1-1.8 0-1.8-1-1.8-.9-1.8 .3-1.8 .3-1.8-.1-1.8 .1-1.8 0-1.8 0-1.8-.1-1.8 0-1.8 .2-1.8 .2-1.8 1.6-1.8 1.2-1.8-1.3-1.8-1.5-1.8 .4-1.8 .7-1.8-1-1.8-.9-1.8 .4-1.8 .2-1.8 .9-1.8 .7-1.8-1.1-1.8-1.2-1.8-.3-1.8-.1-1.8-.3-1.8-.3-1.8 .6-1.8 .6-1.8 .8-1.8 1-1.8-.9-1.8-.9-1.8 .6-1.8 .2-1.8-.4-1.8-.4-1.8-.4-1.8-.1-1.8 1.1-1.8 1.2-1.8 .3-1.8 0-1.8-.5-1.8-.4-1.9 .2-1.8 .1-1.8 .2-1.8 0-1.8-.2-1.8-.1-1.8 .5-1.8 .6-1.8-1.2-1.8-1.2-1.8 .7-1.8 .7-1.8 0-1.8-.1-1.8-1.1-1.8-1-1.8 .6-1.8 .6-1.8-.6-1.8-.6-1.8 .1-1.8 .2-1.8-.3-1.8-.2-1.8 .9-1.8 .6-1.8 .1-1.8-.1-1.8-.2-1.8-.1-1.8-.6-1.8-.4-1.8 .7-1.8 .7-1.8-.1-1.8-.4-1.8-.2-1.8-.3-1.8-.5-1.8-.4-1.8 0-1.8 .1-1.8 1.1-1.8 1-1.8-1.3-1.8-1-1.8 1.2-1.8 1.2-1.8 .4-1.8 .2-1.8-.4-1.8-.5-1.8-.6-1.8-.3-1.8-.5-1.8-.4-1.8 .8-1.8 .7-1.8-.6-1.8-.5-1.8-.4-1.8-.4-1.8 1.1-1.8 1-1.8-.2-1.8-.1-1.8-.3-1.8 .5-1.8 1.8-1.8 1.7-1.8 1.1-1.8 1.2-1.8 2.2-1.8 2.3-1.8 5.2-1.8 13.4-1.8 11.4-1.8-1-1.8 .9-1.8 1.1-1.8 1.1-1.8 .8z" fill="#6ABD45"/>
<path d="M99 1499.6l.6-17.4 .6 35.8 .6-24.2 .6 22.1 .6-33.3 .6 16.4 .6-17.7 .6 6 .6 29.1 .6-27.5 .6-3.7 .6 14.1 .6 7.3 .6-14.3 .6-6.6 .6 27.1 .6-3.9 .6-32.9 .6-1.6 .6 5.8 .6-11.6 .6-1.7 .6 20.1 .6-.8 .6-.3 .6-28.7 .6-2.4 .6 27.9 .6-.2 .6-18.9 .6 17.5 .6-.5 .6-38 .6 5.1 .6 .4 .6 11 .6 .9 .6-26.6 .6 .3 .6-2.3 .6 1.6 .6 21.4 .6 9 .6 3 .6-23.9 .6-6.2 .6 39 .6 .9 .6-1.7 .6-23.3 .6 16.8 .6-34.6 .6 1.2 .6 41.5 .6 .1 .6-46.1 .6 45.2 .6-35.7 .6 34.4 .6-1.7 .6-41.8 .6 17.6 .6 2.9 .6 22.3 .6 1.5 .6-33.6 .6 33.7 .6 .2 .6-42.5 .6 39.9 .6-39.5 .6 .4 .6-.7 .6 40.5 .6 1.7 .6-43.2 .6 36 .6-36.7 .6 22.1 .6-17.6 .6 19.8 .6-4.7 .6-1 .6-18.9 .6 .5 .6 29 .6 13.9 .6 1.4 .6-44.9 .6 19.6 .6 25.4 .6-4 .6-39.9 .6 45.3 .6-34.5 .6-3.7 .6-2.2 .6 10.6 .6-15.4 .6 .9 .6 22 .6 2.4 .6 7 .6-31.5 .6 42.5 .6-22.3 .6 21.6 .6-41.5 .6 40.5 .6-22.3 .6-15.2 .6-2.6 .6 38.7 .6-1 .6-37.9 .6 15.6 .6 22.9 .6-36.1 .6 32.1 .6-2 .6-24.4 .6 32.3 .6-33.2 .6 5.8 .6 28.4 .6-20.3 .6-18.6 .6 38.6 .6-38.1 .6 29.4 .6 9.6 .6-23.5 .6-14.9 .6 38 .6-37.7 .6 4.7 .6 6.5 .6-10.3 .6-.6 .6 22 .6 17.1 .6-13.6 .6-14.9 .6 28.1 .6-3.6 .6-34.5 .6 3.4 .6 9.1 .6 14.3 .6-.7 .6 1.2 .6-25.8 .6 2.9 .6 32.8 .6 .1 .6-2.5 .6-26.1 .6 27.6 .6 .8 .6-14.1 .6 3.6 .6 5.8 .6-30.3 .6 36.5 .6-7.2 .6-30.1 .6 28.7 .6-20.8 .6-8.4 .6-.4 .6 35.8 .6-34.2 .6 34.7 .6-11.6 .6-27.2 .6 7.3 .6-6.7 .6 9.7 .6 12.1 .6 8.2 .6-31.8 .6 30.7 .6 8.9 .6-38.7 .6 25.5 .6 13 .6-42 .6 30.9 .6 11.5 .6-23.8 .6 9.5 .6-28.7 .6 .5 .6 43.2 .6-.5 .6-43.8 .6 6.7 .6-7.9 .6 40 .6-40.6 .6 13.8 .6 33.5 .6-18.5 .6-4 .6-12.6 .6-12.5 .6-.8 .6 48.4 .6-45.5 .6-1.8 .6 47.8 .6-17.2 .6 14.1 .6-29.9 .6-.1 .6-16.3 .6 8.5 .6 40 .6-23.6 .6-16 .6 41 .6-33.5 .6 33.3 .6-50.6 .6-.2 .6-1.2 .6 8.2 .6-7.5 .6 37.4 .6-12.9 .6-3.1 .6 29.1 .6-24.3 .6-27 .6 39.1 .6-34.1 .6 46.3 .6-53.8 .6 23.6 .6 31.2 .6-55.7 .6 9.1 .6 .6 .6 28.9 .6-32 .7 43.5 .6 4.3 .6 .9 .6-53.7 .6 38.2 .6 4.8 .6-41 .6 52.4 .6-30.9 .6-4.4 .6 3.2 .6 31.3 .6-52.5 .6 53 .6-25.8 .6-.9 .6-26.3 .6 10.5 .6 40.4 .6-45.8 .6 27.9 .6 17.4 .6-3.2 .6 2.8 .6-40.8 .6-9.1 .6 49.3 .6 1.6 .6-6.8 .6 7.5 .6-51.6 .6 35.8 .6-.2 .6 16.3 .6-13.8 .6-37.9 .6 50.1 .6-50.2 .6 36.4 .6-36.2 .6 51.4 .6-37.5 .6-13.9 .6 13.8 .6 15.1 .6 8 .6 8.4 .6-29.7 .6-14.7 .6 37.9 .6-11.6 .6-13.5 .6 36.4 .6-26.2 .6 25.6 .6-27.7 .6 6.9 .6-2.1 .6 23.4 .6 .1 .6-35.6 .6 31.8 .6-40.4 .6-3 .6 47.8 .6-47.2 .6-.6 .6 10.5 .6 3.3 .6 12.5 .6 22.6 .6-20 .6-26.5 .6 21 .6 9.1 .6-15.7 .6 17.7 .6-30.1 .6 31.4 .6-2 .6 .3 .6-26.7 .6-1.9 .6 42.1 .6-18.2 .6 17.8 .6 .2 .6 .9 .6 .7 .6-37.1 .6 37.7 .6-17.4 .6-26.9 .6 .7 .6 .3 .6 .6 .6 27.7 .6-27.6 .6 1.8 .6-1 .6 39.1 .6 3.9 .6-19.2 .6-24 .6 42.5 .6-42.7 .6 25.3 .6-13.7 .6-4.4 .6 7.3 .6 25.9 .6 0 .6-3.1 .6-31.3 .6 15.1 .6 11.2 .6 7.4 .6-27.8 .6 13.3 .6-23.5 .6 .2 .6 38.9 .6-8.7 .6 8.9 .6-39.1 .6 .2 .6 .1 .6 2.8 .6 11.5 .6 23.7 .6-33.9 .6-6.4 .6 33.1 .6 7.2 .6-40.1 .6 1 .6 20.5 .6-20.4 .6-.3 .6 22.9 .6-10.2 .6 25.7 .6-28 .6-6.4 .6 34.4 .6-13.5 .6-13.4 .6 29.6 .6-14.5 .6-5.2 .6 9.7 .6-8.1 .6 5.2 .6 6.7 .6-11.9 .6-20.9 .6 26.6 .6 6.1 .6-31.7 .6 37 .6-20.1 .6 6.3 .6 11.9 .6 3.4 .6-38.4 .6 38.2 .6-19.3 .6-19.2 .6 38.1 .6-28.2 .6 6 .6-16.1 .6 26.9 .6-19.7 .6 19.8 .6-4.4 .6-3.7 .6 21.8 .6-9.5 .6 8.1 .6-38.8 .6 .3 .6 18.9 .6 20.3 .6-24.3 .6 25.4 .6 .3 .6-35.2 .6 16.9 .6 3.2 .6-9.8 .6-2.9 .6 20.2 .6-12.7 .6 27.7 .6-26.4 .6 26.4 .6-29.6 .6 30.7 .6-25.7 .6 12.7 .6 16.8 .6-13.8 .6 15 .6 1.6 .6-8 .6 1.4 .6-10.1 .6 21.3 .6-15.9 .6 0 .6 15.3 .6-7.9 .6-13 .6 20.7 .6-8.5 .6-32.8 .6 14.4 .6 1.9 .6-15 .6 22.9 .6-11.9 .6 .4 .6 10.6 .6-.5 .6 17.2 .6-14.3 .6-25.9 .6 41.1 .6-.1 .6-25.4 .6-15 .6 .7 .6 38.5 .6-33.4 .6-5 .6 38.1 .6-13.5 .6 7.7 .6 4 .6-21.1 .6-9.6 .6 9.3 .6-7.1 .6 4.5 .6-13.1 .6 37.9 .6-38 .6 5.4 .6 31 .6 .1 .6-3.1 .6-2.7 .6-4.7 .6-1.9 .6-7.8 .6 12.5 .6-28.3 .6 37 .6-36.7 .6 38.1 .6 .1 .6-30 .6 11.6 .6 18.8 .6-2.5 .6-32.9 .6 5.9 .6 30.3 .6-34.6 .6 25.1 .6-23 .6 11.4 .6-9.9 .6 22.7 .6 10 .6-32.6 .6 33.1 .6 0 .6-2.5 .6 3.1 .6-1.4 .6 2.4 .6-34.9 .6 17.5 .6 16.6 .6-36.9 .6-1.2 .6 32.1 .6-23.8 .6 29 .6 2.3 .6 .1 .6 .7 .6-12 .6-14 .6 26.3 .6-2.9 .6 .7 .6-19.3 .6 2.7 .6 11.2 .6-27.4 .6 5 .6 23.1 .6-30 .6 31.6 .6-18.3 .6-11.6 .6 37.1 .6-25.8 .6-2.2 .6 20.6 .6 4 .6-29 .6 19 .6-19 .6 17.7 .6-2.3 .6 7.8 .6 5.1 .6 3.2 .6-2.1 .6-3.7 .6-19.3 .6 20 .6 3.9 .6-30.5 .6 31.3 .6 1.2 .6-16.4 .6-16.3 .6 6.8 .6 15 .6-20.4 .6 .2 .6 13.1 .6-7.8 .6 14.4 .6-19.4 .6-.3 .6 3.2 .6 18.2 .6-1 .6-7.5 .6-11.5 .6 12.2 .6-11.3 .6 29.5 .6 .1 .6-9.9 .6 9.7 .6-7.3 .6-22 .6 27.1 .6-.9 .6 3.2 .6-19.5 .6 14.9 .6-14.5 .6-10 .6-1 .6 26.6 .6-23.9 .6 19.5 .6-10.9 .6-2.7 .6 11.4 .6 8.7 .6 2.4 .6 1.1 .6-28.7 .6-4.1 .6 32.4 .6-.5 .6-3.2 .6-29.3 .6 26.1 .6 4.8 .6 .5 .6-11.5 .6 11 .6-29 .6 16 .6 13 .6-29.7 .6 31.2 .6-14.2 .6-4.4 .6 18.3 .6-24.6 .6 8.6 .6-5 .6-5.6 .6 18 .6-3.2 .6 12.4 .6-.8 .6-24.1 .6 7.7 .6 16 .6-31.7 .6 25.6 .6-3.4 .6 9.2 .6-18.3 .6-13 .6 31.5 .6 .1 .6-10.9 .6-15.1 .6-5.9 .6 9.5 .6 4.3 .6-13.5 .6 32.8 .6-19.7 .6-3.7 .6-10.5 .6 23 .6-18.9 .6 17.3 .6-15.4 .6 13.3 .6-21.9 .6 36.9 .6-37.8 .6 37.5 .6-29.9 .6 29.2 .6-36.7 .6 23.5 .6-18.3 .6 4.5 .6 28.3 .6-18.7 .6 16.5 .6-6.4 .6 11.6 .6-37.4 .6-2.8 .6 4.6 .6 2.4 .6 4.2 .6-11.6 .6 33.8 .6 1.5 .6 4.3 .6-23.3 .6 10.1 .6-22.5 .6 31.2 .6-22.8 .6 32 .6 1.5 .6-23 .6 24.6 .6 3.8 .6 2.3 .6-3.6 .6-35.3 .6-.5 .6-6.4 .6 47.1 .6-.6 .6-8.8 .6-37.6 .6 .3 .6 35.8 .6 21.8 .6-.9 .6-2.7 .6-43.9 .6 44.2 .6-23.8 .6-12.3 .6-6.4 .6-11.2 .6 44 .6-43.8 .6 18.5 .6 23.8 .6-3.1 .6-38.9 .6-.3 .6 29.7 .6 6.9 .6-8.3 .6-7.9 .6 16.8 .6-35.5 .6 7 .7-6.3 .6 24.6 .6-28.1 .6 41.9 .6 .8 .6-8 .6-21 .6-5.6 .6 31 .6-38.6 .6 41.1 .6-15.4 .6-8.3 .6 1.2 .6 5.8 .6-4.6 .6 5.6 .6 17.3 .6-1.8 .6 1.1 .6-42.8 .6 42.9 .6-14.5 .6-17 .6-12 .6 42.7 .6-42.8 .6 .2 .6 34.7 .6-34.2 .6 9.9 .6 31.6 .6-8.9 .6-29 .6 33.3 .6 4.7 .6-38.8 .6 36.9 .6-37.7 .6 12 .6-13.5 .6-.9 .6 7.7 .6 21.7 .6-28.1 .6 13.6 .6-12.7 .6 40.9 .6-10.2 .6-20.6 .6-7.6 .6 3.9 .6 33.7 .6-28.7 .6 13.5 .6 15.4 .6-10.7 .6-1.4 .6-.2 .6-32.1 .6 26.3 .6 16.2 .6-35.8 .6 1.3 .6 37.3 .6-34.7 .6 35.2 .6-37.9 .6 34.2 .6 2.4 .6-13.3 .6-32.7 .6 24.7 .6-24.3 .6-.2 .6 13.1 .6 31.4 .6-43.8 .6 41 .6-30.8 .6 35.6 .6-30.5 .6 18 .6-.9 .6 12.7 .6 .2 .6-38.2 .6 5.8 .6 31.9 .6-19.6 .6-11.7 .6 22.2 .6-26.5 .6 17.3 .6-21.5 .6 .2 .6 31.9 .6 9.3 .6-7.9 .6-32.3 .6 5.4 .6 35.8 .6-11.7 .6-23.8 .6 4.5 .6 28.6 .6-6.1 .6-8 .6-25.6 .6 22 .6 19.3 .6 1.7 .6-16.4 .6-12.2 .6 20.3 .6-1.7 .6 7.4 .6-5 .6-19.1 .6-16.3 .6 39.4 .6 4.1 .6-7.2 .6-35.5 .6 42.5 .6-41.1 .6 .6 .6 39.3 .6-33.4 .6 1.3 .6-7.1 .6 .8 .6 32.5 .6-10.7 .6 16.9 .6-39.2 .6 39.5 .6-40.6 .6 31.7 .6 6.3 .6-30.8 .6 34.1 .6-40.1 .6 38.8 .6-16.6 .6 17.2 .6-12.8 .6-20.9 .6 8.8 .6-1 .6 13.4 .6 13.2 .6-37.4 .6 22.5 .6 .7 .6-1.4 .6 15.5 .6-37.1 .6 39.9 .6 .4 .6-40.3 .6 12.4 .6 27.8 .6 .5 .6-40.6 .6 25.7 .6-10.2 .6-15.4 .6 40.3 .6-39.4 .6 21.3 .6 19.1 .6-29.5 .6 33.6 .6-17.2 .6 11.1 .6-37.7 .6-.5 .6 22.9 .6-13.6 .6 26.5 .6-24.4 .6-12 .6 54.6 .6-54.1 .6 38.7 .6 11.1 .6-46.2 .6-2.5 .6 42.8 .6-9.5 .6-32.6 .6 34.5 .6-33.4 .6 6.7 .6-6.2 .6 13.8 .6 19 .6-13.6 .6 7.1 .6-14.6 .6 17.4 .6-24.7 .6 29.6 .6 .1 .6-20.1 .6-5.2 .6-10 .6 6.1 .6 22.7 .6 8.7 .6-8.8 .6 8.1 .6-35.4 .6 3.4 .6-3.2 .6 .1 .6 8.2 .6 4 .6 21.1 .6-32.4 .6 3.2 .6 10.9 .6-14 .6 25.5 .6 6.3 .6-32.3 .6 .3 .6 4.6 .6 11.5 .6 2.5 .6 14.3 .6-1.8 .6-7.9 .6-5.7 .6-16.9 .6 .7 .6-.4 .6 1 .6-.1 .6 3.6 .6 28.7 .6-.2 .6-.1 .6-31.5 .6 27.7" class="c"/>
<path d="M103.5 1500l.3 40.6 .4-20.6 .4 3" class="c"/>
<path d="M689 1495.1l2 51.2 2 7.4 2 5.4 2 4 2 3.9 2 5.7 2 5.8 2 5.1 2 5.1 0 37.5-2-2.7-2-3.2-2-3.8-2-3.8-2-3.8-2-5.9-2-5.3-2-5.2-2-40.1z" fill="#6ABD45"/>
<path d="M689 1512.4l.4 49.2 .4-.6 .4 16.2 .4-27.2 .4-4.3 .4 23.5 .4-16.1 .4 38.7 .4 5.3 .4-30.9 .4 33.8 .4-24.3 .4 2.5 .4-15.6 .4 41.1 .4-36.9 .4 38.8 .4-10.7 .4 13.7 .4-19.6 .4-24.9 .4 8.7 .4 39.2 .4-27.6 .4-8.7 .4 2.9 .4 21.7 .4-10.3 .4-19.4 .4 26.7 .4-13 .4 18.8 .4-22.7 .4-3.3 .4 44 .4-33.2 .4 12.1 .4-11 .4 7.8 .4 27.6 .4-24.6 .4-2 .4-11.7 .4 1.2 .4 29.3" class="c"/>
<path d="M707 1512.9l2-19.6 2-20 1.9-.7 2-.3 2-.2 2 0 2-.1 2-.1 1.9 .2 2-.1 2 .3 2 .4 2-.4 .2-.1 0 155.2-.2 .2-2 .5-2-.9-2-1-2 .7-1.9 1.7-2 .5-2-.6-2-.6-2-.9-2-1.5-1.9-.6-2 .2-2 .3z" fill="#6ABD45"/>
<path d="M707 1605.3l.2 25 .2-121.5 .3 15.7 .2 36 .2-63.4 .2 60.2 .2-60.9 .3 114.9 .2 18.6 .2-143.6 .2 39.6 .2-8.4 .3-38 .2 43.5 .2 106.5 .2-136.2 .2 136.2 .3-138.3 .2 83.7 .2-106.6 .2 16.5 .2-17.1 .3 24 .2 117.2 .2-28.6 .2-111.9 .2 139.4 .3 22.5 .2-141.2 .2-20.9 .2 150.3 .3 3.1 .2-122.7 .2 132 .2-162.8 .2 154.3 .3 10.1 .2-76.7 .2 76.3 .2-164.5 .2 108.3 .3-42.1 .2 99.4 .2-111.7 .2-34.6 .2 75.7 .3-95.4 .2 138.9 .2-88 .2 89.5 .2-139.7 .3-1.1 .2 166.2 .2-98.1 .2-67.7 .2 88.6 .3-88.2 .2 41.8 .2 123.4 .2 1.5 .2-89.6 .3-37.2 .2 111.1 .2-92.7 .2 108.1 .2-73.2 .3 7.9 .2 63.7 .2 1.1 .2-87.9 .2-60.2 .3 2 .2-20.1 .2 80 .2 15 .2 70.6 .3-72 .2-93.7 .2 111.3 .2-110.8 .2 124.5 .3-80.2 .2 119.6 .2-125.6 .2 70.5 .2-45 .3 62.2 .2 15 .2-50 .2-64.4 .3-27.2 .2 12 .2 151.7 .2 1 .2-.2 .3-74.5 .2 68.3 .2-25.8 .2-43.2 .2 38.3 .3 4.5 .2 30.7 .2-136.2 .2 138.3 .2 .3 .3-95.9 .2-68.5 .2 126.3 .2-126.1 .2 48.7 .3-49.3 .2 36.8 .2 123.5 .2-73.3 .2 77.9 .3-93.7 .2-65 .2 158.4" class="c"/>
<path d="M99 1477.6l1.8 1.3 1.8 1.6 1.8 1 1.8 .3 1.8 .3 1.8-3.5 1.8-2.9 1.8-2.8 1.8-2.5 1.8-1.1 1.8-.5 1.8-1.6 1.8-2 1.8-1.5 1.8-1.2 1.8-1.4 1.8-1.1 1.8-.1 1.8 .1 1.8 .3 1.8 .2 1.8-.5 1.8-1.5 1.8-.8 1.8 .4 1.8 .8 1.8 1 1.8 2 1.8 2 1.8 .3 1.8-.4 1.8-.2 1.8-.5 1.8-.9 1.8-.1 1.8 .9 1.8 .9 1.8-.3 1.8-1.1 1.8-.7 1.8 .2 1.8 .4 1.8 .2 1.8 .1 1.8-.1 1.8-.2 1.8-.5 1.8-.2 1.8 0 1.8-.2 1.8 0 1.8 .2 1.8 .3 1.8-.1 1.8 .1 1.8 0 1.8-.6 1.8-.8 1.8-.3 1.8 .4 1.8 .5 1.8 .4 1.8 .8 1.8 .6 1.8-.9 1.8-1.8 1.8-.6 1.8 .4 1.8 .5 1.8 .2 1.8-.2 1.8-.1 1.8 .6 1.8 .9 1.8 .1 1.8-.7 1.8-.6 1.8-.1 1.8 0 1.8-.3 1.8-.5 1.8-.7 1.8-.3 1.8 .8 1.8 .8 1.8 0 1.8-.1 1.8-.1 1.8-.4 1.8-.6 1.8 0 1.8 1.1 1.8 1.3 1.8 .5 1.8-.5 1.8-.4 1.8 .3 1.8 .3 1.8 .3 1.8 1.1 1.8 1 1.8-.2 1.8-1.4 1.8-1 1.8-.3 1.8-.3 1.8-.2 1.8-.2 1.8-.1 1.8 .4 1.8 1.4 1.8 .8 1.8 .3 1.8 .4 1.8-.1 1.8-1.6 1.8-1.7 1.8-.4 1.8 .5 1.8 .3 1.8-.1 1.8-.1 1.8 .1 1.8-.1 1.8 0 1.8-.1 1.8 .1 1.8 .4 1.8 .9 1.8 1 1.8 .6 1.8-.2 1.8-.6 1.8-.2 1.8 .6 1.8 .1 1.8-1.4 1.8-1.7 1.8-.1 1.8 1.4 1.8 1.8 1.8 1.4 1.8 1.4 1.8 .9 1.8 .5 1.8 .2 1.8 .1 1.8-.3 1.8-.1 1.8 .5 1.8 .8 1.8 .4 1.8 .8 1.8 1.1 1.8 .3 1.8-1.3 1.8-1.6 1.8-.6 1.8-.6 1.8-.7 1.8-.4 1.8-.1 1.8-.1 1.8 2 1.8 2.2 1.8 1.2 1.8 .8 1.8-.2 1.8 0 1.8 .1 1.8 .2 1.8-.2 1.8-.3 1.8-.1 1.8 0 1.8 .1 1.8 .6 1.8 1.3 1.8 1.2 1.8 .2 1.8 0 1.8 .6 1.8 .9 1.8 .8 1.8 .3 1.8-.7 1.8-.1 1.8 .3 1.8 .3 1.8 .2 1.8-.1 1.8-.2 1.8 .7 1.8 1.1 1.8 0 1.8-.7 1.8-.8 1.8-.3 1.8-.3 1.8-.1 1.8-.3 1.8-.4 1.8-.1 1.8 1 1.8 .8 1.8-.3 1.8-.9 1.8-.7 1.8-.7 1.8-1 1.8-.3 1.8 .2 1.8 .3 1.8 .6 1.8 1.6 1.8 .9 1.8-.9 1.8-1.4 1.8-.6 1.8-.1 1.8-.1 1.8-.3 1.8-.8 1.8-.6 1.8 .5 1.8 1.2 1.8 .1 1.8-1.2 1.8-1.2 1.8 0 1.8 .5 1.8 .3 1.8 .1 1.8 .2 1.8 .1 1.8 1 1.8 2.5 1.8 2.7 1.8 2.4 1.8 2.3 1.8 .5 1.8-.9 1.8-.9 1.8-.2 1.8 0 1.8-.5 1.8-1 1.8-.4 1.8 .6 1.8 .8 1.8 .4 1.8 .5 1.8 .2 1.8-.4 1.8-.6 1.8-.5 1.8-.8 1.8-.7 1.8-.2 1.8 .2 1.8 .3 1.8 .1 1.8-.9 1.8-.9 1.8 .2 1.8 .5 1.8-.4 1.8-.7 1.8-.5 1.8-1 1.8-.9 1.8-.4 1.8 0 1.8-.2 1.8 .1 1.8 .9 1.8 .8 1.8-.3 1.8-.5 1.8-.4 1.8 .3 1.8 .7 1.8 .3 1.8-.1 1.8 0 1.8 .3 1.8 .1 1.8 .3 1.8 .8 1.8 .9 1.8 .8 1.8 .7 1.8 .6 1.8 .8 1.8 1 1.8 .9 1.8 .7 1.8 0 1.8 0 1.8-.1 1.8-.1 1.8-.5 1.8-1.3 1.8-.8 1.8 .3 1.8 1 1.8 .1 1.8-1.4 1.8-1.5 1.8-.2 1.8 .2 1.8 .1 1.8 .4 1.8 1.1 1.8 1 1.8 .1 1.8 0 1.8 .9 1.8 1.5 1.8 1 1.8-.1 1.8-.3 1.8 .1 1.8 .5 1.8 .7 1.8 .6 1.8 .8 1.8 1.5 1.8 2.1 1.8 2.1 1.8 1.6 1.8 1.6 1.8 1.5 .6 .5 0 18-.6-.6-1.8-1.4-1.8-.7-1.8-.4-1.8-.1-1.8-.5-1.8-1-1.8-.8-1.8-.5-1.8-.3-1.8-.1-1.8-.6-1.8-1.4-1.8-.9-1.8 .2-1.8 .6-1.8-.3-1.8-2.1-1.8-2.2-1.8-.6-1.8 1.1-1.8 .8-1.8-.6-1.8-.8-1.8 0-1.8 .4-1.8 .3-1.8 .1-1.8-.3-1.8-.3-1.8-.2-1.8-.2-1.8-.2-1.8-.2-1.8 0-1.8 .4-1.8 .2-1.8 0-1.8 .4-1.8 .4-1.8-.1-1.8 .5-1.8 .5-1.8-.2-1.8-.3-1.8-.3-1.8-1.1-1.8-1.4-1.8-.6-1.8-.7-1.8-.8-1.8 .1-1.8 1.2-1.8 .5-1.8-1.3-1.8-1.7-1.8-.9-1.8 .2-1.8 0-1.8-.8-1.8-1.3-1.8-1.2-1.8-1.1-1.8-1.1-1.8 .6-1.8 1.6-1.8 1.8-1.8 1-1.8 .7-1.8 .5-1.8-.1-1.8-.4-1.8 0-1.8 .7-1.8 .6-1.8 0-1.8-.4-1.8-.2-1.8 .7-1.8 1.1-1.8 .3-1.8-.4-1.8-.4-1.8 .2-1.8 .8-1.8 .5-1.8-.6-1.8-.7-1.8-.1-1.8 .6-1.8 .7-1.8 .3-1.8-.2-1.8-.5-1.8-.2-1.8 .1-1.8-.6-1.8-1.7-1.8-1.2-1.8-.3-1.8-.6-1.8-.4-1.8 .2-1.8 .3-1.8 .1-1.8-.2-1.8-.4-1.8-.3-1.8-.5-1.8-.4-1.8 .6-1.8 1.3-1.8 .4-1.8-.3-1.8-.2-1.8-.6-1.8-1.2-1.8-.7-1.8-.1-1.8-.1-1.8-.2-1.8-.6-1.8-.7-1.8 .2-1.8 1.3-1.8 .9-1.8-.3-1.8-.7-1.8-.1-1.8-.1-1.8-.3-1.8 0-1.8 .3-1.8 .2-1.8 .1-1.8 .3-1.8 .4-1.8 .8-1.8 1-1.8 .3-1.8-.1-1.8 0-1.8-.1-1.8-.4-1.8-.3-1.8-.1-1.8 0-1.8 .3-1.8 .9-1.8-.5-1.8-1.5-1.8-1.7-1.8-1.4-1.8-1.8-1.8-1.8-1.8-1-1.8 1-1.8 .8-1.8 .2-1.8 .4-1.8 .3-1.8 .1-1.8 .1-1.8 .2-1.8-.2-1.8-.1-1.8-.1-1.8-1.3-1.8-1.4-1.8-1.5-1.8-1.3-1.8 .1-1.8 .5-1.8 .6-1.8-.1-1.8-.5-1.8 .3-1.8 1.8-1.8 1.7-1.8 .3-1.8-.1-1.8 .1-1.8 .2-1.8-.4-1.8-.6-1.8-.8-1.8-.9-1.8-.7-1.8-1-1.8-.8-1.8-.7-1.8-.8-1.8-.7-1.8-.1-1.8 .2-1.8-.3-1.8-.4-1.8 0-1.8 .3-1.8 .1-1.8 .3-1.8 .1-1.8-.3-1.8-.4-1.8 0-1.8-.4-1.8-1-1.8-1.3-1.8-.4-1.8 .4-1.8 .3-1.8-.1-1.8 .2-1.8 .1-1.8-.4-1.8-.7-1.8-.1-1.8 .3-1.8 .6-1.8 .3-1.8 .2-1.8 .3-1.8 .6-1.8 .6-1.8 .5-1.8 .3-1.8 .2-1.8 .3-1.8 0-1.8 .2-1.8 .4-1.8 .3-1.8 .4-1.8 .5-1.8 0-1.8-.3-1.8-.3-1.8-.4-1.8-.9-1.8-1.1-1.8-.4-1.8 .1-1.8 .5-1.8-.1-1.8-1-1.8-.9-1.8-.4-1.8-.3-1.8-.3-1.8 .6-1.8 .9-1.8 .4-1.8 .5-1.8 .5-1.8-.3-1.8-1-1.8-.5-1.8 .1-1.8-.1-1.8-.7-1.8-.8-1.8-.4-1.8 .5-1.8 .9-1.8 .4-1.8 .2-1.8 .2-1.8 .2-1.8 0-1.8 .1-1.8 .6-1.8 .8-1.8 .4-1.8-.4-1.8-.4-1.8 .1-1.8 .3-1.8 .3-1.8 .2-1.8 .4-1.8 .5-1.8 1.2-1.8 1.2-1.8 .1-1.8-.4-1.8-.3-1.8-.8-1.8-1.3-1.8-.7-1.8 .7-1.8 .6-1.8-.5-1.8-1.2-1.8-.7-1.8 .4-1.8 1-1.8 .1-1.8-.6-1.8-.7-1.8-.8-1.8-1.9-1.8-1.1-1.8 .5-1.8 1-1.8 .5-1.8 .5-1.8 .6-1.8 0-1.8-1-1.8-.7-1.8 .1-1.8 0-1.8-.3-1.8-.3-1.8-.1-1.8-.3-1.8-.1-1.8 .5-1.8 1.2-1.8 1.2-1.8 1-1.8 .7-1.8 .4-1.8 .3-1.8 2.7-1.8 5.3-1.8 5-1.8 5.1-1.8 5.7-1.8 .2-1.8 .2-1.8 .6-1.8 1.1-1.8 .7z" fill="#3953A4"/>
<path d="M99 1491.3l.6 11 .6-19.7 .6 23.4 .6-11 .6 1.8 .6-3.9 .6-6.9 .6 8.9 .6-9.6 .6 18.7 .6-12.3 .6-4.7 .6 3 .6-3.8 .6 18.4 .6-13.8 .6 9.5 .6-11.6 .6-1.6 .6-2.4 .6 .4 .6-6.3 .6-.6 .6-1.8 .6 2.8 .6 2.8 .6-2.9 .6-5 .6 2.7 .6-2.9 .6 6.2 .6 .1 .6-7 .6-.9 .6 0 .6-1.1 .6 5.3 .6 1.1 .6-8.3 .6 9.2 .6 .2 .6-2.2 .6 1.7 .6-10.9 .6 10.1 .6-5.7 .6-3.5 .6-3.6 .6 7.4 .6-7.5 .6 7.7 .6 2.6 .6-11.1 .6 10.8 .6 0 .6-5.1 .6-4.5 .6 .2 .6 5.4 .6-.8 .6-2.4 .6 8.8 .6-.4 .6 .1 .6 .8 .6-12.1 .6 11.6 .6-3 .6 1.3 .6-12.6 .6 8.7 .6 3.5 .6 2 .6-7.2 .6 7.4 .6-14.3 .6 12.8 .6-11.3 .6 15.1 .6-.4 .6-5.5 .6 .6 .6-7.1 .6 8.5 .6 .5 .6-1.5 .6 2.6 .6-7.5 .6 7.3 .6-3.7 .6-1 .6 4.1 .6-8.1 .6 7.4 .6-7.7 .6 .9 .6-1 .6 7 .6 2.1 .6-4.1 .6 5.2 .6-5.9 .6 7.4 .6-7.1 .6-3.6 .6-2 .6 3.1 .6 10.8 .6 .1 .6-.3 .6-5.5 .6-6.7 .6 3.6 .6 8.6 .6-1 .6-11.4 .6-1.1 .6 2.6 .6 1.7 .6 4 .6-4.8 .6-3.8 .6 .4 .6 7.1 .6-3.8 .6 1.2 .6 5.1 .6-9.5 .6 15 .6-1.4 .6 0 .6-3.8 .6-9.2 .6 12.7 .6-9.5 .6-3.6 .6-.2 .6 6.5 .6-3.3 .6 3.7 .6 8.4 .6-3.5 .6-12 .6 16.4 .6-10.4 .6-1.5 .6 9.7 .6-15.2 .6 4.2 .6 3.7 .6 10.2 .6-9.4 .6 3.9 .6-11.8 .6 4.6 .6 .1 .6 10.8 .6-4.9 .6-10.5 .6 .2 .6-.5 .6 6.8 .6 7.6 .6-13.7 .6 13.4 .6-13.3 .6 4.1 .6-2.7 .6 2 .6-1.9 .6 2.5 .6 5.2 .6-10.5 .6-.5 .6 14.1 .6-9.3 .6-4.6 .6 5.7 .6 5.8 .6-2 .6 2.6 .6-3.9 .6-6.1 .6 12.7 .6-1 .6-4.6 .6-7.6 .6 9.6 .6 2 .6 .1 .6-4.7 .6-2.3 .6 1.3 .6 .8 .6-3.7 .6 8.1 .6-13.1 .6 10.1 .6-7.5 .6 5.8 .6-1.8 .6-7.5 .6 13.6 .6 .3 .6-5.2 .6-1.5 .6-6.1 .6 5.9 .6 0 .6 2.8 .6-9.1 .6 4.3 .6 5.7 .6-10.2 .6 7.4 .6 3.3 .6 .1 .6-9.5 .6 2.1 .6 7.5 .6-.2 .6-5.9 .6 7.1 .6 1.1 .6-.7 .6-2.7 .6 3.5 .6-11.3 .6 5.5 .6 3.1 .6 1.2 .6 1.4 .6-11.2 .6 7.3 .6-.3 .6-8.1 .6 5.1 .6-5.1 .6-.6 .6 15.1 .6-11.9 .6-.5 .6 1.6 .6 9.1 .6-9.4 .6 4.8 .6-9.3 .6 .4 .6 13.8 .6-1.1 .6-9.9 .6 8.2 .6-8 .6-2.3 .6-.5 .6 11.7 .6-12 .6 12.7 .6-.4 .6-12.2 .6 12.7 .6 .3 .6-6.7 .6 5.5 .6 .8 .6-13 .6 14.1 .6-14.7 .6 .2 .6 15 .6-15.1 .6 .9 .6 14.5 .6-14.8 .6 3.8 .6-3.1 .6 .7 .6 13.4 .6-13.2 .6 .6 .6 5.6 .6-6 .6 6.5 .6-6 .6 6 .6-5.8 .6 11.4 .6-6.6 .6 5.6 .6 .2 .6 3.6 .6 .6 .6-2.8 .6-12.3 .6 15 .6 1 .6 .1 .6-.6 .6-1.7 .6-8.7 .6 8.4 .6-11.5 .6 13.5 .6-11.6 .6 3.7 .6-2.4 .6-4 .6 4.2 .6-4.7 .6 7.9 .6-1.6 .6 .5 .6 6.3 .6-3.7 .6-10.3 .6 12.8 .6-13.8 .6 15.3 .6-9.6 .6 6.1 .6 1.7 .6 1.2 .6-4.4 .6-10 .6 2.1 .6 8.3 .6-11 .6 2.8 .6-2.2 .6 9 .6 4 .6-8.1 .6-3.2 .6 3.3 .6 6.9 .6-4 .6 4.1 .6-2.2 .6-7.2 .6 8.7 .6-4.3 .6 1.2 .6 2.2 .6-5.4 .6 6 .6-1.9 .6-6.7 .6 .9 .6-1.8 .6-1.3 .6 10.3 .6-11.5 .6 2.2 .6 9.3 .6-11.5 .6 8.8 .6 2.5 .6-6.7 .6 8.5 .6-9.5 .6-.9 .6 9.6 .6-11.3 .6 11.2 .6-4.3 .6 5 .6-7.8 .6-3.8 .6 10.4 .6-2.9 .6-1.4 .6 0 .6 1.9 .6-5.4 .6 .9 .6-4.3 .6 11.6 .6-.2 .6 1 .6-1 .6-10.8 .6 12.8 .6-7 .6-6 .6 7.4 .6 .9 .6-7.4 .6 .5 .6 12.5 .6-6.1 .6-6.1 .6 12.9 .6-7.5 .6 4.1 .6-.6 .6-8.7 .6 7.3 .6 4.6 .6-2.7 .6-4.5 .6-5.1 .6 9.2 .6 3.8 .6-5.1 .6-2.3 .6-1.7 .6 8.1 .6-2.2 .6 3 .6-4 .6-10.1 .6 13.4 .6-13.9 .6 14.6 .6-15.7 .6 3.9 .6 12.6 .6-10.5 .6 8.5 .6 .7 .6-12.8 .6 .5 .6 .4 .6 .8 .6 12.4 .6-11.2 .6 11.4 .6-6.4 .6-1.6 .6-1.9 .6 7.2 .6 4.7 .6-1.2 .6-10.4 .6 6.5 .6 3.2 .6-4.6 .6-4.4 .6 5.5 .6-1 .6-3.8 .6 12.2 .6 .7 .6 .3 .6-14.2 .6 4.6 .6-4 .6 14.9 .6-.5 .6-9.6 .6 10.4 .6 .2 .6-.3 .6 .6 .6-8.7 .6 7 .6-5.6 .6 .8 .6 5.3 .6-2.9 .6-4.5 .6 7.6 .6 .5 .6-11.2 .6 5 .6 .4 .6 2.7 .6-10.3 .6 10.2 .6-8.9 .6-2.4 .6 9.8 .6-10.4 .6 8.5 .6-5.8 .6 8.2 .6-10 .6 4.1 .6 0 .6 6.5 .6-4.4 .6-6 .6-2.4 .6 12.1 .6-5.8 .6-7.3 .6 5.6 .6 .8 .6-.4 .6-4.1 .6 8.5 .6-.1 .6 4.4 .6-10.7 .6 4.8 .6 3.4 .6-.7 .6-4.5 .6-.9 .6 7.9 .6 3.3 .6-5.9 .6 7.2 .6-12.8 .6 5.9 .6 6.8 .6-.3 .6-11.4 .6 4.5 .6-1.5 .6 5.6 .6-7.3 .6 1.2 .6 9.5 .6-12.5 .6 11.5 .6 .7 .6-4.4 .6-7.7 .6 11.3 .6-5.7 .6-5.3 .6 10.5 .6-4 .6 4.2 .6-5.7 .6-6 .6 9.3 .6-9.3 .6 5.9 .6 4.8 .6-8.8 .6 4.7 .6-4.6 .6 .6 .6 7.2 .6-6.4 .6 7.4 .6 .9 .6 .7 .6-8.9 .6-.1 .6 3.5 .6 6.8 .6-9.8 .6 3.7 .6-1.9 .6 1.8 .6-2.4 .6 13.2 .6-6 .6-1.6 .6-4.8 .6 1.7 .6 8.3 .6-.7 .6-9.1 .6 12.1 .6 .1 .6-12.5 .6-.7 .6 7.7 .6-2.8 .6 8.7 .6-3 .6-10.1 .6 .5 .6 9.2 .6-8.3 .6 11.5 .6-12.6 .6 .5 .6 9.5 .6 3.7 .6-1.1 .6 .9 .6-13.4 .6 10.7 .6-10.3 .6 3.1 .6 5.2 .6 4.9 .6-10.2 .6-1 .6 10.3 .6-11.4 .6 11.1 .6-7.5 .6-3.8 .6 5.3 .6-5.7 .6 9.9 .6-6.6 .6 5.2 .6-5.4 .6 6.2 .6-.4 .6 .8 .6-9.6 .6 2.3 .6-3.5 .6 11.1 .6-11.8 .6 4.5 .6-3.8 .6 10.5 .6-8.2 .6 8.2 .6 0 .6-3.9 .6-6.7 .6 .5 .6 10.2 .6-.1 .6 .1 .6-.7 .6-5.7 .6-3.4 .6-.5 .6 3.7 .6-4.2 .6 7.9 .6 3.9 .6-5.1 .6 4.5 .6-11.9 .6 12.2 .6-.9 .6-5.9 .6-6.8 .6 11.4 .6-12.3 .6 .9 .6-.7 .6 6.3 .6-6.1 .6 12.9 .6-12.8 .6 5.7 .6 8.2 .6-13.7 .6 10 .6-4.5 .6 5 .6-8.4 .6 2.2 .6 2.9 .6-3.9 .6 0 .6 4.4 .6 6 .6-10.9 .6 .9 .6 .1 .6 3 .6 8.6 .6 .6 .6-15.6 .6 7.1 .6-7.2 .6 16.5 .6-7 .6 7.2 .6-1 .6 .8 .6-4.6 .6 3.2 .6-11.6 .6 9.7 .6-14.6 .6-1 .6 15.7 .6-14.9 .6 4.6 .6 9.8 .6 1.7 .6-.3 .6-14.4 .6 15.3 .6-15.3 .6 15.1 .6-11.3 .6 11.7 .6-13.4 .6 12.1 .6-16.7 .6 0 .6 18.6 .6-9.8 .6 2 .6-10.6 .6 18.5 .6-16.2 .6 11.6 .6-6.3 .6 9.5 .6-13 .6 13.3 .6-16.2 .6 6.6 .6-7 .6 17.5 .6 .8 .6-.8 .6-16.9 .6 17.5 .6 .4 .6-3.9 .6 4.9 .6-4.9 .6 1.4 .6-11.6 .6 17 .6-11.2 .6-3.3 .6 1.5 .6 11 .6-6.8 .6 8.6 .6-9.4 .6 .5 .6 4.1 .6 4.4 .6 1.3 .6-.8 .6 .5 .6-1.9 .6-9.1 .6-1.1 .6 1 .6 10.9 .6-5.4 .6-6 .6-.7 .6 11.9 .6-5.3 .6-6.8 .6 11.3 .6 1 .6-.3 .6-6.3 .6-4.7 .6-2.1 .6 13 .6-3.2 .6-6.5 .6-2.6 .6 8.8 .6 3.8 .6-1.1 .6 .1 .6 .3 .6-10.7 .6 8.3 .6 2.9 .6-5.3 .6-6.1 .6 11 .6-2.9 .6 3.9 .6-.2 .6-1.2 .6-6.7 .6 7 .6-7.1 .6 2.8 .6-1.3 .6 4.1 .6-10.6 .6 5.8 .6 4.8 .6-8.7 .6 4 .6-7 .6 3.3 .6 7.8 .6 1.9 .6-13.6 .6 11.6 .6-2.4 .6 2.5 .6 .6 .6-1 .6-6.5 .6 6.3 .6-8 .6 8.5 .6-3.8 .6 3.8 .6-11.7 .6 11.6 .6-1.1 .6 1.5 .6 0 .6-1.9 .6-.8 .6 1 .6 1.3 .6-1.5 .6-2.2 .6-6.5 .6 2.3 .6 2.2 .6 2.5 .6-9.8 .6 8.4 .6-1.2 .6 .3 .6-2.4 .6-5.7 .6 8.5 .6 .8 .6-11.5 .6 .7 .6 7.3 .6-1.9 .6 4.2 .6-10.7 .6 3.5 .6 2.9 .6 8.8 .6-14.7 .6 14.4 .6-11.7 .6 12.5 .6-14.4 .6 2.8 .6-2.3 .6 3.8 .6 10.6 .6 0 .6-9.3 .6 4.8 .6-6.8 .6 12.9 .6-9.2 .6-7.5 .6 13 .6-13.4 .6 .2 .6 18.9 .6 .1 .6-.2 .6-13.6 .6 11.7 .6-3.1 .6-12.2 .6 15.7 .6-12 .6 11.9 .6-2.9 .6-1.5 .6 4.1 .6-16.1 .6 .2 .6 8.4 .6 9.1 .6-9.2 .6 10.6 .6-15.5 .6 16.2 .6-12.6 .6 10.5 .6 .9 .6-5.6 .6-5.9 .6-5 .6 .1 .6 2.9 .6 1.3 .6 15.4 .6-19 .6 1 .6 18 .6 .3 .6-17.7 .6 .2 .6 6.4 .6 2.9 .6 .7 .6 6.4 .6-5.8 .6 5.7 .6-4.5 .6 3.3 .6 .8 .6-.2 .6-11.5 .6 3.5 .6 3.2 .6-7.1 .6 10.8 .6 1.1 .6-12.1 .6 1.9 .6 4.5 .6-6.7 .6 7.5 .6-2.7 .6 1.4 .6-4.6 .6 10.2 .6-11.1 .6 1.2 .6 3.4 .6 6.3 .6-12 .6 12.3 .6-12.5 .6 9.6 .6-2.2 .6-5.5 .6-4.3 .6 4.5 .6-3.5 .6 15.4 .6-11 .6-4.1 .6 2.8 .6 12.4 .6-9 .6-1.9 .6 10.4 .6-15.8 .6 .3 .6 14.8 .6-5.3 .6-7.7 .6 3.1 .6 10 .6-17 .6 14.6 .6-4.8 .6-9.2 .6 17.7 .6-15.9 .6 11.2 .6-2.4 .6-10.1 .6 .2 .6 13.4 .6 .5 .6-9 .6-.8 .6 10.9 .6 1.8 .6-2.2 .6-13.1 .6 14.3 .6 3.5 .6-.4 .6-3.3 .6-12.6 .6 17.7 .6-16.7 .6 16.3 .6-3.3 .6 2.6 .6-14.3 .6 0 .6 4.9 .6-5.3 .6 2.6 .6 6.8 .6-6.3 .6 4.3 .6 5.1 .6 1.6 .6-13.6 .6 16 .6-1.8 .6 .6 .6-7.8 .6-5.1 .6-.9 .6 16.4 .6-10.2 .6 3.9 .6 7 .6-11.2 .6 3.2 .6 .3 .6 6.5 .6-11.8 .6-.6 .6 4.8 .6 3.6 .6 4.7 .6-7.8 .6 .1 .6-1.5 .6 8.1 .6 3.5 .6-8.2 .6 8.7 .6-6.7 .6 5.8 .6-2.1 .6 1 .6-2" class="d"/>
<path d="M698 1502.7l1.8 20.8 1.7 7.4 1.8 4.6 1.8 3.5 1.7 3.2 1.8 4.1 1.8 4.8 1.7 5.1 1.8 4.8 1.7 5.3 .4 1 0 30.1-.4-.8-1.7-3.8-1.8-2.6-1.7-1.2-1.8-1.2-1.8-4.8-1.7-6.4-1.8-6.2-1.8-5.7-1.7-6.9-1.8-17.3z" fill="#3953A4"/>
<path d="M698 1540.1l.4-9.6 .3 14.7 .4-29.5 .3 5.4 .4 22 .3 15.9 .4 1.8 .3-22.9 .4-2.6 .3-3.3 .4 33.4 .3 .8 .4-31.3 .3 33 .4-31.8 .3 29.9 .4 5.6 .4-33.1 .3 .2 .4 17.1 .3 19.6 .4-14.4 .3 19.1 .4-6.7 .3 1.5 .4-31.6 .3 10.2 .4-7.7 .3 36.4 .4-30.8 .3 22 .4 14 .3 .6 .4-.1 .4-35.7 .3 36.3 .4-14.9 .3 11.8 .4-25.8 .3-2.2 .4 .3 .3 .8 .4 29.3 .3-5.3 .4-1.4 .3-18.9 .4 24.5 .3 0 .4 8.9 .3-27.9 .4 9" class="d"/>
<path d="M709 1647.1l.4 14.8 .3-5.7 .4-3.4 .3 12.9 .4 1.4 .3 15.8 .4-11.6 .3-40.4 .4-2 .3 2.8 .4 2.3 .4 12.8 .3-9.5 .4-13 .3-9.1 .4 5.5 .3-10.6 .4-12.9 .3 40.2 .4 54.4 .4 21 .3-8 .4-11.6 .3-26 .4-7.1 .3-3.5 .4-18.1 .3 8.8 .4 16.2 .3 11.6 .4-12.7 .4-36.3 .3-28.9 .4 32 .3 62.3 .4 21.3 .3-3.5 .4-46.6 .3-4.8 .4-18.5 .3-8.2 .4-18.7 .4 13.5 .3 34.5 .4 22 .3-20.6 .4-3.6 .3-10 .4-.1 .3 11.1 .4 9 .4-28.9 .3-43.3 .4-19.4 .3 23 .4 80.7 .3 8.3 .4-1.2 .3-1.2 .4-1.1 .3-19.2 .4-72.3" class="d"/>
<path d="M713 1708.1l1.8 1.6 1.8 2 1.8 1 1.9 .6 1.8 .7 1.8 .2 1.8-.8 .3-.1 0 36.9-.3-.3-1.8-1.6-1.8-.4-1.8 .8-1.9 .9-1.8-.2-1.8-.2-1.8 0z" fill="#3953A4"/>
<path d="M713 1743.4l.3-31.4 .3 37.8 .3-9.1 .3-10.1 .3 18.8 .3-24.1 .3 23.9 .3-37.3 .3 22.2 .3-3.4 .3 13.5 .3 5.8 .3-38.2 .3 37.9 .3-21.2 .3 3.5 .3 9.9 .3 8.4 .3-24.5 .3 24.2 .3-7.1 .4-29.9 .3-.1 .3 .5 .3 18.8 .3 16.1 .3-33.1 .3 24 .3-20.3 .3 2.5 .3 21.5 .3-18.3 .3 1.8 .3 21.2 .3-32.9 .3-.3 .3 34.5 .3-35 .3 29.6 .3 6.4 .3-37 .3 6.8 .3-7.1" class="d"/>
<path d="M720 1508.4l.3-5.2 .3-14.8 .3 .3 .3 17.9 .3-7 .3-7.1 .3 58 .3 61 .4 14.3 .3-11.4 .3-91 .3-47.2 .3 25.5 .3 82.9 .3 41.2 .3 0 .3 0 .3 0 .3-25.2 .3-69.1 .3-55.3 .3 47.8 .3 53 .3 47.4 .3-27.5 .3-83.7 .3-26.9 .4 23.1 .3 54.6 .3 28 .3-45.8 .3-44.2 .3-25.8 .3 0 .3 27.2 .3 15" class="d"/>
<path d="M720 1544.8l1.8 .2 1.7 .4 1.8 .4 1.8 .8 1.8 .7 1.7 .2 .4-.1 0 21.5-.4 0-1.7 .2-1.8 .4-1.8 .4-1.8 .4-1.7 .6-1.8 .3z" fill="#3953A4"/>
<path d="M720 1573.5l.4-31.4 .3 31.8 .4-1.1 .3-17.3 .4-12.9 .3-.1 .4 19 .3-18.5 .4 11.7 .3-11.7 .4 .5 .4 18.2 .3 9.8 .4 1 .3-.9 .4-27.5 .3 24.1 .4-11.7 .3 7.5 .4-15.2 .4 16 .3 7.1 .4-11.9 .3-2.2 .4 13.8 .3-26.5 .4 .7 .3 14.9 .4-15.2 .3-.4 .4 .1" class="d"/>
<g font-family='"Liberation Sans", Arial, Helvetica, sans-serif' font-size="35.8" fill="#414042">
<text x="104" y="1832.9" text-anchor="middle">0</text>
<text x="301.8" y="1832.9" text-anchor="middle">2000</text>
<text x="499.7" y="1832.9" text-anchor="middle">4000</text>
<text x="697.6" y="1832.9" text-anchor="middle">6000</text>
<text x="91.8" y="1345.0" text-anchor="end">1.5</text>
<text x="91.8" y="1420.7" text-anchor="end">1</text>
<text x="91.8" y="1496.5" text-anchor="end">0.5</text>
<text x="91.8" y="1572.2" text-anchor="end">0</text>
<text x="91.8" y="1647.9" text-anchor="end">-0.5</text>
<text x="91.8" y="1723.7" text-anchor="end">-1</text>
<text x="91.8" y="1799.4" text-anchor="end">-1.5</text>
</g>
<text x="416.4" y="1314.7" text-anchor="middle" font-family='"Liberation Sans", Arial, Helvetica, sans-serif' font-size="39.5" fill="#231F20">Bearing3-3(IMS)</text>
<text x="416.2" y="1882.5" text-anchor="middle" font-family='"Liberation Sans", Arial, Helvetica, sans-serif' font-size="39.5" fill="#414042">t(10min)</text>
<text transform="translate(26.3 1558.7) rotate(-90)" text-anchor="middle" font-family='"Liberation Sans", Arial, Helvetica, sans-serif' font-size="39.5" fill="#414042">T</text>
<text x="393.4" y="1936.9" text-anchor="middle" font-family='"Liberation Serif", "Times New Roman", serif' font-size="43.3" fill="#231F20">(e)</text>
<rect x="137.6" y="1549.6" width="280.1" height="170.1" fill="#fff" stroke="#4d4d4f" stroke-width="1.1"/>
<path d="M143.2 1573.1H202.4" stroke="#231F20" stroke-width="1.7"/>
<text x="207.8" y="1585.3" font-family='"Liberation Sans", Arial, Helvetica, sans-serif' font-size="32.2" fill="#231F20">True</text>
<path d="M143.2 1614.1H202.4" stroke="#B9529F" stroke-width="0.65" fill="none"/>
<use href="#ast" x="172.8" y="1614.1" stroke="#B9529F"/>
<text x="207.8" y="1625.6" font-family='"Liberation Sans", Arial, Helvetica, sans-serif' font-size="32.3" fill="#231F20">IBA-FELM</text>
<path d="M143.2 1655.4H202.4" stroke="#6ABD45" stroke-width="0.65" fill="none"/>
<use href="#circ" x="172.8" y="1655.4" stroke="#6ABD45"/>
<text x="205.8" y="1667.5" font-family='"Liberation Sans", Arial, Helvetica, sans-serif' font-size="32.3" fill="#231F20">BA-FELM</text>
<path d="M143.2 1696.3H202.4" stroke="#3953A4" stroke-width="0.65" fill="none"/>
<use href="#dia" x="172.8" y="1696.3" stroke="#3953A4"/>
<text x="205.8" y="1708.1" font-family='"Liberation Sans", Arial, Helvetica, sans-serif' font-size="32.3" fill="#231F20">FELM</text>
</g>
<g id="panel-f">
<rect x="957" y="1344.5" width="626.5" height="447.0" fill="none" stroke="#4d4d4f" stroke-width="1.1"/>
<path d="M1155.5 1791.5v-6.4M1155.5 1344.5v6.4M1354 1791.5v-6.4M1354 1344.5v6.4M1552 1791.5v-6.4M1552 1344.5v6.4M957 1493.5h6.4M1583.5 1493.5h-6.4M957 1642.5h6.4M1583.5 1642.5h-6.4" stroke="#4d4d4f" stroke-width="1.1" fill="none"/>
<path d="M954 1662.2l1.8-1.1 1.8 5.2 1.8 10.1 1.8 5.3 1.8 9.7 1.8 19.8 1.8 16.3 1.8-4 1.8 13 1.8 7.1 1.8 3.2 1.8-1.9 1.8-4.7 1.8 .1 1.8 2.6 1.8 .5 1.8 3.1 1.8 .4 1.8-1.4 1.8-2.2 1.8 10.2 1.8-1.6 1.8-6 1.8-5.3 1.8 2 1.8 5.9 1.8 4.9 1.8-3 1.8 1.9 1.8-4.6 1.8-4.4 1.8-2.6 1.8 1.9 1.8 2.6 1.8 4.3 1.8 7.7 1.8-3.6 1.8-.1 1.8-1.7 1.8-.6 1.8-5.8 1.8-3.2 1.8 1.4 1.8 5.9 1.8-3.3 1.8-1.7 1.8-.8 1.8-25.6 1.8-28.1 1.8 .4 1.8-1.3 1.8 3.6 1.8 4.2 1.8 .4 1.8 11.3 1.8 18.2 1.8-9.9 1.8 1.2 1.8 2.2 1.8-5.5 1.8 13.9 1.8 .6 1.8-4.4 1.8-4.9 1.8-1.5 1.8 1.9 1.8 2.9 1.8-4.7 1.8 8.7 1.8 5.5 1.8 3.6 1.8-1.4 1.8-11.1 1.8 4.4 1.8 6.1 1.8-8.6 1.8 12.9 1.8-8.7 1.8-8.1 1.8 .1 1.8 1.3 1.8 3.6 1.8 5.1 1.9 4.3 1.8-8.3 1.8 1.6 1.8 3.1 1.8-16.9 1.8-4 1.8 1.6 1.8 7.4 1.8 4.1 1.8-16 1.8-1.7 1.8 .1 1.8 5.6 1.8-4.7 1.8 4.7 1.8 3.6 1.8-11 1.8 1.3 1.8 3.6 1.8 2.4 1.8-1.1 1.8 .3 1.8 1.3 1.8 1.5 1.8 3.1 1.8 .9 1.8 3.1 1.8 2.5 1.8-4.9 1.8 11.7 1.8-5.7 1.8-4.5 1.8 9.8 1.8-12.4 1.8 4.9 1.8 6.2 1.8-7.3 1.8 3.9 1.8 7.8 1.8 2.9 1.8-17.5 1.8 2.5 1.8-3.7 1.8 1.5 1.8 5.8 1.8 1.9 1.8 11 1.8 6.4 1.8-15.3 1.8 3.4 1.8-3.5 1.8-5.4 1.8-2.5 1.8-1 1.8-10.8 1.8-5 1.8 12.6 1.8-11.3 1.8 2.7 1.8 10.4 1.8 16.9 1.8 4 1.8 0 1.8 .6 1.8-2 1.8-1.3 1.8 .7 1.8 5.9 1.8-1.1 1.8 9 1.8 .3 1.8-.8 1.8 4.7 1.8-9 1.8 2.9 1.8 1.4 1.8-5.1 1.8 3.5 1.8 5.1 1.8 1.5 1.8-6.4 1.8 9.5 1.8 .8 1.8-4.4 1.8-10.4 1.8 1.2 1.8-1.7 1.8 .4 1.8 .6 1.8 7.1 1.8 .3 1.8-6 1.8-9.3 1.8 5.5 1.8 2.3 1.8-1.6 1.8-2.4 1.8 .7 1.8 .5 1.8 1.1 1.8 4.3 1.8-1.2 1.8-3.8 1.8-2.2 1.8 3.9 1.8-5.1 1.8 3.6 1.8 7 1.8-2.2 1.8 .2 1.8-.7 1.8-1.9 1.8-8.9 1.8 5.6 1.8 1 1.8-.8 1.8-1.2 1.8 3 1.8 4.1 1.8 1.4 1.8-4.6 1.8 2.6 1.8-5.3 1.8-1.5 1.8 9.4 1.8-2.8 1.8 1.1 1.8 1.1 1.8-5.5 1.8 .6 1.8 5.8 1.8-.4 1.8-9.7 1.8 1.1 1.8 .7 1.8 1.1 1.8 3.7 1.8-5 1.8 6.2 1.8 7 1.8-1.8 1.8-10.1 1.8 4.4 1.8 1 1.8-14.7 1.8 10 1.8 3.7 1.8-.8 1.8-5.2 1.8 5.1 1.8-6.1 1.8-12.7 1.8-9.5 1.8 1.2 1.8-.6 1.8 1.4 1.8 7.6 1.8 14.4 1.8 7.5 1.8-.2 1.8-1.3 1.8-4.6 1.8-6.2 1.8-2.7 1.8 1 1.8 0 1.9 .6 1.8 .9 1.8 .7 1.8-.2 1.8-1 1.8 2.4 1.8 1.6 1.8-7.3 1.8-2.6 1.8 1.5 1.8 9.3 1.8-2.4 1.8 7 1.8 3.1 1.8-11.1 1.8-.9 1.8 .5 1.8 3.8 1.8-2.6 1.8 1.1 1.8 18.9 1.8 2.5 1.8-7 1.8 5.1 1.8 1.2 1.8 0 1.8 .9 1.8 .4 1.8-2.3 1.8-1.4 1.8 1.6 1.8-.6 1.8-.2 1.8 2.5 1.8-1.2 1.8 .7 1.8 1.4 1.8 1.3 1.8 .2 1.8 3.1 1.8 1.8 1.8-.4 1.8 1.8 1.8 .5 1.8-2 1.8-1.8 1.8-.3 1.8-2 1.8 4.6 1.8 2.4 1.8-3.5 1.8 2.6 1.8 3.1 1.8 3.1 1.8-.8 1.8-2.7 1.8 0 1.8 .5 1.8-1.3 1.8 .3 1.8-15.7 1.8-7.9 1.8 .3 1.8 .2 1.8 2.7 1.8-1.9 1.8-4.1 1.8 3 1.8 2.7 1.8 3.1 1.8-.6 1.8-4.1 1.8-.5 1.8 5.3 1.8 2.3 1.8-1.7 1.8-2 1.8-1.4 1.8-3.6 1.8 4.5 1.8 1.6 1.8-2.1 1.8-5.5 1.2 1.1 0 39.8-1.2-2.3-1.8-4.7-1.8-5.5-1.8-3-1.8-2.9-1.8-.4-1.8 .4-1.8 .9-1.8 1.1-1.8-1.8-1.8-2.1-1.8 .2-1.8 .8-1.8 1.8-1.8 1.5-1.8-.1-1.8-1.2-1.8-2.1-1.8-2.1-1.8 .2-1.8 1.2-1.8 1.4-1.8 7.4-1.8 10.4-1.8-.8-1.8-.8-1.8-.6-1.8 .3-1.8 .2-1.8 0-1.8-.3-1.8 .9-1.8 .9-1.8-1-1.8-.8-1.8 1.5-1.8 1.5-1.8-1.8-1.8-1.6-1.8 1.6-1.8 1.6-1.8 .1-1.8 .1-1.8-.2-1.8 0-1.8-.5-1.8-.5-1.8-1.6-1.8-1.6-1.8 2-1.8 2.2-1.8 .3-1.8-.1-1.8-.9-1.8-1.1-1.8 1.9-1.8 2-1.8-.3-1.8-.2-1.8 .6-1.8 .6-1.8-2.4-1.8-2.6-1.8-.5-1.8-.6-1.8-.1-1.8 .2-1.8 0-1.8 .2-1.8 2.6-1.8 2.5-1.8-.5-1.8-.9-1.8-2.1-1.8-2.1-1.8 1.1-1.8 1.6-1.8-2.1-1.8-2-1.8 .3-1.8 .3-1.8 .1-1.8 .3-1.9 .8-1.8 .7-1.8-.5-1.8-.4-1.8 2.4-1.8 2.3-1.8 .3-1.8 .2-1.8-1.3-1.8-1.4-1.8-1-1.8-.8-1.8 .9-1.8 1.3-1.8 .8-1.8 .7-1.8 .2-1.8-.8-1.8-1.3-1.8-1.4-1.8-1.5-1.8-.3-1.8 2.7-1.8 3.2-1.8 .4-1.8-.4-1.8-1.7-1.8-2.1-1.8 .8-1.8 1-1.8 1-1.8 .6-1.8-1.1-1.8-1.1-1.8-1.5-1.8-1-1.8 .7-1.8 .9-1.8-1.3-1.8-1.6-1.8 .7-1.8 1.1-1.8 1.6-1.8 1.5-1.8-.3-1.8-1-1.8 .5-1.8 .4-1.8-.8-1.8-.1-1.8 0-1.8 .1-1.8-1.6-1.8-1.7-1.8 .4-1.8 .9-1.8 .5-1.8 .1-1.8 2.8-1.8 1.9-1.8-1.2-1.8-1.2-1.8-3.2-1.8-2.4-1.8 1.3-1.8 1.2-1.8-.5-1.8-.4-1.8-.5-1.8-.4-1.8 1-1.8 1-1.8 .6-1.8 1.1-1.8 .6-1.8 .7-1.8-1.4-1.8-2-1.8-.9-1.8-1-1.8-.5-1.8-.1-1.8 1.7-1.8 2.2-1.8 .9-1.8 .7-1.8-.7-1.8-.7-1.8 .3-1.8 .3-1.8 .2-1.8 .1-1.8 .6-1.8 .7-1.8-.8-1.8-.9-1.8 2-1.8 2.1-1.8-.4-1.8-.3-1.8 .2-1.8-.2-1.8-2.6-1.8-2.6-1.8-.1-1.8 .2-1.8 .9-1.8 .8-1.8 .3-1.8 .5-1.8-1.4-1.8-1.6-1.8-1-1.8-.9-1.8 1.5-1.8 2.1-1.8 1.4-1.8 1.3-1.8 .3-1.8-.4-1.8 .9-1.8 .8-1.8-2.4-1.8-2.1-1.8 .5-1.8 0-1.8-1.5-1.8-1.3-1.8 1-1.8 1.8-1.8 1-1.8 1.1-1.8-.8-1.8-1.3-1.8 .4-1.8 .4-1.8-.4-1.8-.3-1.8 .7-1.8 .7-1.8-1.6-1.8-1.4-1.8 1.4-1.8 1.2-1.8-2.8-1.8-2.9-1.8 .2-1.8 .4-1.8 1.3-1.8 1.3-1.8-1.3-1.8-1.3-1.8 1.5-1.8 1.9-1.8 1.5-1.8 1.2-1.8 1-1.8 .3-1.8-3.1-1.8-3.2-1.8 1.6-1.8 2-1.8-.6-1.8-.6-1.8-.1-1.8-.4-1.9 1.2-1.8 1.5-1.8 1.6-1.8 1.5-1.8-2.5-1.8-3.1-1.8 .9-1.8 .9-1.8-1.5-1.8-1-1.8-.6-1.8-.6-1.8 1.8-1.8 1.7-1.8-1.1-1.8-1.2-1.8 2-1.8 2-1.8-.2-1.8-.3-1.8-.4-1.8-.5-1.8-.7-1.8-.7-1.8-.1-1.8-.3-1.8-.9-1.8-.8-1.8 .9-1.8 1.2-1.8 .6-1.8 .5-1.8 1.2-1.8 1.1-1.8-.5-1.8-.5-1.8 .3-1.8 .6-1.8-.7-1.8-.5-1.8-.1-1.8-.4-1.8-.1-1.8-.7-1.8 0-1.8 .3-1.8 0-1.8 .3-1.8-.9-1.8-.9-1.8 1.1-1.8 1-1.8-2.9-1.8-3.1-1.8 .7-1.8 1.1-1.8 .8-1.8 1.1-1.8-1.2-1.8-1.3-1.8 .5-1.8 1-1.8 1.1-1.8 1-1.8 .6-1.8-.3-1.8 1.2-1.8 .9-1.8-1.4-1.8-1-1.8-.1-1.8-.7-1.8-1.9-1.8-1.8-1.8 .7-1.8-2.2-1.8-3.8-1.8-3.8-1.8-3.5-1.8-12.2-1.8-12.4-1.8-11.5-1.8-10.2-1.8-10.4z" fill="#B9529F"/>
<path d="M954 1717.8l.6-58.9 .6 64.9 .6 3.6 .6 4.1 .6-57.3 .6-9.8 .6 76.9 .6-11.6 .6-43.3 .6-11.5 .6 25.9 .6 4 .6-22.8 .6 33.5 .6-26.7 .6 48.3 .6-28.2 .6 68.4 .6-12.7 .6-27.9 .6-9.2 .6 55.3 .6-64.6 .6 26 .6-11.8 .6 54.9 .6-33.8 .6-4.5 .6 24.2 .6-32.9 .6 42.6 .6-9.1 .6-29.5 .6 22 .6 23.6 .6-3.7 .6 1.1 .6 3.1 .6-53.4 .6 41.8 .6 12.6 .6-6.5 .6 6 .6 .2 .6-51.4 .6 4.3 .6 49.2 .6-23.2 .6 17.2 .6-6.1 .6 0 .6 10.7 .6-24.5 .6-6.3 .6-14.4 .6 44.9 .6-36 .6 36.1 .6-5 .6-18 .6-26.4 .6 48.4 .6 .1 .6-1.5 .6-38.8 .6 38.9 .6-37.4 .6-5.7 .6 41.8 .6-25.2 .6 25.2 .6-33.5 .6 8.5 .6-19.5 .6 35.7 .6-38.3 .6 48.7 .6-30.1 .6 10 .6 19.5 .6-39.1 .6 38.6 .6-40.9 .6 35.2 .6-34.5 .6 .6 .6 9.6 .6-3.9 .6 7.3 .6-9.7 .6-9.1 .6 45.1 .6-48.3 .6 51.3 .6-52.8 .6 20.8 .6 3.6 .6 10.1 .6 9.1 .6-41.9 .6 49.9 .6-31.4 .6 2 .6-15.1 .6 22.8 .6-19.2 .6 3 .6 3.5 .6 11.7 .6-4.7 .6 29.5 .6-28.9 .6 28 .6-34.6 .6 33.7 .6-15.8 .6 16.8 .6-.4 .6-36.1 .6 25.1 .6-2.5 .6-32.6 .6 47.4 .6-40 .6 7 .6-5.8 .6 14 .6 25.2 .6-22.2 .6 22.7 .6-21 .6-7.3 .6 28.1 .6-48.2 .6 48.3 .6-50.5 .6 32.7 .6-33.8 .6 52.8 .6-.5 .6-10.6 .6-10 .6-37.8 .6-4.7 .6 61 .6-62.1 .6-5.4 .6-36.4 .6 71.8 .6-22.2 .6 56.2 .6-107.3 .6 35.4 .6-33.5 .6 103.6 .6-28.5 .6 28.2 .6-98.7 .6 .7 .6 97.4 .6-12.2 .6 12.3 .6-93.3 .6 3 .6 88.3 .6-51.1 .6 48.9 .6-61.2 .6 62.8 .6-71.1 .6 8.5 .6 3.6 .6-16.1 .6 77.5 .6 .2 .6-1.9 .6-71 .6 72.3 .6-77.5 .6 20.7 .6 9.4 .6 19.3 .6-8.1 .6 18.5 .6-35.7 .6 54.3 .6-7.7 .6 9.3 .6-52.2 .6 52.5 .6 .2 .6-76.6 .6 44.2 .6 28.1 .6-21.6 .6 14.8 .6-65.9 .6 8.4 .6 16.8 .6 51.3 .6-72.5 .6 46.6 .6 22.8 .6-74.4 .6 48.9 .6-43.6 .6 49.1 .6-43.6 .6 66 .6-33.5 .6 32.1 .6 .5 .6-14.4 .6-25.2 .6-8.4 .6 44.9 .6 .2 .6-62.9 .6 44 .6-39.8 .6 59.9 .6-64.2 .6 64.5 .6-56.4 .6 35.7 .6-10.3 .6 32.5 .6-47.9 .6 48.5 .6-20.4 .6-6.4 .6 25.8 .6-57.2 .6 24 .6 3.8 .6-29.1 .6 3.6 .6-17.2 .6 58 .6 19.4 .6-.7 .6-17.5 .6 16.2 .6-38.9 .6 .6 .6-32 .6 68.2 .6-63.8 .6 10.2 .7-8.1 .6 38.3 .6-25.8 .6 21.8 .6-35.3 .6-4.1 .6-2.4 .6 8.9 .6 58.9 .6-58.5 .6 29.4 .6-31.5 .6 61 .6 .2 .6-78 .6 56.1 .6-59.9 .6 79.6 .6-.3 .6-26.7 .6-51.1 .6 68.9 .6-62.8 .6 72.3 .6-5.8 .6 10.3 .6-40 .6 41 .6-72.5 .6-4.4 .6-10.6 .6 13.6 .6-16.6 .6-.8 .6 84.2 .6-67.1 .6 10.5 .6 1.4 .6 58.3 .6-25.7 .6 7 .6 15.7 .6-76.8 .6-5.9 .6 69.3 .6-41.6 .6-14.9 .6 70.4 .6 .3 .6 .5 .6 .3 .6-8.8 .6 8.6 .6-31.3 .6 1 .6 27.5 .6 .7 .6-2.4 .6-16.9 .6-47.8 .6-2.2 .6 15.4 .6-13.5 .6-11.2 .6 79.1 .6-78.3 .6 16.9 .6 6.2 .6 6.6 .6-9 .6 30 .6 30.9 .6-35.9 .6 34.1 .6-74.1 .6 74.9 .6-74.6 .6 .1 .6 57.8 .6 18.6 .6 .9 .6-.4 .6-21.6 .6-49.6 .6-2.1 .6-2.2 .6 74.5 .6-1 .6-44.1 .6 .8 .6-16.4 .6 61.2 .6-.4 .6-73.7 .6-1.8 .6 1.7 .6 31.1 .6-23.3 .6 4.3 .6-5.7 .6 67.4 .6-1.3 .6 2.3 .6-76.7 .6 4 .6 6.3 .6 60.3 .6 5.6 .6-69.2 .6 27.1 .6 17.3 .6-47.7 .6 33.8 .6 17 .6-45.5 .6 14 .6-8.3 .6 8.1 .6 50.3 .6-14.1 .6-48.6 .6-6.5 .6 71.3 .6-70.6 .6 70.2 .6-.3 .6-16.2 .6 16 .6-58.7 .6 43.2 .6-44.8 .6-3.9 .6 68.1 .6-36.2 .6 37.6 .6-3 .6-52.3 .6 54.5 .6-61.3 .6 19.8 .6 40.6 .6-47.6 .6 12.5 .6 34.6 .6-15.9 .6-47.9 .6 21.5 .6-7 .6 48.1 .6-62.1 .6 61.2 .6 .2 .6-45.8 .6-21.6 .6 59.1 .6-.7 .6 5.8 .6-9.2 .6-60.3 .6 18.9 .6-18.5 .6-1.4 .6 32.4 .6 4.4 .6-39.3 .6 74.2 .6-26.5 .6-9.6 .6-49 .6 88.1 .6-77.9 .6 77.4 .6-35.1 .6-27.6 .6 39.5 .6-64.9 .6 2.5 .6 84.6 .6-79.9 .6 4.7 .6 73.7 .6-60.9 .6 5.9 .6 54.9 .6-22.8 .6 23.1 .6 0 .6-51.8 .6-1 .6 .6 .6 .6 .6 24.2 .6 31.3 .6-47.4 .6-10.1 .6 56.8 .6-57.6 .6-.9 .6 13.8 .6 46.6 .6-59.5 .6 17 .6-10.8 .6-.7 .6 54.1 .6-6.6 .6-.4 .6-46.4 .6 7.9 .6 43.5 .6-31.4 .6-11.2 .6-1.6 .6 18.8 .6-14.1 .6 39.3 .6-10.4 .6-29.8 .6 35.3 .6 5.6 .6-2.1 .6 1.4 .6-42.6 .6 41.2 .6-44.8 .6 2.7 .6 42.4 .6-9 .6-27.9 .6 22.9 .6-11.4 .6 23.2 .6 1.4 .6-29.2 .6 25.7 .6-33.9 .6-1.8 .6 20.6 .6-16.7 .6 9.7 .6 3.3 .6 23.4 .6-44.5 .6 1 .6 3.9 .6 4 .6 35.2 .6-32.3 .6 3.1 .6-6.3 .6 14 .6-6.1 .6-11.2 .6 7.9 .6 9.1 .6 6.8 .6-20.8 .6 19.8 .6-20.7 .6 32.8 .6-.8 .6-45.2 .6 46.4 .6-17.2 .6-27.9 .6 39.7 .6 6.8 .6-11 .6 12 .6-39.8 .6 38.9 .6 3.5 .6-.9 .6-32.7 .6 32.5 .6 .6 .6-14.1 .6-37.5 .6 50.1 .6-55.7 .6 50.4 .6-45.4 .6 34.6 .6 15.4 .6-47.2 .6 38.1 .6 5.4 .6-45.4 .6 39.9 .6-19.8 .6 11.6 .6 10.8 .6 4.4 .6-.2 .6-15.5 .6 13.9 .6-45.7 .6 22.4 .6 1.4 .6 23.9 .6 1.2 .6-35.2 .6-9 .6 24.6 .6-25.3 .6 42.6 .6-42.9 .6 19.7 .6 20.1 .6-45.3 .6 11.5 .6-12.4 .6 32.2 .6-17.4 .6-10.2 .6 50.1 .6 .3 .6-31.4 .6 32.5 .6-52.9 .6-.8 .6 19.4 .6-11.5 .6 30.9 .6-18.7 .6 29.9 .6-44.8 .6 23.5 .6 18.5 .6 2.7 .6-44.8 .6 21.6 .6 17.4 .6-19.3 .6-8.9 .6 32.2 .6-.4 .6-52.9 .6 46.6 .6 6.7 .6-36.4 .6 25.2 .6 13.9 .6-50.7 .6 50.7 .6-36.1 .6 2.7 .6 34.3 .6 .1 .6-46.8 .6 46.8 .6-52.8 .6 1.2 .6 15.5 .6-3.1 .6 5.9 .6 31.7 .6-26.7 .6 29 .6-.6 .6-41.3 .6 40.4 .6-30.3 .6 31.4 .6-41.9 .6 42.4 .6-25.8 .6-15.9 .6 25.4 .6-39.1 .6 54.6 .6-.9 .6-6 .6-8.1 .6-28.9 .6-.8 .6-1.1 .6 42.1 .6 .4 .6-1.3 .6-.1 .6 .2 .6 1.3 .6-40.9 .6 13.3 .6-2.8 .6-10 .6 30.4 .6 6.8 .6-13.2 .6 7.8 .6 9.4 .6-.1 .6-19.8 .6-14.1 .6 35.1 .6 .2 .6-22.9 .6-30.1 .6 13 .6 41 .6-29.8 .6 30.8 .6 1.1 .6-46.5 .6 7.3 .6 26.2 .6 7.5 .6-27.6 .6 .9 .6-16.8 .6 36 .6 10.7 .6-.6 .6-48.4 .6 28 .6-24.4 .6 15.3 .6 30.3 .6-38.5 .6-.4 .6 15.6 .6-17.9 .6 44.1 .6-18.1 .6 17.9 .6-38.4 .6 14.1 .6 3.9 .6 12.8 .6 5.1 .6-2.1 .6-.2 .6-.7 .6-55.4 .6 18.2 .6-3.6 .6-6.9 .6 3.9 .6 44 .6-44 .6-.2 .6 46.4 .6-46.7 .6 10.8 .6 18.3 .6 18.6 .6 .1 .6-50.7 .6 51.8 .6 .3 .6-49.8 .6-5.4 .6 50.6 .6-35.5 .6-27.9 .6-3.3 .6 35.1 .6-41.8 .6-.2 .6 15.9 .6 29.6 .6-30.9 .6 46.1 .6-29.6 .6-30.3 .6 41 .6-10 .6-16.2 .6-8.5 .6 2.7 .6 42.3 .6 23.8 .6-51.8 .6 53 .6-13.8 .6-14.5 .6 22.6 .6-14.4 .6 21 .6-24.4 .6 23.8 .6-13.7 .6 14.4 .6-1.6 .6-.7 .6-1.3 .6-1.4 .6-20 .6-35.1 .6 54.6 .6 1 .6-53.3 .6 8.3 .6 45 .6-12.6 .6-38.3 .6-1.3 .6-3.3 .7 32.2 .6-31.8 .6 53.9 .6 .5 .6-29.1 .6-21.1 .6 41.2 .6 .6 .6-36.1 .6 26.9 .6-35.6 .6 .7 .6 27.7 .6 23.4 .6-43 .6 11.8 .6 28.2 .6-9.9 .6 16.6 .6-52.1 .6-2.1 .6-2.2 .6-3 .6-2.2 .6 23.1 .6-13.5 .6-10.2 .6 60.9 .6-5.3 .6-39 .6 46.7 .6 1.1 .6 .3 .6-55.3 .6 55.6 .6-4.6 .6-49.2 .6 23.4 .6 8.1 .6-21.7 .6-2.1 .6 43.6 .6-53.7 .6 51.9 .6-54.2 .6 23.9 .6-24.5 .6 54.9 .6-49.8 .6 48.3 .6-27.5 .6-20.9 .6-.6 .6-.4 .6-1.4 .6 51.3 .6-50.8 .6 11.6 .6 39.7 .6 1.2 .6-16.8 .6 16 .6-9.3 .6 10.1 .6 2.6 .6-37.6 .6 39.8 .6-42.3 .6 42.7 .6-11.5 .6 10.3 .6-23.8 .6-11.1 .6-.6 .6 32.5 .6-19.7 .6-4.8 .6-6.9 .6 10.4 .6 20.8 .6-30.7 .6 33.2 .6-33.5 .6 30.7 .6-30.8 .6 17.4 .6 2 .6 8.7 .6-31.1 .6 6.4 .6 11.4 .6-5.7 .6 16.8 .6 7.1 .6-35 .6 16.5 .6-17.5 .6 35.2 .6-33.9 .6 30 .6-23.3 .6 23.4 .6-6.7 .6-23 .6 30.2 .6-29.3 .6 30.5 .6-2.9 .6-.7 .6 5 .6-2 .6-18.1 .6 9.6 .6-19.4 .6 31 .6 .3 .6-29.7 .6 7.5 .6-5.7 .6 .6 .6 1 .6 2.3 .6 11.3 .6-12.6 .6 20.2 .6-20.7 .6 3.8 .6 .8 .6-2.8 .6 3.2 .6 18.2 .6-12 .6-6.1 .6-5.2 .6-1 .6 12.7 .6-14 .6 10.4 .6 17.5 .6 .4 .6-28.9 .6 27.7 .6-1.3 .6-16.9 .6-7.8 .6 4.2 .6-.6 .6 1.8 .6 11.2 .6 8.7 .6 .3 .6-22.1 .6-2.3 .6 11.2 .6-8.9 .6 9.8 .6-8.4 .6 1.7 .6 17.2 .6-2.1 .6-3.7 .6-8.7 .6-.7 .6 13.5 .6-9.2 .6-6.1 .6 9.7 .6 7.1 .6-.4 .6-16.8 .6 .3 .6 15.9 .6 2 .6-13.9 .6-1.3 .6-3.7 .6-.2 .6 20.1 .6-20 .6 17.8 .6-3.9 .6-18 .6 9.4 .6-3.8 .6 1.2 .6-26.3 .6 2.8 .6-2.6 .6 24.1 .6-24.2 .6 11.4 .6-7.5 .6 19.3 .6-.8 .6-19 .6-.6 .6 22.2 .6-15.7 .6 17.4 .6-1.5 .6-28 .6 30.5 .6-28.2 .6 1.3 .6 22.8 .6 5.1 .6-.2 .6-8.9 .6-14 .6 9.9 .6-10.9 .6 20.3 .6-1 .6-4.7 .6-18.7 .6-1.3 .6 8.9 .6 5 .6 8.5 .6 3.4 .6-19.2 .6 21.6 .6-19.5 .6 .6 .6 1.7 .6 16.1 .6-19.6 .6 8.6 .6-2.3 .6 0 .6 12.9 .6-6.2 .6-17.4 .6-1 .6-1.2 .6 23.9 .6 2.7 .6-24 .6 11.8 .6-4.9 .6 21.3 .6-.4 .6-14.6 .6 .8 .6 1.3 .6 17.2 .6 5.2 .6 1.7 .6-22.5 .6-20.2" class="a"/>
<path d="M1553 1793.5l.5-.1 .5 .3 .5-146.8 .5-.2 .5 104.9 .5 40.8 .5-145.9 .5-.7 .5 .3 .5 146.4 .5-27.4 .5-27.5 .5 42.6 .5 12.3 .5-47 .5 27.2 .5-128.3 .5 145 .5-61.4 .5 24.3 .5 2.8 .5 36.7 .5-62.4 .5 52.6 .5-37.2 .5 8.9 .5 38.3 .5-148 .5 25.4 .5-25 .5 145 .5-144.9 .5 1 .5-.2 .5 110.9 .5-109.6 .5-.3 .5 133.8 .5-92.9 .5 102 .5 .4 .5-142.6 .5 117.7 .5 4.5 .5-17.5 .5 30.6 .5-26.1 .5-42.4 .5-64.4 .5 57.2 .5-30.9 .5 72 .5 42.9 .5-48.2 .5 48.2 .5-141.6 .5 125.4 .5-38.1 .5-1.3 .5-86.1 .5 141.8 .5 .1 .5-141.7 .5 117.3 .5 6.7 .5 19.5 .5-2.9 .5 2.9 .5-60.9 .5 61.1" class="a"/>
<path d="M1568.4 1650l0-89 .2 11 .4 19 4 10 4 22 1 27" class="a"/>
<path d="M1039 1700l1.5-28 1.5 18 1.5-22 1.5 16 1.5-14 1.5 18 1.5-14 1.5 26" class="a"/>
<path d="M957 1589.2l1.8 5.2 1.8 5.8 1.8 5.7 1.8 5.9 1.8 4.4 1.8 5 1.8 6.8 1.8 6.9 1.8 5.8 1.8 5.1 1.8 5.5 1.8 5.3 1.8 1.9 1.8 1.6 1.8 2.1 1.8 2.4 1.8 3.3 1.8 3.1 1.8 1.7 1.8 1.3 1.8 .9 1.8 1 1.8 1.4 1.8-.2 1.8 .3 1.8 .4 1.8 0 1.8-.1 1.8-.7 1.8-.4 1.8 1.6 1.8 1.4 1.8 .2 1.8 .3 1.8 1.4 1.8 1.4 1.8-.4 1.8-.4 1.8 .7 1.8 .4 1.8-.7 1.8-.7 1.8 1.3 1.8 1.7 1.8 .8 1.8 .6 1.8 .5 1.8 .3 1.8-.2 1.8-.1 1.8 2.8 1.8 3 1.8 1.6 1.8 1.7 1.8 1.6 1.8 1.4 1.8 1.7 1.8 1.2 1.8 .3 1.8-.1 1.8 2 1.8 2.4 1.8 1.2 1.8 1.2 1.8 .5 1.8 .1 1.8-.4 1.8-.4 1.8 1.7 1.8 2.1 1.8-.3 1.8 0 1.8 1.2 1.8 1 1.8 1.5 1.8 1.2 1.8-.3 1.8-.2 1.8 .9 1.8 1.2 1.8-.4 1.8-.2 1.9 .9 1.8 .4 1.8 2.4 1.8 2.4 1.8 1 1.8 1.2 1.8 3.4 1.8 3.9 1.8 2.7 1.8 .6 1.8 .4 1.8-.1 1.8-.6 1.8-.7 1.8-2 1.8-2 1.8 .2 1.8 1.2 1.8 .5 1.8 .6 1.8 1.9 1.8 1.6 1.8-1.1 1.8-1.1 1.8 1.1 1.8 1 1.8 1.9 1.8 2.1 1.8-.6 1.8-1.1 1.8 .6 1.8 .5 1.8 0 1.8 .1 1.8 .3 1.8 .2 1.8 1.2 1.8 1.2 1.8-1.3 1.8-1.2 1.8 1.6 1.8 1.6 1.8-.6 1.8-.7 1.8 1.1 1.8 1.1 1.8-.8 1.8-.8 1.8 .7 1.8 .8 1.8-3.4 1.8-4.6 1.8-7.7 1.8-1.7 1.8 1.5 1.8 1.5 1.8-.4 1.8-.7 1.8 1.8 1.8 8.4 1.8 7.2 1.8 2.3 1.8 1.5 1.8 1.7 1.8 .9 1.8 .4 1.8 .3 1.8 .3 1.8-1.2 1.8-1.3 1.8 1.2 1.8 1.3 1.8-.6 1.8-.1 1.8 1.6 1.8 1.5 1.8 .6 1.8 .1 1.8-.8 1.8-.8 1.8-.8 1.8-.2 1.8 .3 1.8 .5 1.8-.2 1.8-.3 1.8 1.6 1.8 1.6 1.8-3.8 1.8-5.8 1.8-3.5 1.8 .4 1.8 .5 1.8 .5 1.8-.4 1.8-.6 1.8-1 1.8-1.2 1.8 0 1.8 .1 1.8-.5 1.8-.3 1.8 .6 1.8 .4 1.8 .9 1.8 .6 1.8-.7 1.8-.8 1.8-1.2 1.8-1.3 1.8-.1 1.8-.3 1.8-1.1 1.8-.7 1.8 1.4 1.8 1.7 1.8 .9 1.8 .9 1.8-.2 1.8-.1 1.8 .4 1.8 .4 1.8 .9 1.8 .8 1.8 1 1.8 1 1.8-.1 1.8-1.9 1.8-3.4 1.8-3.4 1.8-1.5 1.8-1.5 1.8-3 1.8-3 1.8-3.3 1.8-2.4 1.8-.5 1.8-.6 1.8 .3 1.8 .3 1.8 .1 1.8 .3 1.8-.7 1.8-.4 1.8 .7 1.8 .5 1.8 0 1.8-.7 1.8-1.3 1.8-1.3 1.8-.2 1.8 1.5 1.8 1.2 1.8 1.4 1.8 .9 1.8 1.7 1.8 2.9 1.8 2.7 1.8 3.3 1.8 1.4 1.8-2 1.8-1.8 1.8 .4 1.8 .3 1.8-1.7 1.8-1.7 1.9-1.7 1.8-1.7 1.8-1.2 1.8-1.3 1.8-1.3 1.8-3.9 1.8-4.7 1.8-4.5 1.8-3.6 1.8-3.4 1.8-5.1 1.8-5 1.8-2.7 1.8-2.7 1.8-3.2 1.8-.4 1.8 .4 1.8 0 1.8 .5 1.8 .3 1.8-1.4 1.8-1.4 1.8 1.3 1.8 1.3 1.8-.9 1.8-.8 1.8 2.4 1.8 3.9 1.8 2.2 1.8 .2 1.8 1 1.8 .9 1.8 .2 1.8 .5 1.8 0 1.8 0 1.8-.6 1.8-1.2 1.8 .2 1.8 .1 1.8 .2 1.8 .8 1.8-.4 1.8-.2 1.8 1.8 1.8 .9 1.8-1.7 1.8-1.8 1.8 .4 1.8 .6 1.8-1.1 1.8-1.2 1.8-.7 1.8-1.1 1.8-1.4 1.8-1.3 1.8-1.6 1.8-1.7 1.8-1.3 1.8-.7 1.8-.8 1.8-.7 1.8-1.1 1.8-1.2 1.8 2 1.8 2.3 1.8-.1 1.8-.6 1.8 1.5 1.8 1.5 1.8 .2 1.8 .4 1.8 .2 1.8 0 1.8 .5 1.8 .4 1.8 .4 1.8 .5 1.8-.3 1.8-.2 1.8 1.5 1.8 1.5 1.8 1.1 0 64.3-1.8 .3-1.8-.6-1.8-.7-1.8-1.6-1.8-1.3-1.8 1.4-1.8 1.3-1.8-.6-1.8-.6-1.8-1.5-1.8-1.5-1.8 .7-1.8 .6-1.8-.2-1.8 0-1.8 .8-1.8 .8-1.8-.5-1.8-.7-1.8 .8-1.8 .8-1.8 2.8-1.8 2.9-1.8 2-1.8-.8-1.8 .1-1.8 0-1.8 .2-1.8 0-1.8 .3-1.8 .3-1.8-2-1.8-1.7-1.8 .9-1.8 .9-1.8-.2-1.8-.1-1.8 .1-1.8 .3-1.8 0-1.8-.2-1.8-.2-1.8 0-1.8 0-1.8 0-1.8 1.1-1.8 .7-1.8-2.1-1.8-2.3-1.8 .9-1.8 1.3-1.8-1.7-1.8-1.8-1.8 .8-1.8 1-1.8-1.2-1.8-1-1.8 1-1.8 .9-1.8-1.2-1.8-1.2-1.8 .9-1.8 11-1.8 24.2-1.8-.2-1.8-.3-1.8 0-1.8 .3-1.8 .2-1.8 1.5-1.8 1.2-1.8-1.8-1.8-1.7-1.8 0-1.8 0-1.8-.5-1.8-.6-1.8 1-1.8 1.1-1.8 .2-1.8 .4-1.8 .8-1.9 .6-1.8-.4-1.8-.3-1.8-.2-1.8-.2-1.8 .8-1.8 .6-1.8-.6-1.8-.9-1.8-2.2-1.8-1.8-1.8 1.7-1.8 1.6-1.8-.5-1.8-.6-1.8-.1-1.8-.1-1.8 0-1.8-.1-1.8 .5-1.8 .4-1.8 .2-1.8 .2-1.8-.2-1.8-.4-1.8 .1-1.8-.1-1.8 .1-1.8 .1-1.8-.2-1.8-.3-1.8-.6-1.8-.6-1.8-.4-1.8-.2-1.8 .3-1.8 .4-1.8 .9-1.8 .7-1.8-.5-1.8-.4-1.8 .5-1.8 .4-1.8 .3-1.8 .4-1.8 .7-1.8 .7-1.8-.7-1.8-.8-1.8-.1-1.8-.1-1.8 .9-1.8 1-1.8 .2-1.8 .3-1.8-1-1.8-1-1.8 1.1-1.8 .7-1.8-.8-1.8-.8-1.8-2-1.8-1.4-1.8 .7-1.8 .9-1.8 1.5-1.8 1.3-1.8-.2-1.8-.2-1.8-1-1.8-.9-1.8 1-1.8 1.2-1.8-1.2-1.8-1.1-1.8 .9-1.8 .7-1.8 .6-1.8 .7-1.8-.6-1.8-.5-1.8-.6-1.8-.4-1.8 .5-1.8 .5-1.8-.7-1.8-.9-1.8 1.3-1.8 1.3-1.8-1.3-1.8-1.1-1.8 .1-1.8 .1-1.8 .6-1.8 .4-1.8 .1-1.8-.2-1.8-.8-1.8-.6-1.8 .6-1.8 .7-1.8 0-1.8 0-1.8-1.7-1.8-1.6-1.8 1.5-1.8 1.5-1.8-.4-1.8-.5-1.8-.7-1.8-.2-1.8 2.1-1.8 1.8-1.8-.1-1.8-.9-1.8-1.3-1.8-1.3-1.8-.3-1.8 .4-1.8 .7-1.8 .9-1.8 .8-1.8 .4-1.8-.5-1.8-.4-1.8 .6-1.8 .6-1.8 .2-1.8 0-1.8-.3-1.8-.3-1.8 0-1.8 .1-1.8-.4-1.8-.5-1.8-1.3-1.8-1.3-1.8 1.5-1.8 1.6-1.8-.8-1.8-1-1.8 .9-1.8 .3-1.8-.4-1.8-.4-1.8-.2-1.8 .2-1.8 .5-1.8 .6-1.8-.6-1.8-.7-1.8 .8-1.8 .7-1.8-1.1-1.8-1.1-1.8 .2-1.8 .1-1.8-.7-1.8-.7-1.8 0-1.8 .3-1.8 1.1-1.8 1.3-1.8-.4-1.8-.7-1.8 .2-1.9 .2-1.8 .6-1.8 .6-1.8-.4-1.8-.1-1.8 .4-1.8 .4-1.8 .9-1.8 .5-1.8-2.1-1.8-2.5-1.8-.5-1.8-.1-1.8 .6-1.8 .8-1.8 .6-1.8 .4-1.8 .8-1.8 .8-1.8-.1-1.8-.1-1.8 .6-1.8 .4-1.8-.4-1.8-.4-1.8-.7-1.8-.6-1.8 .8-1.8 .6-1.8-.1-1.8-2.4-1.8-11.1-1.8-11-1.8-.7-1.8-.5-1.8-.4-1.8-.5-1.8 0-1.8 .1-1.8 1.2-1.8 1-1.8-1.1-1.8-1.6-1.8 .2-1.8 .5-1.8-1.5-1.8-1.1-1.8 .9-1.8 .9-1.8 .9-1.8 .6-1.8-1-1.8-1.1-1.8-.7-1.8-.4-1.8-.1-1.8 .3-1.8 1.2-1.8 .9-1.8-1.7-1.8-2.4-1.8-2-1.8-1.9-1.8-2.2-1.8-1.7-1.8-1.1-1.8-.9-1.8 .3-1.8 .1-1.8-.8-1.8-.7-1.8-1.4-1.8-3.7-1.8-3.1-1.8-3.5-1.8-3.9-1.8-3.8-1.8-4.3-1.8-15.2-1.8-14.2-1.8-14-1.8-14.3-1.8-14.7z" fill="#6ABD45"/>
<path d="M957 1605.3l.6-6.8 .6 22.4 .6 28.8 .6 23.6 .6-16.1 .6-17.2 .6 48.1 .6 4.1 .6 5.5 .6-88.4 .6 98 .6 3.8 .6-13.8 .6 24.4 .6-37.8 .6 0 .6 45.8 .6-76.8 .6 79.6 .6 .5 .6-99.7 .6 71.9 .6-9 .6-59.8 .6 8.6 .6 80.6 .6 15.4 .6-61.6 .6-11.7 .6 77.7 .6 1.6 .6-70 .6 41.4 .6-64.4 .6 11.2 .6-8 .6 93.3 .6-30.8 .6-59 .6 90.1 .6-89.6 .6 .2 .6 57.5 .6-40.1 .6 55.8 .6-26.9 .6 16.3 .6 26.3 .6-6.2 .6-42.1 .6 50.4 .6-15.4 .6-65.5 .6 60.8 .6 22.2 .6-.3 .6-1.8 .6-36.8 .6 2 .6 14.7 .6 13 .6-69.7 .6 42.2 .6-41.1 .6 72.8 .6-42.3 .6 51.9 .6-69.1 .6 39.4 .6-50.9 .6 27.4 .6-27.3 .6 87.1 .6-5.4 .6-20.4 .6-3.5 .6 27.2 .6-80 .6 79.6 .6-69 .6 16.2 .6 52.7 .6-45 .6-38.6 .6-.3 .6 84.4 .6-.7 .6-84.8 .6 65.5 .6 1.8 .6-18.9 .6 23.5 .6 14.8 .6-5.2 .6-27.9 .6 9.1 .6-59.4 .6 53.9 .6-17.1 .6 4.3 .6 38.7 .6-73.8 .6 76.1 .6-59.9 .6 59.7 .6-80.4 .6 37.1 .6 27.2 .6-33.1 .6 20 .6 30.2 .6-23.5 .6 6.3 .6-28.2 .6 19 .6 26.1 .6-23.5 .6-36.3 .6-20.3 .6 80.5 .6-8.5 .6-19.1 .6-28 .6 8.1 .6-32.6 .6 80.3 .6 3.1 .6-83.5 .6 82.8 .6-1.2 .6-5.2 .6 4.6 .6 .7 .6-14 .6 13.5 .6-.3 .6-78.1 .6 29.3 .6-29.3 .6 1.2 .6-.7 .6 19.5 .6-19.2 .6 78.9 .6-36.9 .6 28.5 .6 5 .6 3.8 .6-79.2 .6 34.8 .6 9.3 .6 42.9 .6-57.7 .6 64.5 .6-27 .6 18.9 .6-79.3 .6 7.8 .6 28.6 .6-28.7 .6 26.3 .6 33.6 .6-45.7 .6-18.3 .6 64.1 .6-63.5 .6 53.5 .6 38.1 .6-59 .6-24.6 .6 27.1 .6 32 .6 .1 .6 26.7 .6-67.8 .6 36.6 .6 30.9 .6-89.4 .6 4.6 .6 82.6 .6-85.6 .6 88.2 .6 .3 .6-18.2 .6-22 .6 19.4 .6-63.6 .6 83.7 .6-.4 .6-82.6 .6 82.7 .6-58.8 .6-7.1 .6-16 .6 65.5 .6 7.3 .6-19.1 .6-40.5 .6 35.9 .6-29.7 .6 49.2 .6 11 .6-5.4 .6-74.2 .6 19.1 .6 45.1 .6 14.7 .6-76.3 .6 55.4 .6-30.3 .6 18.8 .6 5 .6 26.4 .6-42.5 .6 19.9 .6 3.9 .6-44.2 .6-10.8 .6 25.8 .6-25 .6-.3 .6 78.8 .6-57.3 .6 56.8 .6-75.5 .6 29.9 .6 44 .6 .6 .6-12.7 .6 11.9 .6-63.7 .6-2.8 .6-7.1 .6 41.1 .6-13 .6-13 .6-13.6 .6-.1 .6 0 .6 .4 .6 42.7 .6-42.2 .6 .1 .6 58.5 .6-25.8 .6-9 .6-24.3 .6 44.5 .7 22.9 .6-48.9 .6-17.8 .6 70.4 .6-17.3 .6-51.3 .6 68.8 .6-22.2 .6-43.8 .6 50.7 .6-23.3 .6 21 .6-36.1 .6 42.5 .6 9 .6-3.8 .6-56.3 .6 27.4 .6-24.5 .6 13.6 .6 3.3 .6-13.6 .6 18.5 .6 35.9 .6-50.9 .6 41.5 .6 10 .6-51.1 .6 13.2 .6 38 .6-.2 .6-50.7 .6 .2 .6-1 .6-.3 .6 24.9 .6-10.7 .6 26.1 .6-11.2 .6-23.6 .6 48 .6-55 .6 12.5 .6 41.5 .6-30.5 .6-26 .6 57 .6-57.7 .6 6.4 .6 41 .6 11.1 .6-57.1 .6 29.3 .6-10.7 .6 6 .6-15.1 .6 46.6 .6-.7 .6-4.5 .6-12.9 .6-34.4 .6 13.6 .6 18 .6-27.3 .6 25.2 .6-16.2 .6 20.4 .6-22.2 .6 33.9 .6-21.8 .6 5.2 .6 24.5 .6-4.2 .6 3.9 .6-50 .6 1.9 .6-4.1 .6 51.9 .6-50.2 .6 39 .6-1.9 .6-34.9 .6 .4 .6 30.9 .6 15.7 .6-26.5 .6-22.3 .6 .3 .6 .4 .6 47.3 .6-4.5 .6-42.9 .6 29.3 .6-28.8 .6 49.9 .6-30.6 .6-11.4 .6 42.5 .6-21.3 .6-9.1 .6 27 .6-14.8 .6 18.3 .6-19.8 .6 4 .6-34.1 .6 7 .6 15.6 .6 15.1 .6-4.5 .6-5.3 .6 7.1 .6-21 .6 36 .6-2.8 .6-20.9 .6-24.5 .6 47.8 .6-23.8 .6-9.6 .6 33.5 .6-8.6 .6 7.7 .6-14.5 .6 14.9 .6-25.1 .6-9 .6 33.7 .6-46.5 .6 28.6 .6-28.2 .6-.1 .6 1.2 .6 25.3 .6 .6 .6 18.3 .6-40.9 .6 32.6 .6-36.5 .6 0 .6 31.9 .6-32.1 .6 24.2 .6 1.6 .6-25.1 .6 13.6 .6-1.5 .6-4.8 .6 22.2 .6 14.7 .6-.1 .6 .4 .6-39.2 .6 21.3 .6-36.4 .6 43.1 .6 11.2 .6-60.1 .6-.8 .6 47.6 .6 7.3 .6 7.1 .6-49.3 .6 39.5 .6 7.4 .6-45 .6 1.1 .6-9.8 .6 21.7 .6 30.1 .6-47 .6 2.6 .6 38.3 .6-48.5 .6 25.7 .6-18.2 .6 12.7 .6-5.3 .6 42.9 .6-1 .6-14.9 .6-13.1 .6 15.2 .6-22.1 .6 6.2 .6 1.6 .6 27.1 .6-9.4 .6-26.6 .6 .2 .6 35.3 .6-14.4 .6-20.1 .6 1 .6 .1 .6 13.1 .6 1.5 .6-9.2 .6-5 .6 33.4 .6-10.2 .6-5.1 .6-.6 .6-13.2 .6 8.8 .6-9.5 .6 27.2 .6-16.3 .6 18.3 .6-10.1 .6 2 .6-26 .6 36 .6-32.1 .6 23.8 .6 8.4 .6-36 .6 13.8 .6-13.8 .6 30.7 .6 3.8 .6 .6 .6-8.2 .6 8.4 .6-1.4 .6 1.1 .6-.4 .6-31.2 .6 32.4 .6-31.4 .6-.3 .6 .5 .6 32 .6-3.6 .6-22.2 .6 16.7 .6-24.6 .6 1.7 .6 17.1 .6-1.8 .6-18.6 .6 7.4 .6 14.1 .6-2.6 .6-17.9 .6 3.8 .6 17.1 .6-9.2 .6 1.5 .6 19.5 .6-6 .6-16.1 .6 22.5 .6-7.4 .6 8.4 .6 .3 .6-13.1 .6-6.3 .6-12.8 .6 15.1 .6-3.1 .6-10.9 .6 20 .6 11.1 .6-27.9 .6 16.2 .6-28.2 .6-1.2 .6 40.5 .6-33.6 .6-5.5 .6 38.2 .6-29.1 .6-13.2 .6-.8 .6 1 .6 6.7 .6 36.6 .6-41.1 .6 41.3 .6-18.7 .6 11.1 .6-36.6 .6 28.6 .6 2.6 .6-30.7 .6 42.4 .6-8.3 .6 4.3 .6-40.9 .6-.2 .6 46.7 .6-28.2 .6-17.6 .6 24.7 .6-25.1 .6 5.3 .6 40.5 .6-29.1 .6 5.9 .6-7.3 .6-3.5 .6-12.9 .6 36.6 .6-36.6 .6 44.5 .6-22.2 .6 20.6 .6-9 .6-33.6 .6 43 .6-38.1 .6 8.3 .6 32.1 .6-22 .6-21.3 .6 31.4 .6 5.3 .6 6.3 .6-43.5 .6-.1 .6 8.4 .6-9.7 .6-.2 .6-.3 .6 33.7 .6-27.1 .6-7.9 .6 48 .6-38.7 .6-1 .6 30.4 .6-6 .6-32.1 .6 49.2 .6-1 .6-17.2 .6-8.2 .6 7.1 .6-33.5 .6 37.7 .6 6.7 .6 .9 .6-.6 .6-41.8 .6 .9 .6 6.7 .6 40.2 .6-.9 .6-32.3 .6 27 .6 6.2 .6-.3 .6-44.6 .6 1.9 .6 27.7 .6 16 .6-45.6 .6 28.7 .6 5.5 .6 8.1 .6-41.5 .6 19.6 .6 22.2 .6-41.3 .6-.2 .6 43.5 .6-18.9 .6-15 .6-6.2 .6 .7 .6 39.1 .6-17.9 .6-22.7 .6 39.8 .6-35 .6 27.8 .6 7.2 .6-39.7 .6 2 .6 38.5 .6-.1 .6-25.9 .6 24.8 .6-8.2 .6 8.4 .6-.9 .6-12.7 .6-35.6 .6-.4 .6 8.8 .6-8.9 .6 37 .6 0 .6-38.7 .6-2.4 .6 32.3 .6-33.7 .6 33.4 .6-35.2 .6-.9 .6 12.4 .6 1.2 .6 3.3 .6 40.8 .6-56.9 .6 57.3 .6-3.2 .6-60.5 .6-.4 .6 55.7 .6-55.7 .6 64.1 .6-9.5 .6-12.9 .6-40.9 .6 .3 .6 63.4 .6-.2 .6-36.5 .6 8 .6 12.1 .6-47.3 .6 .5 .6 55.9 .6-56.3 .6 47.3 .6-32.9 .6-11.1 .6 60.7 .6-34.7 .6-29.3 .6-.5 .6 13.7 .6 48.9 .6-18.1 .6 19 .6-19.7 .6-43.3 .6 63 .6-62.4 .6 4.2 .6 .2 .6 5.2 .6 53.3 .6-.6 .6-33.3 .6-33.1 .6 58.7 .6-23.2 .6 6.4 .6 24.6 .6-34.4 .6 34.9 .6-8.4 .6-3.2 .6 11.3 .6-52.1 .6-10.5 .6 .1 .6 14.9 .6-14 .6 61.6 .6-1 .6-10.5 .6-40.7 .6 50.1 .6 .8 .6 .9 .6-29.1 .6 12.5 .6 17.1 .6-26.4 .6 19.5 .6 9.9 .6-38.8 .6-12 .6-1.3 .6 52.1 .6-33.8 .6-20.8 .6 51.2 .6-8.3 .6-16.7 .6-27.5 .6-.6 .6 55 .6-38.1 .6-15.7 .6 54.8 .6-55.6 .6 55.5 .6-13.7 .6-18.3 .6-26.4 .6 58.8 .7-58.9 .6 58 .6-37.9 .6-21.9 .6-1.3 .6 .4 .6 21.7 .6-16.7 .6 24.9 .6-23.9 .6 12.3 .6 7 .6 25.7 .6-31.6 .6 9.4 .6-10.9 .6 7.3 .6-.9 .6 15.1 .6 19 .6-24.2 .6-48.4 .6 .1 .6 24.9 .6-29.6 .6 78 .6-.5 .6-46.1 .6-33.7 .6 54.7 .6 25.4 .6-87.3 .6 40.8 .6-44.3 .6 93.9 .6-36 .6 22.1 .6-84.8 .6 45 .6-46.4 .6 15.9 .6-18.4 .6 99.6 .6-1.9 .6 1.9 .6-102.8 .6 49 .6-43.9 .6 97.1 .6-29.1 .6-45.3 .6 74.7 .6-87.3 .6 50.6 .6 37.3 .6-84.3 .6 19.3 .6-33.4 .6 30.5 .6-10.7 .6 19.3 .6 5.3 .6 19.5 .6-7.2 .6 6.3 .6-32.3 .6-.6 .6 2.9 .6 30.9 .6-38.8 .6 39.8 .6-69.1 .6 24.5 .6 37.1 .6-3 .6-31.1 .6-28.7 .6 68.8 .6-14.9 .6 14.6 .6 1.2 .6-.1 .6-11.9 .6 11.6 .6-62.1 .6 20.6 .6 42.1 .6-40.7 .6 12.8 .6-23.9 .6 50.4 .6-58.6 .6 60.6 .6-16.7 .6 17.9 .6-32.4 .6 32.7 .6-.9 .6-46.2 .6 15.1 .6 16.8 .6-7.8 .6-36.9 .6 0 .6 51.9 .6 9 .6-44 .6-.9 .6 3.6 .6-20.9 .6 62.9 .6-55.1 .6-9.2 .6 63 .6-20.8 .6 4.3 .6 6.3 .6 3 .6 7 .6-46.8 .6-.3 .6 33 .6-17.6 .6 32.1 .6-61.8 .6 62 .6-51.3 .6-10.5 .6 46.1 .6-9.4 .6-24.7 .6 49.9 .6-47.9 .6-3.9 .6 24.8 .6-6.3 .6 32.9 .6 .3 .6-54.3 .6 8.2 .6-3.6 .6 50.1 .6-51.7 .6-11.9 .6 63.5 .6-34.3 .6 8.3 .6 11 .6-30.2 .6 31.3 .6-8.7 .6-3.8 .6 26.1 .6-54.6 .6-9.1 .6 19 .6 14.7 .6 .9 .6-9.1 .6 40 .6-8 .6 7 .6-52.4 .6 22.2 .6-22.1 .6-16.3 .6 69.4 .6-51.3 .6-2.4 .6 33.3 .6-3.9 .6 23.8 .6 .4 .6 0 .6-46 .6 46.2 .6-56.7 .6 .5 .6 55.4 .6-1.5 .6-.3 .6-73.9 .6 39.2 .6-39.6 .6-.7 .6 57.9 .6-27.8 .6 19.8 .6-22.3 .6 41.5 .6-.4 .6-7.1 .6-63.3 .6 .1 .6 68.8 .6 2.2 .6-5.2 .6-62.2 .6 50.9 .6 8.3 .6-44.1 .6 51.6 .6-27.3 .6 7 .6-14.6 .6-29.2 .6 63.5 .6-64.8 .6 .8 .6 .8 .6 21 .6-21.3 .6 55.2 .6-51.4 .6 6 .6 9.9 .6-19.3 .6 7.2 .6 56.3 .6-24.5 .6 5 .6 21 .6-64.5 .6 18.1 .6 47.6 .6-63.1 .6-2.7 .6 6.8 .6 59.1 .6-52.9 .6 19.4 .6-30.8 .6 .2 .6 51.9 .6 9.6 .6-61.9 .6 20.9 .6 18.8 .6-39.7 .6-.8 .6 65.7 .6 .2 .6-38.7 .6 22 .6-8.5 .6-29.3 .6-7.6 .6 37.5 .6 23.1" class="c"/>
<path d="M957 1640l.1-112.4 .2 38.4 .2 4 .3 11 .2 4 .5 15" class="c"/>
<path d="M1553 1699.1l2-33 2-16.1 2 .5 2-.2 2-.2 2 .7 2 1 2-.4 2-.8 2-.7 2-.4 2-.3 2-.4 2-.7 2-.6 2-.1 2 .2 1 0 0 136.8-1 .1-2 1-2 1.1-2 .3-2 0-2 .4-2-.2-2-.5-2-.8-2-.9-2-.6-2 .1-2 .3-2 1-2 1.7-2 .6-2-.7-2-.5z" fill="#6ABD45" fill-opacity="0.8"/>
<path d="M1553 1693.9l.2 95.8 .3-103.3 .3 105 .2 .6 .2-34.5 .3-39.4 .3 12.5 .2 59.6 .2-133.2 .3 66.4 .3 41.1 .2-65.4 .2 66.2 .3 13.9 .3-134.1 .2 83.1 .2-30.8 .3-24.6 .3 84.7 .2-49.3 .2 33.2 .3 30.3 .3-74.2 .2 1 .2 93.9 .3-73.9 .3 72.6 .2-145.1 .2 124.8 .3-93.9 .3-31.3 .2 118.8 .2-78.5 .3 12.9 .3 41.3 .2 10.8 .2 17.7 .3-79.3 .3 100.4 .2-33.3 .2 33 .3-143.7 .3 128.6 .2-80.7 .2-40.9 .3 20.4 .3 116.5 .2-118 .2 49.9 .3 67.4 .3-113.6 .2 26.8 .2 62.4 .3-.5 .3 25.7 .2-140.5 .2 84 .3-69 .3 125 .2-111.9 .2-31 .3 30.5 .3-8.5 .2 13.8 .2-35.5 .3 119.9 .3-120.6 .2 143.8 .2-129.8 .3-13.6 .3 91.4 .2-34.4 .2 34.9 .3 3.3 .3-87.3 .2 136.6 .2 .8 .3-146.8 .3 146.3 .2-102.1 .2-43.4 .3 145.6 .3-47.1 .2 47.7 .2-134.3 .3 29.5 .3 90.5 .2-9.8 .2-123.3 .3 101.4 .3-99.9 .2 92.9 .2 38.7 .3-72.3 .3 13.1 .2-73.3 .2-.3 .3 47.1 .3 99.1 .2-60.8 .2-12.4 .3-27.5 .3-46.5 .2-.3 .2 55.3 .3 92.4 .3-93.7 .2 74.6 .2 20.3 .3-149.3 .3 1.9 .2 60.6 .2 53.5 .3 1.7 .3 31 .2 .2 .2-6.3 .3-120.9 .3 98.5 .2-32.9 .2-13 .3 28.1 .3 45.4 .2-147.9 .2 134.4 .3-134.9 .3 130.8 .2-130.9 .2 148.1 .3-53.3 .3-94.3 .2 48.9 .2 98.4 .3-30.2 .3 29.9 .2-90.5 .2 90.3 .3-143.6 .3 138.9 .2-141.9" class="c"/>
<path d="M1580 1660l1-39 4-.4 1 39.4" class="c"/>
<path d="M957 1604.4l1.8-11.9 1.8 5.7 1.8 5.1 1.8 5.2 1.8 5.2 1.8 5.1 1.8 5.2 1.8 5.5 1.8 6 1.8 6.1 1.8 5.7 1.8 5.3 1.8 2.4 1.8 2 1.8 1.9 1.8 1.9 1.8 1.5 1.8 1.3 1.8 1.9 1.8 2.1 1.8 2.2 1.8 2.5 1.8 2.1 1.8 .1 1.8 .5 1.8 .7 1.8-.2 1.8-1.9 1.8-1.8 1.8-.3 1.8 .5 1.8 .1 1.8 .7 1.8 1 1.8 .9 1.8 1.1 1.8 1.1 1.8 .7 1.8 .3 1.8 .4 1.8 .9 1.8 1.1 1.8 .6 1.8 .6 1.8 .6 1.8 .2 1.8-.4 1.8-.1 1.8-.3 1.8-.8 1.8 1.3 1.8 2.8 1.8 2.8 1.8 1.8 1.8 1.8 1.8 1.7 1.8 1.3 1.8 1 1.8 1.6 1.8 1.8 1.8 1.6 1.8 1.3 1.8 1.5 1.8 1.4 1.8 1.2 1.8 1.1 1.8 .8 1.8-.4 1.8-.3 1.8 1 1.8 .9 1.8 .9 1.8 1.4 1.8 1.7 1.8 .7 1.8-.8 1.8-1.1 1.8 .1 1.8 .1 1.8 .1 1.8-.4 1.8-.5 1.9 0 1.8 1.5 1.8 3.5 1.8 2.6 1.8 1.6 1.8 2.2 1.8 2.6 1.8 2.4 1.8 2.5 1.8 1.1 1.8 .2 1.8-1 1.8-1.8 1.8-1.4 1.8 .2 1.8 .9 1.8-.2 1.8-.4 1.8 .5 1.8 2.3 1.8 3.7 1.8 2.9 1.8 .6 1.8-.2 1.8 1.2 1.8 1.8 1.8 1.5 1.8 1.3 1.8 1.7 1.8 .7 1.8 .5 1.8 1.1 1.8 1 1.8 .4 1.8 .5 1.8 1.1 1.8 1.5 1.8 1.1 1.8 0 1.8-.4 1.8 .4 1.8 1.7 1.8 1.7 1.8 .2 1.8-.7 1.8 .3 1.8 1.6 1.8 1.8 1.8 1.3 1.8 1.6 1.8 1 1.8-.3 1.8-1.3 1.8-.9 1.8-.5 1.8-1.5 1.8-.6 1.8 .7 1.8 .9 1.8-.8 1.8-1.8 1.8-1.4 1.8-.2 1.8 .3 1.8 .6 1.8 1.4 1.8 1.4 1.8 1.4 1.8 1.5 1.8 1.2 1.8 .6 1.8 .3 1.8 1 1.8 2.7 1.8 2.9 1.8 1.7 1.8 .9 1.8 .3 1.8-.1 1.8-.6 1.8-.6 1.8-1.3 1.8-1.4 1.8-.9 1.8-.6 1.8-.3 1.8-.2 1.8-.2 1.8 .4 1.8 .9 1.8 .7 1.8 .4 1.8 .5 1.8 .6 1.8 .9 1.8 1.1 1.8 .5 1.8-1 1.8-1.2 1.8 .2 1.8 1.4 1.8 .6 1.8-.5 1.8-.2 1.8-.1 1.8-.7 1.8-.7 1.8 0 1.8 0 1.8-.1 1.8-2.1 1.8-2.2 1.8-1.4 1.8-.9 1.8-1 1.8-1.5 1.8-1.9 1.8-1.8 1.8-1.3 1.8-.8 1.8-.6 1.8 .5 1.8 .2 1.8-1.3 1.8-2.4 1.8-1.8 1.8-.5 1.8 .2 1.8-.4 1.8-.5 1.8-.4 1.8-.8 1.8-1.4 1.8-1.2 1.8-.5 1.8-.5 1.8-1.3 1.8-1.7 1.8-1.6 1.8-1.4 1.8-1.4 1.8-1.5 1.8-1.6 1.8-1.7 1.8-1.5 1.8-1.4 1.8-1.2 1.8-1.7 1.8-2.4 1.8-2 1.8-.2 1.8 3.9 1.8 3.5 1.8 1.5 1.8 1.5 1.8 2.5 1.8-1.4 1.8-1.3 1.8-.8 1.8-.5 1.8-.4 1.8 .5 1.8 .4 1.8-.7 1.8-.7 1.8-.8 1.9-.9 1.8-.9 1.8-1.1 1.8-2.7 1.8-2.8 1.8-1.3 1.8-.7 1.8-1 1.8-.8 1.8-.4 1.8-1.1 1.8-2.6 1.8-2.6 1.8-1.3 1.8-.7 1.8-.8 1.8-1.1 1.8-1.1 1.8-1.4 1.8-2 1.8-1.8 1.8-1.2 1.8-.7 1.8-.5 1.8-.2 1.8 0 1.8-.5 1.8-1.4 1.8-2 1.8-1.4 1.8-.3 1.8-1 1.8-2.3 1.8-2.3 1.8-1.2 1.8-.8 1.8 .6 1.8 1.3 1.8 1.8 1.8 1.1 1.8 .2 1.8-.1 1.8 0 1.8 .6 1.8 .6 1.8 .1 1.8-.6 1.8-.3 1.8 .3 1.8 .5 1.8 0 1.8-1 1.8-.9 1.8 0 1.8 1 1.8 .5 1.8-1.2 1.8-1.5 1.8-1.4 1.8-.7 1.8-.7 1.8-1.3 1.8-1.7 1.8-1.5 1.8 0 1.8 0 1.8 0 1.8 .4 1.8 .4 1.8 .2 1.8-.1 1.8 .4 1.8 1.1 1.8 1.3 1.8 .9 1.8 .3 1.8 0 1.8 .1 1.8 .7 1.8 .9 1.8 1 1.8 1.1 1.8 1.3 0 29.4-1.8-1.1-1.8-1.4-1.8-1.3-1.8-.8-1.8-.5-1.8 .1-1.8 1.2-1.8 1.1-1.8-.2-1.8-.9-1.8-.5-1.8-.4-1.8-.4-1.8 .1-1.8 1.4-1.8 1.5-1.8 0-1.8-.6-1.8-.2-1.8 1-1.8 .5-1.8 1.1-1.8 1-1.8 1-1.8 2.1-1.8 3.6-1.8 2.9-1.8-1-1.8-1.7-1.8-.4-1.8 .1-1.8 .2-1.8 .8-1.8 1.8-1.8 1.2-1.8-.3-1.8-.8-1.8-.7-1.8-.9-1.8-1-1.8-1.3-1.8-2-1.8-1.1-1.8 .3-1.8 .7-1.8 0-1.8-.3-1.8 .4-1.8 1-1.8 1.8-1.8 1.6-1.8 .7-1.8 .5-1.8 .7-1.8 .4-1.8 .1-1.8 .6-1.8 .9-1.8 .8-1.8-.2-1.8-.6-1.8 .6-1.8 .8-1.8 1.2-1.8 1.9-1.8 2-1.8 1.6-1.8 .5-1.8 .1-1.8 .6-1.8 2-1.8 2.1-1.8 1-1.8 1-1.8 1.3-1.8 2-1.8 2.3-1.8 1.7-1.8 .9-1.8 .6-1.8 1.1-1.8 1-1.9 1-1.8 .6-1.8 .5-1.8 1-1.8 .8-1.8 .7-1.8 1.3-1.8 1.8-1.8 1.6-1.8 1.8-1.8 2.2-1.8-.5-1.8-.6-1.8-.6-1.8-1.4-1.8-1.8-1.8 .1-1.8 .6-1.8 .5-1.8 .6-1.8 .6-1.8 .6-1.8 1.3-1.8 2.6-1.8 1.9-1.8 .8-1.8 .7-1.8 .8-1.8 1.1-1.8 1.1-1.8 .4-1.8 .2-1.8 .9-1.8 .7-1.8 .1-1.8 .8-1.8 1.9-1.8 2-1.8 1.6-1.8 1.3-1.8 1-1.8 1.2-1.8 1.5-1.8 .8-1.8-.3-1.8-.7-1.8-.5-1.8-1.1-1.8-.9-1.8 0-1.8 .6-1.8 .6-1.8 2-1.8 2.1-1.8 .4-1.8-1.1-1.8-.7-1.8 .7-1.8 1.1-1.8-.4-1.8-1.8-1.8-1.6-1.8-.4-1.8 0-1.8 .3-1.8 1-1.8 1.4-1.8 .5-1.8-.2-1.8-.5-1.8 0-1.8 .6-1.8 .3-1.8-1.1-1.8-1.5-1.8-.5-1.8 .4-1.8 .3-1.8 .3-1.8 .5-1.8 .3-1.8-.7-1.8-1.2-1.8-.3-1.8 .5-1.8 .5-1.8 0-1.8-.3-1.8-.1-1.8 0-1.8-.2-1.8-.1-1.8-.1-1.8-.2-1.8-.2-1.8 .9-1.8 .2-1.8-1.9-1.8-2.3-1.8-.7-1.8 .4-1.8 .5-1.8 .7-1.8 .6-1.8 .4-1.8 1.2-1.8 1.7-1.8 .8-1.8 .5-1.8 .6-1.8 .1-1.8-.9-1.8-1.1-1.8-.3-1.8-.1-1.8-.4-1.8-1.1-1.8-1.2-1.8-.9-1.8-.8-1.8-.9-1.8 0-1.8 .8-1.8-.1-1.8-1.3-1.8-1.2-1.8-.4-1.8-.1-1.8-.3-1.8-1.2-1.8-1.5-1.8-1.4-1.8-1.9-1.8-1.7-1.8-.5-1.8 1.1-1.8 .4-1.8-1.3-1.8-2.1-1.8-1.1-1.8 .2-1.8 .1-1.8-.9-1.8-1.1-1.8-1.1-1.8-1.9-1.8-2.5-1.8-1.4-1.8-1-1.8-.7-1.8 .3-1.8 1.3-1.8 .6-1.8-.6-1.8-.7-1.8-.7-1.8-.6-1.8-.9-1.8-1.4-1.8-2-1.8-1.5-1.8-1.2-1.8-1.3-1.8-1.1-1.8-.8-1.8-.6-1.9-.8-1.8-.8-1.8-.8-1.8-1.3-1.8-1.7-1.8-1.1-1.8-.9-1.8-1.3-1.8-1.3-1.8-.7-1.8-.8-1.8-.8-1.8-.4-1.8-.3-1.8-.2-1.8-.2-1.8-.8-1.8-1.1-1.8-1.3-1.8-1.7-1.8-1.8-1.8-1.4-1.8-.9-1.8-.9-1.8-1.7-1.8-2.3-1.8-2-1.8-1.1-1.8-.8-1.8-1.2-1.8-1.4-1.8-1.4-1.8-1.2-1.8-.7-1.8-.8-1.8-.9-1.8-.7-1.8-.7-1.8-1.5-1.8-1.6-1.8-.6-1.8 .2-1.8-.3-1.8-.8-1.8-.5-1.8-.8-1.8-1.8-1.8-1.3-1.8 .3-1.8 1.4-1.8 1-1.8-.4-1.8-1.2-1.8-.9-1.8-.7-1.8-.7-1.8-.8-1.8-.2-1.8-.2-1.8-.8-1.8-1.4-1.8-1.1-1.8-1.7-1.8-1.8-1.8-.9-1.8-.5-1.8-.8-1.8-.7-1.8-.2-1.8-1-1.8-2.2-1.8-3.6-1.8-2.9-1.8-2.5-1.8-2.8-1.8-3.8-1.8-3.9-1.8-3.4-1.8-6-1.8-6.2-1.8-5.4-1.8-4.6-1.8 11.8z" fill="#3953A4"/>
<path d="M957 1622.2l.6-5.6 .6 26 .6-46.5 .6 18.8 .6 27.3 .6-40.3 .6 2 .6 27.8 .6-9 .6-13.6 .6 44.2 .6-41.1 .6 5.6 .6 5 .6 8.3 .6-9.6 .6 35.5 .6-34.2 .6 34.1 .6-30.2 .6 34.1 .6 9.2 .6-38.3 .6 31.1 .6-27.4 .6 15.4 .6 24.7 .6-7.2 .6-7.8 .6-.3 .6 7.5 .6-5.2 .6-11.2 .6 30.2 .6-12.3 .6 15.6 .6-.6 .6-23.8 .6 25.7 .6-26.4 .6 27.3 .6-25.7 .6 5.4 .6 20.7 .6-2.6 .6-21.1 .6 23 .6-20.5 .6 22.4 .6-22.4 .6 .2 .6 4.3 .6-3.7 .6 4.2 .6 15.5 .6 .5 .6 3.6 .6-21.1 .6 1.4 .6 .5 .6 21.5 .6-2.8 .6-13.3 .6-1.8 .6 2.6 .6-1.2 .6 .9 .6 11.5 .6 7.8 .6-2.6 .6-11.9 .6 7.7 .6-11.6 .6 .6 .6 3 .6-2.5 .6-.4 .6 18.4 .6-11.2 .6-6.4 .6 0 .6 12.1 .6 7.6 .6-4.2 .6-19 .6 21.6 .6 1.8 .6-23 .6 21.1 .6-22.2 .6 15 .6 1.6 .6-15.8 .6 26.3 .6-27 .6 26.1 .6-7 .6-18.7 .6 8.1 .6 0 .6-7.1 .6 19.8 .6-6.2 .6-2.8 .6 1.5 .6-10 .6 21.4 .6-11.2 .6-9.4 .6 .2 .6 14.9 .6 8.2 .6-3.5 .6 3.1 .6-2 .6-11.2 .6-1.5 .6-6 .6 14.4 .6-14.4 .6 11.6 .6 4.9 .6 2.3 .6-4.3 .6-12.8 .6 21.3 .6 .1 .6-15.2 .6 14.9 .6 .5 .6-15.2 .6-5.2 .6 21.6 .6-21.2 .6 10.6 .6 12.6 .6-22.6 .6 21.2 .6-21.9 .6 23.6 .6 .8 .6-9.7 .6 9.9 .6-24.8 .6 17.3 .6-17.4 .6 26.9 .6-.1 .6-11.9 .6 9.9 .6-24.9 .6 27.9 .6-27.1 .6 28.6 .6-11.7 .6-14.7 .6 1.3 .6 20.7 .6 6.5 .6-.2 .6-24.1 .6 25.1 .6-21.9 .6 18.6 .6-1.8 .6-16.7 .6 15.9 .6-4.3 .6-5.4 .6 1.7 .6 2.8 .6 5.2 .6 4.1 .6 4.6 .6-20.7 .6 13 .6 5.8 .6 8.1 .6-.5 .6-23.6 .6 23.8 .6-22.3 .6 0 .6 18.8 .6-.7 .6 1.5 .6 5.2 .6-21.9 .6 .5 .6 21.4 .6-20.5 .6 22.6 .6-15.6 .6-5.8 .6 .5 .6 6 .6 4.9 .6-7.3 .6 15.1 .6-3.4 .6-6.4 .6 10.4 .6 7 .6-18.7 .6 18.8 .6-2.5 .6-23.1 .6 25.6 .6-14.8 .6-5.5 .6-2.3 .6 8.2 .6 14.8 .6 .2 .6-15.3 .6 4 .6 12.1 .6-23.6 .6 14.5 .6 9.8 .6-15.7 .6 6.5 .6-12.1 .6 7.7 .6 12.5 .6 3.4 .6-23.3 .6-.6 .6 25 .6-.1 .6-1.8 .6-14.7 .6 17.3 .6-15.6 .6 17.1 .6-11.5 .6 2.7 .6-14.4 .6 25.9 .6-30.9 .6-.1 .6 23.9 .6 7.5 .6-1 .6-4.9 .6-26.8 .6 .9 .6-.9 .7 34.3 .6-1.7 .6-30.7 .6 .6 .6 33.1 .6-31.1 .6 1.8 .6 .1 .6 16.3 .6-15.1 .6 .9 .6 29.4 .6-25.3 .6 4.4 .6 6.4 .6 2.2 .6-9.8 .6 6.3 .6-7.4 .6 10 .6 2.8 .6 11.7 .6-12.9 .6 6.8 .6 1 .6-10.8 .6 21.6 .6 .7 .6-1.3 .6-17.5 .6-6.5 .6 19.1 .6-19.6 .6-.5 .6 8.6 .6 19.7 .6-.9 .6-27.2 .6 28.8 .6-27.8 .6-.3 .6 27.3 .6-16.4 .6 2.8 .6-7.1 .6-8.3 .6 2.8 .6 23.2 .6-27.6 .6 .2 .6 27.5 .6-14.8 .6-8.7 .6 25.6 .6-29.8 .6 17.5 .6 13.2 .6-21.4 .6 4.1 .6-7.8 .6 29.3 .6-.1 .6-1.5 .6-5.2 .6 8.7 .6-26.8 .6 13.3 .6 12.4 .6-20.3 .6 23.5 .6-.3 .6-9.8 .6-17.8 .6 6.7 .6 21.9 .6-13.8 .6 13.5 .6-1 .6-11.5 .6 12.8 .6-20.5 .6-3.3 .6 16.1 .6 9.2 .6-24.2 .6 1.5 .6-.9 .6 .3 .6-.2 .6 22.4 .6 .6 .6-21.6 .6 13.5 .6 9.6 .6-21.6 .6 22 .6-2.3 .6 3.2 .6 .1 .6-11.9 .6 3.4 .6-8.4 .6 19.7 .6-3.8 .6 3.1 .6-9.1 .6 11.9 .6-5.4 .6 .4 .6-18.6 .6 .1 .6 .5 .6 .4 .6-.4 .6 24.1 .6-2.3 .6-14.5 .6 18.6 .6-18.5 .6 14.6 .6-1.4 .6-20.7 .6 25.7 .6-12.7 .6 9.8 .6-4.2 .6 10 .6-12 .6-10 .6 9.1 .6-11.2 .6 .5 .6-1.6 .6-.4 .6 .1 .6 3.8 .6 10.6 .6 11.2 .6-3.2 .6-7.8 .6-11.7 .6 21.9 .6 0 .6 2.5 .6-21.3 .6 16.8 .6-9.3 .6 12.7 .6 2.7 .6-8.7 .6-2 .6 11.7 .6-18.5 .6 3 .6 15.6 .6-10.5 .6-9.8 .6 20.1 .6 .8 .6-14.4 .6 14.5 .6-25.9 .6-.1 .6 4.3 .6-6 .6 27.3 .6-27.8 .6 22.1 .6 .9 .6-6.3 .6-16.3 .6 26.2 .6-25.6 .6 .3 .6 0 .6 27.5 .6-4.1 .6-5.5 .6-4.7 .6-1.4 .6 9 .6-24 .6 .4 .6 16.8 .6 9 .6 .1 .6-23.7 .6-3.6 .6 5.2 .6-5.2 .6 .8 .6 25.7 .6-26 .6 26 .6-24.3 .6 10.4 .6-10.1 .6 .1 .6 3 .6 12.4 .6-8.2 .6 15.8 .6-7.4 .6 9.6 .6 .8 .6-11.7 .6 5.5 .6-9.4 .6 10.1 .6-7.5 .6-7.7 .6 .6 .6 .7 .6 19.7 .6-19.2 .6-.8 .6 .5 .6 1.6 .6 18.8 .6-17.6 .6 3.5 .6 5.8 .6 7.8 .6-1.9 .6 .3 .6-10.9 .6 13.2 .6-.9 .6-8.1 .6 6.9 .6 1.6 .6-1.1 .6 1.7 .6-11.4 .6 10.7 .6-11.8 .6 .2 .6 6.7 .6-7.2 .6 12.8 .6-12.8 .6 6.6 .6 6.1 .6-14.1 .6 4.6 .6 8.6 .6-14.6 .6-.9 .6 15.7 .6-16.1 .6 16.5 .6-5.3 .6-6.4 .6 5.1 .6 8.3 .6-.7 .6-13.2 .6 12 .6-13.9 .6 7.5 .6 7.5 .6-11.9 .6 11.7 .6-10.7 .6 10.4 .6 0 .6-10.3 .6-1.9 .6 2.7 .6 4.3 .6-10.3 .6 11.1 .6-10.9 .6-.9 .6 .9 .6 16.1 .6 .2 .6-16.2 .6 7.2 .6 6.3 .6-5.8 .6-6.2 .6 16 .6 0 .6-1 .6-12.1 .6 1 .6-2.2 .6 14.2 .6-13.5 .6 13.2 .6-3.2 .6 3.8 .6-15.8 .6 4.9 .6 4.6 .6-.1 .6-8.2 .6 12.7 .6-14.2 .6 5.8 .6 7.2 .6-12 .6 11.9 .6-9.1 .6 5.4 .6 .7 .6-.3 .6 3.6 .6-11.8 .6 4.7 .6 3.8 .6-9.3 .6 11.9 .6-6.4 .6-6.5 .6-.4 .6 17.3 .6-16.6 .6 16.8 .6-.8 .6 1.6 .6-1.2 .6-14.5 .6-2.1 .6 16.1 .6-15.6 .6 4 .6-5.2 .6 16.7 .6-1.8 .6-17.6 .6 7.3 .6-9 .6-.3 .6 11.3 .6 .1 .6-7.3 .6 17 .6-22.7 .6 11 .6 4.2 .6 4.1 .6-.4 .6-1 .6 1.3 .6-21 .6-1.7 .6-1.1 .6-.9 .6 14.6 .6-15.7 .6 13.3 .6 12.4 .6-19 .6 6.5 .6-3.7 .6-11 .6 16.4 .6 12 .6 .1 .6-29.6 .6 .3 .6 30.3 .6-26.8 .6-1.6 .6 3.8 .6 20.5 .6-3.9 .6-22.6 .6 15 .6-16.8 .6 30.3 .6-32 .6-.8 .6 32.4 .6-12.7 .6-20.9 .6 .9 .6-.5 .6 31.6 .6-7.9 .6-16.9 .6-6.9 .6-.1 .6 3.8 .6-1.2 .6-2.6 .6 15.4 .6-3.1 .6-13 .6-.4 .6-.1 .6 25.8 .6-5.3 .6-15.1 .6-6.7 .6 19 .6-20.6 .6 16.3 .6 10.6 .6-27.1 .6 24.9 .6-11.7 .6-2.4 .6-11.5 .6 11.8 .6-12.9 .6 2.1 .6 .2 .6 22.9 .6 2.2 .6-.7 .6-24.8 .6-6.1 .6-.2 .6 .6 .6 2.9 .6 7 .6-9.7 .6 28.6 .6-32.6 .6 32 .6-32.1 .6 23.8 .6-6.4 .6 11.5 .6-32 .6 23.8 .6-24.8 .6-.7 .6 23.9 .6 3.3 .6 1.3 .6-2.3 .6-11.8 .6-17 .6 31.9 .6-20.9 .6 20.9 .6-33 .6 32.5 .6-23.7 .6 7.6 .6-15.9 .6 31.3 .6-19.7 .6-12 .6 30.9 .6-21.6 .6 18.5 .6-5.5 .6-13.5 .6-1.5 .6 18.6 .6 8.3 .6-7.1 .6 7.6 .6 .5 .6-31.7 .6 28.1 .6-25.8 .6-1.2 .6 27.7 .6-1.4 .6 4.7 .6-1 .6-28.5 .6 27.3 .6-27.8 .6-.8 .6 .6 .6-.6 .6 21 .6 4.7 .6-27 .6 3.7 .6 21.8 .6-13.2 .6 2.2 .6 3.5 .6-3 .6-14.8 .6 3.9 .6-.6 .6 4.5 .6-7.3 .6 21 .6-16.6 .6 5.4 .6 4.4 .6 6.4 .6-10.1 .6-12.8 .6 0 .6 22.1 .7-18.7 .6-4.7 .6 7.3 .6-.5 .6 10.5 .6-15.1 .6-.4 .6-3.8 .6 0 .6 9.6 .6 11.4 .6 .1 .6-.1 .6-22.5 .6 16.2 .6 5.4 .6-3.7 .6-23.2 .6 14.6 .6 9.2 .6-.3 .6-18.6 .6-6 .6 4.8 .6 17.5 .6-23.9 .6 22.9 .6-.4 .6-1 .6-18.4 .6 .4 .6 10.6 .6-10.1 .6 16.1 .6-23.5 .6 22 .6-22.5 .6 20.7 .6-16.9 .6 16.5 .6-1.6 .6-.5 .6 1.9 .6-.4 .6-.6 .6-24.1 .6 24.7 .6-.7 .6-5.4 .6 1.6 .6-13.1 .6-4.3 .6-5.4 .6 .4 .6 16.8 .6-18.5 .6 19.6 .6 2.6 .6-4.4 .6-1.9 .6 1.4 .6-17.1 .6 8.2 .6-2.3 .6 10.3 .6 3.6 .6-24.9 .6 21.9 .6-18.7 .6 6.8 .6 3.2 .6 10.2 .6 1.9 .6-.7 .6 .9 .6-.9 .6-25.2 .6 24.1 .6-17.2 .6-8.1 .6 0 .6-1.2 .6 .2 .6 22.5 .6 2.5 .6-12.3 .6-15.9 .6 28.1 .6-3.8 .6-24.9 .6 .2 .6 7.3 .6-7.9 .6 14.1 .6 14.5 .6-19.1 .6-11.6 .6 28.9 .6-6.4 .6-24.5 .6 16.5 .6-5.5 .6-12.7 .6 19 .6-7.3 .6-7.3 .6 25.1 .6 .1 .6-13.1 .6 0 .6-15.2 .6 28.4 .6-.3 .6 .1 .6-28.9 .6 0 .6 .6 .6 1.2 .6 25.9 .6-20.4 .6 20.9 .6-18.8 .6 15.4 .6 .6 .6-2.9 .6-20.6 .6 .9 .6 8.4 .6 20.6 .6-12.1 .6-14.4 .6 14 .6 14.4 .6-22.4 .6-6 .6 29.2 .6 .3 .6-2.4 .6-29.4 .6 29.7 .6-28.7 .6 25.2 .6 6.5 .6-32.5 .6 24.4 .6-25.3 .6 18.3 .6-9.1 .6 22 .6-30.5 .6 .1 .6 .8 .6-.9 .6 13 .6-1.7 .6-10.8 .6 28.7 .6-14.6 .6-15.7 .6 11.4 .6-.6 .6 12.8 .6-4.8 .6 12.2 .6-30 .6 22.2 .6-10.8 .6 19.9 .6-9.1 .6-22.8 .6 3.6 .6-5 .6 .1 .6 13.6 .6 7.8 .6-17.9 .6 22 .6-.9 .6-20.4 .6-5.9 .6 26.1 .6-21.4 .6 20.5 .6-.5 .6-1.1 .6-10.2 .6-13.9 .6 2 .6 8 .6 13.3 .6-24.2 .6-5.3 .6 .6 .6 14.6 .6-8 .6 5.1 .6-12.4 .6 29.4 .6-28.7 .6 29 .6-28.8 .6 28.2 .6-12.2 .6-16.4 .6 17.7 .6 3.5 .6-20.3 .6 16.9 .6-15.3 .6-.8 .6-.9 .6 14.4 .6 12.1 .6 .1 .6-26.1 .6 26.4 .6-25.8 .6 25.4 .6-1.3 .6-6.5 .6-1.7 .6 3.9 .6 5 .6-22.5 .6 11.8 .6 12.9 .6-20.1 .6-2.3 .6-1.5 .6 14.5 .6 6.9 .6 0 .6-14.4 .6-5.6 .6 13.1 .6-7.7 .6 9.4 .6-14.7 .6 16.4 .6-9.2 .6 14.7 .6-10 .6-10.4 .6 0 .6 22.4 .6 .6 .6-21.5 .6 .5 .6 14.1" class="d"/>
<path d="M1548 1707.5l.3 7.4 .3 54.3 .3-61.5 .3 7.9 .4 0 .3-7.4 .3 39.7 .3 8.1 .3-12.4 .3 39 .3-36.4 .4 22.2 .3-31.3 .3 16.1 .3-44.3 .3 10.2" class="d"/>
<path d="M1544.7 1769.9l1.8-.4 1.8-.4 1.8 .2 1.8 .4 1.8 .3 1.9 .5 1.8 1 1.8 .5 1.8-1.1 1.8-1.6 1.2-.5 0 20.1-1.2-.1-1.8-.5-1.8-.2-1.8 .3-1.8 .4-1.9-.1-1.8-.9-1.8-.9-1.8 .1-1.8 .8-1.8 .5z" fill="#3953A4"/>
<path d="M1544.7 1769.7l.3 .3 .3 1.2 .3 13.3 .3-13.2 .3-1.4 .3 18.2 .3-.7 .3-14.5 .3 10.1 .3-7.1 .3-6.9 .3 0 .3 17.5 .3-17.1 .3 12.2 .3-12.7 .3 1.4 .3 17.3 .3-1.4 .3-3.1 .3-13.1 .3 13.6 .3-14.2 .3-.3 .3 2.2 .3 17.1 .3-16.6 .3 16.6 .3-19 .3 1 .3 18.6 .4-.6 .3-6.9 .3-6.6 .3-3.3 .3 4 .3 13.4 .3-18.2 .3-.6 .3 .3 .3 9.6 .3 5.1 .3-13.2 .3 16.6 .3-5 .3-8.9 .3 4.1 .3 9.1 .3-1.5 .3 1.4 .3 .6 .3 .6 .3-4.6 .3-4.3 .3-2.5 .3-.6 .3 3.6 .3-5.3 .3-5.7 .3-.6 .3 .4 .3 11.4 .3 1.9 .3-14.7" class="d"/>
<path d="M1555 1737.7l1.8-.8 1.8-1.2 1.8-.2 1.8 1.5 1.8 1.5 1.8 .1 1.8-.3 1.8 0 1.8-.3 1.8-.7 0 23.6-1.8 .6-1.8 .2-1.8-.5-1.8-.4-1.8-.2-1.8-1-1.8-1-1.8-.4-1.8-.4-1.8-.1z" fill="#3953A4"/>
<path d="M1555 1753l.3 3.6 .3-18 .3-1.9 .3 7.9 .3-6.4 .3 13.2 .3-15.4 .3 6.9 .3-.4 .3 4.7 .3-10.8 .3 21.4 .3-22.9 .3 23.8 .3-23.9 .3 12.4 .3-9.5 .3-2.7 .3 5.8 .3-3.5 .3 5.7 .3 16.9 .3 0 .3-7.8 .3-4 .3-10.5 .3 23 .3-23.2 .3 5.7 .3-5.3 .3 12.8 .3 5.6 .3-10.1 .3 15.3 .3-13.9 .3 0 .3 10.7 .3-8.7 .3 6.7 .3-5.7 .3-12.8 .3 17.3 .3-11 .3-6.4 .3 13.8 .3 10.2 .3-13.4 .3 4 .3-9.3 .3-4.2 .3 23.4 .3-21.6 .3-2.7 .3 17 .3-6 .3 12.6 .3-.2 .3-23.4 .3 0 .3 15.7" class="d"/>
<path d="M1566 1766.8l.6-15.2-.1-9.7 .1-15.8-.6-10.5 .9-13-.1-11.7 .5-8.4-.4-11.9-.2-13.3 1-16.1-.1-9.8 .4-14.2-.3-8.2 .3-15.6-.5-8.4 .6-11.8-.2-13.3 .8-11.5-.7-15.5 .2-9.9 .4-10.9 .1-13.3 .7-15.4" class="d"/>
<path d="M1567 1450.7l2-17.6 2-8.5 2 .2 2 .3 2 2.6 2 5.1 2 4.8 0 37.5-2-.3-2-.4-2 .1-2 0-2 .3-2 .6-2 .3z" fill="#3953A4"/>
<path d="M1567 1457l.2 20.8 .2-.2 .1 .3 .2-.3 .2-27 .2 19 .2 8 .2-40.8 .1 40.7 .2-45.6 .2 45.7 .2-47.7 .2 36.9 .1 6.6 .2-26.8 .2-23.7 .2 46.1 .2-43.3 .2-3.5 .1 55.1 .2-25.8 .2 25.9 .2-23 .2-1.1 .1 11.2 .2-27.1 .2 .7 .2 39.2 .2-2.6 .2-52.5 .1 54.7 .2 0 .2-45.8 .2-8.2 .2 .1 .1 .3 .2-.6 .2 44.7 .2-6.4 .2-28.5 .2 41 .1-50.5 .2 47.3 .2-32.9 .2 2.6 .2 36.2 .1 .7 .2-19.7 .2 8.7 .2-20.6 .2-20.6 .2-.3 .1 52.3 .2-51.4 .2 32.3 .2 18.6 .2-33.7 .1 33.4 .2-21.3 .2-5.4 .2 28 .2-48.8 .2 14.6 .1 14.3 .2-16.8 .2-10.4 .2 22.7 .2-21.5 .1 46.3 .2-37.3 .2 4.2 .2-7.2 .2-3.3 .2 18.2 .1-8.2 .2 4.4 .2-9.4" class="d"/>
<path d="M1576.1 1487.7l0 8.7-.1 14.7 .1 11.1 .4 11.9-.3 12.9 .9 10.1-.4 15.8 .3 8.3-.4 15.1 .4 10.5 .1 13.2 .6 10.3-.6 16.2 1 6.4-.2 16.2-.1 12.5 .7 11.3-.4 9.9-.1 11.9 0 12.6 .9 14.1 0 14.5 .2 7 .2 12.5 0 16.6" class="d"/>
<path d="M1581.7 1789.4l-.6-16.1 .7-13.2-.1-14.1-.3-14 .7-13-.3-14.2 .3-14-.1-11.5 .4-18.6-.4-14.5 .1-15.1 .5-11-.2-12.2-.1-16.1 .7-14.3-.2-15.3 .4-11.9-.6-16.6 .3-13.2 .1-16.2 .1-11.1 .2-1.5-.3 15.5 .2 15-.5 13.9 1.1 18.5-.4 14.7-.2 12.3 .4 17.7-.4 13.8 .9 16 .2 12.1 0 19.6-.8 13.3 .8 13.3 0 18.9 .2 12.6-.7 15.9 .2 15.1 .2 14 .3 18" class="d"/>
<path d="M1574 1762.3l1.8-.1 1.9 0 1.8 0 1.8 .2 1.8 .3 1.9-.1 1.8-.3 1.2-.2 0 27.2-1.2 .3-1.8 .3-1.9-.1-1.8-.8-1.8-.9-1.8-.6-1.9-.8-1.8-.5z" fill="#3953A4"/>
<path d="M1574 1780.2l.3-9.8 .3 15.7 .3-6.1 .3-18.5 .3 7.9 .3 17.1 .3-19.2 .3-5.7 .3 .7 .3 24.6 .3-24.9 .4 .4 .3 25.8 .3-3.1 .3-23.5 .3 11.3 .3-10.4 .3 10.7 .3-11.7 .3 21.4 .3-2.2 .3 8.5 .3-5.3 .3-7.7 .3 12.8 .3-19.5 .3 15.5 .3-15.9 .3 8.3 .3 13.1 .3-8.3 .3-15.5 .3-3.8 .3 27 .4 .6 .3-23.7 .3-3.9 .3 27.3 .3-22.5 .3 .6 .3 14.9 .3-21.3 .3 13.7 .3-12.3 .3-.9 .3 13.9" class="d"/>
<g font-family='"Liberation Sans", Arial, Helvetica, sans-serif' font-size="35.3" fill="#414042">
<text x="957" y="1837.7" text-anchor="middle">0</text>
<text x="1155.5" y="1837.7" text-anchor="middle">2000</text>
<text x="1354" y="1837.7" text-anchor="middle">4000</text>
<text x="1552" y="1837.7" text-anchor="middle">6000</text>
<text x="945.0" y="1357.8" text-anchor="end">1.5</text>
<text x="945.0" y="1506.8" text-anchor="end">1</text>
<text x="945.0" y="1655.8" text-anchor="end">0.5</text>
<text x="945.0" y="1804.8" text-anchor="end">0</text>
</g>
<text x="1270.5" y="1327.7" text-anchor="middle" font-family='"Liberation Sans", Arial, Helvetica, sans-serif' font-size="38.9" fill="#231F20">Bearing3-3(IMS)</text>
<text x="1270" y="1886.8" text-anchor="middle" font-family='"Liberation Sans", Arial, Helvetica, sans-serif' font-size="38.9" fill="#414042">t(10min)</text>
<text transform="translate(879.2 1568.0) rotate(-90)" text-anchor="middle" font-family='"Liberation Sans", Arial, Helvetica, sans-serif' font-size="38.9" fill="#414042">ERR</text>
<text x="1277.8" y="1936.9" text-anchor="middle" font-family='"Liberation Serif", "Times New Roman", serif' font-size="43.3" fill="#231F20">(f)</text>
<rect x="1275.9" y="1358.7" width="276.6" height="126.6" fill="#fff" stroke="#4d4d4f" stroke-width="1.1"/>
<path d="M1282.1 1381.2H1340.6" stroke="#B9529F" stroke-width="0.65" fill="none"/>
<use href="#ast" x="1311.35" y="1381.2" stroke="#B9529F"/>
<text x="1343.7" y="1390.6" font-family='"Liberation Sans", Arial, Helvetica, sans-serif' font-size="32.4" fill="#231F20">IBA-FELM</text>
<path d="M1282.1 1421.9H1340.6" stroke="#6ABD45" stroke-width="0.65" fill="none"/>
<use href="#circ" x="1311.35" y="1421.9" stroke="#6ABD45"/>
<text x="1343.7" y="1434.3" font-family='"Liberation Sans", Arial, Helvetica, sans-serif' font-size="32" fill="#231F20">BA-FELM</text>
<path d="M1282.1 1462.8H1340.6" stroke="#3953A4" stroke-width="0.65" fill="none"/>
<use href="#dia" x="1311.35" y="1462.8" stroke="#3953A4"/>
<text x="1343.7" y="1474.6" font-family='"Liberation Sans", Arial, Helvetica, sans-serif' font-size="32" fill="#231F20">FELM</text>
</g>
</svg></body></html>
